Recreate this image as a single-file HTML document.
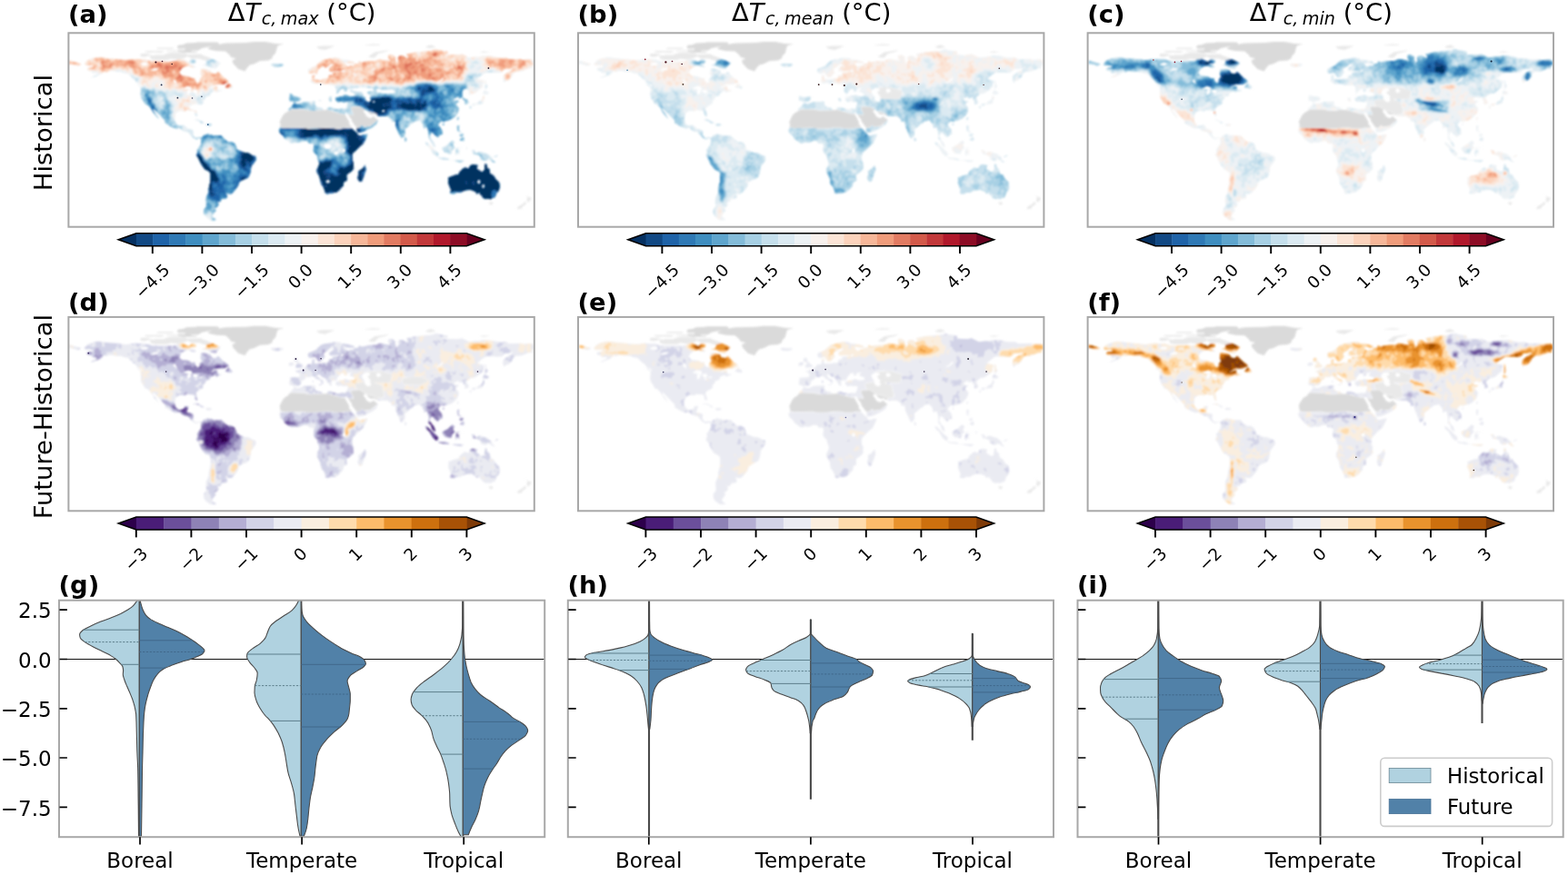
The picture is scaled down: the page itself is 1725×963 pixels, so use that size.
<!DOCTYPE html><html><head><meta charset="utf-8"><title>Figure</title><style>html,body{margin:0;padding:0;background:#fff}svg{display:block}text{font-family:'DejaVu Sans','Liberation Sans',sans-serif;fill:#000}</style></head><body>
<svg width="1725" height="963" viewBox="0 0 1725 963">
<rect width="1725" height="963" fill="#fff"/>
<defs><filter id="mb" x="-2%" y="-2%" width="104%" height="104%"><feGaussianBlur stdDeviation="0.9"/></filter><filter id="db" x="-2%" y="-2%" width="104%" height="104%"><feGaussianBlur stdDeviation="0.45"/></filter><clipPath id="mc"><rect width="512.2" height="213.2"/></clipPath></defs>
<g transform="translate(75.4 36.3)" clip-path="url(#mc)">
<g filter="url(#mb)"><g fill-rule="evenodd" transform="translate(.25 .25) scale(0.5)"><path fill="#dadada" d="M656 171l7 7l3 1l7-1l6 4l-3-5zM464 195l2 6l-1 5l2 2l7 1l39-1l11 2h22l13-2h18l8 2h16l9-2h12l-1-4l-4-3v-6l-10-17h-7l-31-9l-38 2l-15-3h-26l-14 8l-5 5zM615 179l3 6l4 4l1 5l10 14h7l5-6l4 4l15-2l16-13l-8-6v-3l-7 5l-6-1l-1-3l-2 2l-2-5l-6-8l3-4l-11-6h-18l-1 3l6 14l-1 1zM474 24l-20-1l-21-4h-26l-16 2l-44 1l-9 1l-7 2l-1-1l1-1l-4-3h-46l-1 1l-21 1l-9 4h-6l-5 2v5h16l1 1l-1 4h-16v3l11 2h29l4-1l-1-1l-12-1l-1-1l1-1h15l8-5l19-4l1 1l-8 3l5 3l14 3l21 1l9 8l3 5l9 2l1 1l-2 2l-5 1l1 7l12 13l15 5l3-6l7-8l9-2l14-7l18-1l8-4l2-6l6-6l4-15l2-2z"/><path fill="#e9e9e9" d="M924 372l3 6h4l2-3v-3zM1007 374l-4-3l-4 5l-9 5l-4 5l3 1l8-1l1-4l6-4zM1005 355l4 5v4l-2 3l4 6l8-10l-7-2zM157 49l3 3h9l8-3l2 2l1 5l4 2l8 1h24l5-1l2-2l16 2l15-3l8-4l8 5h18l10 4l16-3l-4-3l-17-6l1-1l-5-1l-28 1l-5-3h-14l-1-1h-17l-12 3l-2 2h-20l-1 1h-7l-8-4h-15zM905 42l9 1l14-2l-15-1l-8 1zM167 40v1l10 2l10-1l15 1l8-2v-1l-6-1h-35zM214 40l24 1l-1-3h-21zM705 37l-32 5l-14 10l7 2h7l8-9l16-4zM240 37h15v-3h-14zM193 34l1 1h34l3-2l-2-1h-32zM544 30l8 5l12 2l22-9h-28zM784 31l10 2l14-2l-10-5l-6 1zM686 25l-18-1l-20 3h34z"/><path fill="#edf2f5" d="M652 290l-5 8l-10 6l1 8l-2 3v6l4 6l5-1l9-25zM947 329l-7-7l-5-8l-8-5l-2-10l-5-3v-5l-3-4l-2 4v9l-4 5h-3l-11-7l3-7l-12-2l-6 4v3l-2 2h-3l-3-2l-5 1l-9 8l-1 4l-3 3h-5l-16 6l1 5l-1 7l6 15l-2 7l1 1l8 1l5-3h10l3-3l9-3h10l10 4l3 5l6-4l1 6h3l2 5l4 3l4 1l7-1l3 2l3-3l7-2l3-9l5-5l2-8zM914 333l2 5l-4 4l-3-2v-5l2-2zM901 323h3l2 2v5l-2 2h-3l-3-4zM839 279v1h6l19 4l7-4zM812 274l5 3l20 2l-1-2l-8-3l-2 1l-1-1l-5 1l-4-2zM945 269l-2-1l-8 4l1 1l5-1zM885 258l3 3l4 1l-4 2l2 2l13 3l4 6l-2 3l13 3l6-4l9 7h6l-6-4l-3-5l1-2l-3-1l-6-6l-17-5h-3l-6 4l-3-7zM867 252l-2 1l-9-1l-3 2l-2 8v5l2 4l2-8l2 1l2 4h2l-4-6l4-4h-6l-1-2l3-3zM875 250l-1 5l2 2l1-6zM784 240l3 6l6 5l8 14l7 6l4 1l1-8l-24-23zM844 236l-10 10l-12 6v3l5 8l7 1l3 2l5-1l1-6l7-7l-4-4l1-5l3-2zM871 233l-2-4h-2l-7 6l9 3zM740 228l-1 8l1 2h2l2-4zM868 221l-4 2h-4l1 4l2 1l4-2zM462 214l2 2v3l10 9v3l15 11h5l5-2l8 1l10-4h7l5 6l7-1l4 4l-2 13l2 4l7 7l1 7l3 7v6l-5 10v6l6 10l3 16l5 6l4 9v4l4 3l21-4l5-3l10-11l1-8l7-4l-1-12l11-8l5-6l-1-14l-2-3l-1-8l2-9l23-21l9-18v-3l-17 4l-4-2l-2-4l-11-9v-2h-13l-9 2h-16l-8-2l-53 2l-11-2l-39 1l-7-1l-2-2v3zM565 325l6-3l5 4l-3 4l-4 1l-4-3zM583 262l3-2h5l3 3v2l-3 3l-4 1l-4-3zM603 254l6 1v6l-2 2l-5-2zM561 247l6-4h6l5 4l1 3l-4 4l-5 2l-5-1l-4-4zM855 203l-1 3l1 9l9 3l-6-3l1-12zM827 200l-2-1l-3 2l2 2zM316 202l-6-3l-7 1l-2 3l9 1zM681 191l-17 14l-15 2l-4-4l-5 6h-6l1 9h8l25-11l8-6zM273 192l7-1l8 3l3 4h8l-15-8h-7zM857 184l-3 5l2 3l2-5zM883 160l-1 5l3 1l1-5zM555 150v-3l-7 1zM574 140l-4 3l3 6l4 2l2-3l-3-5l3-1l-2-2zM914 138l-3 1v4l-2 3l-7 4l-4 5h-9l-4 3h3l3 3l3-2l-2-1l1-1l13-1l6-2v-6l3-4zM486 134l1 2l-2 8l2 6l4-1l5 4l-3 6l-9 8v3l6-3h26l15 3l32-2h-3l-5-4l-7-1l-5-3l-2-3l1-7l-24 1l-12 5l-7-1l-3-2l2-2l9-1l4-4v-2l-5-3l-8-1l-8-6l-3-1zM911 135l2-1l8 1l4-4l-9-5l-3 1zM344 119l12 3l5-1l-2-6l-4-1l-3-4zM916 102v22h1l5-8l-3-3l-1-5l1-1zM445 69l1 2l6 3h11l9-3l-1-3l-4-1h-16zM0 60v9l6-2l15 5l7-4zM335 66l-20-9l-14 4l3 1l-2 5l-2 2l-9 2l13 1l9 5l11 1l4-6zM41 60l-6 9l5 2h13l1 1l-1 3l-9 1l-4 3l1 2l3 2l6 1l2 4h11l1 1l-3 3l-15 7l10-2l17-8l6-7l2 4l8-3l26 2l6 3l9 1l11 11l4 2l5 7l12 6v2l-2 1l-4-4l-8-2l10 6l1 23l9 15l6 2l6 6l9 15l9 10l-5-9l-8-10l1-5l26 27v6l15 9l9 3l8-1l7 6l12 3l8 10l5 4l7 2l1-3l3-1l5 3l-1 6l1 4l-10 15l2 5l-3 3v4l4 4l6 14l9 12l7 3l5 5v16l-1 1l1 1l-4 15v9l-5 10l-1 5l1 16l-6 8v8l4 7l11 8l12-1l-7-5l-2-4l9-12l-4-4l6-3l4-6l-4-5l8-1l2-6l12-2l1-5l-3-5l1-1l5 2l7-1l11-13l3-5l1-6l8-6l11-4l3-3l4-11l1-11l11-15l-1-8l-6-1l-10-6l-10-1l-14-6l-2-2v-4l-4-8l-7-4h-8l-7-5l-8-9l-1 1h-16l-5-3l-4 2l-2-4l-5 3l-5 1l-5 6l-6-2l-5 2l-3-1l-5-6l1-3l-1-8l-13-3l-1-3l-3-1l-4-4l-6 2l-7-2l-4-5l-2-9l2-11l3-3l6-3l13 1l1-3l17 2l2 2v5l2 4l4 1v-6l-2-6l-9-1l-4-2l-4-5l1-2l9-5h10l7 2l5-4l-1-4l6-7v-3l10-3v-4l3-3l9-3l2 4l6-3l6-1l3-3l-2 2l-8-1l-4-4l1-4l-7 1l-7 4l-2-1l8-6l7-3h16l10-5l-4-5l-6-3l-13-14l-6 5l-6-1l-4-2l-1-5l-14-4l-8 1l1 1l-1 10l3 6l-5 6v5l-2 3h-3l-5-5l-1-6h-7l-9-4l-12-1l-6-6l3-8l3-3l7-4l8-2l4 4l9 1l3-2l-6-4h-5l-3-2l2-2h8l4-2l-1-5l-9-1l-6 6l-14-8l-5 2h-5l-4 4l-7 1h-17l-1-1l-17 1l-1-1h-12l-11-4l-26-1l-8 2h-18l-53-6l-15 3zM284 135l-3 3l-7-1l8-3zM285 133l5-3l5 1l-1 2l-7 1zM271 125l10-1l4 5l-6 5l-6-4l1-2zM269 124l1 1l-1 5l-6 7l-2-2v-10zM250 122l12-6l7 2l3 5l-1 1h-10zM234 102l2 2l2 6l-1 3l-6-5l-2-4zM199 77l-5 5l-6 1l-9-1l1-2l6-3l5-1zM157 68l10-4l9 3l-5 4h-10zM1023 60l-6-2h-11l-8 2l-2-3l-27 1l-8-4l-13 1l-21-5h-18l-8 3l-6-1l-14 2l-16-8l-8 2l-24-1l-1-1l2-1l-1-5l-17-2l-9-3l-11 4l-35 3l-13 4h-4l-1 1l5 5l-3 3l-4-1l-5-4h-8l-4 4l1 8l-3 4l-3-1l2-2l-3-3v-8l-8-5l-6 1l-1 6l4 6l-1 1l-24-3l-6 3h-14l-14 2l-3 2h-2l-1-3h-4l-1 5h-6l-4 2l-2 3l-6-1l-1 3l-6-1l-5-7l2-1l17 2l2-1l-1-3l-13-4l-16-1l-1-1l1-1l-6-2h-10l-27 7l-12 11l-17 8l1 6l2 3h7l3-2h3l3 4l4-11l6-6l7-1l3 3l7-4l3-4h7l1 2l-10 7v5l2 2l20-1l1 1l-1 2l-15 1l1 5l-9 1v5l-2 2l-11 1l-4 3l-13-2l-3-3l2-3v-4l-6 2l1 8l-5 2l1 3l5 4l4-1l5 2l24-1l5 3l7 1l4 3l2 4l2 12l9-11h6l2 2l-2 1l2 3l6-2l-2-2l1-2l11-2l1 1l-6 5l12 7v3l-4 2h-9l-6-3h-4l-6 3h-6l-1 2l-6 1l-1 5l4 4l3 1l6-2l4 2l5-1l6 1l-3 11l-3 4l-9-1l-1 1h-10l-12-4h-5l-4 3v2l11 2l21 7l8 1l-1-2l1-1l1 1v-3l2-1l3 7l1-1l11 1l-6-16l2-2h18l11 6l1 2l24 7l3 3l1 4h21l10 7l-2 2l3 3l3-1l4 1v7l2 7l2 2l1 5l8 16l7-7l1-6l-1-7l15-13l3-1l3-4l8-1l4-2l8 10l1 7l-1 1l3 1l2-3h3l2 2v5l2 4v15l4 3l4 11l5 4h2l-3-10l-6-6l-4-8l2-7l2-3l1 2l4 1l2 4l6 4v2l6-6l5-2l-1-9l-8-10v-3l7-7l1 1l1-1l3 3l1-2l13-3l6-3l8-8l4-7l1-8l-7-9l8-6l-4-2l-5 1l-3-4l10-6l2 5l7-3l2 2v4l4 1v9l7-2l1-3l-3-6l-6-1l-4-4l-2-6l1-7l5-6h5l4 4l1 11l4-4h6l6-3l7-7l7-4v-7l3-5l-2-3l-13-3l-1-1l3-1l9-8l9-5l28 1l5-1l7-7h11l7-2l1 2l-15 9l-7 6v11l2 4l5-5h4l9-9v-4l7-6l14-1l13-6l11-1l-4-5l6-2zM688 173l2-4h4l2 2l-3 4zM668 152l2-4h2l3 3l-3 3zM677 123l8-1l2 3l24-1l7 3l1 3l-8 4h-19l-7-3l-5 1l-3-4zM621 124l9-4l24-1l1 1h10l5 2l2 3l-4 3h-6l-6 2l9 9l-2 4l3 5l-5 4l-5-1l-5-5l1-5l-4-2l1-2l-4-7l-18-2l-5-2zM825 98l-2 5l-9 6l-4 1l-3-1l7-3l9-9zM606 82l-2 3l-3 1l-4-1l7-5z"/><path fill="#f8f1ed" d="M315 251l-5-1l-6 4h-5l1 8l-1 1l-4-1v3l5 5l1 3h4l6-4l-2-3v-4l7-3l1-6zM794 248l1 6l8 1l-7-7zM232 177l-1 1l1 7l2 2l1-9zM914 138l-3 1v4l-5 5l5 3l4-7zM283 154l-4-3v-3l-3-2l-2 2l4 3l-4 2l-3-6l3-5l-4-2l1-3l-7 1l-5-6l-2 3l-3 1l1 2l4-2l2 2l-1 6l-3-3l-8 2l-4 4l-4-5l-7-2l-2 1l4 1l-1 7l4 4v5l-6 5l1 2l-1 10l2-1l2-4l4-2l1 2l-3 4l5-3l13 1l1-3l15 1l5 5l4 1l-2-6l-1 1l-7-1l-4-2l-4-5l2-3l-1-4l3-3l2 2v3l7-2l1-3l3 2zM261 152l1 4l-4 2l-1-1l2-4zM315 121l5 5v2l3-1l1 3l5-1l-1-4l1-1l-3-3l1-4h-4zM907 112l-1 1v8l-3 3h-2l-3 4l-2-2h-4l-2 3l-2-1l-2-4l3-1l1-2l-9-3l2 3l-1 5l1 8l8-1l3-3h3l7-7l6-4zM360 117l-1-2l-4-1l-3-4l-8 9l11 2zM916 103v8l3-4zM897 103l2 4l5-1l5 1l2 3l3-3l-2-3zM0 60v9l6-2l15 5l7-4zM35 68l5 3h13l1 1l-1 3l-9 1l-4 3l2 3l6 2l3-1l10 1l6 5l7-1l5-6l2 4l13-4h9l3-2l10 1l5 3l5-1l2 5h3l2 2l1-1l7 1l7 6l3-1l6 2l2 2l-3 4v5l2 2l-4 1l7 3l1 2l4-2l4 1l6 5h5l3-2l-1-6l3-5l5 4l-3 3l3 6l2-1l9 5h2v-2l4-2l4 3l-3 3l1 1l3-2l1-3h3l7 5l5-5l8 1l3 5l3-1l4 1v-3l2-1l1 4l2 1h8l2-5h7l1 1l-1 4l5 2l-1-1l1-2l-3-3l10-1l4 5l-3 2l2 4l-1 2l5-2l-3-2l6-6h5l4 3l1 3l2-4l5-2l1-2l-1-3l4-5h5l9-5h16l10-5l-4-5l-6-3l-13-14l-6 5l-6-1l-4-2l-1-5l-14-4l-8 1l1 1l-1 10l3 6l-5 6v5l-2 3h-3l-5-5l-1-6h-7l-9-4l-12-1l-6-6l3-8l3-3l7-4l8-2l4 4l9 1l-2-3l-7-3l-4-6l-8-3l-6-5l-5 2h-5l-4 4l-7 1h-17l-1-1l-17 1l-1-1h-12l-11-4l-26-1l-8 2h-18l-53-6l-15 3l-9 4zM250 122l12-6l7 2l3 5l-1 1h-10zM202 114l2 3l-3 3h-2l-1-3zM178 113l3-1l1 4l-2 1zM201 104l4 2l1 6l3 2l-2 3l-6-6l-1-5zM190 108v-2l3-3l4 2l-3 4zM234 102l2 2l2 6l-1 3l-6-5l-2-4zM199 77l-5 5l-6 1l-9-1l1-2l6-3l5-1zM157 68l10-4l9 3l-5 4h-10zM884 54l2 5l5 1l3-3h2l1-3l6 2l-1 3h3l3 3h4l2 2l-6 3l-1 2l3 2v3l6 1l-3 3h-4l-7 6l1 1l7 1l3-3l1 1l5-2l2-3l10-1l2-2l7 7h7l3 3h2l7-7h11l7-2l1 2l-2 2l-13 7l-6 5l-1 6l5 6l6-1l6-6l2-7l8-6h8l4-3l1 1l6-1l8-4h3l6-4l-2-2l6-2v-4l-4-4l1-3l-3-1h-11l-8 2l-2-3l-27 1l-8-4l-13 1l-10-3l-3 1l-8-3h-7l-2 2l-4-2h-5l-8 3l-6-1zM884 65l-2-4l-5-2l-1-8l-11-5l-8 2l-24-1l-1-1l2-1l-1-5l-3-1l-4 1l-19-5l-11 4l-35 3l-13 4h-4l-1 1l5 5l-3 3l-4-1l-5-4h-8l-4 4l1 8l-3 4l-3-1l2-2l-3-3v-8l-8-5l-6 1l-1 6l4 6l-1 1l-24-3l-6 3h-14l-14 2l-3 2h-2l-1-3h-4l-1 5h-6l-4 2l-2 3l-6-1l-1 3l-6-1l-5-7l2-1l17 2l2-1l-1-3l-6-2h-8l-2 2h-3l-5-2l-2-3h-3l-1-1l1-1l-2-1l-14-1l-27 7l-12 12h-3l-6 3l-2 5l-3-1l-2 6l2 3h7l3-2h3l3 4l4-11l6-6l7-1l3 3l7-4l3-4h7l1 2l-10 7v5l2 2l20-1l1 2l-16 2l1 5l-9 1v5l-2 2l-11 1l-4 3l-13-2l-3-3l2-3v-4l-6 2l1 8l-3 1v4h3l7 4l6-1l13 2l8-1l4 2l4-1l6 3l10-3l5 2l5-3l10 3l3-3h4l4 2h13l2 2l7-1l3-2l3 3l7-2l4 3h7l2-4h3l8 5h3l1-4l3 1l6-1l4 3l4-2h6l3 2l9-1l8 2l5-3h4l1-3h3l2 2l4-3l6 2l11-6l10 1l4-2l2 1l14-1l5 3l1-1l6 1l5-2l9-9l2 1l-2 5l-7 4l2 2h6l6-4l6 1l3 2l3-3l6 1l6-2l5 3l4-2l3 1l3-3l2-5l-1-4l4-2l2-4l6-6l-5-8v-7l2-2l1 2l3 1zM606 82l-2 3l-3 1l-4-1l7-5z"/><path fill="#fbe4d6" d="M307 267l-3-1l-3 3v3h4l2-2zM316 253l-5-3l-9 7l1 2l4-2l2 3h5l2-2zM241 143l-3 1v4l4-3zM911 139v4l4-2l-1-2zM248 145l2 7l-6 1l-2 13l9-2l1 1l-1 2l3 3l-1 2h4l1-3h6l10 2l2-1l4 4h2l-2-4l-2 1l-10-3l-4-5l1-1l-5 1l-6-3l-2 1l-2-1l2-2l-1-3l5-4h6l2 2v3l2-4l-1-8l1-4l-4-1l1 5l-2 2h-6l-3-2zM883 127l3 5l-1 1h6v-2l-3-1l-4-4zM317 120v2l3 1l2 4h5l-2-2l2-2l-1-2l1-4h-4zM359 115l-4-1l-3-4l-8 9l9 2l6-4zM194 110l-1 4l-3 1v3l6 1v-2l-3-3l3-4zM911 80h-2l-2 4h2zM610 66l9 1l6-1l1 1l2-1v-2l-11-2l-3 1l-2 3zM0 60v9l6-2l15 5l7-4zM887 53l-1 1l1 3l4 1l1-1l-1-2l2-2zM35 68l5 3h13l1 1l-1 3l-9 1l-4 3l1 1l2-1l4 4l5-2l11 2l2-2l2 2l-1 3l2 2l3-2l3 2l5-6l1 3l3 1l9-5l12-1l4-2l3 1l3-1l5 3h6l3 2v3l4-2l1-4l3-2l5 7l1 5l3 2h4l6 4h4l3 3l-1 2l2 3l-5 3l3 2l-1 5l2 1l3-2l-1-2l4-3l2 2v3l7 6h2l-2-4l-4-2l1-5l-1-4l2-1l3 3l2-4l5-2l5-5l1 1l-1 2l5-2l7 6l8 1l3 8l-2 1v4l-2 3l5 2l3-1l5 5h2l4-5l10 3l5-1l1 4l2-3l3-1l4 6l4-2h4l1-2h7l1 4l3 1l1-1l-3-3l5-2l5 1l4 5l-2 1l2 3l-1 2l3-5v-4l3-4l2 1l4-1l2 2v3l3 1l6-3l-1-4l3-1l1-3l4-4l6 2l6-3h16l10-5l-4-5l-6-3l-13-14l-6 5l-9-2l-2-6l1 2l-1 1h-6l-2-4l-14-2l1 1l-1 10l2-3l3 2l-4 3l2 4l-5 6v5l-2 3h-3l-5-5l-1-6h-7l-9-4l-12-1l-6-6l3-8l3-3l7-4l8-2l4 4l7 1l-4-4h-4l-4-7h-3l-3-3l-4-1l-3-5l1 2l-2 3l-3-2v-2l-6 1l-4 4l-7 1h-17l-1-1l-17 1l-1-1h-12l-8-3v2l-3 2l-1-5l-6 1l-19-2l-8 2h-18l-23-3l-5 1l-6-2l-19-2l-11 2l-2 2l-1 5l-5-4l-5 2zM250 122l12-6l7 2l3 5l-1 1h-10zM236 114l3-1l1 4l-1 1zM232 113l4 1l-2 5l-3-1zM234 102l2 2l2 6l-1 3l-6-5l-2-4zM168 102l4-1l1 2l-3 1zM199 77l-5 5l-6 1l-9-1l1-2l6-3l5-1zM64 68l3-1l1 4l-2 1zM157 68l3-2h3l1-2h4l8 3l-7 5l-8-1zM910 59l2-1l4 5v3l-4 2v4h3l2-2l4 2l-4 4v4l3-3h9l4-2l3 2h3l2 5l7-1l4 5l7-7h11l7-2l1 2l-2 2l-13 7l-6 5l2 3l-1 4l4 4l6-1l4-4l2-10l3-3l13-2l5-4l6 1l1-5l2 2l6-1v-3l2-2h3l1 2l2-3l5-1v-2l-6-5l1-2l-1-3h-11l-8 2l-2-3l-27 1l-8-4l-4 1l-13-1l-1 1l-2-2l-7 1l-3-3l-6 1l-5-1l-4 5zM882 65l-3-4l-3 1l-5-1v-4l3-1l-2-3l4-2l-11-5l-4 2l-27-1v2l-5 3l-1-2l2-4l4-1l-1-5l-3-1l-4 2l-5-3h-5l-9-3l-11 4l-21 2l-2 4l1 4l-1 1l-7-4l1-4h-6l-13 4h-4l-1 1l5 5l-3 3l-4-1l-5-4h-8l-4 4l1 8l-3 4l-3-1l2-2l-3-3v-8l-8-5l-6 1l-1 6l4 6l-1 1l-24-3l-6 3h-14l-14 2l-3 2h-2l-2-3h-3l-1 5h-6l-4 2l-2 3l-6-1l-1 3l-6-1l-5-7l1-1l-2 2l-2-1l-1-3l-3-3l-3 1l-1-4l-11-3l-6 3l-2-2l-5 2l-9 1l-7 3l-1 2h-2l-7 6l-1 4l-4 2l-1 5l-3-2l1-4l-4 3l1 3l-6 3l-1 4l1 2h7l3-2h3l3 4l4-11l6-6l7-1l3 3l7-4l3-4h7l1 2l-10 7v5l2 2l20-1l1 2l-16 2l1 5l-9 1v5l-2 2l-11 1l-4 3l-13-2l-3-3l2-3v-4l-6 2l1 8l-2 2l9 6l9-1l10 3l6-1l6 1l4-2l3 2l1-1l7 1l5-4l2 3l4 1l7-4l2 1l1-3l3-1l3 4h4l4 2l9 1l5-1l2 2h7l3-2h5l11 3l4-1l8-6l2 4l2-1l2 2v2l6-5l1 3h6l3 2l10-4l8 4h7l6 2l6-3l4-4l5 2l4-2l9 1l8-6l9 2l5-2l18 1l2 2l8 1l5-2l9-9l2 1l-2 5l-7 4l3 1l7-1l4-3l8 1l5-2l3 1l12-1l2 2l6-1l4-6l-4-5l4-3h4v-3l-3 2l-1-3l2-2l5-1l2-3l-4-7l1-9l3-1zM607 101l3-1l1 2l-2 2zM641 99l4-1l2 3l-3 2l-3-2zM626 89l3-2l5 6l-2 2h-3zM608 83l-3 3l-8-1l7-5zM628 80l3-1l1 2l-3 1zM672 77l1 2l-5 4l-1-1l1-3zM680 65l3 1v5l-2 2l-2-2zM841 60l4-6l5 4l-7 3z"/><path fill="#fcd3bc" d="M313 251h-2l-4 4l4 5l4-2v-5zM254 163v5l3 4v-2l3-1l-2-5zM250 154l-2 1l-3 7l3-1l-1-2l3-3zM257 148l6 3l2-1l-1-3zM327 117h-4l1 5l3-2zM359 115l-4-1l-3-4l-8 9l8 2zM163 106l1 3l2-2h5l-3-2zM636 94l-5 3l-4 7h2l4 6h8l2-2v-3l-9-2l-2-2l1-2l6 1l-3-3l1-2zM965 87l-4 4l-3 1l3 3l-1 5l2 2h5l4-3l1-8l-4-1zM0 60v9l6-2l7 3l6-1l4 2l4-3l-19-6l-2 3l-2-4zM44 59l-1 1l1 7l-5 3l1 1h13l1 3l-11 3l6 3l12 2l-2-5l4-2l1-3l-5-5l-3-1l1-2l-3-2v4l-2 1l-1-3h-2zM915 59l3 6v3l6 3l-1 4l4 1l4-2l5 2l4-1l4 5h4l4 4h2l5-5h5l1-2l2 2l10-2l1 2l-7 5l2 4l2-3l9-2v-6l-1-1l-4 1l-2-2l1-2l7-1l2 2l-1 3l3 4h3l2-2l5 1l-1-3l2-3l8-1v-5l-2-2l1-2l5 1l3 4l5-1l-1-3l-3-2l1-3l-1-1l-4 1l-1-1h-12l-1 1l-2-3l-10 2l-17-1l-8-4l-3 2l-1-1h-12l-6 2l-4-1l-4 1l-11-4l-2 4zM984 62l2-1l1 3l-2 1zM54 57l7 9h2l3-3l2 1l2 9l-5 4v2l3 1l7 7l4-5l1 3l2 1l4-1l6-6h6l1-2l-3-2l2-2h3l3 4h3l5-3l6 5h4l4-2l1 4l5-1v-2l-2-1l1-3l9 5l2 9l2 2l7 1l4 4h11l3 4h2l3-3l2 2v3l7-2l5-5h8l3 2l5-2l3 3l-3 1l-1 2l16 1l1 5l-6 2l6 6l-1 6h4v-3l2-2l4 1l-3-4l1-2l7 1l-5-7l3-2l4 2l2 7l4 3v3l-3 3l-3-2v2l3 1l4-1l3 2l3-3l3 2l10-5l7 2l3 5l-1 1l-13-1l1 1h10l1 2h2l-1-1l4-3l7 3l5-1l3-4h2l-1-3l3-3l1 5l4 4v3l2-2h3v-6l-3-4l-2 1l-4-1l-1-4l1-6l2 1v3l4 4l4-2l2-4l5 3l4-1l1 4l3 3l6-3h16l10-5l-4-5l-6-3l-13-14l-6 5l-13-4l-6 1l-5-5h-2l-1 2l3 3l1 4l-4 1v5l-5 1l-1 2l2 3l-4 2l-2 5h-3l-5-5v-4l-2-2h-6l-9-4l-12-1l-6-6l3-8l3-3l7-4l7-1l1-3l-5-1l-2-5l-15-2l-2-3l-4 4l-7 1h-17l-1-1l-17 1l-1-1h-12l-6-2l-3 5l4 2l-1 1l1 2l-4 5l-7-1l-3 4l-3-4l3-3h2h-3l-4-3l3-4l3-1l-3-5l-11-1l-2 2l-4-1l-25 1l-16-2l-6 3l-2-2h-4l-6-3l-3 2l-2-2l-11-2l-2 2l-6-1zM295 103l1-5l5 2l-2 3l-2 1zM199 77l-5 5l-6 1l-9-1l1-2l6-3l5-1zM851 48l-10-1l-1 1l1 2l-2 2l-4-1l-2 3l3 1l3-2l2 3l4-3l2-4h4zM778 42l-3 1l1 4l3-3zM876 78l-3-5l2-8l-6-4v-4l-2-3l-3 1l-1 5l-4 1l-2-2v-4l-5-1l2 4l-5 3l3 4l-1 2h-2l-4-4l-8 1l-2-5l-6-1l-2-3l-8 3l-2-2v-7l4-1l4 4l5-8h4l-1-4h-3l-3 3l-6-5l-8-1l-8 2l-2-2l1-1l-3 1l-3 4l-2-2h-7l-4 4l-2 5l-5 1l-3 3l-6 2l-2 3l-2-1v-2l2-1v-3l-3-3v-2l-2-2h-4l-14 3l-1 1l5 5l-3 3l-4-1l-5-4h-8l-4 4l1 8l-3 4l-3-1l2-2l-3-3v-8l-7-4v2l4 3l-4 1l-3-3l1-3h-5l-1 6l4 6l-1 1l-6-1l-3 2l-2-3l-5 1l-1-2h-7l1 1l-1 1l-3-1l-3 2h-14l-14 2l-3 2l-5-2l-3 4h-6l-5 6l-7-2l-1 3l-6-1l-2-3l-3 6l-4-2l2-4l-8-5l-4-6h-3l-3 5l-2-2l2-2l-2-4l-3 2l-9-2l-15 4v3l-2 2h-3l-6 4l-1 3l1 7l-3 2l1 3l-2 2l-2-2l-4 1l-4-2l-1 3l-3 1v2h7l3-2h3l3 4l4-11l6-6l7-1l3 3l7-4l3-4h7l1 2l-10 7v5l2 2l20-1l1 2l-16 2l1 5l-9 1v5l-2 2l-11 1l-4 3l-13-2l-3-3l2-3v-4l-6 2l1 9l8 6h3l3-2l4 2h4l1-4l4-4h2l3 3l-6 5l2 3l8-1l2-5l6 4h6l1-4l3 2l4-3h3l5 5l1-1l-3-2l1-4l11-7l2 1v3l5 2l-1 5l4 1l2-6l-3-2l6-6l-3-3v-3l2-2h3l5 3l2-3l3-1l5 6l2 1l3-1l2 4h3l2 2l-1 2l-5-1l-4 5l1 6l-2 3l9-4l3 3l9 1l10-5l3-4l1 4l3 1l2 3h2l3-4l5 1l3-3l2 4l-1 3l10-5h5l8 6h5l4 2l7-4l2-3l3 1l14-1l1 1l4-3l3-5l7 3l2-1l4 1l5-1l6 2l10-1l4 2l8 1l13-10l1 1l-2 5l-5 3h8l6-4l7 1v-6l3-2l2 2l-1 2l1 3l11 1l3-1l1-3l3-2l1 3l-2 3h4l1-4l-2-6l4-4l3-9l2-1l2 3zM687 92l2 3l-3 2l-1-3zM733 90l5 5l-3 1l-3-3zM614 80l5 1l3 5l-2 4v4l-4 2l-3-1l4-4l-1-7l-3-3zM597 85l7-5l5 1l2 2l-1 3h-3l-2 2l-3-3l-1 1zM675 76l1 2l-7 7l2 3l-1 2l-5 1l-2-3h-3l-2-2v-3l6-1v-3l5-4zM646 79l-1 4l-1-1l-4 1l-1-2l-3 1l-3-1l-2 2h-3l-2-2l4-4l12-2zM827 74l4 2l6-1l1 2l-5 5h-3l-4-5zM841 73l3-2l2 4l-4 1zM806 71l1 3l-2 2l-2-3zM659 70l2 2v3l-3 2l-1-5zM830 70l3-1l2 2l-4 1zM669 69l-1 4l-2 2h-3l-1-1l2-5l2-2zM639 65l2 2l-1 3l-3-1zM680 62l3 2l2 4l-1 8l-2 2l-3-2v-2h-3l-2-2v-4zM827 64l3-3l4 1l-2 4h-3zM813 52l2 2l-1 3l-3-1zM758 48l4-1l1 4l-3 2l-2-2z"/><path fill="#f7b799" d="M311 252l-2 4l2 3h2l1-7zM296 118l2 3l4 1v-3l-2-3zM358 115l-3-1l-3-4l-8 9l7 2zM315 103l-2 1v3l3-1zM300 103l-1 5l4 1l1-4l-1-2zM579 102l-2 3l6 3v-3zM545 102l1 6l6-4zM541 92l-6 3l5 2zM964 91l-2 9l7-1l1-6l-2-2zM609 88l1 5l5-3zM302 87l-1 2l2 2v7l1-8zM643 85l2 3h3l5 4h2l-5-5zM312 90v3l2 3h3l2 2v6l2 2l3-2l4 2l-1 3l-5 5l4-2h16l9-4l-2-3l-4-2l1-2l-3-2v2l-3 1l-9-5l3-6l-5-6l-6 5l-1-1zM320 99l3-3l3 2l-1 2zM980 80l-2-1l-4 4l2 1zM623 72l-4-1l-1 3h-5l-2 3l6 2l-1-2l2-2l4 1zM62 72l-4-2l-1 2h-3l-1 3l-9 1l6 1l1 2l3 1l4-2v-2zM48 67h-2l-3 4h-2h6zM841 66h-1v4l-3 2l1 2l4-4zM672 66l-5-4l-3 2l-3-2l-4 2l-1-1l-10 1l-1 5l3 12l2 2l1-1l-1-6l5-2l3-7l4 4l1-6l3-1l4 3l2 4zM0 61v8l4-2l6 2l9-2v-2l-10-2l-1 3l-2 1zM988 77l4 2l4-2l3-4l5-1l2-4l-1-4l2-2l3 1l4-1l1-2l-2 1h-7l-3-2l-5 1l-4-3l-6 2l2 6l-2 4zM918 59v2l3 2v4l4 3v2l3 3l3-3l-2-3l4-2l2 7l4-1l9 1l1 1l-1 4l4 3l3-3h5l4-4l4 3h2l2-3l4 3l-1-5l2-2l4 1l4-2l-1-2l-1 1l-4-1l3-6v-4h-13l-3-2l-6 1l-13-1l-3 11l-3-2v-2h-4l-2-5l-4 2l-3-3l-5 1l-3-2zM575 56l-5 2l-10 1l-1 1l4-1l2 4l-2 2h-5l-6 4h-3l-2 3l1 5l2 2l7-6h5l3 3l7-4l3-4l5-2l3 4l-7 5l-3 7l2 2l20-1l1 1l-1 2l-15 1l2 5l-1 1l-2-1l-7 1v5l-2 2l1 2l-2 2l1 2l-4 2l3 2l2-1l-1-2l3-3v-3l4-3l6-1l7 5v3h2l2-2l4 1v-5l3-4l2 3l4-1l-1-2l-4-1l-3-3l4-2l-2-3l-4-1l5-4l7-2l-4-2l-4 1l-2-2l2-6l-4-2l-3 1l-4-3l-5-1l-4-4v-2zM592 87l1 2l-4 6l-1-6zM580 75l1 3l-2 2l-2-3zM575 60l2 4l-4 4h-4l-1-1l2-2v-3l2-2zM57 55v3l4 3l1 3l4-5l3 1l1 9l2 2l-3 7l6 7l4-3l1 2l1-1l-1-3l2-2l3 1l9-1l1-4l5-3l6 3l7-2l3 1l3-1l2 2l-1 3l4-2h4v-3l2-1l4 4l8 4v4l4 3l-1 3l2 1l3-1l2-4l4 1l2 2l-1 2h-2l2 4l17-1l2 2h9l1-5l7 3l1-1l-1-6l3-2l2 2v4l2 1l2-4l3 3v3l3 2l1 3l7 2l3-3l5 2v2l-2 1v3l2-2l1 1l-1 9l1-4l7-7l4 2l2 6l4-2l4 1l3 3v2l-5 5l1 1l2-2h4l3 2l8-4l7 2l3 6l2-3l-1-1l3-3h2l3 3l-1 3l2-1l3 1l3-6l5-4v-3l-2-2l1-2l-4 1l-5 5l-8-13h-5l-9-4l-12-1l-6-6l3-8l3-3l7-4l7-1l-4-1l-3-3v-3l-2 4h-3l-2-2l1-3l-9-1l-2-2l-10 2h-9l-2 2l-2-2h-3l-2 4l-9-5l-4 1l-11-1l-1 5l-3 1l-3-3l1-2l-5-3l-2 5h2l3 5l-6 8l2 9l-5 1l-4-7l1-4h-2l-1 2h-3l-2-3l-7-4l1-3l-4-3l1-4l-1 1l-9-5l-13 1l-3 3l-1-3l-11-1l-3 2l-1-2l-4-1l-4 5l-7 1l-2-4l-4-2h-3l-3 3l-3-2l-1-3l-8-1l-2 3l-5-2zM230 82l5 3l-3 5l-4-4zM147 79l3-1l2 2h3l1 2l-4 3zM199 77l-5 5l-6 1l-9-1l1-2l6-3l5-1zM872 65l-3-1l-3 6h-5l-1-2l4-2l-2-4l-4 1l-3-3l-3 2l3 5l-3 7l-2-1v-4l-3-1l-2 2l2 2l-1 5l-6 1l-6 6h-4l-6-3l-1-9l3-3h2v-2l-3-1l-3 1l-3-4l1-3h-3l-1-2l-5 2l-4-3l-6-1l2-3l5 1l4-3l4 1l1-5l8-3l-3-4l-9 1l-4-2l-2 1l-5-1l-3 4h-3l-1-3h-3l-5 6h2l3 3l-1 4h-4l-1 3h-5l-4-4v2l2 1l-1 3l-4 1l-2-4l-3 1l1 4l-2 2l-4-2v-3l-2-3h-4l-2-2v-5l-3-2l-10 2l5 5l-3 3l-4-1l-5-4h-8l-4 4l1 14l-3 3l-4-4l1-5l-1-10l-4 5l-5-2l-5-5v-2l-1 6l2 4l1-2l2 1v5l-7 1l2 3l-1 2l1 5l-1 1l-6-1v-6l3-4l-9-1l-1 4l3 3l-1 6l-3 2l-2-1l-4 4l-5-1l-6 5l2 5l-3 3l-5 1l-4-3l1 3l-4 3v3l2 2l-2 4h-2l-2-4l-6 1l-1 3l3 3l1-4l6 5l6 2l4-3h6l3-2l4-6l3 6l4 3l2-3h4l3-3l-3-2l-1 3l-2 1l-3-3v-2l-6-2l-2-3l4-5h9l1-2l2 1l3 12l2 2l1-1l4 1l-1 2l-4 1l1 2h4l3-3l3 1l3-1l4 1l2 4l5 1l2-3l2 3h6l4-4l3-1l7 1l2-3l2 1l3-1l3 3l2-3l-1-3l1-8h2l2 5l6 4l2-3l-3-1l3-3l6 6l3-1l6 4l11-1l11 3l3-3l3 1l7-7l2 1l-2 5l-2 1h5l1-2h3l1-3l-5-3l1-4h2l4 5h3l1 2l1-4h-3l-2-2l2-2h4l3-2h6l2 3l4 2v5l2 2l6-6l1-4l4-3l2-9l4-2l-2-4zM731 102l2 3l-1 2l-3-2zM756 98l2-1l1 3l-2 1zM700 93l2-2l3 3l-3 2zM732 89h3l4 5v2l-5 6l-2-1v-4l-4-1v-2zM725 87l2-1l3 3v2l-2 1zM714 86h2l3 3l-1 5l-2 2h-4l-2-2l1-2h2l-1-4zM846 81l3-2l3 6l3-1l2 4l-2 2l-4-1l-1-3l-4-3zM715 79l2 2v3l-2 2l-3-2v-3zM722 78l3-2l2 4l-2 1zM817 73l2-1l3 4l-2 2l-2-1zM792 73l1-1l3 2l4-1l2 4l-2 2l-6-3zM802 71l7-2l5 5v2l-2 1l-4-2l-3 3l-3-3zM800 64l2 1l-1 4l-3-1zM714 58l2 1l-1 3l2 2l-2 3l-4-3z"/><path fill="#f09c7b" d="M311 253l-1 3l1 2h2l1-4zM357 115l-4-4h-2l-7 8l7 1zM330 104l4 8h8l8-4l-6-4h-5l-2-3h-3zM321 102v2l6-1l-2-2zM701 100l10 5l3-1v-3l-4-4l-5-1zM598 95l-3 2l-3-3l-4 3v2l5 1zM578 92h-3l-3 2l5 1zM316 93l4 2l2-1l-3-3h-2zM724 89h-1l1 6l-2 2l-4-1l-2 2l1 1l4-2l2 1v4l-5 2l3 4h3l6-9l-4 1l-2-2v-3l2-2zM583 87v4l2 2l1-6zM824 83v2l6 1v5l7-1l2-2v-3l-6 1zM157 84l3 4v2l-2 1l1 2h3l2-4h3v-2l-4-1l-2-3zM155 76l1 3l3 1v-2zM694 74l-12 9l-2 3l-3-1l1-4l-4 2l-1 2l2 3l-5 6l-2-1l-3 3l-4 1v2l9 1l-2 5l-3-1l-4 1l1 4l2-3l9 1l3-3l2-4v-7l3-4l4-1l2-3l3 1l-1 3l2-1l-1-2l7-5v-3zM869 68l-3 4l-6-1l-3-2l-2 5l-3 3l-3-3l-2 4l3-1l4 6l4-3l6 3l-1 2l-4 1v4l-3 1l2 3l-2 4l4-3l1-6l4-2l4-6l-1-4l3-1zM575 84l25-1l3-4l-2 1l-5-4l-2 2h-3l-3 4l-2-5l4-5h2l1 2h3v-3h-3l-2-3h-5v6l-2 1v4l-4 4l-4-2zM818 68l2 3h3l1-2l-5-2zM559 67l1 6h2l2 3l5-2l-3-2l-2-5zM653 64h-5l-2 2l2 8h2v-3l2-2l2 3l1-3l-2-1l1-3zM934 62h-3l-2 2l-6-1l-1 3l5 2l2-2l6-1zM176 76h2l3 4l7-3l1-2l1 2l8-1l1 1l-4 4l4 2l3-4l2 2v6l2 5l4 5l3 1l2-1l-1-1l1-2l11 4l5-1l1-2l-2-4l-3-2v-6l3-2h5l2 8l3-4l2 1l-2 3l1 2l-1 3l-5 4v4l5 3l-3 3l4-1l9 1l1 1l-1 8l4 2l7-3l6 2l1-5h2l2 4l5-2l5 3h3l4-4l-1-5l-3 4h-4l-2-2l1-3l-8 4l-3-2h-5l-3-3l2-3l6 2l1-3l4 1l1-1l-1-3l-10-4l-2 3l1 2l-1 4l-6-1l-3 4l-2-1v-2l4-3v-3l-2-2l3-2l-7-1l-6-6v-2l6-9l7-4h3l-11-4l-3 1l-1-4l-7-5l-14 2l-3 4l-5-1l-3 3l-8-4h-3l-1-2l2-1l-4 1l-7-1l2 3l-2 6l-5-2h-5l1 3l-2 2h-3zM222 88l-4 3l-2-1l4-3zM209 81l2-1l2 3l-2 1zM223 68l3-3l4 2l-2 4zM1001 59l-6 1l4 3l-2 3l-5-2l1 6l-3 2l1 3l4 1l2-4h2l5-4v-3zM801 60l3 1l3 4h3l1-2l1 1l2-2l-1-1l-3 3l-3-5zM566 59v6h1l2-3zM149 74l-5-3l2-4v-4l-7-4l-8 1l-8 4l2 3l-3 2h-3l-2-2l-3 2l5 1l5 3l4-4h3l4 5l1-1l3 3h4l1 2zM115 59h-2l-3 4l-1-1l-3 3l1 7h2l-2-4l4-6l4 2l2-1zM70 63l1 4l3 1l1 7l-1 3l-2-2l-2 1l4 4l7-5l3 1l9-1l1-3l4-3v-7l-4 4h-2l-3-8h-4l-2 2h-4l-4-2zM79 65h2l2 3l-2 3l-2-1l-1-3zM87 61l3 3v3l-5 8l-1-1l1-4l-1-7zM967 58l2 3l-2 4l4 3v2l4 1l-1-6l5-1l-2-4l1-2zM949 58v2l-2 1l-2 11l9 2l4 3v-2l3-3l-4-4l1-3l4-4l-3-2zM949 60l2 1l-1 4l-2-2zM796 51h-2l1 3l-2 2h-3l-2 2l-8-1l-1 6l3 1l4 5l1-3l-2-4l2-1l7 8l1-2l-4-6l3-3h3l2-2zM700 77l2 3l8 1l3-3h3l3 3l-1 1l1 4h2l3-3l-4-4v-2l3-3h2l5 5l3 1l-3 3v3l3-2h4l7 3l2 3l-2 2l-2-1l-2 1v5l-6 6l3 3h2l4-5l4 3l4-3l3 2l1-1l-1-7l3-3l5-2l3 2l2 5l5-5h2l5 6l5 1l2 3l4-1l4 2l5-1l9 3l2-3l6-1l2 1l5-5l2 1l-1 2l2-1l-1-9l-5-5l1-5l-4-3l-3 1l-6-1l-1 3l2 2l-3 3l6 1l7-1l1 1v3l-4 2l1 6l-3 2l-3-2l1-6l-5 6l-2-2l-5 1l-1-1l2-5l3 2l2-1v-2l-2-3h-4l-3-2l2-4l-2-2h-3l-4-5l-5 1l-3-6l-7-1l-1-4l2-2h-2l-3-4l-1 5l-6 1l-2-2v-5l-3-1l-3 3l-3-6l-8 3l1 4l-7 2l-1 2l1 3l-3 1l-1-7l4-2l3-4l-3-2h-3l-1-2h-7l-4 5l6 11l-3 2l-4 6h-2l-2-3l-5-2l-4 1l-3-4h-2v6h3l3 4l-1 1l-5-1zM787 83l4 2v2l-3 3l-3-4zM789 77l3 4l-2 2l-3-3zM771 76l3 3l-1 4l2 3l-3 3l-4-2l3-4l-1-3zM766 72l3-5l4 1l-4 5zM746 60l4 1l-2 5l-2-1l-1-3zM798 48l6 4l1-1l3 1l2-1l2-4l5-2l-11-4l-4 3h-4z"/><path fill="#e27b62" d="M356 115l-3-3h-3l-6 7l6 1zM258 114l9-2l-7-1zM348 108l-6-3l-6 4v3h6zM705 99l6 5l2-1l-1-2l-3-1l-2 1zM797 101l9 2l-2-3v-3l-4 1zM672 96l-1 2l4 3l-1 3l3-6l-2-2zM243 88v4l-6 8v2h4l3-4l2 5l-3 2l3 2l4-3v-3l3-1h-4l-2-2l4-4h-2zM798 87l-2 3l-4-1l-1 1l1 7l-2 2h3v-2l6-4l-2-4zM762 81h-2l2 4l-3 1l-2 4h2l1-2l2 1l4-1l-1-4zM597 79l-6 1v3l7-2zM695 79l-3-2l-5 5l1 1l4-1zM785 77l-3 3l-2-5l-5 3l1 8l5-1l4-5zM712 72l1 4l4 2l2-1l-1-5zM249 72l-2 2l-5 1l-1 5l2 2h2l5-6zM858 71l-3 6l2 2h4l6 3l-2-7zM761 73l-2-2l-4 5l-5-1l-1 2l8 1l4-3zM187 72l-3-1l-2 5h2zM95 69h-4v3l-2 2l3 1v-3zM781 69l-2-1l-4 1l-3 3v2l3-2h5zM238 69l-4-2l-5 6h-3l-3-2l-5 1l-3-2h-3l1 3l-4 2l7 9l-6 3l-4-6v8l2 1l2-3l3 4l2-4h3l4-4l-2-4l1-3l7 3l2-2l9-3zM1003 66l-2-1l-4 5l2-2h3zM755 65h-3l-4 3l-7-1l-3 2h-4l6 2v2l-4 2l8 8l3 6l4 2l-2 2v3l-4 2l1 4l6-3l-1-4l2-3v-4l-3-5l-3-1l-2-3l3-6l8-3zM761 63v3l5 2l3-3h3v-1l-8 1zM194 63l1 8l-4 3l1 2h2l1-3l3-1l6 6l2-4l-2-6l-6-2l-1-3zM131 63l1 3h6l2 4l1-3l3-2l-2-3l-7 1l-2-2zM75 61l-2 4l3 2l-1 6l3 3l1-3l-3-7l1-4zM728 50l-3 4l5 5l1-9zM807 42l-6 4l1 4l2 1l4-1l3-5z"/><path fill="#d35a4a" d="M350 114l-1-1l-4 5l5 1zM338 112h4l5-3l-6-2l-3 3zM244 76l-1 3l3 2l2-4zM860 73l-3 1v3l3-1zM215 73v3l3 1l1-3zM196 69l5 3v-3l-2-1zM753 66l-6 4l-5-1l-1 1l1 4l2 1l-1-3l2-2l3 2l3-3h3zM808 45l-2-1l-4 4l4 1z"/><path fill="#dbeaf2" d="M652 290l-5 8l-10 6l1 8l-2 3v6l4 6l5-1l9-25zM947 329l-7-7l-5-8l-8-5l-2-10l-5-3v-5l-3-4l-2 4v9l-4 5h-3l-11-7l3-7l-12-2l-6 4v3l-2 2h-3l-3-2l-5 1l-9 8l-1 4l-3 3h-5l-16 6l1 5l-1 7l6 15l-2 7l1 1l8 1l5-3h10l3-3l9-3h10l10 4l3 5l6-4l1 6h3l2 5l4 3l4 1l7-1l3 2l3-3l7-2l3-9l5-5l2-8zM914 333l2 5l-4 4l-3-2v-5l2-2zM901 323h3l2 2v5l-2 2h-3l-3-4zM847 281l17 3l6-4l-16-1zM812 274l5 3l20 2l-1-2l-8-3l-2 1l-1-1l-5 1l-4-2zM944 268l-9 4l1 1l5-1l3-2zM885 258l7 4l-4 2l2 2l13 3l4 6l-2 3l13 3l6-4l9 7h6l-6-4l-3-5l1-2l-3-1l-6-6l-17-5h-3l-6 4l-3-7zM799 257l2 8l3 3l3-1l2 4l3 1l1-8l-9-7l2 2l-1 1zM867 252l-13 1l-3 9v5l3-1l1-3l3 3l1-1l-2-4l4-3l-7-1l3-4zM784 240l3 6l3 2l1-5l-2-2zM844 236l-10 10l-12 6v3l5 8l7 1l3 2l5-1l1-6l7-7l-4-4l1-5l3-2zM871 233l-2-4h-2l-7 6l9 3zM740 228l-1 8l1 2h2l2-4zM868 221l-4 2h-4l1 4l2 1l4-2zM462 214l2 2v3l10 9v3l7 6l1-1l-1-2l2-1l3 4l-1 2l4 3h5l5-2l8 1l10-4h7l5 6l7-1l4 4l-2 13l2 4l7 7l1 7l3 7v6l-5 10v6l6 10l3 16l5 6l4 9v4l4 3l21-4l5-3l10-11l1-8l7-4l-1-12l11-8l5-6l-1-14l-2-3l-1-8l2-9l23-21l9-18v-3l-17 4l-4-2l-2-4l-11-9v-2h-13l-9 2h-16l-8-2l-53 2l-11-2l-39 1l-7-1l-2-2v3zM565 325l6-3l5 4l-3 4l-4 1l-4-3zM583 262l3-2h5l3 3v2l-3 3l-4 1l-4-3zM603 254l6 1v6l-2 2l-5-2zM598 254l1 4l-5 3l-1-4l3-3zM583 250l3 2v3l-4 1l-2 3l-2-3zM561 247l3-3l9-1l5 4l1 3l-4 4l-5 2l-5-1l-4-4zM586 240l3-1l9 7l-6 5l-6-4zM576 241l3-4l4 2l-3 3zM855 203l-1 3l1 9l9 3l-6-3l1-12zM827 200l-2-1l-3 2l2 2zM316 202l-6-3l-7 1l-2 3l9 1zM681 191l-17 14l-15 2l-4-4l-5 6h-6l1 9h8l25-11l8-6zM281 190v2l7 2l3 4h8l-15-8zM857 184l-3 5l2 3l2-5zM277 177l2 5l4 1l-1-5zM883 160l-1 5l3 1l1-5zM912 154h-3l-3-4h-2l-3 2l-1 4l-5-1v2l1-1h10zM555 150v-3l-7 1zM572 141l1 1l-1 4l1 3l4 2l2-3l-3-5l3-1l-2-2zM486 134l1 2l-2 8l2 6l4-1l5 4l-3 6l-9 8v3l6-3h26l15 3l32-2h-3l-5-4l-7-1l-5-3l-2-3l1-7h-7l1 2l-1 3h-2l-3-4h-12l-12 5l-7-1l-3-2l2-2l9-1l4-4v-2l-5-3l-8-1l-8-6l-3-1zM265 135l7-1l2 4l3 2v3l3-5l-6-1l6-2l-4-3l-1 1l-7-1zM311 122l1 6l-6 3l-4 5l-4-2l-1-4h-2v2l-3 1l4 3l-1 4l-2-2h-5l-3 3l-4 1l-1 4l2 4l4 2l-2 4l1 1l4-1l2 2l5-4l-1-2l1-3l-2 1l-3-2l2-4l4 3l4-4l1-4l9-2v-4l6-4l-1-3zM158 118l1 3l-1 13l2 9l8 13l6 2l6 6l9 15l9 10l-5-9l-8-10l1-5l26 27v6l15 9l9 3l8-1l7 6l12 3l8 10l5 4l7 2l1-3l3-1l5 3l-1 6l1 4l-10 15l2 5l-3 3v4l4 4l6 14l9 12l7 3l5 5v16l-1 1l1 1l-4 15v9l-5 10l-1 5l1 16l-6 8v8l2 4h3l2 2l1 4l2-4h3l2 2v7l12-1l-7-5l-2-4l9-12l-4-4l6-3l4-6l-4-5l8-1l2-6l12-2l1-5l-3-5l1-1l5 2l7-1l11-13l3-5l1-6l8-6l11-4l3-3l4-11l1-11l11-15l-1-8l-6-1l-10-6l-10-1l-14-6l-2-2v-4l-4-8l-7-4h-8l-7-5l-8-9l-1 1h-16l-5-3l-4 2l-2-4l-5 3l-5 1l-5 6l-6-2l-5 2l-3-1l-5-6l1-3l-1-8l-12-3l-1 3l-3 2l-6-5v-3l3-1l2 5l3-2v-2l-3-1l-4-4l-6 2l-7-2l-3-3l-5-12l-3-3l2-3l-2-3l3-4l-1-5l-2-2l3-3v-3l2-2l-2-3l-4-2v-2l3-3l-4 1l-7-4l-1-3l3-3l8-1l2-4l10 4l4 4l7-5l1-5l-1-2l-9-1l-3 2l-4-7l-2 1l-1 3l-3-3h-2l-2 3h-4l-4-4h-3l-3 4h-3l-3-3l-15-3l-4-4l-7 4l-10-3l-2-3h-4l-2 2zM304 400l3-1l1 3l-2 1zM308 400l2-3l2 1l-1 3zM310 244l1 4l4 1l3 3l1 4l-3 5l-5 2l3 6l-9 7h-3l-4-3v-3l-4-3l-2-5l3-3l1-7l3-3l3 3l4-1zM306 243l1 2l-3 3l-1-2zM203 155l2-4l3 2l-2 3zM206 141l1 3l-2 3l-5 2l-1-3l3-2l1-3zM224 131l2 3l-3 2l-1-3zM919 113l-3 2v6l2 2l4-6zM134 92l7 8l6 4l2 4l4-1v-4l3-4l-1-1h-8l-7-6l-2 1zM67 92l-9 1l-5 2h2l1 2zM102 84l13 1l6 3h4v-3l-1 3h-3l-4-4h-6l-2-2zM943 86h-3l-3-3l-2 3l-2-4l-5-1l-5 1l-13 9l-4-4l-6 3l-4-4l-4 2l-8-1l-6 3l-5 5l1 2l-7 12l-4-1l-3 2l-5-3l-8 2l-3-2l-4 3l-10-3l-10 5l-7-2l-4 1l-4-2h-6l-2-2l-7 1l-11-1l-13 2l-10 5l-6-2l-4 3l-3-2l-2 4l-5-1l-6 5l-3-3h-14l-1-1l-11 1l-4-3l-3 2l-5-1v2l-3 2l-10-6h-2l-3 4h-7l-2-2h-5l-6 3l-1-1l1-2l-3-1l-3 1l-2 3l22 1l7 4l-4 4h-6l-6 2l9 9l-2 4l3 5l-5 4l-5-1l-5-5l1-5l-4-2l1-2l-4-7l-18-2l-6-3l1-2l4-2l13-1l1-1l-4-4l-9 1l-7-2v3l-4 3l-4-4l-9-3l-3 3l-6-1l-8 3l3 7l1 9l9-11h6l2 2l-2 1l2 3l6-2l-2-2l1-2l11-2l1 1l-6 5l10 5l2 2v3l-4 2h-9l-6-3h-4l-6 3h-6l-1 2l-6 1l-1 5l4 4l3 1l6-2l4 2l5-1l6 1l-3 11l-3 4l-9-1l-1 1h-10l-12-4h-5l-4 3v2l11 2l21 7l8 1l-1-2l1-1l1 1v-3l2-1l3 7l1-1l11 1l-6-16l2-2h18l11 6l1 2l24 7l3 3l1 4h21l10 7l-2 2l3 3l3-1l4 1v7l2 7l2 2l1 5l8 16l7-7l1-6l-1-7l15-13l3-1l3-4l8-1l4-2l8 10l1 7l-1 1l3 1l2-3h3l2 2v5l2 4v13l4 5l3 7l3 1v5l5 2l-3-10l-6-6l-4-8l2-7l2-3l1 2l4 1l2 4l6 4v2l6-6l5-2l-1-9l-8-10v-3l7-7l1 1l1-1l3 3l1-2l13-3l6-3l8-8l4-7l1-8l-7-9l8-6l-4-2l-5 1l-3-4l10-6l2 5l7-3l2 2v4l4 1v9l7-2l1-3l-3-6l-6-1l-5-6l-1-7l2-6l4-4h5l4 5l-1-11l3-2l4 3h5l2 7l5-5l4 2l2-2l-2-7l3-3l-3 2l-5-2l-4-6l1-3h4l3-4l2 1l7-6l9-5h21l1 1zM688 173l2-4h4l2 2l-3 4zM668 152l2-4h2l3 3l-3 3zM677 123l8-1l2 3l24-1l7 3l1 3l-8 4h-19l-7-3l-5 1l-3-4zM905 71l-1 5l-2 2l-4-1l2 4l6-3l1-4zM324 70v4h3l1-3zM445 69l1 2l6 3h11l9-3l-1-3l-4-1h-16zM899 61l-5-1l-4 4l-4-2l-1 2l2 4l-3 2v3l-3 4l4 2l5-4l4-1v-2l-3-2h-3l-1-1l1-1l6-1l8 1l1-1zM265 63l3 3h8l4-2l-1-5l-9-1zM329 63l-13-6l-15 4l3 1l-3 6l1 4l5 2l2-1l5 3l3-3v-2l-3-3l2-2l3 2h4l2-3z"/><path fill="#c5dfec" d="M652 290l-5 8l-10 6l1 8l-2 3v6l4 6l5-1l9-25zM947 329l-7-7l-5-8l-8-5l-2-10l-5-3v-5l-3-4l-2 4v9l-4 5h-3l-11-7l3-7l-12-2l-6 4v3l-2 2h-3l-3-2l-5 1l-9 8l-1 4l-3 3h-5l-16 6l1 5l-1 7l6 15l-2 7l1 1l8 1l5-3h10l3-3l9-3h10l10 4l3 5l6-4l1 6h3l2 5l4 3l4 1l7-1l3 2l3-3l7-2l3-9l5-5l2-8zM914 333l2 5l-4 4l-3-2v-5l2-2zM901 323h3l2 2v5l-2 2h-3l-3-4zM851 282l13 2l6-3l-16-1zM928 277v3l5 4h6l-4-2l-4-6zM819 274l3 4l14 1v-2l-2-1l-5 1l-2-3l-1 1zM942 269l-7 3l1 1l2-2l3 1zM809 261l-2 4l5 7l1-8zM889 258l1 3l2 1l-3 1v2l14 4l4 6l-2 3l13 3l5-4v-4l3-2l-2-2l-2 1l-6-6l-5 3l-1-5h-3l2 2l-3 1l-2-4h-2l-6 4l-2-4l-1 1l-2-2l2-2zM858 252l-5 2l-2 8l5 1l1 2l1-2l-2-4l2-1l1 2l2-2h-6l-1-2zM784 240l1 2l1-1l1 1v4h2v-4zM844 236l-12 11l1 2l-2 2l-9 1v3l5 8l4-1l6 4l5-1l-7-11v-4l2-2l2 2h3l2 3l-3 1l-1 3l4 1l6-6l-4-4l1-4l-2-4l3-1l2 2zM825 251l2 2l-1 3l-3-2zM871 233l-2-4h-2l-7 6l9 3zM740 228l-1 8l1 2h2l2-4zM868 221l-4 2h-4l1 4l2 1l4-2zM273 224l-1 5l2 2l9 3l1-3l3-1l5 3l-1 6l1 4l-10 15l2 5l-3 3v4l4 4l6 14l9 12l7 3l5 5v16l-1 1l1 1l-4 15v9l-5 10l-1 5l1 16l-6 8v8l2 3h3l6-3l1-3h2l3 3l-1 6l1 8l-1 1h8l3-2l-7-4l-2-4l9-12l-4-4l6-3l4-6l-4-5l8-1l2-6l12-2l1-5l-3-5l1-1l5 2l7-1l11-13l3-5l1-6l8-6l11-4l3-3l4-11l1-11l11-15l-1-8l-6-1l-10-6l-10-1l-14-6l-2-2v-4l-4-8l-7-4h-8l-7-5l-8-9l-1 1h-16l-5-3l-4 2l-2-4l-5 3l-5 1l-5 6l-6-2l-5 2l-3-1zM332 268l2-2l3 3l13 1l1 2l-10 4l-2-3l-6 1zM352 252l1-1l4 2l2 4l-5 1l-2-2zM314 240l3 3l-4 3v2l3 1l4 4l-1 6l-5 5l2 5l-4 4h-3l-4 4h-3l-4-3l-1-4l-3-2l-3-7l3-3l1-6l3-5l5-3l2-4l3 3zM462 214l2 2v3l10 9v3l5 4l1-3l4-1l5 5l1-2l2 1l-3 5h-3l3 2l3-2l15 1l10-4h7l5 6l7-1l4 4l-2 13l2 4l7 7l1 7l3 7v6l-5 10v6l6 10l3 16l5 6l4 9v4l4 3l21-4l5-3l10-11l1-8l7-4l-1-12l11-8l5-6l-1-14l-2-3l-1-8l2-9l23-21l9-18v-3l-17 4l-4-2l-2-4l-11-9v-2h-13l-9 2h-16l-8-2l-53 2l-11-2l-39 1l-7-1l-2-2v3zM565 325l6-3l5 4l-3 4l-4 1l-4-3zM557 273l2-3l3 1l-2 3zM555 245l2-1l2 4l-1 1zM561 245l3-3l7 1l1-4l2-2l2 1l3-3l5 1l1 2l3-1l1-4h3l2 7l7 7l-6 4h6l2 3h5l1 7l-4 2l-3-2v-3l1 4l-1 1h-8v2l-3 3l-4 1l-4-3v-4l8-3l1-3l-1-3l-3 1l-1 4h-4v2l-4 2l-3-3v-4l4-4l-1-3h-1l1 2l-4 4l-5 2l-5-1l-4-4zM855 203l-1 3l1 9l9 3l-6-3l1-12zM827 200l-2-1l-3 2l2 2zM315 201l-3-2l-9 1v3l7 1l4-1zM288 193l3 5h5v-2zM681 191l-17 14l-15 2l-4-4l-5 6h-6l1 9h8l25-11l8-6zM857 184l-3 5l2 3l2-5zM882 161v4l3 1l1-3zM574 140l1 2l-2 7l4 2l2-3l-3-5l3-1l-2-2zM293 141l-4-1l-4 3l-2-1l-1 4l3 1l2-4zM486 134l1 2l-2 8l2 6l4-1l5 4l-3 6l-9 8v3l6-3h26l15 3l32-2h-3l-4-3l-2 3l-8-2l-1-5l-4-4l1-7h-6l2 1v2l-4 5l-6-7h-10l-12 5l-7-1l-3-2l2-2l9-1l4-4v-2l-5-3l-8-1l-8-6l-3-1zM232 131l6 6h6l1 1l-1 3h2l3-4l-3-3h-4l-3 2l-3-5zM158 119l1 2l-1 13l2 9l8 13l6 2l6 6l12 19l7 6l-14-19l1-5l26 27v6l15 9l9 3l8-1l4 3l2-2v-6l-3-1l-4 1l-4-2l-12-17l-1-6l3-4v-4l-3-4l4-5l-5-8v-3l-8-6v-4l-3-3l2-6l-15-6l-1 1l-3-1l-1 4l-3 1l-5-10h-3l-2 3h-6l-3-2h-4l-3-4l-4 2zM196 138l12 3v4l-6 6l5-2l3 4v3l-5 2l-1 2l2 3l-1 3l-7-5l1-7l-2-3l-2 1l1 2l-1 2l-3-1v-5l5-4l-4-2zM151 99h-3l-2 3l2 5l3-2l1-3zM909 92l-4-3l-4 3h-3l-2-3h-7l-6 3l-4-1l-4 4v3l-3 3v7l-2 2l-10 1l-15-2l-6 2l-3-2h-7l-8 4l-3-1l-4 1l-9-3h-5l-3-2h-19l-13 2l-8 5l-8-1l-2 2l-3-1l-2 3l-5-1l-7 6h-2l-3-4l-7 1l-11-2l-4 3l-5-4h-2l-1 2l-5-2l-3 4h-2l-9-6l-5 4h-7l-2-2h-4l-3 3h10l7 4l-2 4h-8l-6 2l9 9l-2 4l3 5l-5 4l-5-1l-5-5l1-5l-4-2l1-2l-5-6l1-1l-18-2l-6-3l1-2l4-2l10-1l-1-4l-6 4l-8-2l-3 3h-5l-3-4l-6-3l-6 4h-4l1 2l-3 4l-2-1v-5l-4 1l5 5l-2 4l1 6l9-11h6l2 2l-2 1l2 3l6-2l-2-2l1-2l11-2l1 1l-6 5l10 5l2 2v3l-4 2h-9l-6-3h-4l-6 3h-6l-1 2l-6 1l-1 5l4 4l3 1l4-2l6 2l10-1l1 2l-3 8l1 3l-4 3l-9-1l-1 1h-10l-1-1l-3 1l-8-4h-5l-4 3v2l11 2l21 7l8 1l-1-2l1-1l1 1v-3l2-1l3 7l1-1l11 1l-2-4l-1 1l-2-1l1-6l-2-6l2-2h18l11 6l1 2l24 7l3 3l1 4h21l10 7l-1 1l2 1l-2 1l2 2l3-1l4 1v7l2 7l2 2l1 5l8 16l7-7l1-6l-1-7l12-10l-1-2l2-2l1 1l4-1l3-4l8-1l4-2l8 10l1 7l-1 1l3 1l2-3h3l2 2v5l2 4v12l7 11l2-1v-2l-3-3l-4-8l4-10l1 2l4 1l2 4l6 4v2l6-6l5-2l-1-9l-8-10v-3l7-7l1 1l1-1l3 3l1-2l10-2l9-4l10-11l3-7v-5l-7-9l8-6l-4-2l-5 1l-3-4l10-6l2 5l7-3l2 2v4l4 1v9l7-2l1-3l-3-6l-6-1l-5-6l-1-4l1-7l5-6h5l2 2l-1-3l1-7l-2-4l3-3l7 1v8l7-1l2 3h6l-7-8l-4 3h-2l-1-3l2-3l3 1l2-1l-3-5v-4l2-2l4 1l2-4l5 2l2-3l2 1zM745 189l3-1l2 2l-3 2zM775 178l4 3l1 6l-2 1l1 3l-3 3l-3-2l1-5l-3-2l3-2l-1-3zM688 173l2-4h4l2 2l-3 4zM668 152l2-4h2l3 3l-3 3zM677 123l8-1l2 3h3l1-1h16l4-2l4 4l3 1l1 3l-8 4h-19l-7-3l-5 1l-3-4zM933 86l-4-4l-3 3l-1-1l-3 1v1zM445 69v1h5l1 1l-1 2l2 1h11l9-3l-1-3l-4-1l-10 1l-6-1zM890 65v1l7-1l2 2l1-1l-4-3zM267 61l3 5h6l4-2v-2l-1 1l-1-1l1-3l-9-1zM326 62l-11-5l-12 3l-1 1l2 2l-2 3l4 6h6l1-1l-2-4l1-2l4-2l4 4l3-4z"/><path fill="#a7d0e4" d="M652 290l-5 8l-10 6l1 8l-2 3v6l4 6l5-1l9-25zM947 329l-7-7l-5-8l-8-5l-2-10l-5-3v-5l-3-4l-2 4v9l-4 5h-3l-11-7l3-7l-12-2l-6 4v3l-2 2h-3l-3-2l-5 1l-9 8l-1 4l-3 3h-5l-16 6l1 5l-1 7l6 15l-2 7l1 1l8 1l5-3h10l3-3l9-3h10l10 4l3 5l6-4l1 6h3l2 5l4 3l4 1l7-1l3 2l3-3l7-2l3-9l5-5l2-8zM914 333l2 5l-4 4l-3-2v-5l2-2zM901 323h3l2 2v5l-2 2h-3l-3-4zM851 282l10 2l7-2h-10l-1-1zM930 281l3 3h6l-6-4zM811 264l-1 2l3 5v-7zM891 264v2l2 1h5l5 2l8 11l7 1l-3-2v-3l-2-1l-5-9h-3l-3-2l-6 1l-1-2v2l-2 1zM836 257h-3l-2 3l-4-2l-1 2l1 1l4-1l3 2l2-1zM854 253l-2 5l1 3l2-2zM842 238l-5 5l4 6l6 2l1-1l-2-2v-4l-5-3l2-2zM871 235l-2-1l1-2l-1-3h-2l-7 6l5 2h4zM740 228l-1 8l1 2h2l2-4zM868 221l-4 2h-4l1 4l2 1l4-2zM307 221l-5 3l-5 1l-5 6l-6-2l-4 2l-2-1l-2 1l3 3h2l2-4l7 3l-1 6l1 4l-10 15l2 5l-3 3v4l4 4l6 14l9 12l7 3l5 5v16l-1 1l1 1l-4 15v9l-5 10l-1 5l1 16l-6 8v8l1 2l7-2l2-4l3-1l5 4l1 3l-1 13h6l3-2l-7-4l-2-4l9-12l-4-4l6-3l4-6l-4-5l8-1l2-6l12-2l1-5l-3-5l1-1l5 2l7-1l11-13l3-5l1-6l8-6l11-4l3-3l4-11l1-11l10-13l1-4l-1-6l-6-1l-10-6l-10-1l-14-6l-2-2v-4l-4-8l-7-4h-8l-7-5l-8-9l-1 1h-16l-5-3l-4 2zM327 294l3 4l-1 2l-4-4zM354 269l5-1l1 5l-2 1l-4-3zM324 269l2-5l2-2l4 2l-1-1l1-3l2-1l5 6v2l4-4l5 5h2l3 3v2l-5 1l-3 3h-8l-5-2l-2-3h-3zM352 246l8 5l2 7l3 2l-2 2l-3-1l-2 4l-5-2l2-4h-3l-2-3l-2 2l-3-2l1-3l4 1v-6zM315 236l3 2l-1 1l2 4v7l4 2l3 4v5l-3 3l-4-2l-2 1v3l5 4l-2 4l-4-1l-7 1l-4 4h-4l-10-14l-1-3l3-5l-4-2l2-2l3 1l2-3v-4l4-4h2v-2l3-3l4 4l4-5zM318 237l3-2l4 4l4-1l2 4l1-1l2 1l2 5l-2 1l-3-4h-5l-2-3zM462 214l2 2v3l10 9v3l3 2l4-3l8 1l6 4l-2 3h2v-2l4-2l2 4l-1 2l7 1l5-4l4 1l8-1l5 6l7-1l4 4l-2 13l2 4l7 7l1 7l3 7v6l-5 10v6l6 10l3 16l5 6l4 9v4l4 3l21-4l5-3l10-11l1-8l7-4l-1-12l11-8l5-6l-1-14l-2-3l-1-8l2-9l23-21l9-18v-3l-17 4l-4-2l-2-4l-11-9v-2h-13l-9 2h-16l-8-2l-53 2l-11-2l-39 1l-7-1l-2-2v3zM565 325l6-3l5 4l-3 4l-4 1l-4-3zM563 263l3 4l-3 6l-5 3h-5l-1-3l5-4l4-1v-4zM553 244l2-2l6 1l2-2h4l5-5h4l2-3l4 1l3-3l8 1l3 3l1 7l7 6v6l5 1v6l-6 4l-8-1l-4 4l-4 1l-6-6h-4l-5-8l-2 1l-5-1l-4-5v3l-2 1l-6-8zM855 203l-1 3l1 9l9 3l-6-3l1-12zM306 203l4 1l3-3l-6-1zM827 200l-2-1l-3 2l2 2zM290 194l-1 1l3 3l1-3zM681 191l-17 14l-15 2l-4-4l-5 6h-6l1 9h8l25-11l8-6zM857 184l-3 5l2 3l2-5zM620 169l-3-2h-4l-3 2l-1 4l-2 1l-3-1l-2 3l-2-1v-2l2-1v-5l-2-1l-14 2l-5-1l2 3l-3 1l8 1l2 2l2-4l3-2l2 3l-4 2v2l15 3l-1-2l1-1l1 1l1-4l2 1v3h1l3-5l3 2zM572 163l1 4l-3 2l8 1l-2-2l2-4zM577 140h-2l1 1l-2 6l1 4l4-3l-3-4l1-2h2zM486 134l1 2l-2 8l2 6l4-1l5 4l-3 6l-9 8v3l6-3h22l1-1l10 1l3-4l4 3l-2 3l3 1h14l1-1h-3l-2-2l2-7l-3-4h-3l-1 5l-3-1l-7-7l1-2h-9l-12 5l-9-2l-1-1l2-2l9-1l4-4v-2l-5-3l-8-1l-8-6l-3-1zM666 128l-10 2l5 4l3-2zM160 122l-1 1l1 6l-2 3l1 6l2-2l3 1l-1 4l-4-1l1 3l9 14l5 1l6 6l12 19l7 6l-14-19l1-5l26 27v5l15 10l9 3h4l1-4l3-1l1 5l2 1l2-2l-1-4l-3 1l-1-2l-7-1l-2-2l-5 3l-3-2l1-2h2l2-3h3l-1-2l-5 1l-5-4l2-8l-3-2v-2l5-5v-2l-4-5l2-11l-10-12v-3l-3-4l1-5h-3l-1-2l-7-3l-5 1l-2 3l3 4l2-3l6 2l-1 2h-3v1h4l3 3l-2 7l2 1l2 4v3l-5 5l2 4l-2 2l-5-1l-3 5l-2-4l2-3l-2-2h-3l-4-9l-5-3l2-3l-1-4l7-2l1-7l-4-3l-1-5l-2-2l-3 3l-3-2l-3 1l-4-3h-5l-3-4l-4 4zM162 134l1-3l3 2l-2 2zM686 122l1 2h14l-3-3l1-2l-1-1l-2 4l-5-4l-2 4zM657 120l10 1l-6-3zM677 117l-5 2l-1 4l3 4l2-5h5zM614 123l-5-5l-1 1h-3l-2-2l-3 1l-4 4l-2 5l-4 2v5l9-11h7l4 4l-1 1h2l1-2l-1-2zM879 151l-3-6h-5l-4-4l-2-6l2-9l4-4l6 1l-1-1l1-6l-3-3v-3h-3l-2 2l-35-2l-8 1l-5 3h-7l-8-3h-6l-3-2l-9-1l-19 2l-12 6l-7-1l-10 5l-3-1l-2 3h3l1 4l-2 2l-4-3l-4 2l-1 8l-2 2l-2-2l2-5l-3-3l2-2l2 1l-2-5l-4 2l-1 3l-2 1l1 3l2 1l-2 3l-4-1l-23 1l-7-3h-3l-5 3l-1-1l1-3l-4-1l-1 2l3 4l-1 1h-4l-3 2l-5-1l3 2l-2 4l3 5l-5 4l-5-1l-5-5l1-5h-2l-2-2l1-1l-2 1l-2-4l-4 2l-4-4v-2h-2l1 3l-2 2l-4-1v2l-4 2h-9l-6-3h-4l-6 3h-6l-1 2l-6 1l-1 4l4 5l3 1l6-2l4 2l10-1l1 1l-1 2l9-1l2 3l-2 2l-1-1l-2 1l1 1l-1 3l-3 1l-3-2l4 4h2l2-4h18l11 6l1 2l24 7l3 3l1 4h21l1 1l2-1l3 5l4 1l3 3v3l1-1l4 1v7l2 7l11 22l4-2l3-4l1-6l-1-7l11-9l-4-2l8-7h2l2 3l2-3l9-2v-1h-3l-1-2l5-1l-1-3l1-3l-2-3l-3 2l-3-1v-3l2-2h4l4 2l5-1l7 5v2l-2 1l1 4l-3 2v3l-4 3l3 3l1 7l3 4l2-3h3l2 2v5l2 4v11l4 2l-2-5l4-9l1 2l4 1l2 4l6 4v2l6-6l5-2l-1-9l-8-10v-3l7-7l1 1l1-1l3 3l1-2l10-2l9-4l8-8l4-7l1-8l-7-9l8-6l-4-2l-5 1l-3-4l10-6l2 5l6-3l3 2v4l4 1v9l4-1v-3zM736 199l1 2l-3 2l1 2l-1 4l-2 1l-1-6zM737 185l2-2l4 4h6l2 2v3l-2 2l-5-3l-6 2zM853 176l-1 2l-3 1l-4-2l6-3zM688 173l2-4h4l2 2l-3 4zM668 152l2-4h2l3 3l-3 3zM752 136l-2 2l-3-2h-3l-2 3h-2l-4-3h-3l-2-4l4-3l4 5l3-3v-3l2-2h3l2 2l-1 3zM890 91l-5 3l-5-2l-2 5l5 4l-2 2l-1-1l-3 1l6 3l1-4l3-1l3 3l-1-4zM472 70l-1-2l-3 1l-4-1l-4 3l-3-1l-5 4l2-2l4 2l4-1l1 1l7-2zM275 58l-2 1l-2 4l1 3l6-1zM323 60l-7-3l-6 2l1 2l-2 2h-4l-1 2l4 1l7-4l4 1z"/><path fill="#84bcd9" d="M316 412h5l3-2l-6-4zM652 290l-5 8l-10 6l1 8l-2 3v6l4 6l5-1l9-25zM947 329l-7-7l-5-8l-8-5l-2-10l-5-3v-5l-3-4l-2 4v9l-4 5h-3l-11-7l3-7l-12-2l-6 4v3l-2 2h-3l-3-2l-5 1l-9 8l-1 4l-3 3h-5l-16 6l1 5l-1 7l6 15l-2 7l1 1l8 1l5-3h10l3-3l9-3h10l10 4l3 5l6-4l1 6h3l2 5l4 3l4 1l7-1l3 2l3-3l7-2l3-9l5-5l2-8zM914 333l2 5l-4 4l-3-2v-5l2-2zM901 323h3l2 2v5l-2 2h-3l-3-4zM931 282l2 2h6l-3-2zM851 282l10 2l5-1zM908 267l-4 1l1 4l3-1l1-2zM348 249h-6l-2 2l-2-1l-5 1l-3 5h4l3 3v3h2l3-4l-2-3l8-4zM844 244l-3 1l1 3l3-1zM323 244l-2 5l4-1l2 2l-1 3l2 1v-4zM869 229h-2l-7 6l6 2v-3l3-3zM740 228l-1 7l1 3h2l1-5zM868 223l-1-1l-7 1v2l3 3l4-2zM308 221l-11 4l-5 6l-7-2l7 4l-1 6l1 4l-5 9l2-1l1-4l1 3l2 1v-3l3-6l4-4l5-2l2-4l1 5l4-3l5 1l4-2l5 3h3l2-3h2l5 13l3-2l5 1l4-2l11 6l5 5l-1 4l2 2v5l-2 2v3l-5 5l-6-2l-2 2h-3l-3 4h-9l-7-5h-4l-2-2l-2 5h-5l-2-2h-6l-2 3l-6 1l-12-17l-1-3l2-2l-5-1l-3 2l2 5l-3 3v4l4 4l6 14l9 12l7 3l5 5v16l-1 1l1 1l-4 15v9l-5 10l-1 5l1 16l-6 8l1 9l3-4l3 2l1-3l4-3l5 3l2 3l5-2l3-4l-4-4l6-3l4-6l-4-5l8-1l2-6l12-2l1-5l-3-5l1-1l5 2l7-1l11-13l3-5l1-6l8-6l11-4l3-3l4-11l1-11l11-15l-1-8l-6-1l-10-6l-10-1l-14-6l-2-2v-4l-4-8l-7-4h-8l-7-5l-8-9l-1 1h-16l-5-3l-4 2zM317 377l3 2l-1 3l1 6l-4 3l-2-3l3-4v-3l-2-2zM343 295l3-1l4 3l-4 2l-3-2zM362 294l4-3l4 3l1 3l-3 1l-1-3zM324 294l4-3l2 2v3h2l6-4l2 4l-5 1l-1 5h-7l-2-2zM348 286l1 1l-1 5l-3 2l-1-4zM462 214l2 2v3l10 9l1 4l6-3l11 1l13 4l2 4l6-3h3l2 2h6l5 6l6-1l-2-2l1-3l4 1l4-5l4 1l-2 3l2 7l-6 1l-3-2l3 3l-2 13l2 4l7 7l1 7l3 7v6l-5 10v6l6 10l3 16l5 6l4 9v4l4 3l21-4l5-3l10-11l1-8l7-4l-1-12l11-8l5-6l-1-14l-2-3l-1-8l2-9l23-21l9-18v-3l-17 4l-4-2l-2-4l-11-9v-2h-13l-9 2h-16l-8-2l-53 2l-11-2l-39 1l-7-1l-2-2v3zM565 325l6-3l5 4l-3 4l-4 1l-4-3zM609 277l2 2l-1 4l-4-3zM601 235l-3 5l1 1l3-1l2 2l-1 2l5 3l-3 7l4 1v6l-4 2v4l2 1l-2 4l-4-6l-5 1l-3 6l-4-4h-3l-4-3h-4l-2-2l-2 1l-5-1l-1-3l3-4l-4-2v3l-2 3l1 5l6 4l2-1l2 4l-3 1l-2-2l-3 1l-3-1l-6 5l-4 1l-4-1l-1-2l1-3l5-5h3v-2l-3-1l-3-5l1-2l3-1v-3l-6-9l1-2l4-2l4 1l1-1l-2-2l2-2l2 3h3l6-5l2 1l2-3h5l3-2l12 1zM857 203l-2 10l1 2l8 3l-6-3l1-12zM740 200l-1 5l5 3l2-1l-2-2v-3zM827 200l-2-1l-3 2l2 2zM224 195l1 3l-5 5l7 4l2-1l1 2l5 1l1-3l-1-3l-5 3h-2l-3-3l1-6zM748 195l-4-1l-4 3l7 1zM680 193l-18 14l-5-1l-4 2l-4-1l-4-4l-5 6h-6l1 9h8l28-13l-1-2l2-2l2 1l2-1zM857 184l-3 5l2 3l2-5zM586 169l3 1l4-3h3h-7zM536 167v3h7l-5-4zM486 134l1 2l-2 8l1 5l6 1l1-2l3 5l-3 6l-9 8v3l5-2l-1-3l1-2l4 4h11l4-2l8 1l7-3l-2-2l7-3l-8-4h-4l-4 3l-3-2l-4 1l-9-3l2-2l6-1l2-2l1-5h3l-3-1l-1 2l-2-3l-7-2l-2 2l-4-5l1-1l-5-2zM664 128l-7 3l3 2zM160 124l-1 1l1 2h2l1 2l2-1l2 2l-1 10l2 4l-4 2v3l6 5l2 4h2l6 6l9 15l5 3l1 4h2l-12-16l1-5l13 14l2-2l2 1v5l9 9v4l8 4l1-2l-2-4l3-1l1-2l-1-4l2-1l-3-5l5-5v-2l-3-1v-4l-3-4l4-4v-4l-4-2l-2-6l-3-3l-3 4l1 8l-3 3v5l-3 3l-4-1l-3 7l-3 1l-1-9l-4-3l-1-6l-7-8l1-6l-2-4l3-1v-2l3-3l-1-7l-1-1l-3 2l-7-1l-3-3l-6 1l-2-3v3l-3 3zM168 150l2-1l1 3l-2 1zM178 134l3-1l3 3v3l-2 1l-5-4zM876 117l-4-6l-2 2h-5l-2 2l-6-2h-8l-5-2l-18 1l-5 4l-2-1l-3 2l-4-3l-6-2h-6l-3-2l-19-1l-13 3l-7 5l-7-1l-10 5l1 4l3-2h3l4 3l-1 4l3 4v3l-3 2l-6-1l-5 2l-3-2l-6-1l-1-2l-3 4l-5 1l-12-6h-5l-3 2l-2-2l-17-1l-6 5l-5-1l-5 2l-4-1l2 1l-2 4l3 5l-5 4l-5-1l-5-5l1-5l-3-1l-1 1l-4-4l-4 1l-2-2h-3l-9 3h-9l-6-3h-4l-6 3h-6l-1 2l-6 1l-1 5l4 4l3 1l4-2l6 2l21-1l3 7l8 3h4l17 10l19 5l3 3l1 4h21l2-2l2 1l2-1l2 2l-1 2l3 3l5-1l2 1l-3 3v3l4 1v7l2 7l2 2l6 16l1-1l2 3l1-1l3 1l3-4l-4 1l-1-3l3-2l2 1l1-3l-1-5l1-3l-4 2l-4-1l-2-2l-2-9l1-5l6-6l1-7l3-2l6 5l4-4l5 10l5 3l3-1l-1-4l2-1v-2l4-2l-6-4l1-6l4-2l4 2l8-1l4 4l4-1l2 2v4l-4 3v4l-3 2v6l1 3l3 2l-1 4h4l2 2l3 18l2 2l-1-3l4-9l1 2l4 1l2 4l6 4v2l6-6l5-2l-1-9l-8-10v-3l7-7l1 1l1-1l3 3l1-2l13-3l5-4h2l7-7l-6 1l-3-2v-3l5-3l-1-5l3-3l2 2l-1 4l2 3l2 1l1-2l-1-3l2-2v-3l-7-9l8-6l-4-2l-5 1l1 1l-4 2l-2-4l1-3l11-6l2 5l7-3l2 2v4l4 1v9v-2l3-3l2-6l-6-1l-4-4l-2-9l2-6l4-4h4zM756 190l2-3l2 1l-2 3zM711 181l5-1l1 3l-4 3l-2-2zM747 176l6-1l1 2l-6 1zM711 174l2 2l-1 4l-4 2l-1-7zM688 173l2-4h4l2 2l-3 4zM668 152l2-4h2l3 3l-3 3zM762 131l3 3l-6 7l-3-1l1-7zM825 130l4-2l2 3l-4 2zM881 96l3 3l4-2v-2zM463 71l3 2l4-1l-2-2z"/><path fill="#5fa5cd" d="M321 388l-2 4l3 1l2-3zM309 372h-3l-2 3h-2l1 6l-5 8l5-2l4 2h4l4-5v-3zM652 290l-5 8l-10 6l1 8l-2 3v6l4 6l5-1l9-25zM947 329l-7-7l-5-8l-8-5l-2-10l-5-3v-5l-3-4l-2 4v9l-4 5h-3l-11-7l3-7l-12-2l-6 4v3l-2 2h-3l-3-2l-5 1l-9 8l-1 4l-3 3h-5l-16 6l1 5l-1 7l6 15l-2 7l1 1l8 1l5-3h10l3-3l9-3h10l10 4l3 5l6-4l1 6h3l2 5l4 3l4 1l7-1l3 2l3-3l7-2l3-9l5-5l2-8zM914 333l2 5l-4 4l-3-2v-5l2-2zM901 323h3l2 2v5l-2 2h-3l-3-4zM358 239l-3 3v2h2l3 4l3-1l3 1v3l2 2l-1 5l3 7l-4 3v3l-6 5h-3l-2-2l-3 3h-3l3 3v2l-3 2l1 2l4 2l-1 2l-3-1l-1 4h4l1 3l-5 4h-5l-3-2l-4 1l-2 5h-8l-3-3l-1-4l-2-1l-5 2l-3-7l1-1l10 1l5-1l3 4l6-8l5 1l1-1l-3-1l-1-2l6-3l-11 1l-4-5h-2l-1 2l3 2l-3 3l1 3l-1 1h-5l-2-4h-3l-2 2v3l-2 1l-2-4l-4-3l8-3l-2-2l-4-1l-5 6l-5-2l-8-14l-3-2l-4-6l-3 1l2 4l-3 3v4l4 4l6 14l9 12l7 3l5 5v16l-1 1l1 1l-4 15v9l-5 10l-1 12v-3l2-2l7 1l4 4h4l1 1l-1 2l3-1l1 5l-2 3v3l5-2l4-6l-4-5l1-1h7l2-6l12-2l1-5l-3-5l1-1l5 2l7-1l11-13l3-5l1-6l8-6l11-4l3-3l4-11l1-11l11-15l-1-8l-6-1l-10-6l-10-1l-14-6l-2-2v-4l-4-8zM361 286l6 3l5 6v5l-6 6l-2-1l-4 1l-5-3l1-5l6 3l-3-6v-2l4-2l-3-3zM329 285l2-4l4 2l-2 3zM864 231l-4 4l5 2zM288 230l5 4l-2 5l1 2l-1 4l5-5l1-3l10-8l2 2h4l3 2l6-4l2 1l2-1l3 3l2-1l4 2l5-1l2 4l-1 1l-4-1l1 7l3-3l4 3l3-2l4 1v-3h-2l-7-5l-8-9l-1 1h-16l-5-3l-4 2l-3-3l-9 3l-5 6zM462 214l2 2v3l10 9v3h3l3-3l7-1l2 2h11l5 4l12 1l7 3v-3l3-2l1 7l3 2v2l2-1l-2-5l5-4l9-1l6 8l10-5l4 3l9-8l4 1l6-2l5 1l7-1l9 6l-1 3l1 5l4 2v4l-2 3v2l2 1v6l-3 2v2l3 1l4 4l-1 2h-3l-2 3h-2l-4-5l-3-1l-2 1l-2 4l-11-4l-5 3l-2 3h-3l-2-2h-5l-7 5l-6 1l-4-4l1-5l-2-5l2-5l-3-2l1-2l3-1l-1-1l1-9l-3 1l-6-1l-3 2l-1 11l2 4l8 8v6l3 7v6l-5 10v6l6 10l3 16l5 6l4 9v4l4 3l21-4l5-3l10-11l1-8l7-4l-1-12l11-8l5-6l-1-14l-2-3l-1-8l2-9l23-21l9-19l-5-1l-12 3l-4-2l-2-4l-11-9v-2h-13l-9 2h-16l-8-2l-53 2l-11-2l-39 1l-9-2zM565 325l6-3l5 4l-3 4l-4 1l-4-3zM604 283l3 3l-1 3l-4-3zM591 278l2-2l2 1l-1 3zM609 275l4 3l-1 7l-2 2l-5-6v-2zM612 272l2-1l2 3l-2 1zM668 207l-2-1l-1 2l-7 1l4 1zM859 203l-2 3v8l5 4h2l-6-3zM656 211l-6-3l-4 1l-2-2l1-3l2 1l-2-2l-5 6h-6v6l1 3h8l13-5zM826 199l-4 1l1 3l3-2zM216 157l-1 1l1 4l-4 5h5l2 2l-2 4v4l-1 1l-2-2v-4l-6-2v2l-4 4l1 4l8-1l2 2l-5 5h5l1 1l-1 2l5 1l1-5l-2-4l2-3v-10l-2-2v-3l3-5zM502 142l-1 4l2 2l1-3zM486 135l4 6l-1 2h-2l2 3l-2 4l3-1l2-3l5 2l-1 5l-6 9l6 5h6l5-3l7 1l5-2l-5-4l1-1h9l-6-2l-3 2h-5l-2-2l-5 1l-7-4l4-4h-2l-1-4l-6-5l-2-4zM172 125l2 5l-4 1l-3 4v4l3 4v4l3 3l-1 4l2 4l6 6l7 12l4 2l-6-8v-4l1-1l9 9v-4l-5-8v-4l-6-5l-1-3l1-5l-9-8l4-8h-2l-3-4zM874 116l-2-1l-2 3l-4-4l-3 5h-5l1 3l3 2l-6 2l-3-3l-2 3l-1-3l3-3v-3l-5 1l-2-5h-18l-4 4l6 4l-2 2h-3l-3 3l-4-1l-3 4l-2-2v-3l2-2v-3l-2-3l-9-4l-3 1l-4-2h-7l-3-2l-3 2l-6-1l-13 3l-8 6l-5-2l-3 3h-5l1 2l5-2l2 1l2 5l-1 4l1-4l2-2h3l2 3l-3 3l3-1l7 5l1 4l-8 4h-4l-2-3l-13 2l-5-2l-18 2l-5-2l-1-2l-6-1l-6 1l-3-3h-4l-2 3l-6 1l-5-1l-3 2l-7-1l-6 2l-2 3l3 5l-5 4l-5-1l-5-5l1-5l-4 1l-4-3h-5l-3-2l-10 2h-9l-4-2l-3 1l-3-2l-4 4l-8-1l-1 2l-6 1l-1 5l4 4l3 1l4-2l6 2l12-2h10l2 6l9 5h5l10 7h4l4 4l16 4l3 3l1 4h20l1-2l5-2v-4l2-2h4l3 3v2l3-2l1 1l-1 7l1 6l-2 1l-1 3l3 1l1 11l7 17h4l2-4h6v-3l-2-2l-3 1l-5-4l-2-16l4-4v-5l4-2v-3l2-2l5 1l2-2l-2-4l1-1l11 1l2 2v2l-3 2l1 2l-1 6l4-2l-1-5l4-1v-5l2-2l11 1l3-2l1 1l4-1l3 2h3l2 2l2 10l-2 2l-4-1v4l-3 2v4l5 5v5l3 2l2 13l3 3l3-8l1 2l4 1l2 4l6 4v2l4-4l1-3l2 1l4-2l-1-9l-8-10v-3l7-7l1 1l1-1l3 3l1-2l15-4l3-5l-4-4v-4l3-1l-1-2l4-4v-2l-4 2l-1 6l-4 1l-2-4l2-5l-4-3v-2l4-2l1 3h2l4-3l3 2l1 3l2-2l-2-2l1-4l-5-4v-3l-3 1l-1 4l-5-1l-4 2l-1-2l2-3l-2-2v-3l2-2h4l2 2l-2 3h2l4-5h2v-1l-3 1l-3-3l7-5l2 2v4h4l6-4l2 2v3l7-3l2 2v4h3v-2l-6-5l1-1l-1-7l2-6l4-4h3zM804 196l3-2l2 3l-3 2zM796 185l4 3l2 4l-4 2l-1-3v3l-4 2l-2-4l2-5zM810 185l2-1l6 5v2l-8 1l-1-1zM734 172l-4 5h-11l-1-1l4-5l5 1l5-2zM688 173l2-4h4l2 2l-3 4zM812 168l3-1l1 2l-2 2zM792 163l3 1v5l-2 2l-2-1zM668 152l2-4h2l3 3l-3 3zM849 128l3-3l5 5l-4 2l-3-1zM831 124l1 8l-2 5l-2 1l-5-9z"/><path fill="#3f8ec0" d="M305 383l-1 2l4 2l-1-3zM308 379l1 3h5l-2-4zM307 373l-2 4h-3l1 2l4-2l1-3zM652 290l-5 8l-10 6l1 8l-2 3v6l4 6l5-1l9-25zM947 329l-7-7l-5-8l-8-5l-2-10l-5-3v-5l-3-4l-2 4v9l-4 5h-3l-11-7l3-7l-12-2l-6 4v3l-2 2h-3l-3-2l-5 1l-9 8l-1 4l-3 3h-5l-16 6l1 5l-1 7l6 15l-2 7l1 1l9-3l14 1l3-3l5-2l14-1l10 4l3 5l6-4l1 6h3l2 5l4 3l4 1l7-1l3 2l3-3l7-2l3-9l5-5l2-8zM914 333l2 5l-4 4l-3-2v-5l2-2zM901 323h3l2 2v5l-2 2h-3l-3-4zM598 271l-1 3l5 3l1-1l-1-3zM411 271l-6-1l-10-6l-10-1l-16-8l-1 3l4 8l-4 2l-1 5l-3 3l-9 1l-2 3l5 1l-1 3l1 2l4-4l-1-2l1-3l3 4l-1 5l7 2v4l3 8l-5 4l-3 6l-5-1v5l-2 1l-4-4l1-5l-4-6l-2 4l-4-3l-2 4l-3-5l-3 2l1 3l-2 2h-2l-1 2l-2-1l-4 1l-5-8l-8-2l-2-2l-2-5v-6l-5-1l-8-6l-2-6l-4-4l-1-3l-7-7l-1 1l1 3l-3 3v4l4 4l6 14l9 12l7 3l5 5v16l-1 1l1 1l-4 15v9l-5 12h2l2 4h3l5 4l6-1l5 6v4l-3 3v2l3-1l4-6l-4-5l1-1h7l1-5l3-3l5 1l5-1l1-5l-3-5l1-1l4 1v-3l2-1l2 5l4-1l11-13l3-5l1-6l8-6l11-4l3-3l4-11l1-11l11-15zM362 335l-3 4h-3l-3 3l-4-5l1-1l4 1l3-4zM356 324l2-1l2 3l-3 2zM351 314l2 2l7 2l-5 3v3l-2 2l-5-4l1-6zM348 309l2-1l5 4l-4 2l-3-3zM539 248v3l2-1l3 4l-2 2v4l-2 3h2l1 3l3 1l1-4l-3-2l-1-5l1-1l4 1l2-6l-1-2l-7 1zM360 240l2 2l-2 3l1 1l5-1zM344 234v5l3 1l2-2zM292 231l8 2l7-6l8 4h3l3-4l2 1l4-1l2 3l4 1l5-1l2 1l-5-6l-1 1h-14l-2 2l-1-2l-5-1l-1 3l-4-4l-11 2zM817 221l1 2l4-1v-2zM463 215l1 4l10 9v3l5-4h5l1-1l-3-2l2-5l6-3l2 2l2-1l3 1l-3 3l2 6l4 1l5 4l17 2l3-3l16 1l3-2l6 5l8 1l5-2l2-3l6 1l3-3l22-1l11 7l-1 7l4 2l-1 17l-2 3h2l6 5l3 5v2l-3 2l-2 8l-6 6h-2l-5-5v-6l-2 1v3l-2 1l-7-7l1-4h-3l-2-3l-1 3h-5l-3 3l-2-1l-2 1l-3-3l-4 1l-5 4l-8 1l-3-3l2 6v6l-5 10v6l6 10l3 16l5 6l4 9v4l4 3l21-4l5-3l10-11l1-8l7-4l-1-12l11-8l5-6l-1-14l-2-3l-1-8l2-9l23-21l8-15l-1 1l-3-3v-3l-11 3l-5-2l-2-4l-11-9v-2h-13l-9 2h-16l-8-2h-18l-13 2h-22l-11-2h-20l-1 1l-25-1l-2 1zM565 325l6-3l5 4l-3 4l-4 1l-4-3zM582 291l4-1l1 3l-3 1zM480 216l2 3l-1 4l-2 1l-2-2v-3zM634 209l1 9h8l11-4l-1-3l-8-1l-3-3l-2 2zM789 200l-1 7l2 2v4l2 1v2l3 1l1 2l2-2l1 2l4 1l2 4l3 1l4 4l1-3l-2-3l3-3l-1-7l6-3l-4-5l-2 4h-3l-1-1l2-4l-1-1l-5 4l-3-4l1-5l-1-3l-8 2l-2 4zM788 191l-1 3l3 2v-5zM836 185l2 4l4-2v-2zM722 178l-1 2l1 1l2-1l2 3l-6 2l2 3l-4 4l2 14l5 11l3-5l-2-17l3-4v-5l-3-3l2-3zM722 187l2-1l3 2l-4 1zM491 161l5 4l4-2h14l-6-6l-3 2l-8-4l-3 1zM170 133l-2 5l5 3l-2 5l2 2l2 9l4 2v4l8 13l3 1l-5-7l1-5l8 8v-3l-5-8l1-2l-7-6l-1-9l-5-5h-3l-1-1l1-4zM827 116l4 4l5 2l-2 7l2 9h3l3-5l5-2l2 4l3-2l2 2l-2 4l4-2l4 2l2 3l4-6l-1-1l1-4l-2-1l3-3l-2-3l4-3l3 1v-3l-9 1l-1 1l2 3l-4 3l-1 4l-3 2h-4l-5-3l2-3l-2-7h-2l-3-3l-2 1l-3-4h-7zM859 136l2-1l2 3l-3 1zM835 192l-2-3l-3 2l-2-3l9-9l-2-2l-2 1l-3-3l1-4l-3 1l-4-8l8-1l4-5h-7l-1-1l2-4l-1-2l-5 4l-4-2l4-3l2-7l6-1l2 1l-1-6l-1-1l-2 3h-3l-7-11h-2l-2 4l-2 1l-3-3l2-9l-6-7h-7l-3-2h-7l-3-2l-3 2l-5-1l-2 2l-5-1l-7 2l-3 6h-5l-3 3h6l2 4l8 6l1 7l-6 1l-2 2h-6l-3-3l-12 2l-5-2l-7 2l-4-2l-3 2h-5l-3-2l-18-4l-3 2l-7 1l-6-1l-3 2h-11l-4 3l3 5l-5 4l-5-1l-5-5l1-5l-3 3l-5-4l-3 1l-3-2h-15l-2 2h-3l-2-2l-4 1l-5-1l-3 2l-7-1l-1 2l-5-1l-3 1v4l3 4l3-1l3 2l4-1l1-2l4 2l20-1l4 7l4 1l3 3h5l5 2l5 5l2-1l7 6l15 4l3 3l1 4h18l6-4v-4l6-4l3 1l7-1l2-2l4 2l4-2l4 1l2 2l-2 5l5-1l-3-3l2-2l14 2l5-1l16 1l7-2l9 1l-1-2l1-7l5-3l4 4v3l6 1v3l-2 3l3 6l-3 2l-3-4h-6l-1 1l1 5l8 1l2 3l5-1l-3-3l7-6l6-3l3 3v3l-5 1v4l4 2v5l1 1l1-1l3 3l1-2zM822 182l4-2l3 5l-4 2l-3-3zM688 173l2-4h4l2 2l-3 4zM816 165l1 5l-8 5l-1-4l2-3zM668 152l2-4h2l3 3l-3 3zM795 135l4 4v6l-3 3l-3-1v-4l-2-2z"/><path fill="#2f79b5" d="M364 347l-8 3v3l1 1zM652 290l-5 8l-10 6l1 8l-2 3v6l4 6l5-1l9-25zM947 329l-7-7l-5-8l-8-5l-2-10l-5-3v-5l-3-4l-2 4v9l-4 5h-3l-11-7l3-7l-12-2l-6 4v3l-2 2h-3l-3-2l-5 1l-9 8l-1 4l-3 3h-5l-16 6l1 5l-1 7l6 15l-1 4l1 3l6-2l16 1l3-3l5-2l14-1l10 4l3 5l6-4l1 6h3l2 5l4 3l4 1l7-1l3 2l3-3l7-2l3-9l5-5l2-8zM932 356l2-1l2 4l-2 1zM914 333l2 5l-4 4l-3-2v-5l2-2zM901 323h3l2 2v5l-2 2h-3l-3-4zM284 261l-1 4l-2 1v4l4 4l6 14l9 12l7 3l5 5v16l-1 1l1 1l-4 15v9l-2 4v4l3 2l1 5h2l4 4l5-2l5 5l8-1l-3-3l3-4v-4l2-2h3l2 3l6 1l1-6l-3-3v-5l2-2h4l-5-5l-4-1l-1-5l2-2l3 3v2l1-5l3-2l2 3h2v-4h-2l-3-4v-2l-3-3l1-5l-2 1l-4-7l-7 1l4 5l-1 2l2 2l-1 5l-3 1l-2-7l-4-5l2-4h-4l-4-8l-8-2l-3-3l-2-9l-4-1l-8-6l-4-10zM411 271l-6-1l-10-6l-10-1l-8-4l-3 1l-1 7l-3 2l1 5l-4 2l2 4l-3 3v2h4l2 2v4l4 9l-5 5h2l3 4l-4 6l-2-1l-1-4l-3 2h-3v4l3 3v3l-3 2l-3-3l2 5l-3 4l1 2h4l2 3l-5 5l-5 2l1 1l10 1l6-9l1-6l3-3l16-7l3-3l4-11l1-11l11-15zM369 316l2 2l-1 3l-3-1zM383 305l3-1l4 4l-4 2l-3-3zM378 302l3-1l3 3l-4 1zM299 228l2 2l3-1v-2zM336 226l-1-1l-6 1v2l6 1zM464 216v3l10 9v2l2-2l-1-1l1-3l-1-8l2-2l12 1l6-3l4 5l-2 6l3 1l1 4l8 4l11 1l6-3l14 1l3-4l4 4h3l4 4l6-1l3-4l7 1l6-4h12l1 1l7-1l12 6l-1 7l5 4l-3 18l9 8l1 6l-3 3l-2 8l-6 6h-3l-3-2l-2 1l-15-15l-4-1l-4 3l-2-1l-4 1l-3-3l-5 4l-10 2l-4-3l2 5v6l-5 10v6l6 10l3 16l5 6l4 9v4l4 3l21-4l5-3l10-11l1-8l7-4l-1-12l11-8l5-6l-1-14l-2-3l-1-8l2-9l23-21l6-11l-4-4v-4l-9 2l-5-2l-2-4l-11-9v-2l-8 1l-5-1l-9 2h-16l-8-2h-18l-13 2h-22l-11-2h-20l-1 1l-23-1zM565 325l6-3l5 4l-3 4l-4 1l-4-3zM579 295l7 6l1 5l-1 2l-8-4l-1-7zM580 291l2-2h5l2 2v4l-3 2l-4-2zM471 215l2-2l2 3l-3 1zM790 211l4 4h2l1 3l1-1l1 2l4 1l2 4l5 3v-4l-4-4l2-1v-3l4-5h-6l-7-2l-2 2l-5-1zM634 209l1 9h8l10-4l-1-2h-3l-3 2l-5-6zM795 199v3l4 1v-3zM725 190l-5 2l-1 10l4 11l1-4l2-1l-1-13l2-4zM822 174l-1 1l1 3l3 1l1-2zM504 160l-6-4l-5 2l-1 3l3 2l8-1zM594 144v3l2 2h3v-5zM175 141l-2 5l1 4l3 3l-1 3h4l2 2l-1 6l5 10l3 1l-4-5v-4l1-1l7 7v-2l-5-7v-4l-6-3l-1-10l-3-2l-1-3zM820 130l-3 3l1 2l3-2zM847 122h-3l-4 4l-3-1v2l3-1l3 3h2zM831 115l1 4h5l-2-3zM826 161l-2-3l-3 2l-2-2l1-2l-2-4l4-2l2-7l-6-2l-9-11v-3l2-2l-2-6l-3 2l-6-6l-11-3l-8 1l-2 2l-11-1l-4 3l1 4l-4 1l1 3l3 1l1 3l4-1l2 4v9l-2 2l-13 1l-4-3l-3 1l-3-1l-5 2l-8-1l-3 2l-3-3h-2l-9 4l-1-3l-6-1l-5-3l-18 2l-6-1l-4 2l-13 1l-1 1l3 5l-5 4l-5-1l-5-5v-2l-2 1l-5-4l-4 1l-3-2h-10l-5 4l-8 1l-1-1l-3 2l-2-4l-5 1l1 3h3l3 3l14-2l3 1l2 5l2 2h3l3 4h6l5 2l4 4h3l7 7l14 4l6 7l16-1l2-3l3-1v-3l4-4l12-1l2-2l3 1l8-1l4 2l16 2l3-1l18 1l7-2l6 1l2-4v-4l6-6l8 9l4 2l-2 6l3 3l-1-6l3-4l7-4l8 7l1-2l-3-3zM688 173l2-4h4l2 2l-3 4zM668 152l2-4h2l3 3l-3 3zM818 143l2 2l-2 4l-4-1l-1-2zM806 139l-1 3l-4-1l-1 1l1 2l-5 5h-3l-1 3l-3-1l1-3l-1-4l-6 1l-2-3l5-5h5l3-3h6l3 4z"/><path fill="#1f63a8" d="M941 353l-4 2l1 4zM361 329l6 1l1-2l-4-1zM340 312l-1 3l3 5v-7zM391 311l-10 1l-2-3l-2 1v3l-4 3l2 3v3l-5 5l1 8l-6 3l1 4l7-7l1-6l3-3l18-9l-3-2zM652 291l-5 7l-10 6l1 8l-2 3v6l4 6l5-1l5-13l-1-5l5-7zM947 329l-7-7l-5-8l-8-5l-2-10l-5-3v-5l-3-4l-2 4v9l-4 5h-3l-11-7l3-7l-12-2l-6 4v3l-2 2h-3l-3-2l-5 1l-9 8l-1 4l-3 3h-5l-16 6l1 5l-1 7l6 15l-1 6l8-2l16 1l4-3l7-2h10l10 4l3 5l6-4l1 6h3l2 5l4 3l4 1l7-1l3 2l3-3l5-1l-5-4v-3l4-1l-2-3v-3l4-2l5 5l4-4l2-8zM914 333l2 5l-4 4l-3-2v-5l2-2zM901 323h3l2 2v5l-2 2h-3l-3-4zM285 264l-4 3v3l4 4l6 14l9 12l7 3l5 5v16l-1 1l1 1l-4 15l1 17l3 5l4-2l1 5l4-1l2 2h3l3 3l4-9l-3-7l8-4l3 3l-1 3l3-3v-6l-3-4l1-6l-2-4l5-1v-7h-4l-3 7h-2l-3-3l1-4l-1-5l-4-5v-3l-5-6v-2l-2-2l-6-1l-4-4v-2l-4-4l-1-3l-9-7l-3-9zM324 350l4-1l2 5l-3 1l-3-3zM328 347l2-2l2 1l-1 3h-2zM335 345l2-3l2 1l-2 3zM325 340l3-1l2 4l-4 2zM317 339v-4l3-3l7 1v2l-6 5zM377 259l-1 1l2 2l-2 3l1 5l-2 2l-1-1l-2 1l4 5v5l-3 1l2 13l4 3l3-1l1 3l7 5l2-1l3 3v3l2 1l2-3l1-7l-3 1l-4-8l2-1l4 2l2 3l1-7l9-11l-1-1l1-9l-6-1l-10-6l-10-1zM475 212h4l3 2l4-2l1-2h-9zM800 209l-4 4l5 4l2-4h4v-1zM634 209l1 9h8l9-3v-1h-3l-5 3l-1-6l-2-2zM501 212v2l4 2v3l-3 3l-2-2l-1 1l3 1v5h4l1 3l2 1l10 1l4-2h11l7-4h3l12 8l6-6l8 1l5-3l8-1l7 2l6-1l13 5v6l4 7l-1 3l1 7l-3 3l1 5l9 9v4l-2 4l1 4l-3 2v3l-9 6l-4-1l-4 1l-4-4l-4 6l1 3l-1 1l-2-1l-2 4l4 5l-2 4h-2l-5-5h-5l-2-2l1-8l2-2l4-13l2-1l-2-3l-5 2l-1-1l-2 1l-8-1l-6 4l-10-1l1 8l-5 10v6l6 10l2 10l2 3l-1 3l5 6l5 14l3 1l1-1h12l8-2l5-3l10-11l1-8l7-4l-1-12l11-8l5-6l-1-14l-2-3l-1-12l2-5l14-14l7-5l5-7l2-5l-5-5v-4l-7 2l-5-2l-2-4l-11-9v-2h-3l-3 2l-15-1l-7 2l-22-3h-14l-13 2h-22l-14-2l-3 3l-3-1zM565 325l6-3l5 4l-3 4l-4 1l-4-3zM471 209l-5 6l-1 5l4 4h2l3 4l-1-7l-5-4v-2l5-4zM725 191l-4 2v6l-2 1v2l6 2v-2l-3-5l4-5zM184 160l-2 4l2 2l1 5l2 2l-2-3l1-5l6 6l-6-8v-3zM177 146l-2 3l5 4v-5zM793 153l4 3v2l3 2l3 5l6 1l6-4l6 2l3-4l-4 1l-2-2l-2-8l-6-5v-2l4-2l-2-3h-2l-2 3l1 2l-6 5l-4-2zM808 151l6-1l1 3l-2 2h-4zM803 136l4-1l3 2l1-2l-1-2l-3-1zM807 125l-5-7l-7-4l-9-1l-3 1l-2 4l-4-2l-1 1l-7-1l-3 8l7 4v7l2 4l-4 5l-3 1l-2-1l-3 2l-6-1l-5-3l-1 1l-4-1l-5 3l-4-1l-11 3l-2-2l2-3l-13 6l-2-2v-3l-7-4l-7 1l-6-1l-6 2l-21 2l-1 2l2 3l-5 4l-5-1l-11-8h-9l-2-2h-5l1 1l-1 5l1 6h8l2 2l-2 1l1 2l3-1l-1-2l3-2l2 2l-2 3l1 1h4l4 5h2l8 7h3l10 5l4 5l3 2h3l3-2h7l3-3h2l3-9h14l2-2l3 1l9-1l5 2l15 2l3-1l18 1l7-2l5 1l2-3v-5l4-3v-3l-3-2l-1-3l1-5l-5 2l-4-1v-7l3-3l7-2l2-4l2 2l2-1l2 1l4-2l2 1l4-4zM688 173l2-4h4l2 2l-3 4zM719 155l1 6l-2 2l-4-3l3-1zM668 152l2-4h2l3 3l-3 3z"/><path fill="#124984" d="M330 329l-2 8l2-1l2-4zM393 318l-3-3h-5l-6 3l-4-2l3 5l-1 5zM651 292l-4 6l-9 6v8l-2 3v6l4 6l4-1l5-10v-4l-5-5l5-1l2-2l1-3zM947 329l-7-7l-5-8l-8-5l-2-10l-5-3v-5l-3-4l-2 4v9l-4 5h-3l-11-7l3-7l-12-2l-6 4v3l-2 2h-3l-3-2l-5 1l-9 8l-1 4l-3 3h-5l-16 6l1 5l-1 7l6 15l-1 5h5l4-2l16 1l10-4h10l10 4l3 5l6-4l1 6h3l2 5l4 3l4 1l7-1l3 2l5-4l-3-3v-8l2-4l3-2h3l5 4l3-2l2-8zM914 333l2 5l-4 4l-3-2v-5l2-2zM901 323h3l2 2v5l-2 2h-3l-3-4zM285 266l-3 2v3l3 3l8 17l7 9l7 3l5 5v16l-1 1l1 1l-3 10l-1 10l2 2v6l2 6h4l8-6l-6-2l-3-3l1-2l3 1l1-3h-2l-3-4l1-7l-1-6l4-2l3 4h4l5-5v-4l-4-5l-5-11l-3-3l-5-1l-4-6l-4-2l-1-4l-9-8l-2-8l-7-7zM381 261l-3 4l1 13l-4 11l5 2l-1 6l4-1l2 2v3l5-1l5 3l-3-5h-3l-2-2l2-4h3v-4l-2-3l3-2l1 4l4 4v3l3 1l2-5l-4-4l10-8v-3l-2-4l-12-7l-10-1zM466 218v3l2 2l2-1v-2zM634 209l1 9h6l2-5l-1-2l-3 2l-1-1l1-3zM511 210l-5 7l1 5l-3 1v2l2-1l2 1l1 5h13l9-2l3 1l4-2l2-3l7 1l8 6l9-7l6 3l6-2l24-1l3 3l5-1l2 2l4 15l-1 6l2 2v4l-3 2v3l4 6l6 5l-2 3l2 4l-1 10l-13 7l-12-1l-3 7l-3 2l3 8l-4 3l-4-1l-4-4l-8-1l-2-3l-3 1l-4-3l4-2l2-3h5l4-9l-1-2l1-5l-4-2l-3 2l-5-1l-5 1l-2 2l-4-1l-5 1v6l-5 11l1 7l5 8l2 9l3 4l-1 4l4 5l4 9v4l5 1l6-1l2-2l3 2h6l5-2l13-13l1-8l7-4l-1-12l11-8l5-6l-1-14l-2-3l-1-12l2-5l23-21l-1-5l4-2v-4l-1-1l-4 1l-2-2l2-5l-6 1l-4-2l-2-4l-11-9v-2l-6 3l-10-2l-10 2l-2 2l-6-3l-7-1l-4 1l-8-2l-1 1l-10-1l-10 2h-25l-1-1l-10 1zM565 325l6-3l5 4l-3 4l-4 1l-4-3zM810 157v2l4-1l2 1l-1-3zM808 147l-6 7v3l3-1v-3zM717 148l3 5l3-2l3 2l-4 2l-1 10l2 2l3-3l2 2h5l10 3l12 1l10-2l6 3l5-3l2 1l11-11l-3-2v-8l-4 1l-2 5l-3 1l-3-1l2-10l-3 2l-2-1l-6 1l-2 3l1 4l-2 2l-5-1l-2-4l-6-6l-3 1l1 4l3 3l-3 3l-3-1l-1-4l-6 2l-3-4l-3 1l-7-2l-4 2zM729 150l3 2l-2 2l1 1l-1 2l-2-1l-1-4zM639 144l-1 1l1 6l7 1l1-1l-1-4l-3-3zM633 142l-2 5l1 4l3 1l1-1zM713 165l-3-4l1-4l-3-4l1-3l4 1l-2-7l-7-4l-6 1l-8-1l-6 3l-7-1l-13 3l2 3l-5 4l-5-1l-3-3l-2 5l-3 2v2h2l8 9l3 1l1 2h6l1 3l3 1l2 3h2l7 6l4-2h6l3-3h5l-1-7l4-3l4-1l3 1zM688 173l2-4h4l2 2l-3 4zM661 154l-2 2l-4-1l4-3zM668 152l2-4h2l3 3l-3 3zM774 119h-5l-1 5l3 1l4-4zM806 126l-5-7l-8-4l-3 4l-4 2l-8 1v4l-3 2l2 3l-2 4l2 4l3-3h4l-2-3l2-3l11 1l4-2h5zM783 124l3-3l3 2l-2 3zM789 115l-3-1l-2 1v2z"/><path fill="#053061" d="M311 350v3l4 1l1-1l-2-3zM388 317l-7 1l-1 3l2 2l4-1l-1-3zM650 295l-10 7v4l-2 2l-1 15l6 4v-3l3-2l-4-8l1-8l2-2l5-1l1-4zM948 335l-2-8l-6-5l-7-10l-6-3l-2-10l-5-3v-5l-3-4l-2 4v9l-4 5h-3l-11-7l3-7l-12-2l-6 4v3l-2 2h-3l-3-2l-5 1l-9 8l-1 4l-3 3h-5l-16 6l1 5l-1 7l6 15l-1 4h5l5-2l2 1l14-1l1 1l8-3h10l10 4l3 5l6-4l1 6h3l4 7l6 2l7-1l3 2l3-3l-2-4v-9l2-4l7-2l6 5l3-5zM914 333l2 5l-4 4l-3-2v-5l2-2zM890 325l2 1v3l2 2l-2 3h-2l-3-4zM873 325l3 1v3l2 2l-2 2l-2-1l-2-4zM901 323h3l2 2v5l-2 2h-3l-3-4zM624 280l-1 8l-8 4l-4 4h-3l-2 4l-3-1v-3h-5l-6 8l1 2l6 3l-2 3h-2l-2 3h-10l-8-6v2l2 1l-1 6l-3 2h-6l-2-4l4-2v-3l-7 1l-3-6l4-6h4l2-4l6-1l-1-3l3-2l-1-4l2-3l-1-1l-14 1l-5 4l-4-2l-3 1l1 1l1-1l1 2l-3 1l-2 4l-1 10l3 2v2l-3 1l4 3l-1 4l2 7l7 7l-1 5l1 2h3l1-2l5 2l-1 3l-4-1l-4 2l4 7v3l5 1l9-5l2 3l9 1l8-6l-1-2l2-2l1 1l5-5l1-8l7-4l-1-12l11-8l4-5l1-5l-1-10zM577 323l3-1l2 2l-4 1zM565 325l6-3l5 4l-3 4l-4 1l-4-3zM285 267l-2 5l7 13l4 3l1 6l5 6l7 3l5 5v16l-1 1l1 1l-3 10v9l1 1l4-1l1-3l-2-13l5-5l4 3h3l4-4l-1-4l-4-6v-4l-4-5l-3-2h-3l-4-4v-2l-5-3v-3l-11-10l-1-3l1-2zM383 262l1 6l-1 1l-3-1l1 3l-1 3l3 5l-4 2v3l2 2v5l3 4h2v-2l5-3l-4-7l2-2l2 1l3-2l5 4l7-7v-3l-5-7l-6-3zM387 278l5-1l1 2l-5 1zM638 209h-4l1 9l2-3l-1-4zM510 213l3 3l-2 5l1 1l4-3l2 1l-3 5l-5 1v3h3l2-3l3 2l9 1l3-2l3 1l4-2l3-4l5 2l2-1l4 2l1 3l4 1l8-7l3 3h13l8-2l7 1l4-2l9 2l6 6l-2 4l4 7l-1 6h3l2 2l-1 2h-3v5l-2 3l3 6h3l3 4v3l-2 3l3 2l-1-8l2-3l-1-2l5-3l10-11l7-5v-4l-2-4l6-4l-2-1l-4 2l-2 3h-2l-3-6l3-3v-2l-4-2l-2-4l-11-10l-5 3l-6-1l-1 4l-3-2l1-1l-1-2l-10 2l-3 3h-2l-3-4l-5 1l-3-2l-5 1l-5-2l-6 1l-4-2l-12 3l-5-1l-9 1l-17-2l-3 3l-2-1zM637 226l1 3l-3 2l-2-2zM608 221l2-1l6 5l-1 1l-4-2l-2 1zM605 217l2-1l2 3l-2 1zM786 151l-3-1v4l-2 3l-2-1l-4 1l-3-3v-2l-4 1l-2-2l1 7l-3 2l-2 4l-2-1l2-5l-3-2l-4 1l-3-3l-5 2h-6l-3-3h-2l-6 6l-3-2h-3v1l7 3l1 4l11 1l1 2h11l1 1l11-2l3 3h2l5-6h3l6-4l-1-3zM775 158l2 3l-3 3l-2-3zM710 145l-8-4l-4 1l-9-1l-5 3l-7-1l-12 3l1 2l-5 4l1 7l-1 1l-4-1l1 1l-1 3l6 4l6-1l2 5l7 7l4-3l1 4l3-2l5 2l4-4l3-1v-4l3-3l8-4l-2-3l-7 1l-2-7l4-2l2 5h3l-2-6l5-4zM688 173l2-4h4l2 2l-3 4zM693 154l3 1v6l-2 2l-4-4v-2zM668 152l2-4h2l3 3l-3 3zM773 120h-3l-1 3l1 1l2-1zM804 125l-4-5l-6-3l-2 3l2 4l-9 4h4l2-2l3 2h4l1-2h2l2 2z"/></g></g><g filter="url(#db)"><circle cx="96.0" cy="32.1" r="1.0" fill="#2b1020"/><circle cx="103.1" cy="31.2" r="0.8" fill="#3a1525"/><circle cx="113.8" cy="34.2" r="0.8" fill="#3a1525"/><circle cx="120.0" cy="71.4" r="0.9" fill="#1d2a45"/><circle cx="136.1" cy="71.7" r="0.8" fill="#33405a"/><circle cx="146.5" cy="69.9" r="0.8" fill="#33405a"/><circle cx="102.2" cy="57.1" r="0.9" fill="#1d2a45"/><circle cx="277.4" cy="56.8" r="0.8" fill="#1d2a45"/><circle cx="153.4" cy="100.8" r="0.9" fill="#1f4f80"/><circle cx="462.0" cy="38.7" r="0.9" fill="#3a2a3a"/></g>
</g>
<rect x="75.4" y="36.3" width="512.4" height="213.4" fill="none" stroke="#a8a8a8" stroke-width="2"/>
<g><path d="M150.4 256.7L130.3 263.7L150.4 270.7Z" fill="#053061"/><path d="M512.8 256.7L532.9 263.7L512.8 270.7Z" fill="#67001f"/><rect x="149.9" y="256.7" width="18.6" height="14" fill="#124984"/><rect x="168.1" y="256.7" width="18.6" height="14" fill="#1f63a8"/><rect x="186.2" y="256.7" width="18.6" height="14" fill="#2f79b5"/><rect x="204.4" y="256.7" width="18.6" height="14" fill="#3f8ec0"/><rect x="222.6" y="256.7" width="18.6" height="14" fill="#5fa5cd"/><rect x="240.8" y="256.7" width="18.6" height="14" fill="#84bcd9"/><rect x="258.9" y="256.7" width="18.6" height="14" fill="#a7d0e4"/><rect x="277.1" y="256.7" width="18.6" height="14" fill="#c5dfec"/><rect x="295.3" y="256.7" width="18.6" height="14" fill="#dbeaf2"/><rect x="313.4" y="256.7" width="18.6" height="14" fill="#edf2f5"/><rect x="331.6" y="256.7" width="18.6" height="14" fill="#f8f1ed"/><rect x="349.8" y="256.7" width="18.6" height="14" fill="#fbe4d6"/><rect x="367.9" y="256.7" width="18.6" height="14" fill="#fcd3bc"/><rect x="386.1" y="256.7" width="18.6" height="14" fill="#f7b799"/><rect x="404.3" y="256.7" width="18.6" height="14" fill="#f09c7b"/><rect x="422.4" y="256.7" width="18.6" height="14" fill="#e27b62"/><rect x="440.6" y="256.7" width="18.6" height="14" fill="#d35a4a"/><rect x="458.8" y="256.7" width="18.6" height="14" fill="#c2383a"/><rect x="477" y="256.7" width="18.6" height="14" fill="#b1182b"/><rect x="495.1" y="256.7" width="18.6" height="14" fill="#8d0c25"/><path d="M149.9 256.7L513.3 256.7L532.9 263.7L513.3 270.7L149.9 270.7L130.3 263.7Z" fill="none" stroke="#000" stroke-width="1.6" stroke-linejoin="miter"/><path d="M167.8 270.7v8.4" stroke="#000" stroke-width="1.9"/><path d="M222.4 270.7v8.4" stroke="#000" stroke-width="1.9"/><path d="M277 270.7v8.4" stroke="#000" stroke-width="1.9"/><path d="M331.6 270.7v8.4" stroke="#000" stroke-width="1.9"/><path d="M386.2 270.7v8.4" stroke="#000" stroke-width="1.9"/><path d="M440.8 270.7v8.4" stroke="#000" stroke-width="1.9"/><path d="M495.4 270.7v8.4" stroke="#000" stroke-width="1.9"/></g>
<g font-size="18.4px" text-anchor="middle"><text transform="translate(167.4 309.5) rotate(-45)" y="6.5">−4.5</text><text transform="translate(222 309.5) rotate(-45)" y="6.5">−3.0</text><text transform="translate(276.6 309.5) rotate(-45)" y="6.5">−1.5</text><text transform="translate(330.4 304) rotate(-45)" y="6.5">0.0</text><text transform="translate(385 304) rotate(-45)" y="6.5">1.5</text><text transform="translate(439.6 304) rotate(-45)" y="6.5">3.0</text><text transform="translate(494.2 304) rotate(-45)" y="6.5">4.5</text></g>
<g transform="translate(636 36.3)" clip-path="url(#mc)">
<g filter="url(#mb)"><g fill-rule="evenodd" transform="translate(.25 .25) scale(0.5)"><path fill="#dadada" d="M655 170l8 8l3 1l7-1l3 3l4 1l-3-5l-16-4zM464 196l2 5l-1 5l3 2l7 1l39-1l11 2h22l12-2h18l9 2h16l9-2h11l-1-4l-4-3v-6l-9-17h-7l-31-9l-38 2l-15-3h-27l-14 8l-5 5zM615 179l3 6l4 4l1 5l10 14h8l5-6l4 4l15-2l15-12v-2l-8-5v-3l-7 5l-6-1l-1-3l-2 2l-2-5l-6-8l4-4l-11-6h-18l-1 3l6 14l-1 1zM474 24l-20-1l-21-4h-26l-16 2l-44 1l-9 1l-7 2l-1-1l1-1l-4-3h-46l-1 1l-21 1l-9 4h-6l-5 2v5h16l1 1l-1 4h-16v3l11 2h29l4-1l-1-1l-12-1l-1-1l1-1h15l8-5l19-4l1 1l-8 3l5 3l14 3l21 1l9 8l3 5l9 2l1 1l-2 2l-5 1l1 7l12 13l15 5l3-6l7-8l9-2l14-7l18-1l8-4l2-6l6-6l4-15l2-2z"/><path fill="#e9e9e9" d="M924 372l3 6h4l2-3v-3zM1007 374l-4-3l-4 5l-9 5l-4 5l3 1l8-1l1-4l6-4zM1005 355l4 5v4l-2 3l4 6l8-10l-7-2zM653 122l5-1l5 2v4l-6 3l4 4l1 3l3 2l-1 3l3 3h39l3-4l3-10v-3l-2-2l-24-7h-14zM677 124l2-2h5l3 4v3l-7 3l-3-4zM157 49l3 3h9l8-3l2 2l1 5l4 2l8 1h24l5-1l2-2l16 2l15-3l8-4l8 5h18l10 4l16-3l-4-3l-17-6l1-1l-5-1l-28 1l-5-3h-14l-1-1h-17l-12 3l-2 2h-20l-1 1h-7l-8-4h-15zM905 42l9 1l14-2l-15-1l-8 1zM167 40v1l10 2l10-1l15 1l8-2v-1l-6-1h-35zM214 40l24 1l-1-3h-21zM705 37l-32 5l-14 10l7 2h7l8-9l16-4zM240 37h15v-3h-14zM193 34l1 1h34l3-2l-2-1h-32zM544 30l8 5l12 2l22-9h-28zM784 31l10 2l14-2l-10-5l-6 1zM686 25l-18-1l-20 3h34z"/><path fill="#edf2f5" d="M652 291l-7 8l-8 5l1 8l-2 3v6l4 6l5-1l2-4l3-12l4-9zM947 329l-11-12l-2-5l-4-1l-3-3l-2-9l-5-3v-5l-3-4l-2 4v9l-4 5h-3l-11-7l3-8l-4 1l-4-2h-4l-6 4v3l-2 2h-3l-3-2l-5 1l-9 8l-3 7l-9 1l-13 5l1 5l-1 7l6 14l-1 6l1 4h8l4-3h10l3-3l5-2l14-1l10 4l3 5l6-4l1 6h3l2 5l4 3l7 1l3-2l4 3l3-3l7-2l3-9l4-4l3-8zM839 279v1h6l19 4l7-4zM812 274l5 3l19 3l1-1l-1-2l-8-3l-2 1l-1-1l-5 1l-4-2zM945 269l-2-1l-8 4l1 1l5-1zM885 258l3 3l4 1l-4 2l2 2l7 1l7 3l3 5l-2 3h3l5 3l1-1l4 1l4-4h2l9 7h6l-6-4l-3-5l1-2l-3-1l-6-6l-16-5h-4l-6 4l-3-7zM866 252l-1 1l-9-1l-3 2l-2 7l1 9h2l1-6l4 4h2l-4-6l4-4l-8-1l4-4h9zM784 240l3 6l6 5l8 14l7 6h4l1-7l-24-23zM850 240l-6-4l-10 10l-11 5l-1 4l3 6l4 3l11 2l5-10l5-4l-4-4l1-5zM871 233l-2-4h-2l-7 6l9 2zM739 229v8l3 1l2-4zM869 221l-9 2v3l4 2l5-4l-1-2zM462 214l3 6l9 8v3l15 11h5l5-2l8 1l10-4h7l5 6l7-1l4 4l-2 13l2 4l7 7v4l4 10v6l-5 10v6l6 10l3 11v5l5 6l4 9v5l4 2l6-2l12-1l6-3l11-11l2-9l7-4l-1-12l11-8l5-6l-1-14l-2-2l-1-9l2-9l23-21l9-18v-3l-17 4l-4-2l-2-4l-11-11h-12l-9 2h-16l-9-2l-52 2l-11-2l-39 1l-7-1l-3-2v3zM603 254l6 1v6l-2 2l-5-2zM855 203l-1 3l1 9l8 4l1-1l-6-3l1-12zM301 203l9 1l6-2l-3-2h-10zM827 200l-2-1l-3 2l2 2zM681 191l-10 10l-6 4l-15 2l-4-4l-5 6h-7l-1 4l2 5h8l7-2l18-9l8-6zM275 192l5-1l8 3l3 4h8l-15-8h-7zM858 185h-2l-2 4l2 3zM883 160l-1 5l3 1l1-5zM563 168h-3l-5-4l-9-2l-5-5l1-6l-7-1l-1 1h-16l-12 5l-11-2l-2 5l-9 8v3l6-3h27l15 3h14zM571 144l4 7l4-2l-3-6zM914 138l-3 1l-2 7l-7 4l-4 5h-9l-4 3h3l3 3l3-2l-2-1l1-1l13-1l6-2v-6l3-4zM485 144l1 5h5l6 3l3-2l1 1l6-1l5-5l-1-1l1-4l-17 1l-5-1l-3-3zM911 135l2-1l7 1l4-2l1-2l-9-5l-3 1zM344 119l12 3l5-1l-1-4l-6-3l-2-4zM916 102v22h1l5-8l-3-3l-1-5l1-1zM444 69l3 3l5 2h11l9-3l-1-3l-4-1h-18zM0 60v9l6-2l3 2l12 3l7-4zM335 66l-20-9l-12 3l-1 1l2 1v2l-3 4l-10 3l13 1l9 5l11 1l4-6zM41 60l-7 9l4 2h15l1 1l-1 3l-9 1l-4 3l1 2l3 2l6 1l2 4h10l1 1l-1 2l-16 8l7-1l15-6l5-3l6-7l2 4l8-3h7l7 2l1-1l1 1h10l6 3l9 1l11 11l4 2l5 7l6 3l-1 1l-7-1l10 6l1 4l-1 12l2 9l3 3l5 10l6 2l7 7l7 13l10 11l-7-12l-6-7l1-5l26 27v6l18 10l6 2l8-1l7 6l12 3l7 9l6 5l7 2l1-3l3-1l5 3v10l-10 14l2 6l-3 3v4l4 4l6 14l9 12l7 3l5 5v19l-4 14v10l-5 9l-2 12l2 9l-6 8v8l4 7l11 8l13-1l-6-4l-4-5l9-12l-4-4l4-2l6-7l-4-5l8-1l2-6l12-2l1-5l-3-5l1-1l5 2l4-1l1 1l11-11l5-8l1-6l3-3l9-5l7-2l3-3l3-8l2-14l11-15l-1-8l-5-1l-11-6l-10-1l-14-6l-2-2v-4l-5-9l-6-3h-8l-9-7l-6-7l-1 1h-16l-5-3l-4 2l-2-4l-5 3l-5 1l-5 6l-6-2l-6 2l-7-7l1-8l-2-2l-7-3h-5l-1-4l-3-1l-4-4l-10 2l-6-5l-3-10l2-12l9-6l13 1l1-3l17 2l2 2v5l2 4l4 1v-6l-3-7v-4l2-3l14-9l-1-4l6-7v-3l3-2l7-1l-1-1l1-3l5-4l7-2l2 4l6-3l6-1l3-3l-2 2l-8-1l-4-4l2-4h-6l-7 4l-3-1l14-8h16l10-5l-3-4l-7-4l-13-14l-6 5l-7-1l-3-2l-1-5l-14-4l-8 1l1 1l-1 10l3 6l-5 6v5l-2 3h-3l-5-5l-1-6h-7l-8-4l-13-1l-6-6l3-8l3-3l7-4l8-2l4 4l9 1l3-2l-8-5l-6-1l11-2l3-3l-1-3l-4-2h-5l-6 6l-13-7l-11 1l-4 4l-29 1l-1-1h-25l-11-4l-27-1l-7 2h-18l-53-6l-15 3zM284 135l-3 3l-6-1l7-3zM284 134l1-2l5-2l5 1l-1 2h-6l-2 2zM271 125l10-1l4 5l-6 5l-6-4l1-2zM269 124l1 1l-1 5l-6 7l-2-2v-10zM250 122l12-6l8 2l2 5l-1 1h-10zM155 113l2-1l4 2l1 3l-2 1zM234 102l2 2l2 6l-1 3l-6-5l-2-4zM199 77l-4 4l-8 2l-8-1l8-5l8-1zM157 68l10-4l9 3l-5 4h-10zM1023 59l-6-1l-20 1l-1-2l-28 1l-3-3l-4-1h-17l-17-4h-19l-4 2l-23 2l-16-8l-14 3l-20-2l-1-1l1-1h3l-1-5l-18-2l-8-3l-11 4l-35 3l-17 4l-1 1l5 5l-3 3l-4-1l-5-4h-8l-4 4l2 6l-2 4l-4 3l-3-1l4-3l-3-3v-8l-6-4l-8 1l-1 5l4 6l-1 1l-22-4l-10 4l-1-1l-1 1h-10l-14 2l-3 2h-2l-1-3h-4l-1 5h-6l-4 2l-2 3l-6-1l-1 3l-6-1l-5-7l1-1l20 1v-2l-14-5l-15-1l-1-1l1-1l-2-1l-15-1l-27 7l-12 11l-16 7l-1 6l4 4h6l3-2h3l7 10l7-1l8-10l-3-4l1-4l10-6l3-4h7l1 2l-10 7v5l2 2l20-1l2 2l-1 1l-15 1l-1 1l1 4l-9 1v5l-4 3l-5-1l-8 2h-13l-3-3l2-3v-4l-6 2l1 8l-3 2l5 7l10-2l6 3l8-2h6l4 2l7-1l4 1l2 2v14l5 5v3l-4 3l5-1l-1-4l9-11h6l2 2l-2 1l2 3l6-2l-2-2l1-2l5-2h5l1 1l-5 4v2l12 6v3l-4 2h-9l-6-3h-4l-3 2h-7l-3 1l-1 2l-6 1l1 1l-1 4l4 4l3 1l5-2l5 2l5-1l6 1l-3 11l-3 4l-9-1l-1 1h-10l-12-4h-5l-3 2l-1 3l11 2l22 7h6l4-4l3 6l1-1l12 1l-6-16l2-2h18l11 6l1 2l3 1l-1 1l2-1l20 6l4 5l-1 2h21l10 7l-2 2l3 3l4-1l3 1l1 12l3 4l2 7l7 14l7-7l1-7l-1-6l6-4l9-9l4-1l2-4l8-1l4-2l7 8l3 11l3-3l5 1v6l2 4v15l4 3l4 11l5 4h2l-3-10l-6-6l-4-8l2-7l2-3l1 2l4 1l2 4l6 4v2l6-6l5-2l-1-9l-7-8l-1-5l7-7h2l3 3l1-2l10-2l9-4l9-10l3-5l1-8l-7-9l8-6l-9-1l-4-4l1-2h4l6-4l2 5l7-3l2 2v4l4 1l-1 4l1 5l7-2l1-3l-5-10l10-9h6l5-2l15-12v-7l3-5l-1-2l-9-2l-6-3l7-4l6-6l8-4l28 1l5-1l7-7h11l7-2l1 2l-2 2l-10 5l-10 8v11l2 4l5-5h4l9-9v-4l7-6l14-1l13-6l11-1l-4-5l6-1zM645 127l2-3l7-4l32-2l24 7l3 3v3l-3 10l-4 5h-39l-4-3l3 5l-5 4l-5-1l-5-5l1-5l-6-8zM825 98l-2 5l-9 6l-4 1l-2-1l6-3l9-9zM606 82l-2 3l-3 1l-4-1l7-5z"/><path fill="#f8f1ed" d="M308 381l-2 7l-2 2l3 4l-2 3l2 4l-2 6l4 3l2-1l3 1l-1-5l5-8l-3-8l1-4l-3-3zM320 270l-2 3v3l5 2l4 4h2l3-5l-8 2l-2-3l1-3zM320 263h-2l-3 3l1 3l5-3zM897 264l1 4l6 2l2 4h2l-1-6l4-2l-1-4l-8-1zM344 261l-2 2v3h2l1-2zM358 259l-1 2l2 4l3 1l1-1zM885 258l3 3l3-1l1 1l-3 3h6l-2-6zM861 258h-4l-2 4l2 3h1l-1-4zM844 240l-4 1l4 3l-2 2l-5-3l-3 3l-5 2l-5 5l-1 4l4 6l2 1l-3-7l3-6l3 2l1 3l3-1l3 2l2-1l4 1l1-2l-3-1v-3l4-1l-1-2l1-3l-3-2zM832 253l3-1l2 2l-2 2zM271 152l2 3l6 3l1-3l-3-3l-3-1zM911 139v3l3 3l1-4zM240 140l1 5l-2 2l1 6l-3 3l-2 7l1 1l5-1l1-5l5 1l1 3h2l5 5l-2 1v2l4 2l1-3h3v-4l2-3l-2-4l3-1l1-2l-3-4l-4 1l-4-5h-2l-1-4l-4-4zM268 138l-1 1l1 6l4 3l2-2v-4l-4 1l-2-2l1-1zM635 121l-1 6l4 1l3 4l3 1l1-5l-4-6zM318 124h5l3 3l6 1l5-1l3-3l-2 2l-8-1l-4-4l2-4l-8 1l-1 1l1 2zM352 110l-8 9l2 1l-1-1l2-2l4 1l3-4zM824 103l-9 5l5 1zM962 104h5v-1l-3-2zM352 107l-4-5l-11-5l-6 5l1 5l-2 2l-2-4l-3 3h-3l1 3l-4 3l-3-5h-5l-2-2l-1 2l5 5l-1 3h2l-1-2l1-1l3 3l9-5h12l-2-3l1-1h3l2 4zM159 97l-2 1l-2 4l1 2h3l1-5zM541 92l-6 2l1 8l-3 2l3 4l8-2l2-4l2 1l2-1h-8l-3-3l2-3zM292 84l-2 4l1 3l2-1zM974 82l-5 3l4 2l2-3zM8 62v2l1-1l3 1l-1 3l1 2l4-4l2 1l2 4h4l4-2zM1010 58v3l8 1l3 3v4l2 1v-11zM991 58l5 3l3 4l2-1v-3l-4-2l-1-2zM36 66v4l2 1h15l1 1l-1 3l-9 1l1 2l4-2h5v-7l7-6l4 6l-2 5l-4 3l-1 6h4l3-4l3 2h5l2 3l4-2l2 3l4-1l1-4l11 1l3-2h3l2 3l4-1l3 3l6-1l3-2l1 1l-1 2h5l2 3l10-3l6 1l2 7l4 3h2l2-4l5-4l2 2l-1 4l3 5h2l2-3l4 3l-5 5h-3v1l4-1l3 3l6 2l2 4l4-2h4l2 3l5 3l-3 6v3l2 2l5-1l-1-3l2-3l6-3h5l1-4l2 1l-1 4l2 2l3-3l6 1l3-3l3 2l1 3l2-2l-1-2l2-1l1 7l7 3l3-5l-2-6l5-5l8-4l4 2l-3 3l9-1l4 1l-1 4l-3 1v2h3l3-2l3 5l5-2l1 2l-4 4h6l2 2l-1-7l5-5l1 1l-1 9h2l2-3l4 5l8-1v-3l-3 3h-2l-4-5l2-5h3l4 5l-3-12l-5 1l-1-3l-3-1l-3 2l-1 3h-4l-5-5l-1-6h-4l1 2l-3 1l-2-2l1-1l-3-2v2l-4 3l2 6l-1 1l-4-3l-2-6h-3l-2-2l2-4h-6l-6-6l3-8l3-3l8-4h-4l-8-3l-3-4l1-5l-3-2l-4 3l-6 1l-3-1l-7 3l-4-2l-15-1l3 4l-2 2h-3l-2-2l1-4h-16l2 2l-3 3l5 5l-7 3l-3 5l-3-2l-1-3l4-2l1-5l-4 1l-1 2h-11l-4-3l10-4l3 1v-3l-1-1l-5 1l-3-4l-12-1l2 1l-2 5l-5 1l-3-2l-4 1l-2-2l-2 2l-2-4l-4 1l-22-3l-16 1l-9-2l-14 1l-2-2l-3 1l-7-1l-13 5l3 2l-3 4l-2-1zM177 106l3-2l3 1l1 2l-5 2zM234 102l2 2l2 6l-1 3l-6-5l-2-4zM175 84l-4 4l-5-2l1-2l5-2zM199 77l-4 4l-8 2l-8-1l8-5l8-1zM42 68l1-2h3l-2-2l1-3l6 1l2 2l-8 7zM54 62l1-2l4 1l-2 2zM967 59l-6-5h-7l-3 4h-4l-2-2l-13-3l2 4l-2 2l-5-1l-3 3l-1-1l1-4l-3 4l-3-4l-9-1l-3-4l-7 1l1 3l-3 2l-3-2l-6-1v3l3 3l-7 2l-6 5v2l3 3l-3 2l-5-8l-2-7l4-3l2 1l6-3l-18-8l-16 3l2 2l-1 3l-5 4l-3-1l-3 6l-2 1l-1-1l1-6l-4-2l2-2l3 2l1-1l-3-4l1-3l-7-1l4-1l-1-5l-5-1l-2 3h-3l2 4l-4 4l-7-2l-3-3l1-4h-3l-6 3l-3-3l-4 2l-2-4h-7l-31 4l-6 2l-1 2l-5-1l-1 1l5 5l-3 3l-6-1l-3-4l-9 1l-3 3l2 6l-2 4l-4 3l-3-1l4-3l-3-3v-8l-6-4l-8 1l-1 5l4 6l-4 1l1 2l-1 2l-3-1l1-4l-17-3l-10 4l-1-1l-1 1h-10l-14 2l-3 2h-2l-1-3h-4l-1 5h-6l-4 2l-2 3l-5-1l-2 3l-6-1l-5-7l1-1l20 1v-2l-7-3l-6 1l-3-3l-6 2l-3-2h-4l-1-2l-4 2h-3l-1-2l-4 1l-3-1l-10 11l-11-2v2l-3 3l2 4l-2 1l-3 7h-4l-2 2l1 2l-1 2l-2 1l-3-2l-1 1l-2-2l1-2l-1-3l-5 2l1 2l-2 3l3-2h3l7 10l7-1l8-10l-3-4l1-4l10-6l3-4h7l1 2l-6 4l-2 4l-2-1v5l2 2l20-1l2 2l-6 2h-10l-1 1l1 4l-9 1v5l-4 3l-3-1l-9 1l2 2l3-2l2 2l-2 4l3 2l4-1l4 4h5l2-3h4l1-5l4 3l1 3h2l4-5l3 2h6l1 3l3 1l5 6l6 2l-1-5l2-2l3 1v3h3l5-7l3 1l5-2l4-4h2l4 6l4-1l3-7l-2-3v-4l4-3l1-3l4 3v3l-5 5l4-4l7-1l1 5l5 3l-2 7l9-7l-7-4l-2-3l7-1l6 4l2 3l4-1l4 7h2l3 4h5l3-2l2 4l6-1l5 3l3-3l5-1l5-3h4l3 3l9-2l6-4h3l-3-1l-2-3l2-2h5v-2h-3l-3-2l2-5l3-2l5 3v2l-3 2l3 2l1 5l4 4v2l-3 2l2 6l3 1l7-7h2l1-4l3-2l5 4l5 1l3-4h4l2-2h2l2 3h3l11-10l2 1l-1 1l1 2l1-5l-3-3l-4 4l-1-1l1-4l5-1l1-3l-2-2l-6-1l8-4v-4l2-3l2 1l1 7l-2 2l1 3l7-3l3-6h3l2 3v3l-5 4h-4l-2 2l2 10l-3 4l7 8l2-1l-2-8l4-3l5 1l7 7l6 2l2-1l3-6l-1-3l2-2v-5l8-6h3l4-6l7 2l1-6l13 1l1-2l6 5h4v-4l5-2l4-6h5l3 3l-1 3h3l2 2h3l3-5l5-1l6 8v3l5-1l6-6l-5-4l2-2v-4l3-3h4zM797 102l4-1l2 3l-3 1zM761 84l2-3l3 1l-1 3zM720 82l2-1l2 3l-3 1zM714 81l1-1l4 3l-4 1zM606 82l-2 3l-3 1l-4-1l7-5zM786 74l2 2l-1 3l-3-1zM845 74l1-1l3 1l1 3l-2 1zM886 72l3 2l-2 4l-2-2zM736 72l2-1l4 5h2l4-4l3-1l4 3v3l4 6l-4 1l-3-2l-1 5l-3 3l-1 4l-3 1l-2-2v-8l2-1v-2l-4 1l-3-3l-2-5zM836 68l2-2l5 5l-4 2zM684 63l4 4v4l-7 3l-1-2l2-3v-4zM707 66v-3l2-2h4l2 2l-4 1l-3 3zM913 60l2 3l-3 3l-2 5l-3 2l-2-2l1-7l2-3zM691 60l5 4l-1 7l1 1l3-2l3 3l-3 10l-4 4h-4l-4-3l5-4l-5-5l6-7l-3-4zM888 65l1-2l4-1l2-3l7 5l-1 1l-3-1l-6 3zM816 60l3-1l2 3l-3 1zM905 58l3-1l1 2l-3 1zM871 53l2 3l-4 2l-1-2zM709 54l4-1l2 3l-4 2zM853 52h3l2 2v3l2 3l-2 2l-6-3zM758 53l12-1l5 4h3l1 5l7 5l1 3l-2 3l-4 2l2 4l-3 4l-3 2h-3l-2-2l-3 1l-4-4l-3 2l-2-2v-4l-4-2v-3l-3-3l1-1l-1-5l3-3zM731 53l2-1l7 6l-3 1l-5-2zM859 53l2-2h3l2 4l-6 1zM831 47l2 2v5l-4 5l5 4l-8 4l-3-5v-7l4-7z"/><path fill="#fbe4d6" d="M310 387l1 2l-2 5l1 2l2-2h3l-1-4zM252 159l3 3l3-2l-1-2zM324 117l3 3l-5 1l5 4h6h-3l-4-4l2-4zM613 111l-1 2l4 2v-2zM719 105l-2 1l-2-1l-2 2v3l1 1zM276 105l-2 6l-3 2l5-1zM344 104l2 3v3l5-2l-1-3zM202 103l-3 4l-6 1l3 5l3-1l2 2l-1 3l6-2v-4l2-2l-2-2l-3 3l-1-3l2-1zM725 102l-4 5l2 2l6-2l-2-1v-3zM785 102l-3-1l-7 5h-2l1 1l-1 5l6-2zM606 102l-2-2l-3 5zM239 99l-4 3l2 5l5-5zM536 97v2l5 4l1-1l-3-4zM222 96l-2 4l2 2l4-1l1-3zM695 91h-3l-2 3v2l3 2v-4zM838 91l1 8l3-3h7l1 2l3-1l-4-3l1-1l-1-1h-5l-2-2zM697 91l5 5l-2 5l5-1l1 4h3l2-3l3 1v-3l-6 1l-3-6l-4 1l-2-5zM237 91l1 5l3-4l2 2l3-1l2 1l-2 3l1 2h2l2-3l-7-7h-2l-2 3zM709 87l2 3l-1 5l2-1l1-3l8 4v-6l-3 1l-6-1zM781 86h-2l-1 6h-6l-2-3l-2 1v4l2 2l3-1l2 2v4h1l-1-3l2-2l7-1l-2-4l1-3zM724 88l2 8l4-1l1 1v4l-2 3l1 2l2-1l3 2l4-2l2 3h5l2-9l-4-1l-4-4l-1-8l-4-3l-3 3l-2 5l-4-3zM684 82l-1 3l3 6l1-2zM701 81l2 3l-1 2l1 4l2-2v-6zM147 79l-1 1l3 3l-1 7l3 3l2-4v-3l-2-2l3-3l-3-2zM134 84l5-3l-2-2h-3zM831 74v4h2l1-4zM223 72l-2 7l5 3h4l5 5v-3l4-9h-5l1 4l-2 1l-2-2l1-2l-1-2l-3 1l-3-3zM189 72l-1 3l3 1l1-4zM170 73l-3-1l-3 2l1 3l5-1zM170 90v2l5 4l-2 5l1 5l3-4l5-1l-1-4l-5-4l5-5l5 5l-2 2l1 4h2l2 3h3l1-1l-1-3l5-4l3 4h3l2-2l2 2v4l3 5l3-3h2l1 2l-3 3h-2v2l4 1l-1 3h4l1-2h2l1-4h2l4 4l3-1l-2-5l-11 1l-4-7v-2l3-3l1-5l4-1l4 1v-3l-2-3l-12-8l-3 1l-1-2l-1 3l-6-1l-1-1l2-2v-3l-3-2l-2 1l1 3l-2 2l3 1l-4 4l-1 3l-1-2h-5l1 3l-2 2l-6 1l-4-3l-4 5zM240 69v2l3 2v4l2 4l4-4l6-3h-3zM227 65l-7 1l-1 6zM673 64l-3 1l-2-1l-1 2l2 3l-2 1l-3-2l-3 6l-3-4l-3 1l1 6l-4 4l-4-1l-3 1l4 3l-2 4l2 1l4-2l10-1l4 6l1-1l6 1l-1-3l-9-5l3-5l3 1l-3-3l1-7l1-1l2 2l-1 1l1 3l5-5l-4-1zM843 62l2 3l3-1l-1-2zM656 62l1 3l5 2v-2l-3-3zM869 61l-4 2h-4l-2 2v3l2 3l-2 4l-4 3l-9 2v2l3 2l3-2l3 1l-2 4v6l4 4l1 4l6-5l1-6l6-2l2-2l-1-2l4-3v-2h-6l-1-7l-5-3v-3l2-2l2 1l2-1zM239 61l-4 2l1 4l2-1zM154 61l-2 2l3 3l-3 6l-6-3l1-3l-2 1l1 7l3-1l6 1l2-3v-7zM730 59h-2l-5 6l3 1l-3 4l1 3l-1 4l2 3l5-4v-4l-3-3l1-2l5-1l7 4l2-1v-2l-10-3l-3-3zM681 62l-1-3l-5 1l4 3zM563 100l9 9l2-1l2-4l5 1l2-3h4l4 4l7-9l5 1l6-1l1-2l-1-4l3-2l3 3v3l-5 5l2 2l5-4l1 1l-1 8l2 2l7 1l2-4l4 1l1-1l-1-1l-2 1l-4-1l2-4l6 1l1 2l5-3l6 1l1-4l-3-2l1-8l-4-7l2-7l3 2l3-2l-3-5l1-3l4-1l1-2l-9 2l-3-3h-2l-1 5h-6l-3 2l2 2l4-2l2 3l-3 2h-5l-2-3l-3 1l-1 4l-4 1l-1 4l1 2l-2 1l-3-2l-1-7l2-1l-4-3l-3-5l1-1l3 1l1-3l-1-2l-5 3l1 5l-1 2l-2-2l-9 2l-1-2l4-3v-2l-10-5h-4l-2 6l-4 3h4l1 2h2l1 6l-3 2l-2-5l-4 1l1 4l3 2l1 4l13-1l2 2l-11 3l-4-1l-1 8l-6 2l-3-3v4l-4 3zM630 92l1 4l-3 2l-2-2zM623 88l2 2l-2 2l1 3l-2 1l-1-6zM635 80l6 7l-1 4l-4-2v-4l-2-3zM603 79l3 3l-1 3l2 2l-1 4l-3 3l-4-1l5-5l-1-2h-5l-2-3l1-2zM600 77l1-3l3 2l-2 2zM140 66l-11 2l-1-1l1-5h-3l-3-3l-5 1l-7 5l4 4h4l4-3l2 1v2l-6 4l-1 4h-2l-1-4l-3-1l2 3l-1 5h4l2-2l6-1v-4l2-2l2 3l4 1l-2-3l4-3l5-1zM108 68l-6-1l-3-3l1-2h4l-2-3l-5 1l-2 2l-3-2h-3l-2 5l-3 2l-6-4l1 2l-6 6v4l-1 1l-5-1v2l4 3l10 2l4-5l7 1l3-6l3 1v4h2l3-4l4 1zM962 59l-3-3l-1 4l-4 4l-6-1l-2-3h-4l-2-2h-3l-4 4h-5l-3 3h-3l-4-3l-2 10l1 1l2-1v-4l2-2h7l4-3l1 1l4-1l3 6l2 1l4-1l6 5l6 1l-2-3l2-4v-5zM749 51l-3 3l2 3l-4 4l2 4l-1 1l1 4h2v-3l-2-3l2-2l4 1l-1-4l3-3l-3-1zM756 46h-3l-1 2l1 3l4-2zM763 43l-4 5l1 1l5-3l3 3l5 1l3-1l4 6l5 3l4-4l2 2v3l5 2l-2 4l1 1l-4 5l-2-1l-1-5l-1 1l1 4l3 3l3-1l3 2v3l-1 1l-5-1v2l-3 3h-3l-1 2l13 9l-2 5l4-2l2 3h5l6 7l1-1l-1-6l-5-1l-2-2l1-4l-4-3l1-3l7 1l7-6h2l1-7l3 1l2-2l-1-5l-3 4h-4l-1-1l4-4l-3-2l-4 1l-3-4l1-3l8-3l2-3l-1-1l-5 1l-4-2l-8 1l-1-5l-6-1l-4-5h-7l-2 2l-3-2h-8l-2 3l-2-2zM809 77l1-3l4 2l-2 2z"/><path fill="#fcd3bc" d="M575 100l-4 2v3l4-3zM740 95l-4-2l-2 3v3l5-2zM584 90l1 7l5 2l-1-6zM206 82l1 2l4 1l1-1l-2-3zM620 80l1 3h4l-1-4zM862 78l1 2l-1 6l5 1l-1-6zM640 72l-3 2l-1 2l1 2l3-1zM96 66l-6-3l-9 11h-2l-2-3l-2 2l5 3l10-1l2-3v-4l1-1l2 2zM801 62l-3 8l4-1zM808 55h-2l1 5l3-3zM789 44l-1 5l11 6l1-1l-1-4l-7-6zM777 44l3 2l1 7l4 2l-1-6l-4-3v-2z"/><path fill="#dbeaf2" d="M319 385v5l2 4l3-4l-4-3l1-2l-1 1zM306 379h-3v2l-6 8v8l5 8l-1-16zM652 291l-7 8l-8 5l1 8l-2 3v6l4 6l5-1l2-4l3-12l4-9zM947 329l-11-12l-2-5l-4-1l-3-3l-2-9l-5-3v-5l-3-4l-2 4l1 7l-5 7h-3l-11-7l3-8l-4 1l-4-2h-4l-6 4v3l-2 2h-3l-3-2l-5 1l-9 8l-3 7l-9 1l-13 5l1 5l-1 7l6 14l-1 6l1 4h8l4-3h10l3-3l5-2l14-1l10 4l3 5l6-4l1 6h3l2 5l4 3l7 1l3-2l4 3l3-3l7-2l3-9l4-4l3-8zM858 328l1 3l-3 2l-1-3zM864 327l3-2l2 4l-3 1zM930 281l3 3h6l-5-3zM851 282h5l5 2l5-1l-5 1l-4-3zM832 276l1 3l3 1l1-1l-1-2zM910 278l3 3l1-1l4 1l2-2h-3l-1-4h-3zM929 272h-2l-2 6l3 2l-1-1l1-2l4 1l-3-3zM945 269l-2-1l-8 4l1 1l5-1zM784 240l3 6l5-1l-3-4zM869 229h-2l-7 6l6 2l5-2zM739 229v8l3 1l2-4zM792 229v4l6 3l-3-8zM869 221l-9 2v3l4 2l5-4l-1-2zM462 214l3 6l9 8v3l15 11h5l5-2l8 1l10-4h7l5 6l7-1l4 4l-2 12l2 5l7 7v4l4 10v6l-5 10v6l6 10l3 11v5l5 6l4 9v5l4 2l6-2l12-1l6-3l11-11l2-9l7-4l-1-12l11-8l5-6l-1-14l-2-2l-1-9l2-9l23-21l9-18v-3l-17 4l-4-2l-2-4l-11-11h-12l-9 2h-16l-9-2l-52 2l-11-2l-39 1l-7-1l-3-2v3zM603 303l4-1l3 3l-4 2zM581 263l8 2v2l-3 3l-4-3l1 2l-2 3l6 2l-3 4h-3l-3-3l-1-9zM582 259l2-2h5l4 3l-3 2zM608 254l1 7l-2 2l6 3l-3 10l-7-1v-4l2-2l-7 6l-6-1l-4 1l-2-2l2-3l5 1l1-6l5 2l1-3l3-2l-1-7zM583 248l1 2l-2 4l-2 1l-1-3zM598 245l2 1v4l2 3l-2 2l-5-1l1-1l-1-4zM593 229l5 6l4 1l1 3l-8 7l-1 4l-3 2h-3l-1-1l1-4l-3-2l6-3l-2-5l3-3l-1-3zM855 203l-1 3l1 9l8 4l1-1l-6-3l1-8l-2-2l2-2zM301 203l9 1l6-2l-3-2h-10zM827 200l-2-1l-3 2l2 2zM681 191l-13 13l-12 3h-6l-4-4l-5 6h-7l-1 4l2 5h8l7-2l18-9l1-3h3l4-3zM277 190v1l11 3l3 4h8l-15-8zM858 185h-2l-2 4l2 3zM274 163l-1 5l1 3l3 2v5l3 5h3v-6l-3-8l-2-1v-4zM883 160l-1 5l3 1l1-5zM885 158h2l2-3l1 1l-1 3l2 2l1-1l-1-1l4-3l-6-1zM563 168h-3l-5-4l-6 1l-2-3l-5-3l-1-2l1-6l-7-1l-1 1h-16l-12 5l-11-2l-2 5l-9 8v3l6-3h27l17 3l1-2l3 2zM536 164l3-2l2 3l-3 1zM599 145l-11 3l6 4l2-1l-1-2zM571 144l4 7l4-2l-3-6zM485 144l1 5h5l6 3l3-2l1 1l6-1l5-5l-1-1l1-4l-17 1l-5-1l-3-3zM275 132l2 4l4-1l-1-2l-1 1zM320 127l-3 2h-5l-3-4h-2v5l-2 2l-3-2l-12-3l-4 4l8-1l1 2l-7 1l-4 2l-2 3l2 1l2-2l2 1l1 5l2 2h3l-2-4l2-2l-1-3l3-5l3 4l2-3l3 1v2l-3 1v2l2 1l8-2l-1-1l1-3zM245 125v6l1 1l3-1l2 2l1 7h2l3-4l5 2l3-1l1-2l-3 2l-2-2l-1-3l1-4l-4 4l-1-5l-3 2l-2-1l1-3l-1-1zM361 120l-3-1l-2 3h3zM675 114l-3 1l-1 4l5-1zM706 117l-1-1l-5 1l-6-6l-4 3l-3-2l-4 5l-2-1l-1 2h6l16 5v-3l3-1zM660 114l-3-3l-11 1l-4 2v3l4 8l8-5h7zM584 113l1 1v14l5 6l9-11h6l2 2l-1 1l1 3l6-2l-2-3l5-2v-1h-4l-4-6h-6l-1-5h-6l-2 3l-4 1zM659 105l-1 2l10 10l1-6l-5-1zM554 103l-1 2l3 5l-1 1l-6-1l6 2l3-1v-2zM152 100l-1 4l-3 3l8 5l-1 1l-7-1l9 5l1 3h3l2 2v7l-2 1l-2-2l1 2l-2 3l2 10l3 3l6 11l2-2l3 1l-1 2l8 7l7 13l10 11l-7-12l-6-7l1-5l26 27v6l24 12h4v-2l4-2l2 2v3l5 4l7 2l1-2h4l1 2l-2 1l12 13l9 3l1-3l3-1l5 3v10l-10 14l2 6l-3 3v4l4 4l6 14l9 12l7 3l5 5v19l-4 14v10l-5 9l-2 12l1 5l5-3l2 2l5-2l3 2l-1 4l1 1l6-1l1 1l-1 3l4-3l-3-6l5-5l-1-5l4-4h4l2-4l6-4l2 2l-5 6l-1 4l8-2l1-3l-3-7l1-1l5 2l4-1l1 1l11-11l5-8l-6-8l1-3l5-1l3 4l10-6l7-2l3-3l3-8l2-14l11-15l-1-8l-5-1l-11-6l-10-1l-11-5l-3 2l-4-1l2 7l-6 5l-3 14l-2 1l-2-5l-4 1l-3-3l-2-5l1-3l-4-2l-3 4l-3-1l-2-3l1-5l-4-2v8l3 1l2 3l-2 2v3l-4 4v5l-2 2h-3l-2 4l-2-3l3-6l-3-1l-3-4h-3l-7-6v-8l-4-3v-3h-2l-2-3l5-4l-1-2l1-4l2-2h3l1 5l4 3l3-3l5-1l3 2l2 5l8 2l2 2l8-4l2 2v4l-3 3l3 2v-5l5-3v-3l-5-3l1-3h-3l-1 4l-5-1l-3-2v-2l-3-3l2-3l-6 1l-4-4l2-2l4 1l1-1l-1-4l4-2l6 3l2 5l3-1l7 7l3-2l4 6l-3 1l-5-2v2l6 3h3l-1-3l4-2l-2-6l-7-4h-8l-12-10l-1 1l-2-2l1-2l-1-1l-1 1h-16l-5-3l-4 2l-1-4l-11 4l-5 6l-6-2l-6 2l-7-7l1-8l-2-2h-3l-4-3h-3l-3 3l-3-3v-2l-4-3l-1-2l1-2l-6 2l-5-1l-2 1l-2-3l-4-2l2-4l-2-3l2-15l-5-3v-3l3-5l-5-1v-4l1-1l3 1l2-5l3-3l-2-3l1-6l-1-2h-3l-2 4l-5-7l1-4l3 1l5-1l4 2l1-4l-2-1l-1-5l-5-1l-2-2l-8 1l-3-5v4l-4 2l-3-4l-3 1l-2-3h-2l-2 2l2 4l-1 3l-9 1l-6-1l-3-6l3-6l-3 3l-4 1l1 3l-2 2l-5-3l1-3l-1-1h-3l-2 2l-4-1l3-9l-2 4l-5 1l-2 2l-5-5l2-1l5 2l2-3l-3-3l-8-2l-2-3zM303 370l4-1l3 3l-1 1l-3-2l-2 1zM340 343l6-2l6 1l2 2v7l-3 2l-6-8zM351 333l2-2l2 3l-3 1zM344 329l2 1v3l2 2l-2 3l-4-3v-4zM336 323l2-2l3 1l-1 3zM328 324l2-3l3 1l-3 3zM363 318l3-1l1 2l-3 1zM351 317l3 4l-5 4l-1-6zM356 317l4-1l3 2v2l-2 2h-4zM370 315l4 4l-1 3h-2l-3-4zM339 307l3-1l1 2l-3 1zM333 293l4 4v4l-3 3l-4-2v-3zM313 291l3-1l6 4l-1 4l3-1l3 2v2l-2 2l-7-1l-2-2v-3zM348 287l4-2h4l5 5l-7 1l-5-2zM339 284l3 3l-5 5l-1-6zM308 280l1-1l6 4l-3 2h-3zM131 90l13 12l3-1l-4-4v-2l-7-3l-1-4zM324 89l3 1l4-1l3 2l-5-6zM71 85l-10 1v2l2 1l-2 2l1 1l-1 3l8-4l-1-3zM47 80v3l3 1l3 4l-2-3v-4zM949 86l-6-1l-3-3v-2l-2 2l-2-1l-5 1l-2-3h-4l-2 5l-4 2l-7-2l-3 1l-3-3l-6 1l-4-2l-7 5h-4l-4 4l-7 1l1 5l-4 7l4 5l1 4l-5 4l-6-4h-10l-3-4h-2l-6 3l-1 2l5 5l-3 1l-5-4h-4l-3-6l-3-1l-2-3l-1 1l2 3l-1 3l-21-1l-6-2l-1 1l2 2l-2 3l-5 1l-3-4l-7 6l-1 4l-2-3l-4-1l-5 4h-7l-2-2l1-5l-6-6l-2 1l-1 3l-5-1l-5 3l-5 1l-4-3l-5 5l-4-3l-2 5l-11-3l-3 3v7l1 3l2-1l3 5l-3 5h-2l-2-4l-1 6l-4 5h-39l-4-3l3 5l-5 4l-5-1l-5-5l1-4l-1-3l-4 3v3l-2 1l-5-3l-1-4l-8-2l-1-5l-3-1l-1 1l4 2v3l-4 2h-9l-6-3l-2 3l-2-2l-7 1l-1 4l3-2l4 1l-2 3l1 4l-1 4l5-1l6 1l-3 11l-3 4l-9-1l-1 1l5 4l-1 2l-7 1l-1-2l-4-1l-3-5h-4l-7-3l-3 3l-2-3l-2 1l-2 4l11 2l22 7h6l4-4l3 6l1-1l12 1l-6-16l2-2h18l11 6l1 2l3 1l-1 1l2-1l20 6l4 5l-1 2h21l10 7l-2 2l3 3l4-1l3 1l1 12l3 4l2 7l7 14l7-7l1-7l-1-6l6-4l9-9l4-1l2-4l8-1l4-2l7 8l3 11l3-3l5 1l2 15l3 2l3-8l1 2l4 1l2 4l6 4v2l6-6l5-2l-1-9l-7-8l-1-5l7-7h2l3 3l1-2l10-2l9-4l6-6l6-9l1-8l-7-9l8-6l-9-1l-4-5l5-1l6-4l2 5l7-3l2 2v4l4 1l-1 4l1 5l5-1l1-6l-3-8l8-7l-2-4l1-10l8-4l1 7l7-1l3 4l4-4l1-6l2-1l2 2l-2 3l3-4v-5l3-5l-1-2l-12-3l-3-2l3-1l10-9l8-4h20l1 1zM814 173l3-1l1 2l-3 1zM803 158l1-1l3 1l1 3l-3 1zM827 153l1 1l-4 4l-3-2zM835 153l4-2l3 6l4 4l-1 1l-9-6zM804 150l1 3l-7 5l-1-1l1-3l4-4zM814 145l3 2l3 8v4l-4 6l-4-2l1-3l-2-3v-2l3-3l-1-1l-2 3l-3-2l1-4zM841 133l2-1l3 3l-4 1zM732 132l5-3l2 2h4l1 1l-1 5l-7 1zM757 125l2-3l2 2l-1 2zM780 121l2 1l1 5l-1 3l-4-1l2-3l-2-3zM827 119h2l2 3l3-1l3 6l3 2l-2 15l4 1l-5 4l-3-1l-3 1l-2-2l-9-2l2-3l4-2l1-2l-2-3l5-5l3-1l-2-3h-3l-2-2zM740 118l5 3l1 8l-2 2l-2-3l1-3l-5-4zM874 100l8-1l1 3l-3 2h-4zM290 79l6 5l1 7l-9 11l1 1l5-1l4 4l5 1l2-1l1-3l4 2l4-1l4 2l6-6l3-1l1-4l-3 1l-3-4v-3l-4 2l-3-3l1 2l-5 5l-2-2v-2l4-4l-1-5l-14-4zM310 84l-1 2h-4l-2 3l-5-2l2-2h3l2-3zM444 69l3 3l5 2h5l-1-1l2-2l3 3l11-3l-1-3l-4-1h-18zM1014 78l-4-1v-5l-4-1l-2-6l-5 6l-4-4h-3l-3 2l-3-3h-4l-1 3l-2-2l1-2l-1-5l3-2h-10l-1 5l4 3l-1 4l4 3v2l-3 3l2-1l1 1l-1 4l2 4l-9 7l-4-1l1-3l-1-3l-10 8v10l2 1l-1 3l1 1l2-2l-3-3l4-3l1-2l-1-3l5-4l1 4l4 4l5-5v-4l7-6l8-1l-3-2v-4l7-7l3 2l1 4l5 4l6-3zM983 80l2-1l2 3l-2 1zM983 72l2 3l-4 6l-2-6zM567 58h-4l-8 3l-12 11l-16 7l-1 6l1 1l6-7l4 1l2-2l5 1l3-3h3l3-6l5-2l3-9l3 3zM280 62l-2-3l-8-1l-6 6l-9-5h-6l-4 7l2 2h3l3 3l4 1l8-1l5 2l8-1l-6-3l-6-1l11-2zM335 66l-20-9l-12 3l-1 1l2 1v2l-3 4l-10 3l13 1l9 5l11 1l4-6zM759 57l2 5l4 4l6 1l-4 6v3l1 1l2-1l5 3l3-7l5-4l-3-3l-5 1l-2-2l2-3l-3-5zM580 55l-5 1v3h2zM909 50l1 1l8-1l2 2l3-2l3 2l3-1z"/><path fill="#c5dfec" d="M301 383l-4 6v8l3 5l-2-4l2-3l-1-8zM357 337v3l3 4l-3 6l3 1l4-4l-2-7l3-2zM332 329l-1 6l3 1l2-3zM355 329l6-4l4 1v-2l-2 1l-7-1zM352 292l-6 3l-2 4l-3-3l-2 7h4l3-3l4 1v-4l1-1l2 1zM652 291l-7 8l-8 5l1 8l-2 3v6l4 6l5-1l2-4l3-12l4-9zM835 318l1 5l-1 7l6 14l-1 9l1-1l2 2l5-1l1 1l4-3h10l3-3l5-2l14-1l10 4l3 5l6-4l1 6h1l1-6l4 6l3-1l2 1l-3 4h-3l2 3l6 2h3l3-2l4 3l3-3l7-2l3-9l4-4l3-8l-2-13l-6-5l-6-10l-4-1l-3-3l-1-6l-4 3h-5l-3 3l-2-3h-4l-11-7l3-8l-1 1l-7-2l-7 1l-3 3v3l-2 2l-9-2l-11 9l-3 7l-9 1zM918 357l2-1l4 4l-5 1zM892 334l2 1v6l4 2l-2 2l-6-1l-2-2v-3zM867 314l3 2l-6 4l4 1l3 7l-4 4l-5-1l1 6l-2 2h-4l-5-3v-5l-5-1l-1-3l2-2h5l8-9zM889 312l5 3l1 6l-3 3l1 5l-1 1l-3-2l-3 4h-2l-2-4l-3-2l-1-4l2-1l3 2l1-1l-1-4l3-3v-2zM879 313l3-4h2l3 3l-4 2zM876 305l1 2l-3 4h-3l-2-2l2-3zM917 287l-2 7l4 2l-1 4l2 1l4-3l-4-2v-5zM319 282l-2 4l4 2v3l2-4zM624 278l-2 3l-1-2h-2l-2 4l3 4v3l-2 2l-5-4l-1-2l1-5l-3-3l-4 1l-17-1l-2 3l2 2l-1 5l3 3l-4 4l-5-6v-4l2-3l-3-2h-4l-5 5l-2-2v-8h-7l-9 7v2l2 1l5-2l10 5l-1 5l-4 1l-1 2l-4-2l-2 9l-6-5v-4l-3-3l-4 9v6l8 16l1 10l5 6l4 9l1 6l4 1l5-2l12-1l11-7l6-7l2-9l7-4l-1-12l11-8l5-6l-1-14l-2-2zM597 300l6-2l5 3l6-1l1 3l-2 1l1 2l-3 3l-3-1l-3 2l-4-7zM614 297l2-2l3 2l-2 2zM622 289l2 1l-1 4l-2-2zM607 287l3-2l2 3l-3 1zM564 278l3-1l1 3l-2 1zM567 267l-4 4l1 1l3-1zM556 261l-5 1l-5 5l5 19l1-3l-2-3l2-2v-5l5-4l2-6zM373 261l-2 2l-1 5l-6 7v6l-2 3l1 6l-6 6l-5 10l1 5l3-2l3 5l18-2l3 6l4-2l2 2l-2 3l1 1l8-3l3-3l3-8l2-14l2-3l-3-3l4-1l1 2l7-10l-2 1l-3-1v-5l-2-3l3-1l2 3l1-2l-10-3l-6-4l-10-1l-3-2h-3l-3 3l-2-2l1-1zM379 314l2-1l2 3l-2 1zM360 309l4-1l1 4l-3 1zM391 282l2-1l3 5l-3 1l-2-2zM591 255l4 4v4h3l4-3v-3h-2l-3 3l-2-3zM289 248l-2 5l4 3l-6 2l-3-1l2 4v5l-3 4l4 4l6 14l9 12l7 3l5 5v19l-4 14v10l-2 4l3 3l1 3l-1 6l4 6l6 1l2-6l6-8l1-4l-1-6l3-1l3 2l1-4l-2-2l-4 3l-5-6l2-8l-1-6l2-3v-5l2-2l8 1v-2l-9-5v-7l-8-1l-5-4l-1-4l-4-5l2-3l3-1l-4 2l-8-6v-4l-3-2v-3l-4-4l2-4l5 3l-1 4l4-2l-6-12v2l-6 7h-3l-2-2v-2l3-2l1-7zM739 231v6l5-2l-3-4zM264 220l12 12l7 2l2-4l7 3l-1 12l2 3l3-2v-2l-3-2l2-2h4l1-2l8 1l1 5l4-1v-3l3-3h2l2 4l5-1l2-2v-6l4-3l-3-3h-9v2l-3 3v3l-4 2l-3-4l1-7l-2-2h-3l-3 5l-8 1l-2 2l-7-2l-4 4l-8-9l1-8h-3l-1 2zM250 208h-2l-1 2l2 3l3-2zM462 214l3 6l9 8v3l15 11h4l6-3l8 2l10-4h11l1-3h6l3 4h6l2 4l-4 3l4 1v6l-2 3h-3l-2-3l4 11l2-1l6-9h3l2 2l-1 3l7-3l4-5l2 2l-1 5l5 4l1 5h2l-1-3l2-2l2 1l1-3l-4-1l-6-8l-4-1l-1-3l1-1l4 2l2-1l2 2v3l4-4h3v-3l-5 2l-3-4l2-4l4 3l2-1l-4-8l1-5h3l2 2l-1 3l2-3h2l3 4v-2l5-6l4 3l2 5h2l4 4l1 3l-1 4l3 2v3l3 4l-2 3v5l5 1l2 5l3-1l5 2l1-4l25-24l-2-1l-1-9l4-4v-2l-10 2l-5-2l-2-4l-11-11h-12l-9 2l-21-1l-1 2h-2l-1-3h-17l-1 4l-3-3h-2l-3 4l-3-2l-4 1l-2-2h-17l-11-2l-39 1l-7-1l-3-2v3zM598 229l2-1l1 3l-2 1zM467 219l2-2h3l2 3l-4 2zM567 219l2-3l3 1l-1 3zM574 219l2-4l3 2l-3 3zM502 212l2 2v4l-3 2v3l-2 2l-5-2l-1-3l3-2v-2l3-3zM661 209l-3-3l-8 1l-4-4l-5 6h-7l-1 4l2 5h8l2-1l-1-2l3-4l5-1l2 2l-1-1l1-1l5 1zM305 204l6-1l1-3h-8zM827 200l-2-1l-3 2l2 2zM681 191l-8 8l2 3zM281 190l2 3l5 1l3 4h8l-15-8zM858 185h-2l-2 4l2 3zM276 169l1 9l3 5h3l-4-2l2-4v-5h-2zM556 165l-5 3l4 1l2-1zM576 167v2l4 2l6-2v-3l-6-2l1 1zM522 153l-4-2l-12 5l-8-2l-5 4l-1 4h3l2 2v3h13l-1-2l1-1l4 2l6-1l2-2v-5l-2-2zM503 159l1-3l3 2l-2 2zM573 144l2 3l2-1l-1-3zM510 141l-1-1h-4l-1 2l-2-1l-3 3v4l-2 3l10-1l3-3zM762 129l10 1l1-2l-5-1l-3-3v3zM167 124l-1 4l4 1l3 6l-5 5l-3-2l-5 5l3 4v-2l10-7l2 2l-8 7l-1 2l1 5l6-1l2 2l1 5l5 5l7 13l10 11l-7-12l-6-7l1-5l26 27v6l16 9l3-1l4 1l-4-3l1-9l-2-2l1-1l3 1l-1-1l1-6l-4-3l-4 2l-2-1l2-2v-3l-2-2l1-13l-2 1l-7-2v-2l4-3l5 2l1-1l-4-5l2-2l4 1l-1-6l-5-1v-4l-2-3l1-5l-1-4l-13-4v2l6 8l-1 2l-2-2l-1 1l5 1l1 4l-3 2l-1 4l-13 1l-7-5l4-3l2-10h-2v2l-3 2l-9-4l-1-2l-5 2l-3-1l-4-6zM192 156l2-2l2 1l6-1l2 3l-5 6zM187 154l3 2l1 4l-1 2l-2-1l-2-4zM204 156l3-4l4 1l-4 4zM217 145l1 5l-5 1l-1-2zM588 120l1 3l-4 2v3l5 4l3-2v-3l-3 3l-3-1l3-7v-3zM758 116l-3 6l4-4zM693 115l-2 2l4 4v-3zM857 169l-3-4l2-2l-5-7l3-3l-2-1l-1-3l-6-3l-1 2l2 4l-2 2l9 5l1 2l-1 4l-4-1l-3 3l-4-4l-1 5l-4 1l-1-7l-3-1l-3 2l-8-1l-4 8l3 3l3-1l1 2l-6 3l1 5l-3 5l-4-4l-4-1l-3 1l-3-3l-4 3l-1 3l-2-1v-2l3-3l-2-14l4-3l-5-4v-4l3-5l4-3l-2-2l4-3l3 1l6-2l5 1l-1-4l1-3h-2l-2-3l3-4l3-1v-2l3-3v-3l4-3v-2l-4 1l-5-1l-3 5h-5l6 4l-1 4l-6-2l-6 1l-5-2l3-5l3 3h2l4-8l-5-2l-2 2l1 2l-6 5l-7-1l1 3h3l3 2l-1 2l-4 2l1 8h4l2 2l-2 3h-3l-3-3l-5-2l-9 3l-5-7l-7 6l-2-2l1-2l-1-1l-4 2l-3-2v-3l-4-3h-3l-4 9l-5 3h-6l-4-4l-7-2l-1-2l-3 6h-3l-4 3l-4-2l-1 4l-3 3h-39l-3-2l2 4l-5 4l-6-1l-2 3h-4l-2-4h-2l-10-11l-8-1l-4 3l-6-2l3 4l-1 3h-3l-5-3l-1 1l1 7l4 1l-3 9v3l3 3l-3 3v6l2 3l1-1l12 1l-2-5l-5-5l2-3l-1-3l1-5l2-2v-7l3-2l3 3v6l3 2l-1 2l10 2l2-1l3 2l4-2l1 3l-3 2h4l1 1l-1 2l3 1l-1 1l2-1l20 6l4 5l-1 2h21l10 7l-2 2l3 3l6-1l2 13l3 4l2 7l7 14l3-3l-3-2v-4l3-1l1 5h2l2-12l-1-1l-1 3l-4-2l-1-8l-2-3l6-3l8 7l9-9l4-1l2-4l8-1l4-2l8 10l1-2l3 1v3l-2 2l-2-1l3 4l6-1l1 7l4-2l1 4l9-1l1 1l-1 3l5 1l2 2v3l3 2l3-3l-2-5l4-1v-4l2-1l-7-8l-1-5l7-7h2l3 3l1-2l10-2l6-4h3l9-10l3-5zM808 208l1-1l4 2l2-2l2 5l-5 2zM798 199l4 1l3 3l1 4l-4 5l-3-1v-3l2-2h-3l-2-2v-3zM743 199l3-1l1 2l-2 2zM731 198l2-2l3 1l-2 3zM749 181h2l5 6l-4 8l-2-1l-5 1l-1-3l3-4l-2-1v-3zM700 162l2-2h7l2 4l-4 2zM680 154l3 2l3 6v3l-2 2l-6-6v-5zM642 154l2 2l-1 4l-3-2zM619 154l3 4l-5 7l-4-4l1-3l4 1zM847 113l3 6l-3 4l1 3l-3 4l4 3l2 7l3 1l3-2l2 5l9-4l5 8v-3l3-4l-1-2l6-3l-2-4l-6 3l-4-2l2-5l6-1v-2l-2-1l1-2l-1-5l-4 1l-2 3l-1-4l-6-4l-2 4h-3l-2-3l-4 1l-1-4zM870 135l2 2l-2 3l-1-1zM861 131l3-1l4 4l-1 1l-5-1zM864 117l2 2v3l-2 4l-3 1l-1-1l1-6zM976 92h-2l-5 4l3 3l4-4zM292 99v1l3-1l7 6v-3l4-4l2 1l1 3l5-1l4 3l3-4l-1-5l-5-2l-3 6l-4-3l-2-5l-1 1l-5-1l-1 5l-2 2zM916 87h-4l-2 2h-3l-2-3l-5 1l-1 2l4 4v2l-2 2l-2-1l-3 1l1 3l-1 3h-2l-5-4l4-3l-8-5l-5 1v5h3l3 3v3l-2 1l1 10h2l3-4l5 1v-2h-4l-3-2v-2l3-2l6 1l2 4l2-1l4 1l2-4l-9-4l3-1zM294 78l6 4l3-2h4zM532 77l-5 2l-1 4zM1001 75l3 4l3-1v-3l-4 2zM449 71h4l2-2h6l2 5l6-2l-1-2l3-2l-21-1zM557 61h-2l-8 7l1 2l-3 1l-1 2l6-2l2-3l4-2zM280 62l-2-3l-8-1l-6 6l-7-4h-4l-4 3v2l4 5l17 2l6-1l-10-3l11-2zM335 66l-20-9l-12 3l-1 1l2 1v2l-3 4l-4 1l-1 3l1-1l7 1l9 5l11 1l4-6z"/><path fill="#a7d0e4" d="M872 330v3l-2 2h-4l2 3v3l1 1l2-1l4 4h3l5-11l-3-2l-6 1zM876 314h-3l-1 3l2 1zM389 310l-1 3l3 3h5l-2-2v-3zM902 307l-1 7h4l1 1l-1 5l3-2l2 4l-5 3l-5-1l-4 2v3l5 2l3 4l-3 10l6 1l-2-8l7-7l1 1l-1 4l2 2l7-1l6 3l-1 6l-3 3l1 3l-4 1l3 3l6-2l2 2l-1 4l1-4l3-2l2 2l-2 6h3l4-8v-5l3-5l-5-6l2-2l3 2l2-1l-1-3l2-4l-1-3l-6-5l-6-10l-4-1l-3-3v-2h-2l-6 6l-5-1l1 3l-1 3l-5-3l-1 1l-2-1v-3l5-3l-1-2zM932 343l5 2v5l-4 4l-4-2v-6zM936 329l1-3l3 1l-2 3zM914 323l3-1l2 3l-3 1zM865 301l-5 4l-3 7l-9 1l-13 6l1 4l-1 7l3 5l1 6l2-3h3l1-1l-1-2l4-3h-4l-1-4l4-5h2l1-7l9-5l4 2l2-1l-1-7l2-1zM843 318l-2 3l-4-1l4-3zM548 303l-1 5l5 8l3 11v5l5 6l4 9l1 6l16-1l8-3l-1-7l1-1l6 1l1-2l3 1l-1-3l2-2l3 1l-3-6l4-4l1 1l7-4v-2l-6 4l-3-1l-7 1l-3-3l2-4l3-1l10 1l3-1v-2l-5-3h-3l-1 3l-4-6h-2l-3 4h-5l-1-3l2-3h6l2-2l1 2h2v-2l-8-4h-6l-5 6l-1-5l3-2v-2l-6 3l-3-2l-2 2l3 2v2l-8 9l-2-2l2-2l-1-2l2-4v-6h-5l-2 4l4 3l-1 8l-3-1v-3l-4-7l-5-2zM564 334l2-2l4 2l-2 3zM583 321l2 3l-3 3v6l-6 6l-1-3l2-2v-4l3-3l1-5zM562 317l5 4l2 4l2-1l3 2l-3 5l-4 1l-2-2v-4l-5-4v-3zM578 308l1 10l-1 6l-2 1l-3-3l1-4l-1-5zM882 296l-6 4v3h4l-1-4l3-1zM654 297l-5-2l-1 3l4 5l-1 2h-3l-3-3l1-4l-3 2l-1 4h2l2 4l-5 2l-1 2l2 3l-1 5l3-3l5-1l1-5h-4l-1-2l6-1v-3l3-4zM549 295l-2 2l-1 3l1 1l3-2zM606 292l-1 4l1 2h3l2-3l-3-3zM393 292l4 4l-1 3l3 1l1-1l-1-4l2-3l-3 2zM900 291l-4 1l1 2l-4 7l1 4l-2 2h-4l1 3h3l4-4h2l-1-9zM578 287h-3l-2 2l4 3l-1 2h-2l1 3l2-1v-3l2-2zM374 282l-7 7l3 3v2l-3 2l-3-3l-2 3l6 9l2 1l1-1l3 5v-3l3-1l1 2h3l3 5l1-3l-4-4l-3-1l4-3h3l1 4l2 1l1-1l-1-3l2-2l3 2l1-4l-5-4l1-3l-2-2l-4 1l-2-2l6-6l-10 2l-2-3zM373 288l2-2l5 1l-3 4zM286 267l-3 2v3l8 16l9 12l7 3l5 5v19l-4 14v12l3 7v7l2 4l5 1l7-14v-9l-3-5v-15l2-10l2-2l-1-4l1-3l-1-3l-7-2l-5-4l-7-13l-6-5l-6-12l-5-1zM556 264l-6 3v3h3zM365 276l3 6l4-1l1-3l3-2h2l1 3h3l4-3l-3-2v-2l-4 1l-3-2l3-3l8-1l3 1l4 4v2l-4 1v2l4-2l3 1l2 3l4-2v-2l-5 2l-1-8l-7-2l-2-3h-3l-3-3l-2 4l-5 2v2l-4 4l-1 6l-2-1l-1-3zM472 226l2 2v3l10 8l-2-2l2-6l8 4l6-1l-3-2l1-3l-1-4l-1 3l-3-3h-4l-1 5l-4-4h-2l-1 5l-2 2l-3-3l2-7zM273 219l-4 4l3 2l-1 3l6 4l1-2l-5-6l1-4zM482 218l-2 4l2 2h3v-6zM597 221l-7-4v-4l-5-1l-1 3l-9 8l-7 1l4-1l2 2l9 1l1-2l6 1l3-4h2l2 3zM479 213l8 1l6-4h-14zM634 209l-1 4l2 5h8v-7l-3-2zM613 209l-3 6h-2l-1 2l-5-2l-2 2v3l5 2l3-2l4 8l-1 2l-1-1l-6 1l1 2l3 1v8l6 6v5l-4 7l5-2l5 4h4l8-4l10-9l3-5v-3l-2-3l1-9l-8-4l-2-4l-11-11zM500 230l3 6l6-2l2 2l-2 4l7-3l2-3l2 1l5-1l6-7h4l4-2l3 3v2l4 3l-1 3l3 5l1-1l3 1v4l-4 2l-1 2l7 1l3 2l-1-2l1-4l-5-8l2-3l5 4l4-5l2 1l-1 2l1 2l10-3v-3l-4-2l-3-4l-5-2l-3 1l-3-1v-2l4-2v-3l5-2v-2l-2-1l-3 1l1 1l-1 3l-6-1l1 5l-2 4l4 2l2 3l-2 2l-3-2l-7 2l-1-1l1-5l-2-4l-3-1l-3-5l-18-1l-1-3l5-1l-2-2l-12-1l-1 2h-2l-3-2l1 10l-3 4l3 1l2 5l-2 2l-4-6zM517 219l1-1l3 1l1 3l-3 2zM473 209h-5l-2 4l1 1l2-3h3zM789 186l-2 2l-1 12h4l4 4l-2 3h1l1-7l-2-2l5-4l1-4zM855 169l-7-1l-5 4l-6 1l-7-7l-2 10l-5 2l-3 9l-2 2h-2l-3-4l-4 1v4l4-1l2 1l-2 4l-5 2l-2 3l4 2v4h1v-7l2-4l3 2l4-3h2l2 3l2-2h3v-4l5-1l2-2v-3l4-6l4 2l4-1l1 5l6-8l-1 1l-2-1l-2 2l-4-2l8-4zM204 164v2l12 3l-2 3v5l-3 1v3l-3 5l4 6v6h6l2 5l8 3l-3-3v-2l4-3v-2l-4-5l6-4l-1-1l-6 1l-5-5l-1-3l2-4l4-3l-2-3l-3 2l-4-4l-5 1l-3-4zM633 152l3 4h3l-1-4l-1 1l-2-2zM675 146l-9-1l-1 1l1 2l-2 2l3 3l-2 2l-7-2l2 5l-5 4l3 3l-1 3l1 3h3v-4l3-2l4 2l5-4v-3l3-1l-1-7l-3-3zM635 142v4l3 3l1-2l-2-4zM629 142l1 5h3l-1-4zM176 142l-1 3l-3 1l-3 5l2-2l4 1l2 9l14 23l8 7l-14-19v-4l1-1l12 12l-1-1l1-3l5 1l1-2l-6-1l-1 2h-2l-11-16l1-4l-6-4l-1-6zM793 142l-6-2l-10 2l-2-3l-9 2l-4-3l-4 3h-3l-6-3l2 3l-1 1l-2-1l-3 1l-8-1l-1 1l-4-2l-1 2l-8-2l-13 3v4l-1 1l-5-1l-1 5l2 4l3-1l5 6l-1 6l4 4v3l-2 2l-3-1l-2 2l-3-2l-1-8l-3-2l-4 1l1 3l-2 2l-5 1l-2-2l3-15l-8-3l4-5l3 3l1-3l-16-1v5l6 1l3 3v3l4 2l1 2l-3 1v2l-5 4l-5-4l-2 2l1 5l-3 3l6 4l1 2l-1 2h2l1-2l5 2h7l-3-6l2-2l6 1l3 6l4 1v4l4 3l-1 3l2 2l4-1l3 1v5l3 2l-2 5l3 4l7 18l1-3l-2-6l1-1l5 1v-1l-5-3v-7l-2-2l1-9l-2-2l1-3l-1-4l7-5h2l5 6l1-13l2-2h12l1-1l4 4l2-1l2 1l-2 8l-3-2l-1-3h-3l-1 2l4 4l-3 3l1 3l-1 1l2 4l2-4l8-1l1-4l1 3l2-1l7 8l3-3l-1-7l10-8l2-5l3-2l-1-5l1-8l-2-2l2-7v-6zM767 177l2-1l3 3v2l-3 1l-2-2zM712 176l5 2l2 3l-4 8l-5-4l2-3l-2-4zM700 173l2-2l2 3l-3 1zM175 133l8 8l3-1l-1-4l-3 2l-4-5zM212 131l2 3h4l-5-4zM812 128l-7 1l-3 7l6 3l-1-4zM851 124l1 6l5 4l-1-7l-2-3zM280 62l-5-2l-5 1l-2-1l-4 4l-5-3h-5l-3 2v2l5 5l13 1l5-1l-7-1l-1-1l1-1l10-1zM302 61l2 1v2l-5 5l6 4l3-1l7 1l5 4h5l3-5l7-6l-19-9z"/><path fill="#84bcd9" d="M592 327l-1 5l2 4l3-4zM591 317l-4 5l2 1l2-2zM932 311h-8l-6 6l1 4l4-2l1 1l3-1l2 2l-2 3l2 5l-5 5l3 2l3-3l3 1l2-1v-2l-4-3v-2l2-2l6-1v-2l-4-4l1-1l-2-4zM923 313l3-1l1 3l-2 1zM548 305v4l6 13l1 10l5 6l4 9v5l22-1l1-4l-4-5l-8-2l-9 1l-4-5l1-9l-4-4l-2-18l-1-1zM381 292l-3 1l-6-1v3l-4 3l1 4l3-2l4 2v-2l-2-1v-3l5-1zM286 270l-1 5l6 13l9 12l7 3l5 5v19l-3 9l-1 14l5 12l-1 4l4 5l7-12l1-9l-4-7v-10l2-5v-9l2-3v-7l-13-7v-4l-5-5l-1-4l-6-5l-3-8l-5-5zM522 225l-5 2h-5v1l2-1l3 3h3zM619 209v2l-4 3l3 1l2 3l-2 2l-6 1l3 7l-5 12l3 1l4 4l-1 4l2 3l9 2l3-3l6-1l6-7l-1-8l1-1l-2-3l-1-6l-3-1l-2-4l-11-11zM725 202l-4 6l8 19l-3-7l2-5zM822 189l-3 3v2l3-1l2 2l2-3zM779 185h-2l-3 3v2zM217 181l-4 2v7l2-2l-1-2l3-3zM727 178l-2 1l-1 3l-2-1l-2 5l1 10h2l1-14l3-2zM832 175l-5 7l-2-2l-1 1l5 6l4-1l3-5l-4-4zM680 170l1 2l-1 8l5-1v-2l4-3l-3-4zM184 168l-1 2l3 5l6 6l1-1zM181 158l-1 1l1 4l5 1l-1-3zM668 157l-1 3l2 2l2-2zM793 144l-6-3h-5l-6 4h-3l-3-2l-5 1l-3-3l-8 4l-8-1v2l-3 2l-1-4l-3-1l-2 4l-2-2l-2 3h-2l-3 3l-1-3l3-3l-2-2h-3l-1 5l-3-1l-1-4l-7 1l-1 8l7 8l-1 2h-3l-1 3l5 4l1 2l-1 3l2-3l6 3h5l1 2l-2 2l2 2l8-4l2-3l4 1l1-1h12l10 2l3 3h4l3-3l6-2l6 1l3-2l-3-3l2-7l-3-4l1-4l-2-3l3-4zM278 63l-11-2l-3 3l-3-2l-8 1v4l4 2l12 1l3-1h-5l-1-1l1-1l10-1zM302 69l4 2l1-1l7 1l6 3h7l8-8l-20-9l-7 2l-4 3z"/><path fill="#5fa5cd" d="M562 343l3 8l8-1l3-4h2l2 4l4-1v-3l-3-3l-6-1zM557 323l-3 3l1 6l4 5l1-11zM314 306l-2 5v16l-3 9l2 3l-2 10l5 11l-1 5l3 2l2-5l3-2l1-5l-1-9l-4-5l-1-5l5-8v-5l-2-2l2-2v-5l2-3l-6-5zM554 305l-4 2l3 9l2 1l1-1l-1-3l1-7zM287 271l-1 4l2 4l3 2l-1 2l1 5l11 13l6 3l1-6l-4-3l-1-5l-7-5l-2-9l-3-3zM626 213l-2 4l-3 2l1 3l-1 5l-4 3l-4 8l4-2l7 4l3-2l3 2l-3 4l-8 1l1 3l2-2l2 1l-1 3l4-1l-1-3l3-3l3-1l5 1l-2-2v-5l4-3l-3-3l1-6l-3-2l-1-3l-3 3l-1-5l-3-1l1-2zM626 225l1-3l3 1l-2 3zM717 150l-1 2l3 3v2l3 1l3-4v-3zM791 144l-3-2h-7l-4 6l-6-2l-6 1l-2-2h-4l-17 6h-5l-3 4v3l-4 2l-2 4l-5 4l6 3l8-2l8 3l13-1l11 3h6l7-2l3-3h2l1-5l3-2l-3-12l3-3zM270 67v-4l-2-1l-4 2l-3-1l-6 2l8 4h5l-2-1zM303 65l2 3h5l12 5h5l6-5v-3l-12-6l-12 1l-3 4z"/><path fill="#3f8ec0" d="M311 344l-1 4l3 3v3l3 1l3-3v-6l-3-3zM314 314h-2v13l-2 7l2 1l2-1l3-10l-1-4l2-3zM316 307l-1 4h4zM287 272v3l3 3l4 1v-2l-4-4zM634 223l-3 2l-3 6l6-3l1-2zM787 157l-4-6l-11-1l-2-2l-6 1l-4-2l-3 3l-5-1l-3 2h-5l-8 6v2l-6 7l17 5l1-1l1 1l11-1l4 2l15-1l7-6zM780 144v2l3 2h5l2-2l-2-3l-3-1zM331 66v-2l-8-4l-6 2l-6-1l-2 1l-1 3l4 2l1-4l2-1l2 2l-1 4l7 4l6-3z"/><path fill="#2f79b5" d="M786 159l-3-3v-2l-5-2h-7l-2-2l-4 1l-5-2l-4 3l-6 1l-5-1l-9 9l-2 4l6 3l10 2l5-1l22 1l8-7zM783 144l2 1v2h3v-3l-2-1zM321 62l1 2l-1 5h3l5-3v-2l-4-3z"/><path fill="#1f63a8" d="M740 160l6 8h4l3-2l2 1l4-1l7 3l6-3h4l5-3l-2-7l-7-3v3l-3 5l-1-1l1-6l-7-3l-10 3l-2 2l-5-2l-1 3z"/><path fill="#124984" d="M767 166l-1-4l1-6l-1-1l-4 2l-6-1l-1 2l-6 1l2 5l9-1l5 4z"/></g></g><g filter="url(#db)"><circle cx="73.8" cy="29.1" r="0.8" fill="#8a1020"/><circle cx="96.4" cy="32.1" r="1.1" fill="#3b0510"/><circle cx="103.5" cy="31.2" r="0.8" fill="#5a1020"/><circle cx="114.2" cy="34.2" r="0.8" fill="#2b0510"/><circle cx="115.4" cy="56.5" r="0.9" fill="#3a2a20"/><circle cx="54.1" cy="41.0" r="0.8" fill="#3a7aa5"/><circle cx="264.7" cy="56.8" r="0.9" fill="#2a1010"/><circle cx="279.5" cy="56.8" r="0.9" fill="#2a1010"/><circle cx="292.9" cy="57.7" r="1.0" fill="#2a1010"/><circle cx="306.3" cy="56.2" r="1.0" fill="#2a1010"/><circle cx="374.7" cy="56.2" r="0.7" fill="#5a3030"/><circle cx="446.1" cy="57.1" r="0.7" fill="#5a3030"/><circle cx="463.3" cy="39.0" r="0.8" fill="#3a2020"/></g>
</g>
<rect x="636" y="36.3" width="512.4" height="213.4" fill="none" stroke="#a8a8a8" stroke-width="2"/>
<g><path d="M711 256.7L690.9 263.7L711 270.7Z" fill="#053061"/><path d="M1073.4 256.7L1093.5 263.7L1073.4 270.7Z" fill="#67001f"/><rect x="710.5" y="256.7" width="18.6" height="14" fill="#124984"/><rect x="728.7" y="256.7" width="18.6" height="14" fill="#1f63a8"/><rect x="746.8" y="256.7" width="18.6" height="14" fill="#2f79b5"/><rect x="765" y="256.7" width="18.6" height="14" fill="#3f8ec0"/><rect x="783.2" y="256.7" width="18.6" height="14" fill="#5fa5cd"/><rect x="801.4" y="256.7" width="18.6" height="14" fill="#84bcd9"/><rect x="819.5" y="256.7" width="18.6" height="14" fill="#a7d0e4"/><rect x="837.7" y="256.7" width="18.6" height="14" fill="#c5dfec"/><rect x="855.9" y="256.7" width="18.6" height="14" fill="#dbeaf2"/><rect x="874" y="256.7" width="18.6" height="14" fill="#edf2f5"/><rect x="892.2" y="256.7" width="18.6" height="14" fill="#f8f1ed"/><rect x="910.4" y="256.7" width="18.6" height="14" fill="#fbe4d6"/><rect x="928.5" y="256.7" width="18.6" height="14" fill="#fcd3bc"/><rect x="946.7" y="256.7" width="18.6" height="14" fill="#f7b799"/><rect x="964.9" y="256.7" width="18.6" height="14" fill="#f09c7b"/><rect x="983.1" y="256.7" width="18.6" height="14" fill="#e27b62"/><rect x="1001.2" y="256.7" width="18.6" height="14" fill="#d35a4a"/><rect x="1019.4" y="256.7" width="18.6" height="14" fill="#c2383a"/><rect x="1037.6" y="256.7" width="18.6" height="14" fill="#b1182b"/><rect x="1055.7" y="256.7" width="18.6" height="14" fill="#8d0c25"/><path d="M710.5 256.7L1073.9 256.7L1093.5 263.7L1073.9 270.7L710.5 270.7L690.9 263.7Z" fill="none" stroke="#000" stroke-width="1.6" stroke-linejoin="miter"/><path d="M728.4 270.7v8.4" stroke="#000" stroke-width="1.9"/><path d="M783 270.7v8.4" stroke="#000" stroke-width="1.9"/><path d="M837.6 270.7v8.4" stroke="#000" stroke-width="1.9"/><path d="M892.2 270.7v8.4" stroke="#000" stroke-width="1.9"/><path d="M946.8 270.7v8.4" stroke="#000" stroke-width="1.9"/><path d="M1001.4 270.7v8.4" stroke="#000" stroke-width="1.9"/><path d="M1056 270.7v8.4" stroke="#000" stroke-width="1.9"/></g>
<g font-size="18.4px" text-anchor="middle"><text transform="translate(728 309.5) rotate(-45)" y="6.5">−4.5</text><text transform="translate(782.6 309.5) rotate(-45)" y="6.5">−3.0</text><text transform="translate(837.2 309.5) rotate(-45)" y="6.5">−1.5</text><text transform="translate(891 304) rotate(-45)" y="6.5">0.0</text><text transform="translate(945.6 304) rotate(-45)" y="6.5">1.5</text><text transform="translate(1000.2 304) rotate(-45)" y="6.5">3.0</text><text transform="translate(1054.8 304) rotate(-45)" y="6.5">4.5</text></g>
<g transform="translate(1196.6 36.3)" clip-path="url(#mc)">
<g filter="url(#mb)"><g fill-rule="evenodd" transform="translate(.25 .25) scale(0.5)"><path fill="#dadada" d="M656 171l5 6l5 2l7-1l5 4l-3-5zM464 195l2 6l-1 5l2 2l7 1l39-1l11 2h22l12-2h18l9 2h16l9-2h12l-1-4l-4-3v-6l-10-17h-7l-32-9l-1 1l-1-1h-12l-9 2h-14l-15-3h-27l-12 7l-6 6zM615 179l3 6l4 4l1 5l10 14h7l5-6l4 4l14-2l17-13l-8-6v-3l-7 5l-6-1l-1-3l-2 2l-2-5l-6-8l3-4l-11-6h-18l-1 3l6 14l-1 1zM474 24l-20-1l-21-4h-26l-16 2l-44 1l-9 1l-7 2l-1-1l1-1l-4-3h-46l-1 1l-21 1l-9 4h-6l-5 2v5h16l1 1l-1 4h-16v3l11 2h29l4-1l-1-1l-12-1l-1-1l1-1h15l8-5l19-4l1 1l-8 3l5 3l14 3l21 1l9 8l3 5l9 2l1 1l-2 2l-5 1l1 7l12 13l15 5l3-6l7-8l9-2l14-7l18-1l8-4l2-6l6-6l4-15l2-2z"/><path fill="#e9e9e9" d="M924 372l3 6h4l2-3v-3zM1007 374l-4-3l-4 5l-9 5l-4 5l3 1l8-1l1-4l6-4zM1005 355l4 5v4l-2 3l4 6l8-10l-7-2zM653 121l-1 1l6-1l5 2v4l-7 3l9 9l-1 6l2 3l-5 4l-5-1l-5-5v-2l-20 4l-1 3l4 10h6l11 6l4 4l1-1l17 5l5 5l14-3l1-6l-5-19l-16-6l1-1h32l3-4l3-13l-2-2l-24-7zM677 124l2-2h5l3 4v3l-7 3l-3-4zM157 49l3 3h9l8-3l2 2l1 5l4 2l8 1h24l5-1l2-2l16 2l15-3l8-4l8 5h18l10 4l16-3l-4-3l-17-6l1-1l-5-1l-28 1l-5-3h-14l-1-1h-17l-12 3l-2 2h-20l-1 1h-7l-8-4h-15zM905 42l9 1l14-2l-15-1l-8 1zM167 40v1l10 2l10-1l15 1l8-2v-1l-6-1h-35zM214 40l24 1l-1-3h-21zM705 37l-32 5l-14 10l7 2h7l8-9l16-4zM240 37h15v-3h-14zM193 34l1 1h34l3-2l-2-1h-32zM544 30l8 5l12 2l22-9h-28zM784 31l10 2l14-2l-10-5l-6 1zM686 25l-18-1l-20 3h34z"/><path fill="#edf2f5" d="M652 290l-7 9l-8 5l1 8l-2 3v6l4 6l5-1l9-25zM946 327l-8-7l-4-8l-4-1l-3-3l-2-10l-5-2v-5l-3-4l-2 4v9l-4 5h-3l-11-7l3-8l-1 1l-11-2l-6 4v3l-2 2h-3l-3-2l-5 1l-9 8l-1 4l-3 3l-12 2l-9 4l1 5l-1 7l6 15l-2 7l1 1l9 1l4-3h10l2-3l6-2l14-1l8 3l5 6l6-4l1 6h3l4 7l6 2l7-1l3 2l3-3l7-2l1-5l6-8l3-9zM839 279v1h6l19 4l7-4zM812 275l24 5l1-1l-1-2l-8-3l-8 1l-6-2zM945 269l-2-1l-8 4l1 1l5-1zM885 258l3 3l4 1l-4 2l2 2l7 1l7 3l3 5l-2 3l2-1l4 3h8l5-3l9 7h6l-6-4l-3-5l1-2l-3-1l-6-6l-17-5h-3l-6 4l-3-7zM867 252l-2 1l-10-1l-2 2l-2 8l1 8h2l1-7l2 1l2 4h2l-4-6l4-4h-6l-1-2l3-3zM784 240l3 6l6 5l8 14l6 5l5 1l1-7l-24-23zM850 240l-6-4l-10 10l-12 6v3l4 7l3 2l11 2l2-2v-4l2-3l6-5l-4-4zM871 233l-2-4h-2l-7 6l9 3zM739 229v7l1 2h2l2-4zM869 221l-9 2l1 4l3 1l5-4l-1-2zM463 213l2 7l9 8v3l15 11h5l5-2l8 1l10-4h7l5 6l7-1l4 4l-2 13l2 4l7 7v4l4 10v6l-5 10v6l6 10l3 16l5 6l4 9v5l4 2l21-4l5-3l10-11l1-8l7-4l-1-12l11-8l5-6l-1-14l-2-2l-1-9l1-7l15-16l9-7l9-18v-2h-5l-12 3l-4-2l-2-4l-11-9v-2h-13l-9 2h-16l-9-2l-52 2l-11-2l-39 1l-7-1l-2-2v3zM603 254l6 1v6l-2 2l-5-2zM855 203l-1 3l1 9l8 4l1-1l-6-3l1-12zM301 203l10 1l5-2l-3-2h-10zM827 200l-2-1l-3 2l2 2zM276 191h4l8 3l3 4h7l-12-7l-5-1zM681 191l-2-2l2 2l-18 14l-14 2l-4-4l-5 6h-6l-1 4l2 5h7l8-2l18-9l8-6zM858 185h-2l-2 5l2 2zM883 160l-1 5l3 1l1-5zM573 142l-2 2l3 6l3 1l2-3l-3-5l2-1zM914 138l-3 1v3l-3 5l-6 3l-4 5h-9l-4 3h3l3 3l3-2l-2-1l1-1l13-1l6-2v-6l3-4zM486 134l1 2l-2 8l2 6l4-1l5 4l-3 6l-9 8v2l5-2h27l15 3l32-2l-8-4l-11-3l-3-4l1-7l-24 1l-12 5l-7-1l-3-2l4-3l8-1l4-4l-2-2l1-1l-6-3l-6 1l-4-2h-5zM911 135l2-1l8 1l4-4l-9-5l-3 1zM344 119l11 3l6-1l-2-6l-4-1l-3-4zM916 102v22l4-3l2-5l-3-3l-1-5l1-1zM444 69l3 3l5 2h11l9-3l-1-3l-4-1h-18zM0 60v9l6-2l15 5l7-4zM334 66l-19-9l-12 3l-1 1l2 1v2l-4 5l-9 2l13 1l9 5l11 1zM41 60l-7 9l4 2h15l1 3l-10 2l-4 4l4 3l6 1l2 4h10l1 1l-1 2l-15 8l15-4l8-4l9-9l2 4l8-3h7l7 2l1-1l1 1h10l7 3l8 1l11 11l4 2l5 7l12 6v2l-2 1l-4-4l-8-2l10 6l1 23l9 15l6 2l7 7l7 13l10 11l-5-9l-8-10l1-5l27 28l-1 4l2 2l16 9l6 2l8-1l7 6l12 3l7 9l6 5l7 2l1-3l3-1l5 3l-1 4l1 6l-10 14l2 6l-3 3v4l4 4l6 14l9 12l7 3l5 5v16l-1 1l1 1l-4 16v8l-5 10l-1 5l1 16l-6 8v8l4 7l12 8l12-1l-6-4l-4-5l9-12l-4-4l6-3l4-6l-4-5l8-1l2-6l11-1l2-4l-3-7l1-1l5 2l7-1l11-13l3-5l1-6l8-6l11-4l3-3l4-12l1-10l11-15l-1-8l-5-1l-11-6l-10-1l-14-6l-2-2v-4l-4-8l-7-4h-8l-9-7l-6-7l-1 1h-16l-4-2l-5 1l-2-4l-5 3l-5 1l-5 6l-6-2l-5 2l-3-1l-5-6l1-7l-2-2h-2l-5-4h-5l-1-5l-5-5l-4 2l-8 1l-6-5l-3-7l2-15l8-6l14 1l1-3l17 2l2 2l1 7l2 3h3v-6l-3-7v-4l2-3l11-6l3-3l-1-4l6-7v-3l10-3v-4l7-5l5-1l2 4l6-3l6-1l3-3l-2 2l-8-1l-4-4l2-4h-6l-7 4l-3-1l14-8h16l10-5l-4-5l-6-3l-13-14l-6 5l-6-1l-4-2l-1-5l-9-3h-13l2 4l-2 6l3 7l-5 6v5l-2 3h-3l-5-5l-1-6h-7l-8-4l-14-1l-5-6v-2l6-9l7-4l8-2l4 4l8 1l4-2l-8-5l-3 1l-3-2l2-2l5 1l7-3l-1-5l-9-1l-6 6l-14-8l-5 2h-5l-4 4l-51 1l-15-5l-27-1l-17 3l-9-2l-20-2l-1 1l-31-4l-15 3zM284 135l-3 3l-7-1l7-3zM295 131l-1 2h-6l-2 2l-3-1l7-4zM271 125l10-1l4 5l-6 5l-6-4v-3zM269 124l1 3l-2 6l-5 4l-2-2v-10zM250 122l12-6l7 2l3 5l-1 1h-10zM234 102l2 2l2 5l-1 4l-7-6l-1-3zM199 77l-4 4l-7 2l-9-1l8-5l9-1zM157 68l10-4l6 1l3 2l-8 5l-7-1zM1023 60l-6-2h-10l-9 2l-2-3l-28 1l-3-3h-17l-22-5h-17l-4 2h-12l-12 2l-16-8l-9 2l-23-1l-1-1l2-1l-1-5l-17-2l-6-3h-3l-13 4l-33 3l-17 4l-1 1l5 5l-3 3l-4-1l-5-4h-8l-4 4l2 7l-6 6l-3-1l4-3l-3-3v-8l-8-5l-6 1l-1 6l4 6l-1 1l-15-3h-9l-7 3h-13l-14 2l-3 2l-6-3l-2 5h-6l-4 2l-2 3l-6-1l-1 3l-6-1l-5-7l1-1l11 2l9-1l-1-3l-14-4l-14-1l-1-1l1-1l-2-1l-15-1l-27 7l-12 11l-16 7l-1 6l3 4h7l6-2l7 10l7-1l8-10l-3-4l1-4l10-6l3-4l8 1l-2 3l-8 5v5l2 2l20-1l1 1l-1 2l-14 1l-1 1l1 4l-8 1l-1 5l-4 3l-5-1l-8 2h-13l-3-3l2-3v-4l-6 2l1 8l-4 2l5 5l6 3l15-1l5 3l7 1l10-1l6 2l2 2l2 16l-1 4h2l-1-4l9-11h6l2 2l-2 1l2 3l6-2l-2-2l1-2l6-2l5 1l-5 4v2l10 4l2 2l-1 4l-12 1l-6-3h-4l-3 2l-9 1l-1 2l-7 1l1 6l4 3l7-1l5 2l5-1l6 1l-3 11l-3 4l-15 1l-10-2l-7-3h-5l-3 2l-2 4l1-1l10 2l22 7l8 1l-1-2l1-1l1 1v-2l2-1l3 6l1-1l11 1l-6-16l2-2h11l-4-10l2-4l17-3l4-2l-6-9l-1-5l8-8l32-2l24 7l3 3v3l-3 10l-4 5h-32l12 3l4 3l5 19v5l-2 2l-13 3v2h22l10 7l-2 2l3 3l6-1l2 12l12 26l7-7v-13l15-13l4-1l2-4l8-1l4-2l8 10l1 7l-1 1l3 1l2-3h3l2 2v5l2 4v15l4 3l4 11l5 4h2l-3-10l-6-6l-4-8l2-8l2-2l5 3l7 7l1 3l6-6l5-2l-1-9l-8-10v-3l7-7l1 1l1-1l3 3l1-2l10-2l7-3l11-11l4-8v-5l-7-9l8-6l-4-2l-5 1l-3-4l2-2l8-4l2 5l6-3l3 2v4l4 1l-1 4l1 5l5-1l3-3l-6-11l11-9h6l5-2l11-10l4-2v-7l3-5l-1-2l-9-2l-6-3l7-4l6-6l8-4h21l1 1l12-1l6-7h10l9-2l1 1l-4 4l-9 4l-10 8l-1 9l3 7l5-6h4l9-9v-4l7-6h10l18-7l10-1l-4-5l6-1zM825 98l-2 5l-9 6l-4 1l-2-1l6-3l9-9zM606 83l-5 3l-4-1l7-5z"/><path fill="#f8f1ed" d="M300 391l-3 6l4 7l12 8h5l-2-5l1-2l-2-3l5-7v-3l-4 1l-2-4h-3l-2 2l-4-2l-2 2zM328 380l-6 1l-1 3l1 1l4-2zM302 365v8h1l1-7zM324 367l3-1l3 4l-1 1h5l2-6l11-1l1-2l-3-1l-3 3l-7-4v-3l-2-1l-1 3l-2 2l-2-1l-3 4h-2zM327 335l-1 6l4 3l1-3l-2-3l1-1l-1-2zM374 330l-4 3v4l-2 2l-6-1l1 3l-1 1l-6-2l-4-6l-2 6l1 5l5 1l3-1l4 3l7-8l3-5zM575 329l-3-1l-4 2l-1 2h7zM922 306l-3-3l-4 1l-3 4l1 5l-2 1l-8-7l-9-3l-2-2v-5l-3-1l-8 1l-8 6l-4 1l-5-2l-4 3l-1 4l-3 3l-12 2l-6 3l-1 3l-2 1l1 2l-1 6l3 9l3 3l3-1v-2l4-3v-3l3-2h3l6 3l2 4h2l1-2l2 1l4-2l5 3l3-2l3 1l5-1l2 3h4l3-4l6 2l6-5l2 3h6l-1-7l3-2l4 4l2-3l-4-2l1-2l-1-2l-6-1l-1-2l9-6l1-2zM403 290l-4 2l2 4l-3 4l2 3l-2 2l1 1l2-12zM307 290l-3 6l-4 3l14 9l-2 7l-1 10l1 1l-5 25l3-1l7 9l2-18l4-5v-9l4-2l-4-9l7-8h3v-2l-5-2l-2 4l-3-2v-3l-4-5l2-3v-3l-2 2h-4l-3 2v3l4 3l-2 2l-5-2l-2-2l2-5v-5zM390 287l-1 3l5 2v-3zM619 306l-2-2l-5 2l-4-8l-4 1l-2-2l-1-7l-2-2l5-3v-5l-4 4l-7-1l2 4l-3 3h-4l-3-2v-6h-2v2l-8 6l-8-4l-3 1l-4-3h-3l-1 4l2 2v3l-4 1l-3 4h-4l-1 8l3 3l6 3l-1 1l1 5l5-1l3 3l2-1l3 3l4-4h3l5 6l2 1l5-1l6 3l3 4l3-1l4 3l-1-2l4-4l6-3l-1-11l-4-2l5-1l3-3zM593 304l2-3l2 1l-2 3zM945 269l-2-1l-8 4l1 1l5-1zM392 268l-1-1l-5 1v1l5 1zM336 267l3 7l3-3l2 1l2-1l-6-4zM885 258l3 3l4 1l-4 2l2 2l11 3l2-3l3 3l-1 3l2 4l-2 2l2-1l4 3h4v-2l-3-2v-3l-3-3l5-5l-1-2l-6-1l1 1l-3 2l-2-2l1-2h-2l-6 4l-3-7zM620 255l-2 1l1 4l-2 1v3l2-1zM844 251l1 3l4-1v-1zM563 251l-3 1l2 3l2-2zM557 250l-4 3l-1-1l-2 5v3l2 2l-1 2l-4-2l-3 1l-4-1l5 6l3 1l-1 5l2 2l2-1l-1-2l2-8l3-2l4-6l-2-2zM591 249l-2 2v3l3 3l5 2l1-3l-4-1l-2-2l1-3zM620 248l-6 1l-4 3v5l5-3l2-3h4zM840 247l-1-2l-3-1l-12 7l2-1l8 1zM575 242l-4 3l3 3zM739 229v7l1 2h2l1-4l-1-3zM294 229l-2 2h-4l3 1l4 5v3l-4 4l3 3l-6 2l-1 2l1 4l-3 2v3l-4 6v3l4 5l4 9h4l2 3v-2l4-4l2 1l-2 11l9-7l2 1l2-2l-3-6l1-6l-1-3l5-2v-2l-5-5l-5 2l-7-4l1-2h3l2 2l4-2l-1-7l-6-7l1-2l-3-3l2-7l-4 1zM313 233l2 4l2-1l5 4l-2 2l2 2l3-1l5 8h3l3-3h3l3 3l3-2l2 1l3-2v-3l8-6h-8l-9-7l-6-7l-1 1l-18-1l3 3v2zM657 223l-7 1l2 5l-2 2l-4-6l-6 1l-3-2l-1 8l-4 5v3l4 2l6 6l8-8l6-12zM636 234l4-1l1 3l-3 1zM736 222h-4l-2 7l2 3l6-5zM253 214l1 2l7 1l3-3l1 4l2 1l6-1v-2l-5-3l-3 2l-2-3h-2l-4 3l-2-4zM463 213l2 3h4l2 2l-3 3l10 10l-1 3l3 1l2-5l3 3l7-2l4-4h5l8 4l5-2l5 3l-6 3l2 3l9-1l5 6l7-1l4 4v3l3 5l3-1l1-4l-3-3l-4-1l-2-5l-4 1l-5-6l-3-1l-2-5l6-2l5 2l1 2l-3 1l-1 2l4 2l2-1l-1-3l3-3l2 4l3-2l5 2l2-2l16-1l2 2l3-1l7 4l3-3l5-2l5 3l2 4l-1 2l-3 1l-5-4l-3 4l-2-2l-4 3l1 2h3l3-3l3 2l6-1l5 2l3 5l4-3l4 4v-4l2-2l4 1l6-4l-2-2h-5l-4 3l-2-1l-2 1l-4-4l2-2v-7l-2 1l-2-2l1-4l-1-3l3-2l3 6l1-1l-1-3l3-2l6-1l3 3h7l4-4l-6-5v-2h-7l-6 4l-2 3l-3 1l-2-2v-3l-2-1h-16l-9-2l-52 2l-11-2l-39 1l-7-1l-2-2v3zM634 209h4l2 2v3h2l5-5l2 1v2l3-3h3l2 3l1-5l3 2h3l5-3h-3l-2-2l-9 3h-6l-4-4l-5 6zM226 203l1 3l4 2l-1-5zM305 204h6l3-1l1-2l-6-1zM801 199l-1-1l-4 3l5 1zM858 185h-2l-2 5l2 2zM681 183h9v-2l-8-1zM798 180l-1-1l-6 1l-5-1l-2 1v6l-2 2l-5-5l-5 2v2l4 3l2 6l7-1l-1-3l2-2h3l4 4h2l-1-7l3-1zM276 172l1 6h4l1-4l-2-2zM585 170v2h4l1 2l12 3v-2l-4 1l-5-3l-2-3l-1 1zM570 166l-1 3h3l1-3zM224 168l1 4l6-1v-4l-5-1zM517 164l1 2l-1 2l8 1l-3-5zM858 165l-2 4l-3-2v-4l-5 3l-7 1l-1 2l-8-1l-1 4l-4-2l-10-1l-1 2l-4 2l6 9l4 3l-1 5l3 2l1 4l1-2l10-2l10-5l-1-6l4-2l2 3l6-9zM823 176l4-2l7 7l-4 1l-2-3l-3 2zM534 164l2 3l4 2l6-1l-1-4l-1 1l-3-2zM694 172v4l-2 4l3 3h6l6 5l1-2h2l2 3h2l-1-3l1-2l7 2v-2l7-6h3l1 3l3 2l1 5l-3 1v4l-2 2l-4-4l-3 6l2-1l1 4h10l3 3h5l2 3l2-2l-3-3l1-3l-3-1v-3l2-2l5 2l2-2l-1-2l1-3l6 3v-2l-9-7l-5-6l-8-2l-3 1l-4-2l-5 1l-3-3l2-4h-3l-1-2h-2v3l-2 2h-4l-2-2l1-3l-3-2l-3 7l-2 1l-5-1zM619 166l-4-2v-3h-3l-3 6h-9v3l1 1l3-1l2 2l6-9l2 1l-1 1l1 4zM883 160l-1 1l2 2l-1 3h2l1-5zM885 158h3l3 3l3-2l-2-1l5-1v-2h-8zM621 155l-1 3l3 3h2zM501 155v2l3 1l-2 4l2 3l-1 2h10l2-11l-5 3l-2-2l1-2l-3 1zM629 154l2 3l-2 4h4l-2-6zM691 149l2 3v2l-3 3l2 7l8-1v-7l-7-7zM573 147l1 3l5-1l-1-2l-3-1zM871 143l-3 4l4 1l-1 4l1 5l7-2l1-2l-2-5l-5-5zM837 139v4l-4 3l1 3l5-2l1 1l-2 2l1 4l2 1l7-1l3 2v-3l3-2l-4-2l-3-4l5-3l-1-1l-10 1l-2-3zM786 138v3l4-1l-1-2zM922 130l-3-2l-1 4l-3 3h3zM780 127l-2 5l3 5l1-1l-2-5l2-3zM159 127l-1 5l1 9l9 15l6 2l3 3h4l3-4l2 2l-2 3l-1 8l3 5h2l3 3l1 5l6 6l-5-9l-8-10l1-5l27 28l-1 3h2l4-4l11 4l6 8l2 1l4-1l-6-7l-2-5l1-5l-3-3l1-3l-4-2l-3-4h-4l-5-6h-14l-3-2v-3h-6l-2-5l-5-4l-1-4l-3-2l1-4l-9-2l1-4l-3-3l2-3l-7-1v3l-3 1zM623 121l-3 8l9 1l1-8zM659 118l-3-2h-3l-3 3l-3-1l-2 4l-5-3l-5 3l1 1l-1 6l4 4l4 1l3-2l-1-2l1-4l5-3l2-3h4zM603 118l3 2h3l1-4l-3-1zM600 115l-4 1l-1 3l3 1l3-3zM729 120l-1 4l2 2v4l-2 2v3l4 3l1 3l4 4l10 3h15l13-3l-1-2l1-4h-4l-2 4h-6l-2-3v-3l-4 3h-3l-2-2l1-2l-3-6l4-3l-1-2h-3l-1 5h-3l-5 3v2h2l1 3l-2 3l-2-1l-1-3l-4-4v-3l2-2v-5l3-3l6 1l4-2l1-2h-3l-3 2l-5-5l-5 8l-3-1v-3zM776 116l-1 4l4 5l2-2l10 2l5 2l1 4l7 3l-1 3l-5 1l2 4l-3 3l4 9l-4 3l1 2l-1 3l2 3v3h2v-2l3-2l3 3l-2 3l4 2l-1-6l2-1l-1-1l-2 1l-2-3l4-1l3-3l6 2l1-5l10-6l1-2l-2-2l1-7l6-1v-4l3-3l-1-1l-10 1v3l-3 3l-4-2l-3 1l1 3l-2 2l-2-1l1 4l-2 3l2 2h4l2-2l2 3l-2 2l-3-1l-7 8l-1-1l1-7l-3-3l1-8l-4-3l3-1l4 2l1-4l7-2l-2-3l3-4v-7h-2v4l-2 1l-2 6h-3l-2 3l-3-1l-2 1l-1-1l1-5l4-2l4-5l-4-4l-5-2h-6l-4 2l-6-1l-4 2zM578 108l-1 1l2 5l3 1v-5zM959 104l-3 1l2 5l3-4zM877 103l-4 2l-2 9l-4-2l2 3l4 1l1-3l8-3l-5-5zM66 92l-3-1l-4 3l-2-1l-3 2l-1 3l9-3zM886 89l-2-2l-8 1l-1 2l1 2l5 1l1-2h3zM444 69l5 4l2-2l2 3h8l3-2v-5h-15z"/><path fill="#fbe4d6" d="M299 397v3l5 5h2v-2l4-2l2 2l-4 5l3 2h4l-4-2l4-8l-2-9l-5 2l-2-1zM910 320l-2 7l5 4l-2-2v-3l3-3l-1-2zM593 324l1 2l7 3v-4l6-3l2-4l-2-1l-5 4l-4-5l-4-1l-1 2l3 2v2zM600 308l3 6l1-5zM921 305l-5-1l-2 2l-1 3l2 4l5-1l2-2zM321 303l-3 1l1 2l-3 2l-1 5l-3 4l-1 8l2 4l-4 14l1 5l5 2l1 5l2-14l4-9l-1-7l4-2l-3-4zM908 317l-1-4l-6-6l-11-3l-2-2l2-2l-3 1l-3-3h-3l-7 7h-3l-3 3l-5-2l-7 6l-12 2l-6 3l4 2l-2 5l2 5l-5 3l8 1l-1-3l4-2l13 3l3-4l1 4l9 1l2 3l4-3l3 2l4-2l4 2l4-1l4-5l5 1l2-4l-3-3l3-1zM561 288l-1 6l-2 3l4 4l-5 5l-4-1l-1-3h-3v2h3l1 4l4 1l3 4h4l2 2l10 1l3 5h3l2-2l-1-4l3-5v-3l3-2l-1-4l1-1l3 2l2-2v-2l3-3l-1-4l-9 2l-5-3h-5l-2 2l-3-2l-4 1l-2-3l-2 1zM310 283l-4-2l-4 4h3l2-2l3 1zM308 264l-5 2l-3-1l-4 5l2-1l2 1l-4 5v6l3-5h7l-4-8l2-2h7zM885 258l3 3l4 1l-4 2l2 2l5-1l-2-6zM297 260h-2l-3-3l-4 1l-2 5l-2 1l2 6l3 1l4-6l5-2zM289 250l1 3l4-2zM639 239l2 6l2 1l5-4l-3-3l-3-1zM337 227l-1 4l7 2l4 8l-1 2h-2v4h4l4-8l-5-2zM321 229l3 2l-1 3l-3-1l1 4l4 1l2 3l8-1l-7-14h-3l-1 2zM642 225l-1 1l1 3l-3 1l2 2l4-2v-3zM734 223l-2 2l1 5l3-1v-4zM618 216l1 3l4-2zM465 210v3l8 5l1 7l2 3l14 2l3-4h3l3-2l-3-2l1-2l5 1l1 2l-2 2l7 3l3-4l3-1l3 3v2l5 4l1-1l-1-3l2-2h3l2-3l5 4l10 1l4 3l2-2l11 1l3-2l19 3l2-3h6l5 4v8l3 1l2 3l3-1l-1-3l-4-1v-4l2-2l-2-2l-2-13l-2-2l2-5h-12l-12-2l-2 2l-2-2h-11l-12 2h-22l-11-2h-20l-1 1l-26-1zM749 183h-5v4l-3 1l-4 4l-2 5l2-3l4 2l5-10zM843 181l-2 3h-3l-1 3h-3l-2 2v4l6-2l5-5zM740 176l2 3l4-1l-2-2zM277 172v5l3 1l1-5zM854 171l-2 4l1 3l3-3zM698 173l2 6l3-1l3 4l4-3l4 3l2-1l1 1l8-3l2-3l5-1l-4-1l-3 3l-2-5l-2-1h-7l-4 3l-2-2h-3l-2 3h-2l-2-3zM195 172l3 3v3l9 9l5 3l13 2l3-2l2 2l-3 2l7 3l1 3l4 2l-4-5l-2-8l-3-3l-3 1l-2-2v-6l-3-3h-3l-4-5l-12 1l-2-2h-4zM844 169l-2 4l4 1l1-4zM227 166l-3 3l1 2l3 1l3-2v-2zM189 160l-3 2l1 4l3-3zM694 157l-1 2l4 2l1-1l-1-3zM808 150l-2-1l-2 1l-1 6l-4 2l1 4l4-3h4l-1-2l2-4zM801 140l3 2h3l-1-3zM739 143v2l15 3l15-3v-1l-6 1l-3-4l-6 1l-8-3l-4 4zM159 139l1 4l9 14l1-1l5 3h5l4-4v-2l-5-4v-3h-5l-2-2l1-3l-1-2h-7l-2-2zM827 136l-3 3l-4-2v3l3-1l3 3zM647 124l-3 1v4l-4 1v2l5-2zM624 123l-1 4l5 1l1-3zM809 117l-3-3l-8-1l-4 2l-6-1l-11 5l2 3h7l11 3l4 6v-4l-2-3l1-1l4 1l5-4zM455 67l1 1l-1 6l7-3v-2l-4 1l-2-2l1-1z"/><path fill="#fcd3bc" d="M305 396l-3 3l-1-1l3 5l2-3zM320 313h-3l-2 3v3l-3 3l2 4v4l2 2l-4 7l-1 4l1 4l5-1l1-5l-1-7l3-2v-10l1-1zM920 305l-5 1l-1 3l1 3h3l3-2zM902 313l-4-6l-4-2h-7l-5-5l-4 4v2l-6 5l3 1l1 3l-2 2l-1-1l-6 1l-3 5l-2-7l8-4l-1-1l-1 1l-6-1l-4 6l-3-4l-11 2l-2 2l2 2l3-4h2l2 2l-1 1h3l2 5l3 2l-1 1l-5-1l2 4l2-1l3 1l6-5l5 7h5l2-3l7 5l5-2l1-4h2l2 3l-1-2l2-2h4v-2h-4l-1-2l1-1l4 1l2-2zM585 293h-4l-4 5l-4-5l2 3l-3 3v2l-5 1l-5 8l9 4h5l2-3h5l3-6l-1-6l2-2zM467 214l6 1l9 4l-4 7l11 3l3-5l-3-3l1-2l2 1l8-1l8 3h3l2-2h9l2 2l7-1l5 1l4 4l5 1l2-1l5 1l4-3l2 5l6-3l2 1l4-4l7-1l2 2l-3 2l3 3l2-4l4 2h9l2-2v-6l-3-4l1-3l-3-1l-2 3l-11-1l-2-2l-7 3l-8-4l-2 1l-8-1l-5 2l-5-1l-2 1l-26-3h-20l-1 1l-24-1zM209 181l-2-1l-4 3l5 1zM221 178l-1 8l2 1l1-8zM712 175l1 4l2 1l4-1l3-3v-3h-8zM278 172l-1 5h3l1-3zM225 168l1 3h3l2-2l-1-2zM743 145l5 1l2-2l1 3h5l4-4l-1-1l-2 1l-12-1zM159 141l9 14l3-1l5 5l4-1l3-3l-7-8h-3l-2-2l-1-5l-3 1l-1 3l-3-4zM807 118l-2-3l-7-1l-4 2h-6l-1 4l3 2l7 1l2-2l4 1z"/><path fill="#f7b799" d="M872 319l-2 5l1 1l5-1l6 2v-2h-3l-4-5zM858 317l-1 4h4v-3zM319 316h-1l-1 5l-3 2h3l2-2zM920 306h-3l-2 4l1 1l4-1zM878 309l2 3l-2 3l1 3l6 1l2-2l6 2l2-3l3 3l2-1v-6l-4-5l-11-1l-2 2zM568 303l-3 4v3l7 3l4-2l-1-5l-2-2zM584 297l-7 4l4 2l1 4l3-3l-3-4zM485 221l-3 2v2l2 1l2-2zM469 212l10 5l4-1l8 2h9l5 2l15-2l5 3l6-2l3 2h4l4 3l7-4l12 4l19-3l5 5h8l2-2v-6l-3-3l-6-1l-9 1l-2-2l-20 1l-1-3l-5 2h-11l-5-2l-20-2l-41 1zM277 173v4h3l1-2l-1-2zM226 167l-1 3l4 1l1-3zM174 152l-1 3l2 3h4l3-4l-4-3zM799 115l-1 1l2 4h3z"/><path fill="#f09c7b" d="M881 310l2 4l2-1l6 3l-3-3v-2l3-2l2 3v3l2-1l4 2v-3l-3-5l-5 1l-4-2zM574 307l-3-1l-4 3l2 2h4zM553 219l5 3l16-1l6-2l5 6l6 1l3-2v-6l-2-2l-5-1l-8 2l-4-2l-4 1l-5-2h-8zM477 210l1 5h12l2 2h9l6 2l15-1l3 2l5-3l4 3l6 1l9-2l-2-4l-4-1l-4 1l-3-2l-11-1l-3-2l-10-1zM278 173l-1 3l2 1l1-3zM176 152l-2 2l1 2l4 1l1-4z"/><path fill="#e27b62" d="M582 218l1 4l4 3h4l2-2l-1-6l-7-1zM556 217l1 3l5 2l9-3l-4-4h-9zM478 210l5 3l2-1l-1-2zM488 211v2l6 3l6-1l4 3l1-1l21 1l1-2l-1-3l-7-3l-26-1z"/><path fill="#d35a4a" d="M586 217l-1 5l2 2h3l3-4l-2-2zM558 216v3l2 1h5l3-2l-1-2zM504 210l1 3l-2 3l22 1v-3l-4-3l-10-1l-6 1zM495 210l1 4h2l1-2z"/><path fill="#c2383a" d="M508 213l2 3h10l1-1l2 1l1-1l-5-4h-9z"/><path fill="#b1182b" d="M510 213l3 3l8-2l-7-2z"/><path fill="#dbeaf2" d="M939 358l-11 3l-1 4l1 1l3-3l6-1zM311 353h-2l-5 5v3l3 1v6l4 3v3l-2 1l-2-2l-4 8l-5 6h4l2-3l4 3l4-1l1-2l4 1l2-9l2-1l2 3l1-4h-2l-4-4l-1-3l1-3l-6-6zM841 348l-2 4l4 2l1-3zM340 359l2 1l3-4l4 3l-3-6l2-1l6 2l1-3l-2-2l-5 2l-3-3h-2l1 5zM570 349l2 3h6v-3l-4-4zM321 342l-2 15l2 4h3l6-9l-3-7zM912 337l3 6v4l2 2l4-6l-3-2l2-4zM924 333l3 3l4-1l-2-3zM848 347l2-2l4 1l3-3h3l1 2l-3 2v2l2 2h3l3-3l-2-3l2-2h2l2 3h3l3-4l3 3l3-1l7 2l8 6v-2l7-5l2 2l-1 9h2l-1-2l5-6v-7l-4-4l-4 6h-2l-2-4l-12 3l-2-2l-4 1l-1-2l-11-1l-4 3l-9-5l-3-4l-2 2v6l3 3l-2 2l-2-2zM588 328l-6 5l-1 4l4 3l-3 4l8 4v-4l2-2l6 1l3-5l-1-1l-5 1l-3-3l1-4zM358 324h-2l-4 5l1 2l6-2zM554 326l1 6l5 6l1 4l3-2l3 2l6-3l-4-4l-5 3l-6-5l1-1l5 1l1-3l4-3v-2l-6-2l-1 1h3l1 3l-6 4l-4-3v-2zM377 317l-1 3l-5-1l-1 3l2 2v3h2l3-3l-1-3l2-3zM640 315l-1 1l6 5l1 3l2-7zM398 309l-5-1l-2-3l-3 5v5l-1 1l-2-3l-4 2v6l2 2l3-1l5-5l2 2l3-3zM898 296l-4 3l1 3h3l-1-2zM874 296h-3l-5 4l6 1l2-2zM652 290l-3 4l1 6l-1 1l-4-2l-2 1l2 7l6 1l3-7zM889 289l-4 1l-3 4h5zM291 288l4 6l3-5zM917 287l-2 4l-1 11l-3 3h-3l-6-3l5 6h3l5-6h5l4 4v6l-5 4l2-1l3 1l6 8v3l3 2v6l3-1l2 1l-8 7l-1 7l1 2h3l2-3h2l3-3h4l1 3l1-2l-2-1l3-2l1-4l-2-12l-2-2l-1 5l-2 2l-1-1l2-7l-4-4l-4-8l-4-1l-3-3l-2-10l-5-2v-5zM930 322l6-1l3 4l-4 2zM839 279v1l8-1l4 3l13 2l7-4l-11-1l-3 2l-5-2zM817 274l3 3l12 2l1-2l-1-2l-4-1l-2 1zM915 274l3 3l3-1l5 2l6 5l-2-6l-5-4l-4 1l-4-2zM616 269l3 3l-5 4l1 3l-2 2h-3l-1-2l-2 1l1 6l-2 2v4l5 1l2-2l4 4h3l4 5l1-3h-2l-4-6l5-1l1-3h-4l-2-5l1-4l2-2l2 1l-1-6zM600 259l-1 2l2 2l-1 4l7 7l3-2l-1-5l4-5l-1-2h-2l-3 3h-2l-3-2v-2zM861 258h-5l-4 2l-1 2l1 8h2v-2l-3-2l4-3l3 1l-1-3zM542 256l-1 2l4 2l1-1l-1-2zM844 257l-4-4l-3 2h-4l-5 8l12 3l-1-1l1-3l2-1zM794 253l6 10l7-3l-2-3l-9-2zM633 251v3l-5 2l-1 2l1 3l7-7zM599 271l-5-6l-1-4l-3 3l-7-1l-1-3l3-3l-9-2l-1-1l1-3l-4 3l-2-1l-5 2l-1 3l2 2l-2 3h-2l-1-3l-3 2l1 8l-6 2l3 3l-1 3l-2 2l-4-1l2 5v5l4-8h6l5 2l4-3l1 1l4-1l3 4l2-1l-1-4l-3 1l-3-6h-3l-6-3v-2l5-5l6 5v2l10-1l1 4h2l1-3l3 6l-1 3l3-2v-3l4-2zM561 273l2 1l1 3l-1 4l-3-1zM576 263l4-2l3 3l-5 2zM407 273l-6-2l-1 2h-2l-3-2l-2 3l-11-3l-2-2l1-6l-2-1l-3 3h-3l-1-3l2-3l-5-1l-2-7h-4l-1 4l2 2l5 1l1 5l-2 2l-6-3l-4 2l1 1l-2 6l2 1l1 6l-2 2h-3l-4-6l-11 3l-3-1l-2-3v4l-5 3v13l-5 1l-2 3l9 6l7 2l-1 4l-3 2l1 3l-1 2h-2l-1-4h-2l-2 4l-2 1l3 5h2l1 2h3l2 3l3 1l-2 3l-1 8l6 1l3-4l-2-3l1-4l7-4l-2-7l2-3l4 3v-5l2-2l4 2l2-1l1 3l-3 4l4 2l2-5l-1-3l3-4l4 5l5-5l-2-5l2-2l6 1l4-4l1-3l3 3l1-2l-8-6l1-1l-1-6l4-4v-3l4-3l2 4l6 6l2-1l2-3l-1-4zM334 322l2-4l4 2l-2 3zM357 304l3-1l2 2l-3 2zM339 293l4 2l-3 5l-3-3zM365 243l-6-2l-1 3l-5 1v5l-3 3h-2v3l-2 2h-3l-5-6l-4 5l2 4l-4 4l-5-4l-3 2l-2-1l-5 3l-4 8v2l3 2l-2 2l2 4l-3 7l3 1l2-1l-3-2v-2l3-2l4 2l-1-7l1-3l-3-2l2-2l5 2l4-4l4 1l-2-5l3-2l10 2l3 2l4-4h2l-2-10l4-2l2-4l2 1l2-3l6 3zM346 262l2-2l2 3l-3 1zM307 243l-1 2l5 5l1-1l3 1l-1 4h3l1-9l-2-4l-2-1l-3 5zM800 239l-1 4l8 8l-2-7zM544 235v4l2 1l1-5zM576 236l-2-1l-2 3h-4l-3-6l-10 1l-4 3l1 2h5l2 3l-1 1l-8-1l-2 5l4 1l3-3h3l5-10l3 1l-2 10l5-2zM865 230l-4 5l7 3l-2-2l1-6zM502 230l-6 1v2l3 3v3v-2l4-3zM303 223l-2 1l2 4v5l-2 3l7 4l3-2l-1-6l-1 1l-4-1l2-8zM606 237l3 1l2-2l1-9l3 2l2 6h2v-2l4-4h2l1 2l-3 2v2l3 1l1-3l5-1v-3l3-3v-2l-5-1l-5 2l-4-3l-1 1l1 3l-3 3l-1-6l-2-1l-5 3zM802 219l6 6v-5zM248 203l-3 1l-2 3h-2v2h4l3-3zM252 202l-2 1l1 4l2-2zM780 198v2l8 4l1 4l7-3l-4-5l-4 1l-6-4zM291 197v1h7l-4-3zM221 196l-3-1l-5 3l3 1zM681 192l-6 4l2 3zM718 191l-1 3l2 1l1 11l3 7l4 3l-1 3l1 3l2 1l2-4h7l1 2v-4h-5l-3-6l-3-2l2-5l-6-2l-2 3l-2-2v-7l2-3zM811 189v5l2 2l-3 2l-2-3h-3v2l4 4l-2 6l5 3l-2 3l-4 2l5 1l3 7h5l-3-6l4-3v-3l-7-8v-3l5-6v-2l-4 4l-1-4l2-3l-2 1zM772 191l-4-2l-4 4h4zM802 181l-2 3v4h2l3-3zM729 180l-2 3l3 1l2 3v-3zM621 169l2 2l-2 2h-3l-2 2v3l10 1zM575 170l7 2l3-5l3 1l5-1l-12-2l-3 3h-3zM822 163l1 4h4v-2zM497 158l-1 3l3 2l1-3zM822 158l1 2h7l2 3l3-2h4l3 3l4-4h4l-1-2h-2l-1 2l-3-2h-3l-3 3l-3-3v-5l-3-2l-3 3h-3zM518 151l1 4l-2 3l1 2l10 3l9-3l-2-3l-4 2l-4-3h-5l-1-1l5-4zM678 146l1 2l8 2l2 3l-1-6l2-1zM697 147v3l6 4l4 5l5-1l2 3l5-1l-1-2l-4-1l3-5l6 2l5 7l-2 4l2 4l3 2l13 1l2 2l4-1l6 3h4l2-2l3 2l5-1l1 2l6-1l2 2l1-2h10l1 1l5-2l-1-2l1-25l-2-2h-10l-4-2l-2 3l-3 1l-30 1l-8-2l-6-5l-7 1l-7-1l1 5l-3 3h-2l-4 5h-3l-4-3v-2l4-2l-1-2zM496 142v2l2-1l5 2v-3zM912 138l-4 8l2 1l-1 3l-5-1l-5 5v3l5-1l3-4h4l3-7l-2-2l1-2zM616 140l-4-1l-2-3h-3l-3 2l-9 1l-8 7l5 5l7-1l9 2l4-5h3l-2-4zM593 148l1-3l4 2l-2 3zM604 140l2 2l-5 4l-1-2zM649 138l-8-1l-6-3l-4 4l-13 3v6l5 1v-3l3-1l2 2l-2 3l4 3l-1-3l2-2l17-3zM304 135v4l7-2h-2l-2-3zM791 132l-2 3l6 4l-1-4zM612 126l-4-2l-3 3l2 2l4-1zM344 119l11 3l6-1l-2-6l-4-1l-3-4zM918 104l-1 1l1 11l4 1l-3-4zM894 91l-6 1l-4 10l4 1l7-3l1-6zM974 82l-15 9l-3 3l-1 8l2 1l2-1l3 3l5-1l9-9l1-9zM621 62l-1 5l8-1l-1-3zM0 60v9l6-2l15 5l7-4zM302 61l2 1v2l-4 5h-2l1 2l19 7h6l3-5l7-6l-3-3l-15-7zM34 69l4 2h15l1 1l-1 3l-9 1l-4 3l2 3l8 2l2 4h6l3-3l6 2l3-3l3 3h2l4-5l2 4l8-3l27 3l2-3l3 3l8-1l6 6l3 6l7 5l5 7l12 6v2l-2 1l-4-4l-3-1l5 4l1 2l-1 2l8-1l5 4v3l-2 2l1 1l5-1l2 2l1 11l2 1l2-1v-3l-3-6l1-3l2-1l2 2l-1 4l1 4l2 1v9l2 1v3l4-1l2-4h3l2-2l2-7l2 1l-1 5l2-1l1-3l5-1l3 2l4-1l1 1l-1 5l-2 2h-5l1 6l1 1l2-1l2 2v3l-4 3l-2-4h-5l-3-3l1-1l-1-6l-2 3l-6 3l-1 2l1 3l4 2l3-1l3 5l9 1l4-2l5 8l1-6l2-2h5l3 3v2l-5 5l5 3l1 5l1-6l2-2l-1-2l1-1l4 1l3-2l-3-4l2-4l2-1l9 1l1-4h3l3-4l5-3l4 1l1 3l-1 3l-4 3l-1 4l-3-2h-3l-3 5l-5-2l-1 1l4 4h3l1-3h7l5-5l4 7l5-1l3-7l11-6l3-3l-1-2l1-4l5-6l-1-1l-2 2l-3-3l1-3l-1-5l-7 1l-2 2l-3-1l2-2l5-2h5l3-3l1 1l3-1l4 2l3-1l8 1l6-2l1 4l4-3l9-1l3-3l-2 2l-8-1l-4-4l2-4h-6l-7 4l-3-1l14-8h16l10-5l-4-5l-6-3l-13-14l-6 5l-6-1l-4-2l-1-5l-9-3h-13l2 4l-2 6l3 7l-5 6v5l-2 3h-3l-5-5l-1-6h-7l-8-4l-14-1l-5-6v-2l6-9l7-4l8-2l4 4l8 1l4-2l-8-5l-3 1l-3-2l2-2l5 1l7-3l-1-5l-9-1l-6 6l-14-8l-5 2h-5l-4 4l-51 1l-15-5l-27-1l-17 3l-9-2l-20-2l-1 1l-31-4l-15 3l-9 4zM217 154l3-2l3 4l-4 2zM190 142l2 2l-1 4l-4-2zM290 140l3-1l2 3l-4 2zM236 139l1-3l4 1l-2 3zM284 135l-3 3l-7-1l7-3zM186 138l2-4l6 1v2l-5 3zM240 130l3 2l-1 4l-2-1l-1-3zM221 131l2-1l1 3l-2 1zM271 125l10-1l4 5l-6 5l-6-4v-3zM269 124l1 3l-2 6l-5 4l-2-2v-10zM177 124l3-4l3 2l-2 3zM250 122l12-6l7 2l3 5l-1 1h-10zM183 117l4-1l2 3h2l3 3l4-1l2 2l-2 3v5l-2 1l-2-2v-3l-6-3l-3 3l-3-6zM234 102l2 2l2 5l-1 4l-7-6l-1-3zM199 77l-4 4l-7 2l-9-1l8-5l9-1zM157 68l10-4l6 1l3 2l-8 5l-7-1zM1023 60l-6-2h-10l-9 2l-3-3l-7 3l-3-1l-3 3l-5-2l-3 3l-1-1l1-4h-6l-3-3l-3 3l-5-3h-11l-1 1l-3-3l-16-3h-17l-4 2h-12l-12 2l-16-8l-9 2l-23-1l-1-1l2-1l-1-5l-17-2l-6-3l-10 2l-1 3l-1-2l-37 4l-17 4l-1 1l5 5l-3 3l-4-1l-5-4h-8l-4 4l2 7l-6 6l-3-1l4-3l-3-3v-8l-8-5l-6 1l-1 6l4 6l-1 1l-15-3h-9l-7 3h-13l-14 2l-3 2l-6-3l-2 5h-6l-4 2l-2 3l-6-1l-1 3l-6-1l-5-7l1-1l7 1l-1-6h-6l-4-2l2 5l-3 1l-1-4h-3l-2-2v-3l-1 2h-2l-4-3h-8l-27 7l-12 11l-16 7v7l2 3h7l6-2l7 10l7-1l4-4v-4l4-2l-3-4l1-4l10-6l3-4h7l1 2l-10 7v4h5l3-2l1 5l13-1l1 2l-15 2l-1 6l-5-1l1 3l-4 1l5 4l-2 4l-4-3v-2l-3 3l-3-2l-10 2h-13l-3-3l2-3v-4l-6 2l1 9l4-1l2 2l-1 6l5 2l12-1l5 3h5l11-14l5 2l3-4h4l2 2v5l-4 4h-2l-2-4v7l4 4l-1 4l2-11l13 5l7-1l3 3l1 5h3l-1-3l2-2l3 3h6l4-8h3l3 3l1-4h5l2 4h12l13 2l3-2h4l2 2l13-1l6 4l2 4l9 2l3 3l1 7l-3 2l3 1l4-2l5 3h2l2-11l-1-7h-2l-1-2l2-2l4 1l3-4h4l2-4l9 2l5 3l9 1l3-1l2 3l-1 1l-8-1l-4 3l5 6l-3 3v2l5-1l5 6l4-2l3 2l2-1v-3l4-5l-4-6l1-8l10-1l3-2l7 1l10-4l3 1l9 8l4-3h6l6 3l6-2l3-6l2 2l4-3l7 3v4l2 4l-6 4l-3-5h-8l-2 7l3 3v6l1 1l3-1l2 2l-1 3l6-1l3 3l5-4l4 3l7 1l2-2l3 1l4-6l4 1l2-2h6l5-2l11-10l4-2v-2l-2 2l-3-1l5-5v-2l-4-1l-3-3l1-4l-2-1l-2 1l-1-2l-1 4l4 5l3 1l-1 3l-3-2v4l2 2l-4 2l-2-2v-6h-2l-2 3l-1 9l-2 1l-5-5v-3l4-2l4-5l-7-3v6l-5 1l1 4l-2 3l1 2l-1 1l-6-2l-2-3h-5l-4-8l6-4l-1-6l1-1l1 1l5-1l5 1l-4-3v-3l-4-4v-3l3-3l10-1l7 3l9-2l2 2l6-1l3 1l1 2l5-3l24 1l3-3h3l6-4l14-1l6-2h3l3 5l10 1l2 2l18-7l10-1l-4-5l6-1zM766 125l2-1l4 4l-4 2l-2-2zM868 125v-3l2-2l4 1l-4 5zM839 121l4-1l1 2l-2 2zM718 118l2 2v3l-3 3l1 1l3-2l1 1v4l-2 4l-4-4l-3-1v-2l2-1l1-6zM702 117l4-2l1 4l4 4l-2 1l-4-2l-3-3zM546 109l2-1l2 3l-3 1zM598 107l2-1l2 4l-2 1zM825 98l-2 5l-9 6l-4 1l-2-1l6-3l9-9zM539 94l1 3l-3 2l-1-1zM606 83l-5 3l-4-1l7-5zM580 75l3-1l1 2l-3 1z"/><path fill="#c5dfec" d="M315 373l-2 1l-2 5l-3-1l-1-2l-1 5l3 4l3-3l4-1zM310 355l-3 3l3 3l-1 6l5 2l2-6l-5-3zM321 344l-1 12l2 3h2l2-2l1-9l-3-4zM907 342v3l2 1l1-3zM941 338l-5 1l-4 5l-1 4l4-2l-2-3l7-3zM587 331l-3 5l8 4l-2-4v-4zM373 307l-1 2l2 3l3-4zM919 290v2l-4 5l-1 5l3-2l3 1l5 6l1-1l1 1l-2-9l-5-2zM615 281l-3 3l2 2v3l2 1l-1-5l2-3zM379 264l-3 3h-6l-4 6l-3-3l3 3v6l-11 4l-1 5l1 5h4l2 2l-2 3l-6 2l-4-5v-3l3-4l-2-2l-5 6l-5-3h-3l-3-3l-3 1l1 5l2 1l7-2l7 4l-1 2l-3 1l1 7l-6 6l1 2l9-2l4-4v-3l8-3l3-5l2 1v5l-2 5h5l1-6l4 3v-4l2-2l2 1l5-1l2-4l-1-4l2-2l-1-6l3-3l-2-3l-5 1l-2-2l3-2l-4-3zM380 291l3 3l-2 4l-4-4zM359 286l2-2l5 3l-2 3l1-1l3 1l4-3l5 5l-1 3l-4-1l-3 3l-1-1l1-4l-5 1l-5-4zM371 271l3-1l5 5l-3 3h-3zM841 256l-6 1v4l3 2v-3l4-3zM680 148l6 2l1-4h-5zM719 146v4l8 6l2 4l-1 6l4 4l3 1l9-1l2 2l6 1l5-1l2 2l5-1l7 2h18l1 1l3-1l-1-6l2-7l-4-3l4-4l1-5l-2-2h-14l-1 1l-8-1l-7 2h-9l-17-2l-7-5l-10 1zM644 140v4h3v-4zM595 139l-1 3l3 1l1-2zM635 137l-5 4v2l3 2l4-3zM190 128l-1 2l4 2l-1-4zM877 130l1 1l4-3l3 3v-2h-2l-3-3zM906 122l-6 1l-4-2l-1 1l2 4l-2 4h-3l-2-2l-1 1l3 3l4-1l4-4l1-3l2 1zM756 121l3 7l3-6zM847 132l1 2l9-1l2 2l4-1l2 2l-1 2l1 1l5-1l-1-5h-2l-3-3v-3l2-2l-1-5l-5-1l-2 3l1 4l4 1l-1 7l-12-3zM344 119l11 3l5-1h-2l-4-4v-4l-2-3zM541 101l4 6h4l3 4l7 1l7-4l2-3l4 1v-2l-5 1l-2-2l-6-1h-17zM893 94l-3 2l1 3l3-3zM973 83l-7 3l-6 5l-2 4v5l4 4h5l9-9v-7zM622 63l1 3h5l-1-3l-4-1zM0 60v9l6-2l15 5l7-4zM955 57h-3l-1 2h-2l-1 3l1 3l4 1l2-4zM302 61l2 1v2l-5 5l14 8l11 1l1-1l-3-3l5-1l7-6l-3-3l-15-7zM34 69l4 2h15l1 1l-1 3l-9 1l-4 3l1 2l4-1l6 1l1 6l5-1v-2l3-2l4 3h3l3-3l3 1l6-1l2 4l8-3l22 2l6-4l13 2l11 17l4 2l5 7l11 5l1 4l5-2l6 8l1-1l-1-5l4-4l4 3l2-3h7l5 5h3l8 7l-6 3v4l-2 3h3l3 2h4l5-3l1-8l2 2l-1 2l1 5l-3 3l2 1l9-16l5 1l-1 5l5 4l3-1l-1-2l2-2l8-4l3 1l8-1l3 3v3l-1 1l-2-1l1 7l-2 2l-6 1l-3-3h-2l-3 4h-2l-1 4h-2l-5 4l-5-1l2-2l-2-4l1-1l4 2l1-6l-1-1l-5 1l-2-2h-3l3 6l-1 10l3 4l-2 7l7 2l2 2l1 5l1-1v-4l-2-1l1-11l3-1l3 3l-3 4l4 2l1-1l-1-9l3-4l2 1l2-1l-1-4l2-2l3 2l-1 1l1 2l1-3h3l4 8l6-3h3l3 4h3l1 5l-4 3l2 2l7 1l2-2v-5l2-2h9l2-2l-4-1l-1-4l-7-8l1-3l-1-2l-3 2l-7-1l3-2h3l1-3l-2 2l-4-2l-4-7l1-1h9l2 3l8-4l2 3h23l3 2l4-1l1 2l4-3l9 1l3-3l-2 2l-8-1l-4-4l2-4h-6l-7 4l-3-1l14-8h16l10-5l-4-5l-6-3l-13-14l-6 5l-6-1l-4-2l-1-5l-9-3h-7l-3 2l-2-1l1 4l-2 5l3 7l-5 6v5l-2 3h-3l-5-5l-1-6h-7l-8-4l-14-1l-5-6v-2l6-9l7-4l8-2l4 4l4 1l6-1l-2-4l-4-2l-3 1l-3-2l2-2l5 1l7-3l-1-5l-9-1l-6 6l-14-8l-5 2h-5l-4 4l-51 1l-15-5l-27-1l-17 3l-9-2l-20-2l-1 1l-28-4l-3 3l-10-1l-14 5zM272 149l2-4l3 1l-2 4zM283 142l2 3l-2 2l1 3l-2 1l-3-4zM269 124l1 3l-2 6l-5 4l-2-2v-10zM250 122l12-6l7 2l3 5l-1 1h-10zM234 102l2 2l2 5l-1 4l-7-6l-1-3zM197 91l1 1l-1 3l-3 1l-1-1l1-2zM194 85l1 1l-4 3l-1-1zM199 77l-4 4l-7 2l-9-1l8-5l9-1zM169 77l2-2l5 1l-5 2zM184 67l2-2l3 1l-3 3zM157 68l10-4l6 1l3 2l-8 5l-7-1zM1023 60l-6-2h-10l-9 2l-3-2l-6 3h-4l-2 2l-5-1l-5 6h-2l-3 3l-2-4l2-2l3 1v-3l-1-1l-3 1l-2-4l-6 1l5 4l-2 3l-2-1l-2 3l-6-1l-2 4l-4 2l-2-2l-1-5l1-6l-2-6l-10-1l-7-4h-16l-4 2h-12l-12 2l-16-8l-9 2l-23-1l-1-1l2-1v-2l-2-1l-4 2l-1-1l1-4l-12-1l-8-3l-5 1v4l-5 4l-2-1l1-2l-2-3l-34 4l-17 4l-1 1l5 5l-3 3l-4-1l-5-4h-8l-4 4l2 7l-6 6l-3-1l4-3l-3-3v-8l-8-5l-6 1l-1 6l4 6l-1 1l-15-3h-9l-7 3h-13l-14 2l-3 2l-6-3l-2 5h-6l-4 2l-2 3l-6-1l-1 3l-6-1l-5-7l1-1l4 1l-2-2l-5 2l-5-2l-7 3l-3-3l4-4l-1-1l-2 1l-1 4l-2-2l1-6l-26 2l-8 3l-12 11l-12 5l3 3l-5 3v3l3 3h4l1-3l2 2l3-1l7 10h4v-2l-3-3l4-5h2l1-4l3-2l2-4l10-5l3-4l9-1l1 1l-4 4l-6 3l-2 4l4-1l3-6l5-1l2 2v3l-3 4v3h11l1 2l-12 2v2l-4 4h4l3 3l6 1l5-2l5 1l2 2l-1 6l4 3l-1 4h3l4 3h7l3 4h1v-6l3-3l3 1l9-3l3 2h3l3 3l9-1l5 2h7l-1-2l3-1l3 2l4-1l2 3h12l1 1l3-1l2 2l4-2l11-1l1 3l5 1l5-4l9-1l4-5l13 7h9l8-5l7 3h8l4-3l3 1l9-1l1-4l4-2l3 1l2 3h3l11-10l2 1l-2 5l-9 6h-3v2l3 3h4l3-2l13 2l3-3l-5 2l-2-2l2-4l6 1l3-4l6 3h4l1-1l-2-5l1-2h3l6 4h3l1 1l-1 2l-7 1v1l4-1l2 2l5-4l-2-4l1-4l6-1l1 3h2l-1-3l-6-4l-2-4l1-2h6l3-2l7-1l12 2l4-3h4l3 4l4-1l6 3l3-2h17l1-1l5 1l3-3l8-4l20-1l-4-3v-2l3-1l5 3l-2-3l2-2l6 1l3 5l4-2l4 4l1 5l2 1l14-6l9-1v-2l-3-3l6-1zM823 104l2 3l-5 2l-2-2zM594 87l3-1l1 2l-3 1zM622 84l3 6v5l-2 1l-1-3l-3-2l-2 4l-5 1l3 5l-2 2h-3l-3-3l1-13l3-3h2l2 3l4-4zM606 83l-5 3l-4-1l7-5zM808 62l3 1l3 3v2l-2 2h-4l-2-2zM929 58h2l2 3l-2 3l-3-3z"/><path fill="#a7d0e4" d="M322 346l-1 9l3 2l-2-6l3-4zM385 279l-8 1l-3 6l2 2h3l-1-3l3-3h2zM230 152l-3 4l1 8h3l1-3zM237 150v2l3 3l-1-3l1-3zM720 146l1 4l7 5l3 6l4-2h3l3 2l-7 5v3l10-1l3 1l1 2h9l3 2l18 2l1-1l10 1l3-1l-2-5l2-3v-3l-5-2l-1 1l-2-3l4-1l1-4l4-4l-3 1l-8-2l-2 1l-10-1l-1 1h-22l-14-3l-5-4zM781 166l2-2l3 1l-1 3zM269 131l-5 6l-4-2v5l5 5l-2 3l-3-1l-1 1l1 2h4l5-3l-4-5v-2l5-3zM209 126l-1 5l1 2h2v-5zM352 110l-8 9l1 1l5-1l1 2h3l-2-3l1-5zM548 105l6 4l3-3l-1-2zM624 98h-4l2 4l-1 3h-2l-3 3l-6-1v2l5 3h3l3-4l1 1l5-1v-4zM605 86h-3l-2 3l2 2l4-3zM972 84l-6 2l-5 5l-2 7l4 6h4l9-9l-1-7zM602 75v2l7-1l-2-3h-3zM965 69h-4l-3 2l-4-1l2 3v3l1 1l6-1zM591 69v4l-4 6l1 4h6l5-4l-1-2l-4-1v-3zM1 60l1 3l-2 2v3l4-1l6 2l5-1l2 3l3 1l8-4zM1023 71v-10l-8-3l-17 2l-3-1l-4 1l-8 6l-3-1l6 6v2h4l4 2l1-1l5 8l9-3l1-3h3l3 2l1-1l-2-2l4-1l-2-2zM583 58l-3 2l-10-1l5 5l-2 3l-7-4l1-3l-4 1l-3-2l-6 3l-11 10l-9 4l4 5l-7 4l2 1l3-2h3l4 4l3-3l-1-2l1-1l8 1l6-9l2 1l6-1l4-2l2-4l5-3l1-3l5 1zM300 69l10 5l17-2l7-6l-19-9l-12 3l-1 1l2 1v2zM34 69l4 2h15l1 1l-1 3l-11 2l1 2l9 1l3 2l5-1l8 1l9-2l3 2v3l3 1l6-3l18 2l3-3l5-2h7l5 2l3-1l6 8l5 10l6 5l2 4l12 6l1 2l1-1l7 1l4-3l6 1l1-4l5 2l5-2l7 6h3l3 5l6-1l1 1l-1 3l4-2l4 2l-2-2l1-3l4 3l3-3l1 1l3-1l3 3l2-1l2 4l4 1l3-3l7 1l6-1l6 5l1-4h7l1 2l3 1l-1 1l1 2v-3l-2-2l1-1h8l8-4l6 1l4 4l14-1l8 1l4 2l2-2h7h-3l-4-4l2-4h-6l-7 4l-3-1l14-8h16l10-5l-4-5l-6-3l-13-14l-6 5l-6-1l-4-2l-1-5l-9-3l-12 3l1 2l-2 5l3 7l-5 6v5l-2 3h-3l-5-5l-1-6h-7l-8-4l-14-1l-5-6v-2l6-9l7-4l8-2l4 4l8 1v-1l-2 1l-2-1l4-4l-4-2l-3 1l-3-2l2-2l5 1l7-3l-1-5l-9-1l-6 6l-14-8l-5 2h-5l-4 4h-21l-14 2l-5-2l-4 1l1 2l4-1l3 3l-1 2l2 2l2-1l2 1l-2 3l-1-1l-3 3l-2-1l-3-7v3l-2 2l-3-3l-2 2l4 2l-1 3l6-1l3 1l-3 3l2 7l5-4l4 3l-1 3l2-1l7 1l6 6l1-1l3 1l-5 5v2h3l2 2l-1 3l-3 2l-8-4l-3-3l-2-5l-5-1l-3 4l-3-1l-2 4l-5-1l-2 2l-2-2v-3l-5-4h-2l-7-7l-1-4l5-1l3 6l6 5l6-12l-6 1l1 4l-5 1l-4-4l-1-5h-3l-2 2l-4-1v-4l6-4l1 1l6-1l2 2l-2 5h4l-1-5l2-2l-3-6l4-3l-16-5l-23-1l1 1l-3 1l-2-2l-17 3l-19-3l-3 3l-3-3l-4-1l-1 1l-1-1l-12 1l-2-2l-11-1l-6 4l-3-1l-4 1l-2-2h-4l-3 3l-2-1l-5 2zM250 122l12-6l7 2l3 5l-1 1h-10zM234 102l2 2l2 5l-1 4l-7-6l-1-3zM249 96l-2 2l-5 1l-2-2l6-3zM157 68l10-4l6 1l3 2l-8 5l-7-1zM147 65l3-1l2 4l-2 1zM616 76l1 2h4l1 3l2-1l3 1v4l-2 2l2 2l-1 2l5 9l4-1l1-8l-5-3l6-3l3 4l-2 4l3 3l1 4l3 1l4 4l-1 3l4 2l4-2l4 3h6l5-5l3-1l1 5l5-1l2 2l3-1l2 2h4l2-2l6 1l1-4l4 5l22-1l2-4l4 4l1-5l2-2h6l2 4l8 5h9l7-7l5 3l5-2l6-6h4l4 5l3-5l6 1l5-3h5l1 1l-1 6l2 1l5-5l-1-2l1-1l3 1l3-3h4l3 4v-3l6-5l3 7l-1 2h7l1-4h3l3-2l5 2l7-4v-4l-3-1l-3 2l-2-1l-4 1l-1-1l2-3l-1-3l-6-2l5-2l9-1l3-6l4 3v3l-2 2h-6l-2 3l1 2l3-3l13 1l1-2l-7-5l2-2l6 1l1 5l3 2l4-2l6 2l6-4h3l5 2l2 3l11 3l17-1l3-2h6l4-3l-1-3l-2 1l-2-2v-4l-5 1l-2-2v-3l3-2l4 2l-2-9l1-3l-3 2h-3l1 7l-3 4h-4l-3 2l-3-2l1-4l3-1v-2l-6-2l1-3l-1-8h-12l-4 2h-12l-12 2l-14-7l-3 2h-6l-3 2h-5l-4-3l-9 1v4l5-2l1 5l-6 6v4l-3 4l-3-4l-3 1l-5-2l-3 3h-4l-4 4l-10-1l-1-5l2-7l2-2l6 1l1 3l4 2l1-2l-4-3v-3l6-3l2 3l-2 4l6 2l3-4l4-2v-2h-3l-2-2l7-7l-8 5l-5-2l-1 2l-7 3l-2-2v-3l4-4l-2 1l-11-1l-7 5l-4-5l1-1l-1-2h-3l-3 2l-7-2l-7 2l-1-1l-9 1l-17 4l-1 1l5 5l-3 3l-4-1l-5-4h-8l-4 4l2 7l-6 6l-3-1l4-3l-3-3v-8l-8-5l-6 1l-1 6l4 6l-1 1l-15-3h-9l-7 3h-13l-14 2l-3 2l-6-3l-2 5h-6l-4 6h-7zM695 103l4 3l-3 4l-4-2zM791 92l1-3l3 2l-2 2z"/><path fill="#84bcd9" d="M721 147l1 3l5 3l4 5l3-2l7 2l4 3l1 2l-3 4h3l4 3h6l3 2l14 2h17v-2l-3-3h-6l-3-3l5-5l-9-9l-10-2l-27-1l-6-2l-3-3l-5 1zM768 164l3-2h5l2 3l-7 1zM351 111l-7 8l6-4zM245 90l-2-1l-2 1l-1 3l3 1zM970 84l-7 4l-3 10l4 6h3l8-9l-1-6zM646 82l-4 3l3 2l2-3zM3 64l1 1l4-3l-5-1zM568 67l-7 1l-2-2l2-5l-3-1l2 2l-2 3l-6-1l-9 8l-6 3l3 4l11 2l3-3h-4l-2-2l4-4l6 2l2-4h3zM986 66l3 6l13 3l1 1l-2 2l1 2l5-1l2-4l9-2l-1-1l1-1h3l2-2v-6l-8-4l-21 1l-3 1zM301 69l9 4l17-2l7-5l-19-9l-12 3l-1 1l2 1v2zM197 111l11 7l2-4l6 4l4-3l10-2l2 2l-1 4h4l3 3l5-3l3 3l16 2l-12-2l12-6l7 2l3 4l-1 2h-5l6-1l5 1l5-5l14 1l5 4l3-3l3 2l3-1l10 1l3 2l6-1l-3-3l2-4h-6l-7 4l-3-1l7-5l7-3h16l10-5l-4-5l-6-3l-13-14l-6 5l-6-1l-4-2l-1-5l-6-2l-14 3l-2 6l3 7l-5 6v5l-2 3h-3l-5-5l-1-6h-7l-8-4h-6l-7 5h-8l-5-5l2-2v-4l2-3l5-3l-4-4l4-6l3 2v3l8-5l8-2l5 4l5-5l-2-1l-3 1l-3-2l2-2l5 1l7-3v-3l-5-3h-5l-6 6l-14-8l-5 2h-5l-4 4h-13l-4 6l-7-4l-1 1l-4-1v8l-2 5l-3 1v2l6-1l2 2h4l1 3l-5 1v1l6 1l4 5l7 1l2 2l-2 4l4 2l-6 6l-2 4l-7 1l-3-4l-8-5l1-1v-4h-1l-1 4l-6 4zM234 102l2 2l2 5l-1 4l-7-6l-1-3zM232 99l3-1l2 4l-2 1zM34 69l4 2h15l1 1l-1 3l-9 1v1h3l8 4l6-1l6 1l3-2h8l5 4l2-1l7 1l8-3l5 3l3-5l22 2l4 2v3l4 8l5 6v2l10 9l7 3l9 1l3-1l4-4l1 1l4-2l5 1l-2-2v-4l-1 1l-2-1v-2l2-1l-1-1l-4 2l-2-2l1-2l-1-3l-13-9l-1-3l-4-3l2-3h2l2 4l2-9h-5l-4-3l10-4l7 2l3-2l3 1v-2l-4-1l-3-3h-2l1 1l-1 2l-5-1l-3 2l-4-2l-1 3l-2 1l-3-3l-1-5l-6 6l4-1l3 3l-1 6l2 3l-3 1l-4-6h-5l-3-2l4-4l-2-2v-3l-13 2l-12-2l-1 4l-3 2l-3-4l-3 2l-6-1l-3-3l-5-2l-2 1l-2 4l-5-3l-9-2l-4 2h-4l-2 2l-4-1l-2 3h-2l-1 4l-5-2l-6-5l-6 4l-2 3l1 2zM630 85h2l2-3h6l5-6l4 2l4-2l2 2l-3 4v4l2 4l-7 1l1 1l-1 5l3 3l2 8l4-2l5 4l6-2v-2l-5-1l5-10l10 8l1 4l2 1l7-1l3 3l1-7l-2-3l3-1l5 1l2 4l4 2v3l3 2l5-1l-1-3l-4-2l2-5l4 2l-1 3l5 2l4-1l1 3l2 1l3-5l4-1l-5-3l2-4l-1-4l4-1l2 2v5l2 2l3-2l4 2l4-1l1 1l-2 4l1 3l6 4l7 1l5-4l2-4l-1-3l2-2l6 6l5-1l3-7h5l5-3l-1-6l2-2l8 4l1 4l-2 2l-3-1l1 3l8-2l5 1l11-1l5-2l4 1l7-5l6-1l6 5l1-3l-1-5l-2 2l-4-2l2-3l-1-4l2-2l8 1l3-6l7-3l2-6l4 1l-2 3l1 1l3-2l2 1l-1 6h4l4 7l7-3l4 3l5-4l-1-6l-3-3l2-3l4 2l1 6l3 5l5 5l5 2l19 1l6-3h5l1-3l-3-5h-3l-7-4l-3 2l-4-1l-9 1l-7 3h-4l-2-2l4-4l12-2l2-4l-1-2l1-5l-3-3l-1-4h-3l-3 4h-2l-1-3l-1 1h-10l-3 4l-6-3l-5 1l-11-6l1 1l-1 2l-10-1l-4 2h-9l-5 10l2 2h4l4-2l6 7l-2 2l-5-1l3 3l-2 2l-9-1l-2-2l-5 1l-5-2l-3-3h-4l-2 2l-5-1l-4 4l-8-1l-3 1l-6-4l3-2l2-7l-4-4v-4l1-1l3 2l9 1l-1-7l-3 3l-2-4l-6 1v3l-3 2l-4-5l-1 1l-2-1l1-5l-3 3l-1-1l-4 1l-4-3l-4 2h-3l-2-2h-7l-13 4h-4l-1 1l5 5l-3 3l-6-3l-3 1l-1 3l-3 2l-6-6l-2 2l2 7l-6 6l-3-1l4-3l-3-3v-8l-6-1l-2-3h-6l-1 6l4 6l-1 1l-15-3h-9l-7 3l-20 1l-4 4l-3-2l-5 1l-2-3h-2l-2 5h-5l-1 6h2l2 4l-2 4l-3 2zM721 93l2 2v4l-3 4h-2l-1-3l2-1v-4zM636 75l3 3l-2 3l-2-3zM634 74l2-4l3 2l-3 3zM645 66l3 2v2l-4 3l-1-5zM876 59l1 2l-3 3l-1-3zM887 60l3-2l2 4l-3 1z"/><path fill="#5fa5cd" d="M723 147l1 4l12 5h4l5 4l6 1l1 2l-4 3l4 3l22 4l13-1l-2-2l-4 1l-5-4l-9-1l-2-2l8-4h3l3 3h2v-3l-13-8l-36-3l-5-4zM316 120l6 3l2-1l4 1l-2-2l2-4h-6zM662 97l-2 1l-1 4l4-1zM969 85l-5 3l-3 9l4 7h2l6-6l1-3l-1-6zM350 105l-2-3l-6-3l-13-14l-6 5l-6-1l-4-2l-1-5l-4-1l-6 3l-6-1l-5 2l-1 4l3 7l-5 6v5l-2 3h-3l-5-5l-1-6h-7l-6-3l-4 3l-3-1l-9 4l-5-1l-4 4h-3l2 4l-1 4l-6-5l-1 2l9 9l5-1l3 3h5l10-5l7 2l3 4l4 1l5-6l2 1l6-1l12 3l3-1l3 2h7l-2-1l9-6l5-2h16l5-2l3-3zM223 77v2l-3 3h-2l1 2l-1 2l3 2l1 3h9l1 1l-1 4h2l3-4v-3l3-3l-2-3v-5l-5-1l-2-2l-4 3zM906 79l2 3l6 3l2-1l1 1h15l3-3l7-1l-4-5l-6-3l-6 1l-4-1l-11 2zM540 73l2 5h4l-4-6zM878 65l-1 1l1 4l-3 1l-1 2h5l1 4l3 1l5-10l-3-1l-3 4l-3-1l2-3zM988 67l2 4l10 1l7 3l3-2h5l5-2l3-3v-4l-8-4l-14-1l-11 4zM39 65l3 6h11l1 1l-1 3l-7 1l7 2l2 2l14-1l6-2l7 4l5-1l8 1l4-2h6l3-4h4l2 2l2-1l11 4l7-1l2 2v4l3 8l14 16l5 2l13 1l2-8l4 3l4-1l-6-5l-2 1l-1 3l-3-2v-6l-3-8l-13-10l-6-6l-1-3h-5l-4-5l3-3l-1-3h-10l-1 1l-4-1l1 4l-2 2l-6-2l-4 2l-3-2l-4 1l-9-1l-1-2l-4 2h-5l-5-4l-7-1l1 2l-5 8l-2-1l1-4l-1-3l-3 1v4l-2 2l-5-1l-5 2l-10-7zM879 57v3l4 2l1-3zM301 68l5 3l9 1l8-1l10-5l-18-9l-12 3l-1 1l2 1v2zM224 71l2-1l4 1l2-2l5-1l5 4h5l3 3l14-4l4 2l5-3l-1-1l-3 1l-3-2l2-2l5 1l4-1l2-4l-6-4h-3l-6 6l-14-8l-5 2h-5l-8 8h-4zM914 53h-2l-4 4l-13-3l1 3l-2 1l1 4l5 2l1 7l3-2h5l4-3l-1-3l5-4zM875 54l-8-3l-17 2l-3 2l-2 7h2l1-3h4l7 4l1 5l3-6l10-3l2-2zM843 83l-2-4l-14-8l-4 1l-7-1l-3 4l-12-1l-2 3h-4l-3-5l2-10l-4-2l1-4l-3-2l1-4l-3-3l-3 3l-7 2l-1-1l2-3l-1-1h-5l-2-2h-5l-4-2l-6 1l-7 4l-3-1l4 5l-3 3l-3-1l-5 1l-2 5l-6 1l-5-7l2 7l-6 6l-3-1l3-2h-5l-2-2l2-3l-1-4l4-2l-4 1l-3-2h-4l-4 2l4 6l-1 1l-15-3h-9l-7 3l-16 1l-4 4l2 3v3l2 1l-1 7l-4 2l3 2l-1 7h6l3-2l3 3l5 1l2 5l4 4l1 4l2-2l4 1l1-5l4-3l1-6h3l2 2l-1 1l1 4l12-2l5 5l1-6l-4-3l2-2l5 2l2-2l5 1v-2l3-1l5 3l2 7l8-4l5 1l2 3l-2 1l-2 4v4l1 2l9 3l4-1l2-3v-5l-8-4l-2-2l2-2l8-1l4 3h3l3 4l13-7h3l-1-5l4-4l4-1l2 4h2l3 3v5l2-1l7 1l2-2l3 2h3l2-2l11-1l2-3l4-1l-1-6l2-2l3 3zM703 79h3l8 6l-2 5l-7 4l-4-1l-1-7l3-2l-1-2zM695 82l2-3l3 2l-2 2zM708 79l3-2l4 1l-2 2zM724 75l1 5l2 1l1 3l-8 4l-1-3l3-1v-3l-3-3zM717 68l1-1l5 1l2 3l-4 2z"/><path fill="#3f8ec0" d="M735 151l2 4h3l5 4l9 2l2 2l-4 3l3 2l9 3l11-2l-3-2l-11-1l-2-2l1-2h6l5-3h3v-2l-6-4l-8-2h-14l-1-1zM321 119l6 1l1-3h-6zM751 100l-4 4v3l2 2l9 2l3-6l-3-3zM968 86l-3 1v3l-3 6v3l4 5l6-5l-1-2l2-3l-1-5zM349 104l-1-2l-6-3l-13-14l-6 5l-9-2l-2-6h-3l-5 3l-8-1l-5 3l-1 2l3 7l-5 6v5l-2 3h-3l-5-5l-1-5l-3 3l-3-4h-3l-1 1h-11l-8 4l-3-1l-6 4l-1 4l2 2v4h5l2 3h7l8-4l7 2l2 3l2-1l1 1l6-5l8-1l7 3l18 1l13-7h16l4-2v-4l1-1l1 1zM909 79l5 5h17l1-1l-1-3l2-2l6 3l-3-4h-3l-2-3l-14 1zM804 84l1 8l4 2l3-2h3l3 3l3-3l11-1l4-4v-4l2-4l-5-2l-3-3l-4-1l-5 1l-4-2l-3 5l-6-1l-1 3l2 3l-2 2zM169 108l-2-5v-7l-3-7l-3-1l-5-6l-4-2l-7-7v-2h-4l-8-8l-1 1l-5-1l-3 3l-8-1l1 1l-1 3l-7-4l-2 1l-4-1l-2 2l-2-1l-5 1l-2-2h-4l1 3l-2 2l-5-6l2 3l-2 4l-4 1l-4-2l-4 3l-2-1l-1-3l-9-1l-2 2l-2-1l-3 1l-2-3h-3l1 4l7 1l-1 3h-4l7 4l5-1v-2l5-4l2 1v4l9-2l1 2l5 2l9-1l5 1l6-2l5-6h4l4 2l2 3l6 1l3 2l8-1l3 4l1 9l8 11l3 1l7 7h8zM990 65l1 5l10 2h15l4-4l3-1l-1-3l-7-3h-11l-1-1l-6 1zM709 60l-2 1l-1 4l-10-6l-5-1h-9l-7 3h-12l2 3v6l-4 4l-1 5l4-1l5 4h6l3 3l1 8l-2 3l1 3h2l3 3l5-5l-2-4l3-4v-6l3-1l1-5l6-1l2 2h3l4-7l2 3l6-1l-2-7zM681 92l5 4l-2 4h-2l-3-4zM681 66l1 3l-4 2l-1-3zM302 61l2 1l-2 5l7 4l15-1l8-4l-1-2l-15-7zM900 56l-1 3l3 4v3l2 2h4l3-5l1-4l-1-2l-3 2zM238 67l5 4h3l6 3l12-3l2 1l6-3l-1 1l-5-2l2-2l5 1l4-1l1-2l-2-3l-6-3l-6 6l-14-8l-11 4zM849 55v2l9 4l7-1l8-4l-2-3l-4-1h-8zM727 69l1 3l5 1l-1 2l-3-1l-1 1l1 2l-1 2l1 2l4 2l-2 4l5 4l1 3l14-2l5 1l1-3l3-1l4 2l1 3l3 2l4-1l6 1l4-4h2l5-7l4-2v-6l-3-6l1-5l-3-2v-3l-3-3l1-7l-3 2l-2-1l-3 2h-3l-3-4l-3-1l-3 1l-4-1l-2-3h-5l-2 2l-6 1l-1 1l2 2l-3 3v2l-4 3h-3l-3 6h-3l-2 3z"/><path fill="#2f79b5" d="M737 152v2h3l6 4h3l6 3h8l6-3l-3-5l-24-3h-3zM243 107l1 8l4 4l4-1l2 2l7-4l10 3l8-4l-5-10l-3-3h-13l-3 4l-6-1zM748 105l1 2l7 3l3-2v-3l-5-4zM967 87l-4 9v3l3 4h2l3-3l-3-3l4-5zM285 114h5l6 3l8-1l5 2l6-1l11-5h15l3-2v-5l2-4l-4-2l-13-14l-6 5l-6-1l-4-2l-1-5l-7 4h-9l-5 3l2 7l-5 6v5zM139 79l2 13l6 8l10 9l8-1l2-2l-2-3v-8l-2-4l-8-8l-6-3l-1-3l-4 5l-2-1v-2zM914 81l4 2l7-1l2 1v-3l3-2v-3l-13 1zM836 80l-3-1l-4-4l-5-1l-3 2l-3-3l-1 4l-3 3l-4 1v2l3 3l-3 2l-3-3l-1 3l3 4l7-2h9l2-3h4v-3l4-2zM824 84v2l-5 3l-4-2l1-3l5-1zM103 75v-2l-5-5l-5 3h-7l-2 2h-4l1 3l7 1l3-3l4 2zM118 72l2 4l4-1l4 3l8-1l2-8l-5-4h-5l-3 2h-4zM992 68h4l2 2l18 1l3-6h-2l-3-3h-15l-3 1zM703 65l-10-1l-3-4l-3-1l-3 1l2 4l-1 5l-8 4l-2-3l-3 2l-2-1l1-4l3-2l-1-3l-7-1v2l3 2l-1 5l2 3v3l5 2l4 4l2-2h9l2-4l6-2l-1-2l1-2l5-3zM303 61l1 1l-1 4l4 4l4 1l11-1l9-5l-15-8zM240 62l3 8l8 2l3-1l9 1l5-2l-2-2l2-2l5 1l3-1v-3l-6-4l-6 5l-13-7l-4 2h-4zM870 55l-6-3h-3l-10 4l5 3l6-1l1 1l5-4zM747 51l1 1l-2 7l-6 3l1 6l-5 5v4l-3 1l5 4l-4 3h3l2 5l9 2l2-2l-1-1l1-2l1 1l9-1l6 1l9 5l8-2l4-6l4-3l-1-1l1-6l-2-3v-4l-3-2v-3l-7-8l-6 2l-3-4h-2l-3 5h-4l-1-2l3-5h-3l-4-3z"/><path fill="#1f63a8" d="M739 152l8 5h3l9 4l7-3v-3l-4-2l-1 1l-6-2l-5 1zM248 114l4 2l2 3l2-1l-4-4l-3-1zM273 106l-2-2l-5 3l-5-2l-2 1v2l3 1v3l-5 1v1l6 1l6 3l4-5l-1-3zM264 108l2-1l2 4l-2 1zM288 107l2 6l4-1l6 3l7-2l2 3h6l11-4h11l5-4l2-8l-14-14h-3l-4 4l-9-2l-1-4h-2l-4 3h-7l-6 2l-3 3l2 4l-3 4v4zM144 84l-2 3l2 6l3-2l2 1l-3 4l3 4l3 1l5 7l5-1l1-4l-2 1l-2-5l4-2v-3l-4-4h-3l-1-4l-4 2l-1-6zM824 78l2 7h4l-1-4l-3-3zM924 77l-1-1l-4 1l-2 4l5 1l2-2zM688 74l-2-2l-4 1v5h4zM694 66l-5 2l4 6l3-5v-2zM129 66l-2 9l7 1l1-1l-1-3l2-3l-4-3zM999 64v5h3l-1-5zM790 75l-2-5l-5-3l1-4l-4-3l-3 2l-2-4l-9 1l-4 4l-4-1l-4 1l-1 2l-9-2v2l2-1l2 3l-4 4l-1 4h-4l1 2l-1 4l4 3l-4 4l6 1l1-3l3-2l5 2l4-1l4 2h5l11 4l5-1l5-8zM757 71l2-2l3 3l-3 2zM756 66l2-2l3 1l-3 3zM305 63l1 5l5 2l11-1l8-4l-12-7l-10 1zM242 62l1 6l3 2l17 1l5-2l-2-1l2-2l6-1v-2l-4-3h-2l-4 4l-11-6l-9 2z"/><path fill="#124984" d="M764 155l-4 2h-4l-1 2l5 1l4-3zM150 96l6 6l-1 1l1 3h2l1-2l-2-5l-4-3zM293 93l-2 12l6 5v2l3-1l7 1l3 3l8-2l5 1l3-2h8l2-4l4-3l-1-4l1-4l-9-10h-5l-3 3l-9-2l-2-3l-3 4l-8-1l-2 3l-3-1zM752 82l1 2h3l-1-3zM753 69l-5 1l-1 2l1 1l-1 3l3 2l6-2l-2-2zM766 61l-3 6v3l2 1l-3 7l1 7l5 2h5l3 2h6l4-6l2-10l-7-4l-3-4l-2 2h-3l-5-4v-2zM244 64l2 5l6-1l6 2l7-1l3-3l4-1l-3-4h-2l-3 3l-6-3v2l-3 1l-2-5l-7 2zM307 67l4 2h7l11-5l-7-4l-10-2l-4 3z"/><path fill="#053061" d="M293 102v3l8 4l2-1l2 3h3l3 2l1-1h10l2-2l9 1l1-6l3-1v-8l-4-2v-4l-2-2l-3 3l-3-3l-2 2l-11-2l1 3l-1 1h-6l-4-2l-2 3l-5 3v2l1-1l2 3zM782 72l-4-1l-3 3l-9 1l-2 3l1 6l3 2l5-2l4 4l5-1l2-2l1-5l-1-2l-1 1l-3-1l3-3zM257 67l2 2l6-1l4-3v-2l-3-1l-2 2l-3-2zM249 62l-3 2l1 4l3-2zM310 60v2l6 1l-1 3l-2-1l-2 1l1 2l9-1l4-3l-2-3z"/></g></g><g filter="url(#db)"><circle cx="72.3" cy="29.7" r="0.7" fill="#a01525"/><circle cx="95.8" cy="32.1" r="0.8" fill="#8a1020"/><circle cx="102.9" cy="31.2" r="0.7" fill="#8a1020"/><circle cx="444.0" cy="31.2" r="1.0" fill="#101a30"/><circle cx="103.5" cy="72.9" r="0.8" fill="#33405a"/></g>
</g>
<rect x="1196.6" y="36.3" width="512.4" height="213.4" fill="none" stroke="#a8a8a8" stroke-width="2"/>
<g><path d="M1271.6 256.7L1251.5 263.7L1271.6 270.7Z" fill="#053061"/><path d="M1634 256.7L1654.1 263.7L1634 270.7Z" fill="#67001f"/><rect x="1271.1" y="256.7" width="18.6" height="14" fill="#124984"/><rect x="1289.3" y="256.7" width="18.6" height="14" fill="#1f63a8"/><rect x="1307.4" y="256.7" width="18.6" height="14" fill="#2f79b5"/><rect x="1325.6" y="256.7" width="18.6" height="14" fill="#3f8ec0"/><rect x="1343.8" y="256.7" width="18.6" height="14" fill="#5fa5cd"/><rect x="1361.9" y="256.7" width="18.6" height="14" fill="#84bcd9"/><rect x="1380.1" y="256.7" width="18.6" height="14" fill="#a7d0e4"/><rect x="1398.3" y="256.7" width="18.6" height="14" fill="#c5dfec"/><rect x="1416.5" y="256.7" width="18.6" height="14" fill="#dbeaf2"/><rect x="1434.6" y="256.7" width="18.6" height="14" fill="#edf2f5"/><rect x="1452.8" y="256.7" width="18.6" height="14" fill="#f8f1ed"/><rect x="1471" y="256.7" width="18.6" height="14" fill="#fbe4d6"/><rect x="1489.1" y="256.7" width="18.6" height="14" fill="#fcd3bc"/><rect x="1507.3" y="256.7" width="18.6" height="14" fill="#f7b799"/><rect x="1525.5" y="256.7" width="18.6" height="14" fill="#f09c7b"/><rect x="1543.7" y="256.7" width="18.6" height="14" fill="#e27b62"/><rect x="1561.8" y="256.7" width="18.6" height="14" fill="#d35a4a"/><rect x="1580" y="256.7" width="18.6" height="14" fill="#c2383a"/><rect x="1598.2" y="256.7" width="18.6" height="14" fill="#b1182b"/><rect x="1616.3" y="256.7" width="18.6" height="14" fill="#8d0c25"/><path d="M1271.1 256.7L1634.5 256.7L1654.1 263.7L1634.5 270.7L1271.1 270.7L1251.5 263.7Z" fill="none" stroke="#000" stroke-width="1.6" stroke-linejoin="miter"/><path d="M1289 270.7v8.4" stroke="#000" stroke-width="1.9"/><path d="M1343.6 270.7v8.4" stroke="#000" stroke-width="1.9"/><path d="M1398.2 270.7v8.4" stroke="#000" stroke-width="1.9"/><path d="M1452.8 270.7v8.4" stroke="#000" stroke-width="1.9"/><path d="M1507.4 270.7v8.4" stroke="#000" stroke-width="1.9"/><path d="M1562 270.7v8.4" stroke="#000" stroke-width="1.9"/><path d="M1616.6 270.7v8.4" stroke="#000" stroke-width="1.9"/></g>
<g font-size="18.4px" text-anchor="middle"><text transform="translate(1288.6 309.5) rotate(-45)" y="6.5">−4.5</text><text transform="translate(1343.2 309.5) rotate(-45)" y="6.5">−3.0</text><text transform="translate(1397.8 309.5) rotate(-45)" y="6.5">−1.5</text><text transform="translate(1451.6 304) rotate(-45)" y="6.5">0.0</text><text transform="translate(1506.2 304) rotate(-45)" y="6.5">1.5</text><text transform="translate(1560.8 304) rotate(-45)" y="6.5">3.0</text><text transform="translate(1615.4 304) rotate(-45)" y="6.5">4.5</text></g>
<g transform="translate(75.4 348.9)" clip-path="url(#mc)">
<g filter="url(#mb)"><g fill-rule="evenodd" transform="translate(.25 .25) scale(0.5)"><path fill="#dadada" d="M464 195l2 11l8 2l39-1l11 2h22l13-2h18l8 2h16l9-2h12l-1-3l-4-3v-6l-10-18h-7l-31-9l-38 2l-15-3l-26-1l-6 3l-2 4l-5 2l-6 6zM614 178l8 11l1 5l10 13h7l5-6l4 4l15-2l15-12l-2-3l-5-3v-3l-7 5l-6-1l-1-3l-2 2l-2-5l-6-8l2-3h4l7 8l5 2l7-1l5 4h2l-4-6l-19-5l-17-11l-18 1l-1 3l6 14l-1 1zM474 24l-20-1l-21-4h-26l-16 2l-44 1l-9 1l-7 2l-1-1l1-1l-4-3h-46l-1 1l-21 1l-9 4h-6l-5 2v5h16l1 1l-1 4h-16v3l11 2h29l4-1l-1-1l-12-1l-1-1l1-1h15l8-5l19-4l1 1l-8 3l5 3l14 3l21 1l9 8l3 5l9 2l1 1l-2 2l-5 1l1 7l12 13l15 5l3-6l7-8l9-2l14-7l18-1l8-4l2-6l6-6l4-15l2-2z"/><path fill="#e9e9e9" d="M924 372l3 6h4l2-3v-3zM1007 374l-4-3l-4 5l-9 5l-4 5l3 1l8-1l1-4l6-4zM1005 355l4 5v4l-2 3l4 6l8-10l-7-2zM734 134l1 11l2 3l37 1l16-8l-1-3l-15-7h-15zM653 120l-1 2l6-1l5 2v4l-6 3l4 4l1 3l3 2l-2 4l3 5l-5 4l-5-1l-5-5v-4l-20 4l-1 3l4 10h6l17 11l19 5l3 4l14-3l1-6l-5-20l-17-6l1-1l32 1l3-4l3-13l-2-2l-23-7zM677 124l2-2l4 1l1-1l3 4v3l-7 3l-3-4zM157 49l3 3h9l8-3l2 2l1 5l4 2l8 1h24l5-1l2-2l16 2l15-3l8-4l8 5h18l10 4l16-3l-4-3l-17-6l1-1l-5-1l-28 1l-5-3h-14l-1-1h-17l-12 3l-2 2h-20l-1 1h-7l-8-4h-15zM905 42l9 1l14-2l-15-1l-8 1zM167 40v1l10 2l10-1l15 1l8-2v-1l-6-1h-35zM214 40l24 1l-1-3h-21zM705 37l-32 5l-14 10l7 2h7l8-9l16-4zM240 37h15v-3h-14zM193 34l1 1h34l3-2l-2-1h-32zM544 30l8 5l12 2l22-9h-28zM784 31l10 2l14-2l-10-5l-6 1zM686 25l-18-1l-20 3h34z"/><path fill="#eaebf2" d="M652 290l-7 9l-8 5l1 8l-2 3v6l4 6l5-1l9-25zM948 335l-2-8l-6-5l-6-10l-4-1l-3-3l-2-10h-2l-3-3v-4l-3-4l-2 4v9l-1 3l-3 2h-3l-11-7l3-8l-4 1l-4-2h-4l-6 4v3l-2 2h-3l-3-2l-5 1l-9 8l-1 4l-3 3h-5l-16 6l1 5l-1 7l6 14v4l-2 4l2 2h8l4-3h10l3-3l9-3h10l8 3l5 6l6-4l1 6h3l1 3l6 5l4 1l6-1l3 2l3-3l7-2l3-9l5-5zM839 279v1h6l19 4l7-4zM812 275l10 3l14 2l1-1l-1-2l-8-3l-8 1l-6-2zM945 269l-2-1l-8 4h6zM885 258l3 3l4 1l-4 2l2 2l7 1l7 3l3 5l-2 3h3l5 3l1-1l4 1l4-4h2l9 7h6l-6-4l-3-5l1-2l-3-1l-6-6l-16-5h-4l-6 4l-3-7zM866 252l-1 1l-9-1l-3 2l-2 7v7l2 3l2-7l4 4h2l-4-6l4-4l-2 1l-4-1l-1-2l3-3h9zM784 240l3 6l6 5l9 15l6 5h4l1-7l-24-23zM850 240l-6-4l-10 10l-12 6v3l3 6l4 3h5l3 2l5-1v-4l2-4l6-5l-4-4l1-5zM871 233l-2-4h-2l-7 6l9 3zM739 229v8l3 1l2-4zM869 221l-9 2v3l4 2l5-4l-1-2zM463 213l2 7l9 8v3l15 11l10-2l8 1l10-4h7l7 6l5-1l4 4l-2 13l2 4l7 7v4l4 10v6l-5 10v6l8 15l1 11l5 6l4 9v5l4 2l5-2l14-1l4-2l12-12l2-9l7-4l-1-12l11-8l5-6l-1-6l1-6l-3-5l-1-8l2-9l23-21l9-18v-3l-17 4l-4-2l-2-4l-12-12h-12l-9 2h-16l-8-2l-53 2l-11-2l-39 1l-7-1l-2-2v4zM603 254l6 1v6l-3 3l-4-3zM855 203l-1 3l1 9l8 4l1-1l-6-3l1-12zM827 200l-2-1l-3 2l2 2zM301 203l7 2l8-3l-3-2l-9-1zM681 191l-1-1l-5 6l-11 8l-15 2l-4-4l-5 6h-7l1 1l-1 4l3 6l14-3l18-9l8-6zM271 193l9-2l8 3l3 4h8l-15-8h-7zM857 184l-3 5l2 3l2-5zM882 161v4l3 1l1-5zM539 139h-3v5l3-1zM914 138l-3 1v4l-5 6l-4 1l-4 5h-9l-4 3h3l3 3l3-2l-2-1l6-2l1 1l12-3l1-6l3-4zM911 135l2-1l8 1l4-4l-9-5l-3 1zM344 119l11 3l6-1l-1-4l-6-3l-2-4zM916 102v22l4-3l2-5l-3-3l-1-5l1-1zM495 100l-6-1l-5 2v6l10-1zM498 89l-3 3l1 5l8 3l-1 1l1 1l-4 2v3l-2 1l4 1l-4 3l16-2l2-4l-3-1l-10-10l2-3h-2l-1-3zM444 69l5 4l4 1h9l10-3l-1-3l-7-1h-15zM0 60v9l6-2l3 2l12 3l7-4zM335 66l-20-9l-14 4l3 1l-2 5l-11 4l13 1l9 5l10 2l5-7zM41 60l-7 9l4 2h15l1 1l-1 3l-9 1l-4 3l1 2l3 2l6 1l3 4l10 1l-6 5l-11 5l7-1l17-7l9-9l2 4l8-3h6l8 2l1-1l1 1h10l7 3l8 1l11 11l4 2l6 8l11 5v2l-2 1l-4-4l-8-2l10 5l1 24l9 15l6 2l7 7l8 14l10 11l-8-13l-6-7l1-5l26 27v6l17 10l7 2l8-1l7 6l12 3l7 9l6 5l7 2l1-3l3-1l5 3l-1 9l1 1l-10 14l2 6l-3 3v4l4 4l6 14l9 12l7 3l5 5l1 4l-1 14l-4 16v8l-5 10l-1 5l1 16l-6 8v8l4 7l11 8l13-1l-8-5l-2-4l9-12l-4-4l6-3l4-6l-4-5l8-1l2-6l11-1l2-4l-3-7l1-1l5 2l7-1l9-10l5-8l1-7l7-5l7-2l7-4l4-8l2-15l11-15l-1-8l-5-1l-11-6l-11-1l-13-6l-2-2v-4l-5-9l-6-3l-10-1l-13-13l-1 1h-16l-5-3l-4 2l-2-4l-5 3l-5 1l-5 6l-6-2l-5 2l-3-1l-5-6l1-11l-15-4l5-14l-9 1v3l-3 3l-9 2l-7-5l-3-7v-6l2-9l3-3l6-3l13 1l1-3l17 2l2 2v4l3 6h3l-3-17l2-3l11-6l3-3l-1-4l6-7v-3l10-3v-4l5-4l7-2l2 4l6-3l6-1l3-3l-2 2l-8-1l-4-4l2-4h-6l-7 4l-3-1l14-8h16l10-5l-3-4l-7-4l-13-14l-6 5l-6-1l-4-2l-1-5l-14-4l-8 1l1 1l-1 10l3 6l-5 6v5l-2 3h-3l-5-5l-1-6h-7l-8-4l-13-1l-6-6l3-8l3-3l7-4l8-2l4 4l9 1l3-2l-6-4h-5l-3-2l2-2l5 1l7-3v-3l-5-3h-5l-6 6l-14-7l-10 1l-2 3l-8 2h-35l-1-1l-9 1l-15-5l-27-1l-17 3l-61-7l-15 3zM284 135l-3 3l-6-1l7-3zM285 133l5-3l5 1l-1 2l-7 1zM271 125l10-1l4 5l-6 5l-6-4l1-2zM269 124l1 1l-1 5l-6 7l-2-2v-10zM250 122l13-6l7 2l2 5l-1 1h-10zM234 102l2 2l2 6l-1 3l-6-5l-2-4zM198 77l-3 4l-7 2l-9-1l8-5l10-1zM157 68l10-4l9 3l-5 4h-10zM1023 59l-6-1l-20 1l-1-1l1-1l-29 1l-3-3l-4-1l-15 1l-4-2l-21-3h-13l-4 2h-11l-12 2l-16-8l-9 2l-34-1l-1-1l1-1h12l-1-5l-17-2l-6-3l-14 4l-35 3l-17 4l-1 1l5 5l-3 3l-4-1l-5-4h-8l-4 4l2 6l-2 4l-4 3l-3-1l4-3l-3-3v-8l-6-4l-8 1l-1 5l4 6l-1 1l-22-4l-8 4h-13l-18 4l-6-3l-2 5h-6l-4 2l-2 3l-6-1l-1 3l-6-1l-5-7l2-1l17 2l2-1l-1-3l-13-4l-15-1l-1-1l1-1l-2-1l-15-1l-27 7l-12 11l-16 7l-1 5l3 5h7l6-2l7 10l7-1l8-10l-4-4l1-3l6-5l5-2l3-4h7l1 2l-10 7v5l2 2l20-1l1 2l-16 2l1 5l-9 1v5l-4 3l-5-1l-8 2h-13l-3-3l2-3v-4l-5 1l-1 10l-9 1l-4 5l-7 5l-8 1l1 1l-2 2l-2-1l-5 1v1l5 1l5 6l-1 4l-5 3l-6-1l-11 1l1 3l-2 8l2 6l4-1l5 4l-3 6l-9 9l6-3l26 1l15 3h14l14-2l-4-3l-7-1l-5-3l-2-3l1-7l-24 1l-12 5l-9-2l-1-1l2-2l9-1l5-5l-1-3l4-4l4-1l3-6l8 1l5-3h3l6 6l10 5l3 3l-1 4l-8 1l7 2v-2l4-2l1-2l-2-2l2-2l4 1l-13-7l-5-7l5-2l8 7l6 2l2 2l1 5l5 6v2l4 2l2-2l-2-6l3-1l-2-2l13-2l-1-4l9-11l2-1l5 1l1 2l-2 2l5 1l3-1l-2-2l1-2l10-2l1 1l-5 4v2l10 4l2 2l-1 4l-12 1l-6-3h-4l-5 3h-8l1 1l-1 1l-7 1l1 1l-1 4l4 4l9-1l4 2l4-1l7 1l-3 11l-3 4l-9-1l-6 2l-10-2l-7-3h-5l-4 4l11 2l21 7l8-1l1 1v-2l2-1l2 4l13 1l-6-16l2-2l11-1l-4-10l2-4l18-4l3 1l-6-9l-1-3l1-4l5-3l2-4l33-2l23 7l3 3v3l-3 10l-4 5l-32-1l15 4l3 4l3 13l1 10l-4 3l-11 2l1 3h20l10 7l-2 2l3 3l6-1l2 13l3 4l1 5l8 16l7-7l1-6l-1-7l6-4l9-9l3-1l3-4l8-1l4-2l8 10l1 7l-1 1l3 1l2-3h3l2 2v5l2 4v15l4 3l4 11l5 4h2l-3-10l-6-6l-4-8l2-7l2-3l1 2l4 1l2 4l5 3l1 3l6-6l5-2l-1-9l-8-10v-3l7-7l1 1l1-1l3 3l1-2l13-3l6-3l8-8l4-7l1-8l-7-9l8-6l-4-2l-5 1l-3-4l10-6l2 5l7-3l2 2v4l4 1l-1 4l1 5l7-2l1-2l-1-4l-5-7l11-9h6l6-3l14-11v-7l3-5l-1-2l-9-2l-6-3l3-1l9-8l9-5h20l1 1l13-1l6-7h11l7-2l1 2l-2 2l-10 5l-10 8l-1 8l3 7l5-5h4l9-9v-4l7-6l14-1l14-6l11-1l-5-5l6-1zM733 134l2-2l39-2l15 7l2 4l-17 9l-37-1l-3-4zM825 98l-4 7l-7 4l-4 1l-2-1l6-3l9-9zM606 83l-5 3l-4-1l7-5z"/><path fill="#faeedf" d="M908 350l1 3l3 1l1 3h2l-2-4zM931 328l-1 2l3 2l1-3zM638 324l2 3l5-1l-1-2zM319 321l-4 1v7l-3 8l-1 12l2 3l-1 5l2 6l4 3h3l2-21l-2-3l1-5l-2-4l1-3zM372 322l-8-2l-10 9l-1 7l6 8l8-2l-1-4l7-7zM928 314v2h4l1-3zM859 309l2 4h3l1-2l6 3l-2 3l1 2l2 1l3-1v-2l-3-3l1-2l-1-5l-5 1l-2 3zM289 273l-1 2l4 2l1-3zM391 270l-1 3l3 4l-3 5h-2l-2-3l2 3v3l-2 3l3 2l2 6l-1 6l10 1l1-9l3-6l-1-2l2-2l-3-7l4-2l-3-4zM657 223l-17 3l-4-2l-3-5l-3 3l-1 5l-5-2l-2 3h-4l-5 5h-2l-4 6l1 6l-2 4l1 5l2 1v7l1 1l4-1l4-7l-1-6l13-9l3-6v-3l2-2l4 1l2 4l7-2zM715 183l-2 1v3l-4 2l2 1l-1 1l3 1l4-5zM854 170h-6l-1 4l4 3zM166 142l-4 2l2 4l2-3zM580 134l-1 4l5 1l-2-4zM880 133l-3 4v3l5-4zM193 131l1 4l-3 3l-5 1v3l2 2h3l3 3l1 3l-2 3l-3 1l-3-3h-3l-2 4l-7-1l4 1v8l4 6l1-1l-1-2l1-3l11 1l2 2v3l-4 2l4 5l6-1l9 4l7-1l2 4h5l1-3l-3-4l4-3l2-7l-2-1l-4 1l-1-2l2-2l5 1l2-4l6-1l-5-7l-4-2l1-3l-8-8h-2v2l3 2l-1 2l-7-2l-4 2l-1-3h-2l-3 3h-3l-1-8l-3-1l-2-4zM219 169l2-3l3 1l-2 3zM192 155l2-2l3 2l-2 2zM195 150l3-1l2 4l-2 2zM519 127l1 2l4 2l-2-5zM803 118l-1 4l3-1l2 2l-1 5h2l-1-6l2-3l-3 1zM648 118l-1-1l-1 4h-3l-2-2l-2 4h-4l-3 3l-4-3l-2 2l1 5l-2 1l5 3v3l-4 2l-10-1l3 5l-1 2l-6-2l-1 2l-3 1l-2-2v-3l2-1l-1-4l-5 3h-8l1 1l-1 1l6 3l4 5l4-2l3 2l2-1l2 4l-1 2h3l3 2l2-4h3l3 5h2l1-4l-2-6l2-2l17-3l-10-10l2-8l7-1zM735 117l-3 1l-3-3l-9 9l-2-1v-3h-3l-4 5l1 5l-4 12l-3 3l-32-1l15 4l3 4l2 12l4-4l2 2l2 8l2 2h3l1 1l-1 3h2l4-5l1-5l-1-5l-2-2l2-6l-1-11l4-3l1 2h2l1-3h4l1 1l-1 5l3 1l4-4v-3l1-1l2 1v-4l2-2l5-1v-4l-4-1l2-5l-2-1zM701 158l3-2l2 4l-3 1zM727 130l6 4l-3 1l-2 4h-4l-1-2zM613 127l-2-2l2-2l-3-3l-2-5h-3l-7 6h-4l-5-4l-1 1l3 6l4 3l6-5l6 2l-2 2l1 2zM763 113l1 10l-3 2l-2 4l1 1h13l3-2l3 2v-3l3-1l1 4l-3 3l9 4l2 4l-16 8l-2 3h-3l-3 5l-4-1l-3 4l-4-3l1-2h4l-3-3v-2h-2l-1 4h-4l-4-4l4-1l-10 1v3l-3 2v2l5 2l11-1l4 4h4l4 3h4l7 3h3l-1-7l3-3l4-1l2 2l-2 4l2 4l-1-5l3-4l-2-7l5-4l-1-10l-5-1l-1-2l-4-2l4-4l-4-5l3-3v-2h-3l-3 3l-7 3l-5-8zM863 112v7l5-1l-3-2l1-3zM153 107l1 4l8 4l-1 3l-4-3l-3 1l4 1l2 11l5 2l-2 4l-3 2l-1 5l1-3l3 1l3-2l1-6l5 2l8-4l-1-1h-5l-2 2l-2-1v-2l3-3l4-1l1-6l-4 1l-1-1l1-3l-6 6l-4-8l-2-1l-1-4h-3l-2 4zM160 121l4-1l3 4l-3 2zM862 104h-2l1 3l-3 2l1 3l2-1l-1-3l1-1h4zM780 106v2l6 3l2 4h6l1-5l-3-3l-3 2l-4-6zM904 103l-3-1l-3 6h3v-2zM766 99l2 3l8-1l-3-2l1-4l-4-1l-1 3zM99 78l-1 3l1 1h4l3 3h3l-4-2v-4l-4-2zM767 69l-3 5v3l7 8l-1 5l4 1l3-3l-1-3l1-6l4-1l4 2l2-2l-4-2v-4l-2-2l-6 1l-2-2l-2 1zM775 71l2 3l-4 5h-2l-2-3l4-5zM819 65l1 3l-3 5l2 5l-3 10l4 8l-3 3l3 1l4-3l1 1l-5 9l-2 1l-2-1l-2 2l-5 1l-1-1l2-2l4-1l-3-2v-5l-2 2l-2-1l-1 3l-4 3l-2 4v3l2 2l1-5l2-2l3 5l3 2v3l4 6l2 1l6-1l8-7l1-4l-3 1l-5-5l-1-6l2-2l1 2h3l1-3l2-1l5 5l5 1l1 7l4 1l1-1l-4-2l3-3l-2-7l5-7l7 4h5l1 3h4l13 10l1 2l-2 3l3-2h4l1 1l-6 5l-4-3h-2v2l5 5l-1 4l7 6h2l3-3l1-6l-3-3l1-1l-1-10l-4-4l2-3l6-1l2 2l-2-4l3-2l-4-3l1-5l-6-7v-3l-6 1l-2-3l-9 2l-5-3v-5l-4-3l-5 1l-1 4l-6 5l-7-1l-4-3l-4 2l-3-4l-6 2l-2-2l-2-8zM887 126l2 3l-1 3l-3-2zM871 94l3-1l1 2l-3 1zM833 96l4-3l4 5l-2 2h-3zM837 88l4-1l3 3l-6 1zM790 67h3l3 3l3-1l-1-3l-5-3zM0 60v3l3-1l4 6h3l-1-6l-4 1l-1-2zM991 58l1 7l-3 3l1 9l2-1l4 1l-2 4l4-4h4v-4l2-3l-1-2l3-3l2 2l-2 6l5 5l4-2l3-3l-1-1l3-1l-4-2l2-10l-2-1h-9l2 4l-2 2l-5-5h-5l-1-1l1-1zM333 65l-18-8l-14 4l3 1l-2 5l-8 3l8 1l3-1l9 1l3-2l7 1zM240 61l6 5v2l10 2h10l2-1l-2-1l2-2l5 1l7-3v-3l-5-3h-5l-6 6l-14-7h-4zM937 52l-24-2l2 2l-1 3l-3-2h-6l-2 2h-14l-3-2l-5 1l-4 3h-4l-4 4l3 3l1 5l2 2v-2l2-1l1 2h3l11 6l12-1l3 3v2l-3 3h-2l3 3l4 1l5-6v-2l-2-1l2-3l7-3h6l6-5l-1-5l4-5h-2l-2-4zM783 41h-6l-6 3v3l4 2l-5 2l1 2l5 1l3-3v-5z"/><path fill="#fedbac" d="M316 332l-3 7l1 4l-1 6l2 3l-1 4l1 5l3 2l1-4l-1-8l4-5l-2-3l1-5zM367 322h-3l-6 5l2 5l-4 1v3l6 5l7-7l2-4v-6zM631 230l-3-1l-10 1l-6 6l-5 13l1 2l-1 3l2 1l1 6l2 1l4-6l-1-9l2-2l6-1l6-5zM648 225l-3 3v2l3-1l1-2zM210 174v2l4 2l4-2l-1-4l-2 1l-2-1zM777 151l-3 3v2l4 2l2-4zM214 148h-2l1 4l-4 7l1 1l2-3l5-2l-4-3zM202 148l-1 2l2 3l-1 3l1 1l1-3zM224 147l-3 2l-1 6l2 3l6 1l1-8l-2-4zM696 145l-1 5l4 3l1-4l-2-2l3-2zM620 139l3 1l3 4l4 2l4-2l-7-2l1-2l2 1l2-1l1-3l-1-2h-2l-1 3zM733 123l-3 1v4l2 2zM814 116l3 3l3-1l3-3l-1-3l-3 3l-2-4h-2zM875 84l-1 4l1 1l4-1l1 1l-1 4l3 1l1-4l-4-3l-1-3zM848 85l-1 3h3l3 4l2 1l6-1l3 3l1-1l-2-4l8-3l-1-3l-5-3h-2l2 3l-4 3l-7-8zM331 64l-16-7l-14 4h2l1 2l-4 6l23-1zM244 62l5 5l9 2l8-1l5-3l6 1l3-2v-3l-5-3h-5l-6 6l-14-7h-2zM930 61l-10-6l-6 3l-4-2l-5 1l-5-1l-9 1l-1-1l-8 2l-4 8l6 5h4l3 2l16-1l3 2l2-2h6l3-2h4l5-4l-1-1z"/><path fill="#fdbc6b" d="M629 232l-2-1l-8 1v2l-5 5l1 2l-5 3l-1 14l2 2l4-5v-3l-3-4l1-3l3-3l1 1l6-1l5-4zM883 65l1 3l6 3h4l2-2l3 3l7-3l12 1l5-2l-2-9l-4 1l-15-2l-13 1v2zM902 64l2 2l-1 3l-4-2zM249 59v5l3 3l16-2l6-3l-3-4l-7 6l-11-6zM328 63l-12-6l-15 4l3 1l-2 5l1-1l6 2l6-2h8z"/><path fill="#e9932d" d="M252 62l-1 2l3 2l1-3zM905 62l2 3l4 2l8-1l-5-5zM320 59l-5-2l-3 2l-1 3l-2-3l-8 2h3l4 5h2l2-5l3 2l4-1z"/><path fill="#d2d3e7" d="M314 404l3 3v5l8-1zM301 384l-4 6l4-1zM839 352l2 2h8l4-3h4l-3-3h-3l-7-4l-1-2l-2 2v4zM937 335l-1 3l2 3h2l-1-5zM906 327v12l2 2l1-4l-2-2v-3l4-2v-2zM851 326l-4 2l-1 2l1 6l-3 2l2 4l9-1l5-5l-4-4v4l-2 2l-4 1l-3-1l5-6l-3-3zM863 326l1 10l-1 1l6 1l4 5l-6 3l-1 2l13-4h5l3-2l3 5l3 1l5 6l5-4v-1l-6 1l-4-3l1-8l-3-1v-3l3-2l1 1l2-1l-2-7l-4-1l-11 3l2 2l2-1l3 3l-3 2h-5l-1-3l-2-1l-7 4l-3-8l2-5zM946 327l-4-1l-3-6l-3 4l4 5l-1 3l9 3l-1 2l-4 1l1 5l-3 2l-2 4l-9-1l-1-2v-4l2-2l-1-4l-3 5l-2-1v2l3 1l-3 4l-2-3l-1 3l-2 1l-2-2l1-2l-2-1l-2 3v3h3l5 3l-1-2l2-2l4 4v2h5l3-2l1 3h3l-1-4l8-7l1-9zM863 317h-3l-6 3l3 5l4-1v-4zM905 313v4l3 1l1-2zM380 311h-2l-4 6l2 9l3-1l2-4l-2-4l6-1zM394 309l-2 4l4 2l1-3zM880 320l5 2h5l6-3l4-5l-3-3l-3 1l1 5l-3 1l-2-2l1-4l-5-5l-6 8zM652 290l-2 3v3l-5 3l2 4l-3 3l1 1l-1 2l-3 2l1 3l5-3l2-3h2l2-4l1-7zM885 290l-3 3v2l5 1l13 13l1-4l3-2l-1-2l-6-3l1-3l-1-1l3-4l-1 1l-7-2zM917 288l-1 1l1 4l-2 2l-1 7l1-1l2 1v3l-2 1l-3-2l-3 2v3h3l6 3l5 4l1 3l1-2l-1-3l2-4l2-1l-3-11h-2l-3-3v-4zM846 279v2l15 3l4-1v-3l-4-1zM812 275l10 3l14 2l1-1l-1-2l-8-3l-8 1l-6-2zM945 269l-1-1l-3 1l-1 3zM886 258l2 3l4 1l-4 2l2 2l7 1l7 3l1 2l2-2l2 5l3-1l3 2l13-1v-3l-2-2h-4l-6-6h-6l-4 4h-2l-1-3l4-3l-1-1h-4l-6 4l-3-6zM864 253l-8-1l-3 2l-2 7v7l2 3l-1-2l3-5l5 4l-3-7l4-3l-2 1l-4-1l-1-2l3-3zM784 240l3 6l6 5l9 15l6 5h4l1-7l-24-23zM850 240l-6-4l-10 10l-12 6v3l3 6l4 3h5l3 2l5-1v-4l2-4l6-5l-4-4l1-5zM871 233l-2-4h-2l-7 6l9 3zM869 221l-9 2v3l4 2l5-4l-1-2zM307 221l-5 3l-5 1l-5 6l-3-1l-1 1l4 2l-1 9l1 1l-10 14l2 6l-3 3v4l4 4l6 14l6 9l7 5l3-2l4 3l1 8l2 2l-2 7l3-3l-1-4l2-3l7 6l2 6l-2 4l1 4l-1 2l1 8l-1 1l3 6l-2 3v3l5 5h3l2-2l2 1v3l-2 2l1 2l-2 3h-3l-2 2l-10 1l-8-4l-2-3l-2 3l3 3v3l-1 1l-3-2l-3 2l1 7l2-1l4 2l-2 6l4 2l3 11l2 1l1-3l7-8l-4-4l6-3l4-6l-4-5l8-1l2-6l12-2l1-5l-2-4l-3-2l4-5l2 2l-2 3l7 2l4-1l6-7l-4 2l-9-1l-3-3l1-3l-1-8l4-8l5-3l3-5l3-2l4 1l5-4l-3-6l3-3h3l-2-5l4-4l2-5v-6l2-3l-1-12l3-2l1-3l-14-6l-2-2v-4l-5-9l-6-3l-10-1l-13-13l-1 1h-16l-5-3l-4 2zM331 346h2l2 3v3l-2 2l-3-5zM346 321l3-1l2 3l-2 1zM353 315l2-1l1 3l-2 1zM347 314l2-1l3 5l-3 1l-2-2zM343 312l1 5l-2 2l-4-2zM334 306l2 3l-2 2l-5 1l1 8l-2 1l-2-2l-2-8l3-4zM340 304l3 2l-2 4l-3-2zM286 273l3-2h3l3 3v2l-2 2h-5l-2-2zM736 220h-2l-5 7l3 5l1-8zM467 210l-1 2l1 7l-2 1l9 8l1 4l9 7l8 3l7-2l8 1l12-6l2 2l6-3l3 1l3-5l4 4l5-2l3 8l-3 2v3l-3 3v13l8 9v4l4 10v6l-4 7v3l2 1v2l-3 3l8 15v5l4 5l-2 2l7 7l3 8l-2 4l5 2l4-2l14-1l1-1l-4-1l-1-2l2-4l3 2l-1-1l2-2l2 1l-1 2l2 2l2-3l-1-4l5-3l-2-2l-4 1l-2-2l4-1v-3l-15-2l-1-1l1-4l-2-2l-5 4l1 2l4 2l-1 1l-8-2v-4l-2-4l6-6l-2-7l3-1l3 1l1 2l2-1l5 1l2 2l-2 2l-1 5h2l1-3l3 1l6-5h5l2 2l5-1l1 1l-1 7l1 3l3 2l1-1l-1-12l11-8l5-6l-1-6l1-6l-3-5l-1-8l2-9l6-5l-1-4l5-6l5 1l8-7l1-4l-4-1l-1 4h-3l-2 3h-2l-1-6l-2-1l-3 5l2 5l-2 2l-3-2v-3l-8 5v8l-7 8h-3l-3-3l-1 1l-4-3v-6l3-1l-1-5l2-5l-5-5l-6 1l-2-4l-4-3l4-3h3l2 2l5-1l2 3h2l4-4l3-1l5-6l7-5h3l1-2l-8-8h-12l-6 2l-2-1l-1 1h-16l-1-1l-2 1l-5-2h-18l-13 2h-22l-2-1l-2 3l-3-3h-3l-6 8l-4-3h-3l-6-6zM560 316l1-3l3 1l-2 3zM589 291l2-2l3 1l-1 2zM559 284l2 2l-1 3l-3-3zM584 231l2-3l3 1l-2 3zM856 203l-2 3l1 9l8 4l1-1l-6-3l1-12zM654 208l-5-2l-4-4l-5 6h-7l1 1l-1 4l2 1l3-3l2 3l7-3l2 4l5-1l-1-2zM827 200l-2-1l-3 2l2 2zM272 192l8-1l8 3l3 4h8l-15-8h-7zM680 180l1 3h3l-1-3zM204 180l-1 3l13 14h4l3 2l3 5l-2 1l-4-2l12 6l4 1l8-1l7 6l12 3l7 9l4-2l-1-1l1-11l-15-4l5-14l-9 1v3l-3 3l-9 2l-7-5l-3-7v-5l-4-2l-5 1l-9-5zM838 177v2l3 1l6-1l-1-2l-3 1zM188 174v3l2 3l1-3zM743 174l3 3l3-1l-4-3zM624 176l-2-7l-5-5l-3 1l-2-3l-3 5l-9-1l-6 2l-10-2l-7-3h-5l-4 3l2 2l9 1l21 7l1-1l8 1l1-3l2 1l1 3l10 1zM773 169l-13-5h-4l-2-2h-9l-11-3h-7l-2-2h-6l-3 6l1 1l5-4l2 2l1 5l-2 7l2 1l3-2l2 2l-5 7l-2-3l-2 1l-1 8l1 2l4 2v2l-3 3v6l-2 4l3 3l1 5l4 1l2-3l1 4l3-1l2-4v-4l-4-3l1-2l-1-1l5-5l4-2l2 2l-2 4l3 1l2 3l3-3l8-4l3-4l4-1l-5-4l-4-1l3-6l-3-2l-1-3l-3 3l3 6l-1 8l-3 1l-4-8l-5-4v-3l-5-3l4-6l5-2l11 1l5 3l1 4l2-1l1-3l2 1l1 5l3 2l1-4l-3-3l2-2h3zM729 184l4 1l1 3l-2 4h-2l-3-4zM515 152l2 2l3-1l3 4l-3 3l3 3l4-1l1 5l3 2l2-3l2 1l-1 2h3l1-6h3l3 6l4-4l3 3l8-1l-4-3l-9-2l-4-3l-1-4l-3 1l-4 7l-4-1l-1-3l6-3v-2l-3-3zM558 139l-5 1l4 3v3l-7 2l5 2v-2l4-2l1-2l-2-2l1-1zM914 138l-3 1v4l-5 6l3 2l3-1l3-6zM875 134l-5 4h-4v2l-4 3l4-2l2 2v4l4 1v-3l-2-3l4-3zM486 133h2l3 3l-3 2v2l6 1l-2 4l10 4l-1 2l6-1l4-4l-7-14l-1 1l-6-1zM817 131h-4l-3 3h-3l-3-2l1 3l-8 8l1 3h2l2 3l-9 6v4l-2 2v2l3 3l1 5l-2 2l-8 1v3l2 1v5l-6 7l-4 2h-4l1 2l8 1l-2 4l-2-1l2 4l3 1l-1 7l3-3h3l2 2v5l2 4v15l4 3l4 11l5 4h2l-1-6l-2-4l-6-6l-4-8l2-7l2-3l1 2l4 1l2 4l5 3l1 3l6-6l5-2l-1-9l-8-10v-3l7-7l1 1l1-1l3 3l1-2l8-2l-5-5h-4l-7-5l2-3l9 4l-2-2v-4l-6-1l-4-5l-4-1l-1-5l4-1l2-5l7-1l1 1l-2 3l1 2l5-5l5 1l-1-2l5-3l-1-4l2-2l6 6l-5 6h-2v3l1 1l2-5h2l3 3l4-2l-1-2l1-8l-3-1l-4-4l-7-1l-4-3h-3l-2 2l-3-2l-3 3l-2-2v-5l3-2h-2l-2-4zM797 154l2 4l-3 3l-2-4zM806 138l2 2v3l-6 2l-1-3zM796 128l1 3l5-2v-2zM911 135l2-1l8 1l4-4l-9-5l-3 1zM869 123l-4 2l-5-1v2l3 1l3 4l2-2zM834 119l-3 2l2 4l-1 1l-4-1l2 9l4 4h4l4 2l1-2l-3-4l4-3v-2h-2l-3-3v-4l-2-3zM852 119l-1-1l-5 5l-3-4l-1 2l4 5h3l2-2zM893 115l2 4v4l2-4l-2-4zM510 115h-3l1 1l-2 2l-2-1l-5 1v1l6 2l4-3zM921 115l-3-1l-2 1v9l4-3l2-4zM513 115l1 5l4 4l1-6l-3-4zM911 110l-2 1v3l2 1l-1 3l-4-2l-3 1l1 6l-4 4l11-8l1-8zM344 119l11 3l5-1l-2-3l1-2l-5-2l-2-4zM498 112l16-2l2-4v2l-3 2l-2-2l3-3l-2-2h-2l-2 3l-1-3l-3-1l-4 2v3l-2 1l4 1zM140 99l4 3l2-1l-2-4zM134 92l2 2h3l2-3zM782 86l3 3v3l-3 3l-2-3l1 10l5-6h6l4 3l1 3l2-1l-1-3l1-3l-3-2l-1 1l-4-1l4-4l-1-2l-8 1zM978 79l-3 2l-1 4l-3-1l-3 1l4 3l-3 4l-4-5l-9 7l3-3l4 4l4-2l1 4l4 2l4-4v-4l5-4l-4-3zM128 80l5 3l2-1l-3-3zM266 73l6 3h5l3-2v-1l-4 1zM934 73l-2-1l-4 6l-1-2l-6 1l-3 10l3-3l7 1l2-5l3 2v-3l-2-3zM868 72l2 3h3l-2-4zM331 69l-6 3h-9l-6 3l3 2l10 2zM464 70l-2-3h-2l-2 2h-4l-1 4l9 1l2-1zM23 66l-3 3v3l4-2zM852 62l1 4l5-2l-1-2l-3-1zM137 68l4 6l-3 3l3 6l3-3l-3-4l4-3l6 4l3-3l3 2l-2 3h-2v3l1-1l2 1l1 3l-5 3l-1 6l1 4l9-1l2 2v4l5 3v3l2 2h3l3-4l3-1l6 6l6-3l7 12h3l4-3l3 4h3l5 10l11 2l1 4l7 5v4l3 5l2-3h2l5 5l1 3l-1 1l-3-1v3l5 5l-4 3h-5l-3-3l-2 2l2 2l-1 7l8-5l13 1l1-3l15 1l5 2l-1 5l3 6h3l-3-17l6-6l-1-5l1-1l5 4l5-4l-3-5l1-1l2 1l5-6l1-4l8-2l1-4l5-4l7-2l2 4l5-2l3-4h-3l-4-4l2-4h-6l-7 4l-3-1l14-8h16l10-5l-4-5l-6-3l-13-14l-6 5l-6-1l-4-2v-4l-3-2l-12-3l-6 1l-1-1l-1 1l1 1l-1 10l3 6l-5 6l-1 7l-4 1l-5-5l-1-6h-7l-8-4l-13-1l-6-6l3-8l3-3l11-5l-15-1l-5-4l-4-5l1-1l-7 2h-35l-1-1l-9 1l-11-4l-3 1l-4-2l2 1l-1 3l-4 1l-3 3l6-2l9 3l-5 4h-10l-4-3l1-1h-2l-5 5l-2-1l-8 1l-2-4zM258 146l2-2l3 3l-3 1zM290 141l2 4l-1 4l-3 1l-3 4h-6l-1-4l7-3l2-4zM245 139l3 2l-2 4l-4-2v-2zM284 135l-3 3l-6-1l7-3zM253 138l3-4h2l5 5l4-1l2 2l-6 4l-2-3zM285 133l5-3l5 1l-1 2l-7 1zM243 135l3-5h4l3 2l-1 5l-5 3zM271 125l10-1l4 5l-6 5l-6-4l1-2zM269 124l1 1l-1 5l-6 7l-2-2v-10zM229 120l2 2v3l-6 7l-2-3l-1-7l2-2zM250 122l13-6l7 2l2 5l-1 1h-10zM234 102l2 2l2 6l-1 3l-6-5l-2-4zM198 77l-3 4l-7 2l-9-1l8-5l10-1zM193 72l2-2h4l3 2v2l-3 3l-2-2h-3zM209 63l2 2v6l3 1l-2 2h-2l-3-5zM137 58l5 4l2-2l-1-2zM146 57v2l6 7l7-7l2 1v-2zM961 54h-5l-1 3l-3-2h-6l-1 4l-6 3l4 2l7 7l-1 2l-4-2l3 4h6l3 3l-3 4h2l3-3h9l4-4l-1-3l-9-7h-2l-3 3l-3-2l-4 3l-2-2v-3l5-1l3-6zM34 69l7 1l4-2l3 3l6 1l-2 4l-1-1l-7 1l-4 3l2 3l8 2l3 4l10 1l-6 5l-6 2l-2 2h4l17-7l9-9l2 3v-2l3-3l-2-3l1-2l5 3l2-4l5 4l1-6l7-1l1-5l2-2l2 1l1 3l2-1l3 3l2-2v-9l-9-2h-11l-1-1l-1 1l-14-2l-2 3l2 6l-6 2l-2-12l-7-1l-10 2l5 3l-1 4l-3 3l-5 1l-2-4l3-3l-3-1l-1 1l1 3l-2 2l-3-3h-2l-3 3h-2zM106 63l2-4l3 1l-2 3l-2 1zM801 52v3l4 1l1 4l4 3l2-8l5 1l2-1l-2-4h-3l-2-2l-2 1l2 2l-1 2l-5-3zM828 47l-8 3l6 2v3l-4 2l1 2h2l3-4l4-2v-2zM763 42l-7 1v2l4 3v5l-3 3l-3-1l1-4l-1-4h-3l-1-2l-7 2l5 5l-3 3l-4-1l-5-4h-8l-1 1l3 4l-1 4l-3 3l-1-1l-1 3l-4 3l-3-1l4-3l-3-3v-7l-6-5l-8 1l-1 5h1l1-5l7 3l-2 3l-5 3l2 2l-1 1l-22-4l-8 4h-13l-18 4l-6-3l-2 5l-8 1l-4 4l-6-1l-1 3l-7-2l-2 1l-5-3l-2-7l4-1l4 4l9 1l3-1l4 1l2-1v-2l-7-3l-2 2l-1-3l-16-2l-1 5l-3 3l2 3l-4 3l1 4l-2 2l-4-1l1-3l-1-4l2-1l-1-1l-3 1l-2-4l-4-2l2-6l4 1l-2-2l-5-2l-2 4l-2-1l-15 1l-8 3l-8 7l-1 3l-19 8l-1 5l3 5h7l6-2l7 10l7-1l8-10l-4-4l1-3l9-6l-1-2l3-3l2 1l4-7h3l2 2l1 8l-4 1l-4 5l-3-1l2 7l20-1l1 2l-16 2l1 5l-9 1v5l-4 3l-5-1l-8 2h-13l-3-3l2-3v-4l-6 3l1 2l-1 6l-9 1l-6 7l4-1l3 6h4l6 7v3l-1 1l-1-1l-1 2l7 3l3 4l11 1h-2l-2-3l-1 1l-2-2l-4 1l-2-2l2-3l7-3l8 7l6 2l5 9l6-2l-1-3h-3l-3 3l-1-1l1-4l6-1v-1h-4l-1-2l7-5h8v-8l-2-3l7-4h2l3 3v-2l5-5l3 1l3-1l2 3l8 4l3-3h2l4 3l2-2l2 3l4-2l3 2h3l4-7l6-2v-3l2-1l2 2l-2 4l1 2l7-2l5 5l1 3h3l1-4l-3-4l10-9l6 2l3-4l5 1l2 3l3-1l2 1l-1 4l-5 4l-1 3l-3 1l6 4l7-4l3 1l4-2l2 4l-3 3h2l1-2l4-2l3 1l1-5l5 1l1-9l7-5l5 5l-1 5l-4 2l4 2l5-4l3 9l4 1l3-3l3 2v-2l4-2l8-9v-2l-3-2l1-7l-2-3v-4l-4-4v-11l1-1l-1-3l2-2l4 2l-2-6l4-5l-2-2l1-5l-2-2l2-2zM577 125l1-3l3 2l-2 2zM545 116l1 6l-3 4l-2-6zM745 93l4-2l2 3l-4 2zM606 83l-5 3l-4-1l7-5zM737 78l3 1l3 6l3 1l-2 5l-4-1l-4-4zM729 81v-3l2-2l5 1l-5 5zM694 76l2 2l-1 3l-2-2zM632 77l2-2l4 1l-2 4h-2zM664 73l3 1l-1 6l-4-2zM669 72l2-1l3 5l-3 1l-2-2zM694 69l1 4l-4 1l-2-2zM662 69l2 3l-2 2h-2l-1-2l1 5l-2 2h-3l-1-1l1-7l2-2l2 1zM695 68l2-3l2 1l-2 3zM814 37l3 5l4 2l3-2l-1-3z"/><path fill="#b4aed3" d="M328 378l-6 5h-2v3l6-3zM338 359v2l6-1l-4-2zM841 346l-2 6l9 1l1-4zM580 338l-4 1l-3 6v3l-4 2l1 2h4l-1-2l1-2l6-1l-1-5l3-2zM338 338h-5l-5 3l-3-1v2l4 2zM337 320l-8 3l-1 3l3 1zM575 300l-2-1l-4 3l4 1zM559 297l-1 11l3 2l1-1v-3l-2-2l1-5zM882 293l12 3l2-5l-4-2h-4zM812 275l10 3l14 1v-2l-9-3l-1 1l-1-1l-1 1l-5-1zM620 270h-3v2l-3 3v5l-2 2l-3-2l-1-4h-5l-3-3l-2 1v4l-3 2l3 2l-2 6l1 1l5-1l3 3v2l-5 5v3l4 3h4l1 3h3l2 3l6-5v-3l-3-1l1-2l6 3l3-4l-1-9l-5-9l-3 1l-2-2v-5l4-2zM888 261l4 1l-4 2l2 2l4 1l3-3l-1 1l-2-3zM856 252l-3 2l-2 10l2 1l3-1l2 3h2l-3-6l4-3l-2 1l-4-1l-1-2l3-3h4zM784 240l3 6l6 5l9 15l6 5h4l1-7l-24-23zM844 236l-10 10l-12 6l1 4l8 8h3l3 2l5-1v-4l2-4l6-5l-4-4l1-5l2-1zM868 229l-8 6l6 2v-4zM536 226l1 4l2 1l1-5zM290 232l2 1l-1 9l1 1l-8 11l-1 4l1 5l-3 6l3 4l6-3l5 2l1 3l-3 4l-4 1l-2-1l4 9l4 5h4l3 3h5l2 3l4-4h3l4 4l-1 1l5 4h6l2-2l7-1l10 6l5-5v-2l5-6l4 1l3 3l4-6l5 1l3-5l-1-5l2-3l1-10l-1-4l3-4l-13-7v-4l-5-9l-6-3l-10-1l-13-13l-1 1h-16l-5-3l-4 2l-1-2l-7 6l-3-2l-5 5zM869 221l-9 2v3l4 2l4-3zM592 225l14-3l-4-4v-2l2-2h6l3 2l-1-3l-10-1l-2-2h-7v2h2l3 4l-6 7zM471 225l3 3v3l10 8l20 2l1-4l4-4l3-1l3 1l4-3l4 2l6-2l-1-6l-3-6l5-1l5-3l1-3l-2-1l-4 4h-3l-2 3l-10 4l-3 4l1 2l-3 3l-7-1l-3-3l-5-1l1-7l-4-4l-1-5l-5 1l-7 7l-2-1zM522 221l2 4l-3 2l-2-2zM617 209l3 8l5-4l3 2l-3-3h-3l-2-4zM548 210v4l-2 2l4 4l-1 5l-2 2l-2-1l-1 1l3 3l2 5l4 3v2l-10 13l-2 11l6 6l1 7l5-1l3 4h3l2-2l4 3l3-1l1 2l-3 1l-1 2l2 1v3l3 3l5-3v-2l-5-5l3-1l3-4l6 1l3-5l6-3l7 1l7-5v-3l-3-2v-6l2-1l-1-4l1-3l-3-5l-10 1l-2-3l-4-1l-2-4l-5-1l-2-4h-3v3l4 2l-4 4h-2l-5-4v-2l6-8l-1-1l1-3l1 2h3l6-3v-2l-5-3v-4l-2-1l-5 1l-5-3v4l-4 4l-5-2l-2 3l-1-4l3-2v-2zM858 203l-1 2l1 5l-2 5l7 4l1-1l-6-3l1-5l-1-1l1-6zM827 200l-2-1l-3 2l2 2zM727 198h-1l-2 9l4-4zM279 191l4 2l5-1l-4-2zM805 182v3l-4 3l-4-2h-9l-1 1l1 7l-3 3v2l3 2l-2 3v3l4 2v4l4 3l-1 5l2 4l-3 1v7l4 3l4 11l5 4h2l-3-10l-6-6l-4-8l2-7l2-3l1 2l4 1l2 4l5 3l1 3l6-6l5-2l-1-9l-8-10v-3l7-7l1 1l1-1l2 3l1-2h3l1-2l-1-1l-10 1l-5-5l-5 3l-2-2v-6zM205 182v3l5 5l11 5l8 8l1 4l2-2h4l4 4h4l7 6l12 3l6 7l5-3v-6l-2-4l-13-3l4-12l-8-1v3l-3 3l-9 2l-7-5l-3-10l-1 1l-8-1l-9-6h-4l-3-2zM277 177l2 4l4 2v-5zM760 166l3 4l3-1zM582 165l-2 5l5 1v-3l2-2zM259 164l-2-1l-1 3l-3 2v4l1-1l3 1l1-3h3zM805 162l-1 1l1 2l-5 3l5 2l2 4l1-8l-1-3zM730 161l1 2h3l2 2l2-1l7 4h8l1-3l-4-2l-8-1l-6 1l-2-2zM235 129l-5 4v2l2-1l4 4l1-2zM356 114h-2l-2-4l-8 9l9 2l-1-2zM719 106l-5-1l-4 4l4 1zM532 103l-6 1l-1 2l4 3zM750 101l-2 1l-2 10l2 1l6-3l-3-4l1-3zM733 95l-1 2l6 2v-2zM674 95l1 2h5v-2l-2-1zM663 86h-3l-4 6h-3l3 8l3 2h2l1-5l2-2l-5-3l4-3l1-2zM706 86l-7-3h-5l-4 2l4 6l-1 5l1 1l2-2l-2-4l3-3l4 1l-2 5h3l4-5zM681 83l-3 4l7 3l1-5l-2-2zM40 79l2 3h7l3-2l-2-4h-6zM651 97l-2-3h-2v5l-1 1l-2-1l-2-3l1-2l-2-2v-4l-4-1l-3-4l-3-1l-2-6l-7 3l1 2l4-2l5 7l-4 4l-6-1l-4-3v-3l-4-3l4-4h-7l-3 5l-3-2l-2-4l-1 2l4 6l-2 2l-3 1l-1-1l1 1l-2 4l2-2h3l1 2l-6 6l-6-2v-4l5-6l-4-1l2 2l-4 1l-2 9l-2 2h-6l-2-2l2-3l-1-1l-1 2l-5-1l1 4l-7 4l1 4l-2 3h-2l-5-6l-14 1l4 3v2l-4 2v3l3-3l2 2l-1 1l1 2l3-6l3 6l-2 2v3h3l2-3l2 2l-1 5l2 3l2-4v-3l-3-1l1-1l6-1l1 4l8-3l-1-4l2-2v-4l-2-1v-2l5-4l3 3l-1 3h3l3-2l3 5v-3l7-4l9 2l1-3l-4-3l9-5l5 8l-4 3h-3l-1 2l2 4l6-2v-3l4-1l-1-4l3-1l6 6l-1 7l4-2h4l2-4h4v-4l2-2h3zM560 112l2-1l2 3l-3 1zM557 101l3 1l-2 4l-3-2zM573 102l2-4l3 1l-2 4zM590 103l3-6l5 2l-7 5zM159 82l1 2h3l5 5l1 3l4-1l13 9h4l5 8v4h6l-1-2l6-4l9 1l-1-3l2-2l2 1l7-1l2 2l7-2l6 12l-1 2l1 1l2-1l3 6l9 2l-2 2l-5 1l1 1h4l4-2l3 1l3-3h7l1 1l-1 4l5-1l-3-3l1-1h9l2 2l1-2l3-1l2 3l-3 2v3h3l2-2h4l3-2l6 9l3-1l1-5l5 1l8-4h2l2 4l2-1l2-6l-3-3l2-4h-6l-7 4l-3-1l7-5l7-3h16l10-5l-4-5l-8-5l-1 5l-16-2l-2 3h-2l-2-3l6-3l-3-2h-2l-2 4l-8 5l-1-2l6-6l-5-4v-2l3-2l2 3h2v-3l-2-2h-4l-3-2l-2-3l1-1l-2-1l-3 1l-3-2l-4 2l6 7v2l4-1l1 3l-5 1l-3 3l2 2l-1 2h-5l-4 3v5l-2 3h-3l-5-5l-1-6h-2v3l-2 1l-1-2h-3l-2-4l-5-2l-13-1l-6-6l3-7l-2 1h-4l-1-2l-5 1l-1 2l-11 4l-8-5l-2 1l-1-5h-4l-3 6l-3 2h-4l-4-5l-5 2h-8l-4-8l-3 4l-4-3h-6zM250 122l13-6l7 2l2 5l-1 1h-10zM253 100l3-1l2 3l-3 2zM199 91l3-1l5 3l-3 3h-2zM185 92l2-2l3 1l-2 3zM173 88l3-1l1 3l-2 1zM326 76l-3-3l-6 1l-4 3l5 1l1-2l4 3zM242 75h5l3 2l5-4l-8-1zM563 70l-6 1l1 3l-1 9l-10-4l-3 4l-4-3l-5 2l3 6l4-1l7 8l-1 1l1 1h4l1-6l-2-4l3-4l5 2l1-6l4-3l-2-2l1-2zM747 69l1 5l-4 6l3 1l3-2h4v-4l-5-1zM68 67l-10 1v3l-2 3l1 6l-3 7l9 2l-3 3l1 3l9-4l-1-1l5-3l1-5h-2l-4-4l4-4h-3l-4-3zM721 66l-3 1l1 5l-3 2l3 3l-1 4l3 4l-3 3l-9 2l3 4v3l7 1v-2l-3-2l2-5l4 3v4l3 2l1-4l-3-2v-2l4-2l4 2l1-4l-4-3l-5-1l1-4l-3-5v-3l2-2zM218 63l1 7l6 7l1-5l-3-2v-3l4-4zM703 70l6-3h5v-1l-2-1l-2 2l-3-5h-2v4zM231 62l-1 7l4-2l3 4l3-1l-6-5v-3zM744 59l2 4h3l-3-4zM692 61l-2-3l-6-1l-8 4h-7l-1 5l4-2l3 2v4h3l2-2l4 2l2-2l6-1l-1-3zM688 59l3 1l-2 4l-2-2zM735 53l2 5l1-4z"/><path fill="#8e82b6" d="M893 290l-5-1l-5 3l9 1zM600 283v2l5-1v-2zM814 276l8 2h7v-1h-3l-1-2zM853 254l-1 7l7 4l-2-4l4-3l-2 1l-4-1l-1-2l2-2zM786 241l1 5l6 5l9 15l6 5h3l2-2v-5l-24-23zM841 239l-7 7l-8 4l-2 4l4 2l2 4l4 3l8 1l2-7l6-5l-4-4l1-4zM545 256l2 3l7 1l-1 2l-7 2v2l2 3l4-1l1 5l4 4l3-3l6 1l2 3h3l12-6l-1-3l2-2l15-1l1-3l-3-2v-3l4-1l2-3l-4-2l2-5l-5 1l-2-2h-4l-3-3v-2l-4 1l-3-2l-5 2l-7-2l-3-3h-3l-3 2l-2 4l-3 1l-7 7zM565 263l4 2l-3 7l-3-1zM792 228v5l4 3l4 11l5 4h2l-3-10l-6-6l-2-5zM292 236l-1 6l1 1l-5 8l-3 15l2 4h8l2 2v5l-5 4l6 5v2l4 4l15 1l8 8h6l3-2l2 1l3-4l2 3h2l4-6h5l2-3h3l2-3h2l3 6l2 1l4-6h5v-1l-3 1l-2-2l-4 2l-3-4l1-2l3-1l-2-5l4-3l2 1v2h2l-1-5l2-2h3l1-2l-1-6l-3-4l-4-2v-4l-5-9l-6-3h-8l-11-9v3l-2 1l-2-2l1-1l-1-2l-2-1l-3 1l-2-2h-3l-3 2h-4l-2-2l-3 3l-4-1l-6 2h-6zM867 222l-7 1l1 3l3 2zM566 223l-3-1l-4 6l-2-1l-1-3h-2l-2 4v4l6 1l6-1l1-1l-1-4zM474 229v2l9 7l19-1l-1-5h-2l-2-3l-10-1l-2-4l3-2l-3-2l-2 1l-2 5zM813 198l-10 6l-2 3l-2-1l-8 1v3l4 2l1 10l2-5l1 2l4 1l2 4l3 1l3 4l3-3l-1-9l2-1l2 3l5-1l-2-7l-7-8l1-4zM225 195v2l6 6l6 1l4 3h4l4 5l6 4l6 1l4 3l1-3l5 1l1-1l-3-6l-10-2l4-10l-8-3v3l-3 3l-9 2l-7-5l-3-7h-4l-1 2zM813 190l-2 1l-1 4l4-2zM805 191l-1-1l-2 2l-3-1l-2 3l-4 2l-3-1l-2 3l4 5l7-1l3-3l4-1zM353 111l-1-1l-7 8h4zM252 110l2 2l-1 3h2l2 3l4-2l9 2l3 5l11-2l6 1l6-1l1 3l6-1l2 4l4-2l6 1l1 3l4-1l-2-3l2-2h4l-1-4l2-2h3h-6l-2 1l-1 3l-3-1l-3 1l-1-1l6-4l-1-3l2-2l2 4l5-3h16l10-5l-2-2l-3 1l-3-2l-9 1l-2-2h-6l-10 4l-12 1l-2-2h-5l-2-4l-3-1l-7 9h-3l-5-5l-5 5h-2l-2-4l-4-1l-2 1l-5-1l-2 2h-3zM630 94l2 2v5l5 1l2 2l2-1v-4l-3-3h-2l-1 4zM210 92v3l6 3l-1-7zM614 85h-3l-2 2l1 1l-1 3l5-1zM243 88l-4-1l-2-3l-2 3l-6-1l-4 3v4l-4 2v4l5-1l5 2l5-4l-2-4l2-1l3 5l1-6zM71 83h-2l-3 5l-3-3l-4-1l-1 1l3 3h2l1 3l3-4l4-2zM40 79l1 2l8-1v-2l-3-2z"/><path fill="#6b4f9b" d="M368 261l2 4h4l-2-4l-2-1zM853 256l-1 1l5 4l1-2zM846 251l-4 2v2l-3 2l6-1zM787 241l1 5l5 5l9 15l6 5h2l3-4v-3l-24-23zM548 255l1 2l4-1l6 4l4-3l3 3h5l3-2l5 5l4-1l1 2h3l2-2h5l1-8l-10-9l-5-2l-7 1l-10-3l-5 6l-5 2zM300 233l-7 9l2 7l-2 3h-3l-3 9l9 1v2l-3 1l-2 4h3l2 2l1 5l-3 5h4l4 4v4l14 2l7 4l6-1l5 1l4-2l5-6h2l3 3l-1-7l2-2l6 1l3-3h2l-6-6l3-6l4-2l2-3v-13l1-3l2-1l-2-3l-4-1l-2 2h-5l-2-4l-6-4l-5 2l-3 5h-4l-4-4l-4-1l-3-3v-2h-3l-6 7l-2-2l3-3l-4-2h-3l-3 2zM360 245l1 3l-4 2l-1-2zM343 236l2 1l-1 4l-3-1zM792 229v4l4 3l4 11l5 4h2l-3-10l-6-6l-2-5zM475 232l7 5l2-1l1-3l2 1l-1 2l6-1l6 1l-4-4l-5 1l-2-3l-5-2zM801 210l-2 2v3l6 2l2-2l-3-1zM244 204l7 7l7 2l8-2l-7-2l3-9l-7-3v2l-3 3zM228 196l3 4l6 2l-1-2l-3-1v-2zM304 113l-1 1l4 3l1-3zM291 107l-4 2l1 4h3l1-2zM338 107l3 2l1 3l4-2l-1-3l-2-1zM321 108l3 5l12-2v-3l-5-2h-5l-2 2z"/><path fill="#4a1d78" d="M807 260l-1 1l1 3l-2 4l3 3l1-3l4-3zM554 254l2 2h5l2-2h4l3 2l4-2l3 3l5-2l5 5l3-3l-1-5l-3-4l-7-3l-6 2l-7-3l-4 2l-1 4h-4zM788 241l1 6l3 3l5-1zM316 240l-3 2l-1 3l-5 2h-6l-3 10l3 2v2l-2 2l-1 14l3 1v4l2 2h6l3 3h6l2 3l5 2l2-3l3 1l3-9l1 1h3l3-2l5 1v-3l7-5l3-5l-2-5l3-6l-7-7l-7 2l-2-2l5-4l2 1l-5-3l-5 3l-2 3l-3-5l-3-1l-3 1l-6-5zM309 279l2-1l2 3l-2 1zM321 252l2 2l-3 5l-2-4zM792 231v2l4 3l4 11l6 4v-3l-4-9l-6-8zM254 200l-4 5l1 2l2-1l2-4z"/><path fill="#2d004b" d="M305 269l-2 1l1 3l3-2zM348 253l-5 3h-6l-6-3l-2 6l1 4l-2 2l-8 1l-1-3l-3-2l-1 4h3l2 2l-1 7l-3 5l8 7h4l-3-7l6-6l4 2l14-2v-6l-5-6l2-2l1 1l4-1zM335 267l1 3l-3 3h-2l-3-3l2-2zM325 267l3 3l-5 4l-2-3zM316 251h-3v3l-4 1l2 5l2-4h3l1-2zM579 251v2l3-1l3 2l-1-3l-2-1z"/></g></g><g filter="url(#db)"><circle cx="250.0" cy="46.1" r="0.9" fill="#2a2040"/><circle cx="258.3" cy="58.6" r="0.9" fill="#2a2040"/><circle cx="271.7" cy="58.6" r="0.8" fill="#3a3050"/><circle cx="107.3" cy="60.1" r="0.8" fill="#2a2040"/><circle cx="21.9" cy="39.8" r="0.9" fill="#3a2a60"/><circle cx="450.1" cy="60.1" r="0.8" fill="#2a2040"/><circle cx="277.7" cy="45.8" r="0.8" fill="#3a3050"/></g>
</g>
<rect x="75.4" y="348.9" width="512.4" height="213.4" fill="none" stroke="#a8a8a8" stroke-width="2"/>
<g><path d="M150.4 569L130.3 576L150.4 583Z" fill="#2d004b"/><path d="M512.8 569L532.9 576L512.8 583Z" fill="#7f3b08"/><rect x="149.9" y="569" width="30.7" height="14" fill="#4a1d78"/><rect x="180.2" y="569" width="30.7" height="14" fill="#6b4f9b"/><rect x="210.5" y="569" width="30.7" height="14" fill="#8e82b6"/><rect x="240.8" y="569" width="30.7" height="14" fill="#b4aed3"/><rect x="271" y="569" width="30.7" height="14" fill="#d2d3e7"/><rect x="301.3" y="569" width="30.7" height="14" fill="#eaebf2"/><rect x="331.6" y="569" width="30.7" height="14" fill="#faeedf"/><rect x="361.9" y="569" width="30.7" height="14" fill="#fedbac"/><rect x="392.2" y="569" width="30.7" height="14" fill="#fdbc6b"/><rect x="422.4" y="569" width="30.7" height="14" fill="#e9932d"/><rect x="452.7" y="569" width="30.7" height="14" fill="#cd700e"/><rect x="483" y="569" width="30.7" height="14" fill="#a85206"/><path d="M149.9 569L513.3 569L532.9 576L513.3 583L149.9 583L130.3 576Z" fill="none" stroke="#000" stroke-width="1.6" stroke-linejoin="miter"/><path d="M149.8 583v8.4" stroke="#000" stroke-width="1.9"/><path d="M210.4 583v8.4" stroke="#000" stroke-width="1.9"/><path d="M271 583v8.4" stroke="#000" stroke-width="1.9"/><path d="M331.6 583v8.4" stroke="#000" stroke-width="1.9"/><path d="M392.2 583v8.4" stroke="#000" stroke-width="1.9"/><path d="M452.8 583v8.4" stroke="#000" stroke-width="1.9"/><path d="M513.4 583v8.4" stroke="#000" stroke-width="1.9"/></g>
<g font-size="18.4px" text-anchor="middle"><text transform="translate(149.4 615.5) rotate(-45)" y="6.5">−3</text><text transform="translate(210 615.5) rotate(-45)" y="6.5">−2</text><text transform="translate(270.6 615.5) rotate(-45)" y="6.5">−1</text><text transform="translate(330.4 610) rotate(-45)" y="6.5">0</text><text transform="translate(391 610) rotate(-45)" y="6.5">1</text><text transform="translate(451.6 610) rotate(-45)" y="6.5">2</text><text transform="translate(512.2 610) rotate(-45)" y="6.5">3</text></g>
<g transform="translate(636 348.9)" clip-path="url(#mc)">
<g filter="url(#mb)"><g fill-rule="evenodd" transform="translate(.25 .25) scale(0.5)"><path fill="#dadada" d="M464 196l2 5v5l9 2l39-1l11 2h22l12-2h18l9 2h16l9-2h11l-1-3l-4-3v-6l-10-18h-6l-31-9l-38 2l-15-3l-26-1l-7 3l-2 4l-5 2l-6 6zM614 178l8 11l1 5l10 13h8l5-6l4 4l15-2l15-12l-8-6v-3l-7 5l-6-1l-1-3l-2 2l-2-5l-6-8l2-3h4l7 8l5 2l7-1l3 3l4 1l-1-4l-2-2l-19-5l-17-11l-18 1l-1 3l6 14l-1 1zM474 24l-20-1l-21-4h-26l-16 2l-44 1l-9 1l-7 2l-1-1l1-1l-4-3h-46l-1 1l-21 1l-9 4h-6l-5 2v5h16l1 1l-1 4h-16v3l11 2h29l4-1l-1-1l-12-1l-1-1l1-1h15l8-5l19-4l1 1l-8 3l5 3l14 3l21 1l9 8l3 5l9 2l1 1l-2 2l-5 1l1 7l12 13l15 5l3-6l7-8l9-2l14-7l18-1l8-4l2-6l6-6l4-15l2-2z"/><path fill="#e9e9e9" d="M924 372l3 6h4l2-3v-3zM1007 374l-4-3l-4 5l-9 5l-4 5l3 1l8-1l1-4l6-4zM1005 355l4 5v4l-2 3l4 6l8-10l-7-2zM654 120l-1 2l5-1l5 2v4l-5 2v2l4 6l3 2l-2 4l3 5l-5 4l-5-1l-5-5v-4l-19 4l-1 3l4 10h6l17 11l19 5l3 4l13-3l1-6l-5-20l-16-6l1-1l32 1l3-4l3-13l-2-2l-24-7zM677 124l2-2l4 1l1-1l3 4v3l-7 3l-3-4zM157 49l3 3h9l8-3l2 2l1 5l4 2l8 1h24l5-1l2-2l16 2l15-3l8-4l8 5h18l10 4l16-3l-4-3l-17-6l1-1l-5-1l-28 1l-5-3h-14l-1-1h-17l-12 3l-2 2h-20l-1 1h-7l-8-4h-15zM905 42l9 1l14-2l-15-1l-8 1zM167 40v1l10 2l10-1l15 1l8-2v-1l-6-1h-35zM214 40l24 1l-1-3h-21zM705 37l-32 5l-14 10l7 2h7l8-9l16-4zM240 37h15v-3h-14zM193 34l1 1h34l3-2l-2-1h-32zM544 30l8 5l12 2l22-9h-28zM784 31l10 2l14-2l-10-5l-6 1zM686 25l-18-1l-20 3h34z"/><path fill="#eaebf2" d="M652 290l-7 9l-8 5l1 8l-2 3v6l4 6l5-1l9-25zM948 336l-2-9l-8-7l-4-8l-4-1l-3-3l-2-10h-2l-3-3v-4l-3-4l-2 4l-1 12l-5 3l-12-8l3-7l-12-2l-6 4v3l-2 2h-3l-3-2l-5 1l-9 8l-1 4l-3 3l-8 1l-13 5l1 5l-1 7l6 15l-2 7l2 2h8l4-3h10l3-3l9-3h10l9 3l4 6l6-4l1 6h3l2 5l4 3l4 1l7-1l3 2l3-3l7-1l3-10l6-7zM839 280h6l19 4l7-4l-9-1h-22zM812 274l6 3l19 2l-1-2l-5-2h-12l-4-2zM945 269l-2-1l-8 4l1 1l5-1zM885 258l3 3l4 1l-4 2l2 2l7 1l7 3l3 5l-2 3h3l5 3l6-1l5-3l9 7h5l-5-4l-3-5l1-2l-3-1l-6-6l-16-5h-4l-6 4l-3-7zM866 252l-1 1l-10-1l-2 2l-2 7v7l2 3l2-7l4 4h2l-4-6l4-4h-6l-1-2l3-3h9zM875 250l-1 5l2 2l1-6zM784 240l3 6l7 6l7 13l7 6l4 1l1-8l-9-7l-15-16zM850 240l-6-4l-10 10l-11 5l-1 4l3 6l4 3h5l4 2l3-1l4-9l5-4l-4-4zM871 233l-2-4h-2l-7 6l9 3zM739 229v7l1 2h2l2-4zM868 221l-4 2h-4v3l3 2l4-2zM462 214l3 6l9 8v3l15 11h5l5-2l8 1l10-4h8l4 6l7-1l4 4l-2 13l2 4l7 7v4l4 10v6l-5 10v6l7 12l2 14l5 6l4 9v5l4 2l5-2l14-1l7-4l10-11l1-8l7-4l-1-12l11-8l5-6l-1-6l1-6l-3-5l-1-8l1-7l14-15l10-8l9-20h-5l-12 3l-4-2l-2-4l-12-12h-11l-9 2h-16l-9-2l-52 2l-11-2l-39 1l-7-1l-3-2v4zM603 254l6 1v6l-2 2l-5-2zM855 203l-1 3l1 9l8 3l-5-3l1-12zM301 203l7 2l8-3l-3-2h-10zM827 200l-2-1l-3 2l2 2zM271 193l9-2l8 3l3 4h7l-14-8h-7zM681 191l-2-2l2 2l-16 13l-15 2l-4-4l-5 6l-9-1l2 2l1 9l1 1l14-3l18-9l8-6zM858 185h-2l-2 4l2 3zM883 160l-1 5l3 1l1-5zM536 139v5h2l1-5zM914 138l-3 1v3l-3 5l-6 3l-4 5h-9l-4 3h3l3 3l3-2l-3-1l1-1l14-1l6-2v-6l3-4zM911 135l2-1l8 1l4-4l-9-5l-3 1zM344 119l12 3l5-1l-1-4l-5-3l-3-4zM916 102v22l4-3l2-5l-3-3l-1-5l1-1zM495 100l-6-1l-4 2l-1 6l10-1zM498 89l-3 3l1 5l2 2l1-1l5 2l-2 4h-3l1 2l-2 2l4 1l-4 3l17-3l1-3l-3-1l-10-10l2-3h-2l-1-3zM444 69l5 4l13 1l10-4l-2-2h-15l-1-1h-5zM0 60v9l6-2l3 2l12 3l7-4zM335 66l-20-9l-14 4l3 1l-1 4l-3 3l-9 2l14 1l6 4l12 3l5-7zM40 61l-6 8l4 2h15l1 1l-1 3l-11 2l-2 2l1 2l3 2l6 1l2 4l9-1l3 2l-3 3l-15 7l7-1l17-7l9-9l2 4l8-3h6l8 2l1-1l11 1l6 3l9 1l11 11l4 2l6 8l5 2l-1 1l-7-1l10 6l1 4l-1 13l2 8l3 3l5 10l6 2l6 6l7 12l11 13l-7-12l-6-7l1-5l26 27v6l15 9l9 3l8-1l7 6l12 3l10 12l9 4l3-4l7 3v10l-10 14l2 6l-3 3v4l7 9l9 18l3 3l7 3l5 5v16l-1 1l1 1l-4 15v9l-5 10l-1 5l1 16l-6 8v8l4 7l11 8l13-1l-6-4l-4-5l9-12l-4-4l6-3l4-6l-3-5l7-1l3-6l10-1l2-4l-3-7l1-1l5 2l7-1l11-13l3-5l1-6l8-6l14-7l4-11l1-11l11-15l-1-8l-5-1l-11-6l-10-1l-14-6l-2-2v-3l-4-9l-7-4h-8l-9-7l-5-6h-18l-5-3l-4 2l-2-4l-5 3l-5 1l-5 6l-6-2l-6 2l-7-7l1-11l-15-4l5-14l-9 1v3l-3 3l-9 2l-7-5l-3-7v-5l2-10l9-6l13 1l1-3l16 1l3 3v5l2 4l4 1v-6l-3-7v-4l3-4l10-5l3-3l-1-4l6-7v-3l10-3l-1-2l3-5l10-3l2 4l6-3l6-1l3-3l-2 2l-8-1l-4-4l2-4h-6l-7 4l-3-1l14-8h16l10-5l-4-5l-6-3l-13-14l-6 5l-7-1l-3-2l-1-5l-17-4l-5 1l1 1l-1 10l3 6l-5 6v6l-2 2h-3l-5-5l-1-6h-7l-8-4l-13-1l-6-6v-2l3-6l8-6l10-3l4 4l9 1l3-2l-8-5l-6-1l11-2l3-2l-1-4l-5-2h-4l-6 6l-14-8l-5 2h-5l-2 3l-14 2l-1-1h-42l-11-4h-17l-1-1h-9l-8 2h-17l-53-6l-15 3zM284 135l-3 3l-6-1l7-3zM285 133l5-3l5 1l-1 2l-7 1zM271 125l10-1l4 5l-6 5l-6-4l1-2zM269 124l1 1l-3 9l-4 3l-2-2v-10zM250 122l11-6l9 2l2 3l-1 3h-10zM155 113l2-1l4 2l1 3l-2 1zM231 102h3l2 2l2 6l-1 3l-7-6l-1-3zM199 77l-6 5l-5 1l-9-1l8-5l7-1zM157 68l10-4l9 3l-5 4h-10zM1023 60l-7-2l-19 1l-1-1l1-1l-28 1l-8-4h-17l-17-4h-19l-3 2l-6 1l-6-1l-12 2l-16-8l-8 2l-24-1l-1-1l2-1l-1-5l-18-2l-5-3l-14 4l-35 3l-17 4l-1 1l5 5l-3 3h-3l-6-5h-8l-4 4l2 7l-6 6l-3-1l4-3l-3-3v-8l-8-5l-6 1l-1 6l4 6l-1 1l-22-4l-10 4h-12l-14 2l-3 2h-2l-1-3h-4l-1 5h-6l-4 2l-2 3l-6-1l-1 3l-6-1l-5-7l2-1l17 2l2-1l-1-3l-14-4l-15-1l-1-1l1-1l-6-2l-15 1l-22 6l-12 11l-16 7l-1 6l3 4h7l6-2l7 10l7-1l9-11l-4-3l1-4l10-6l3-4l9 1l-1 2l-10 6v5l2 2l20-1l1 2l-5 2l-2-1l-9 1l1 5l-8 1l-1 5l-4 3l-5-1l-8 2h-13l-3-3l2-3v-4l-5 1l-1 10l-9 1l-5 6l-8 5h-6l1 1l-2 2h-7v1l5 1l5 6l-1 4l-2 2l-20 1l1 3l-2 8l2 6l4-1l5 4l-3 6l-9 9l7-3l26 1l15 3h14l13-2l-5-3l-7-1l-4-3l-2-3l1-7l-24 1l-11 5l-10-2l-1-1l4-3h7l5-5l-1-3l4-4l4-1l2-5l2-1l7 1l5-3l5 1l4 5l10 5l3 3l-1 4l-8 1l7 2v-2l4-2l1-2l-2-2l2-2l4 1l-13-7l-5-7l5-2l5 5l9 4l4 8l3 3l1 4l4 2l2-2l-2-6l2-1l-2-1l2-2l12-1l-1-4l9-11l2-1l4 1l2 2l-2 1l1 2h5l2-1l-2-2l1-2l10-2l1 1l-5 4v2l10 4l2 2l-1 4l-12 1l-6-3h-4l-5 3h-7l-1 2l-7 1l1 1l-1 3l4 5l3 1l5-2l5 2l4-1l7 1l-3 11l-3 4l-9-1l-6 2l-11-2l-6-3h-5l-4 4l11 2l22 7l7-1l1 1v-2l2-1l2 4l14 1l-6-16l2-2l11-1l-4-10l2-4l18-4l2 1l-7-11v-4l3-3l3-1l3-4l18-2l18 1l20 6l3 3v3l-3 10l-4 5l-32-1l12 3l4 3l5 20v5l-2 2l-12 3v3h20l10 7l-2 2l3 3l6-1l2 12l12 26l7-7l1-7l-1-6l15-13l4-1l2-4l12-3l7 8l2 10l1 1l3-3h3l2 2v4l2 4v16l4 3l4 11l5 4h2l-3-10l-6-6l-4-8l2-8l2-2l5 3l2 4l6 4v2l6-6l4-1l1-6l-2-6l-7-8v-3l7-7l1 1l1-1l3 3l1-2l10-2l9-4l9-10l4-8v-5l-7-8v-2l8-5l-9-1l-3-4l10-6l2 5l6-3l3 2v4l4 1l-1 4l1 5l7-2l1-3l-5-10l10-9h6l6-3l14-11v-7l3-5l-1-2l-9-2l-6-3l3-1l12-10l6-3l28 1l5-1l7-7h10l9-2l1 1l-4 4l-12 6l-7 6l-1 9l3 7l5-6h4l8-8l1-5l7-6l3-1l7 1l18-7l10-1l-4-5l6-1zM825 98l-2 5l-9 6l-4 1l-2-1l6-3l9-9zM606 83l-5 3l-4-1l7-5z"/><path fill="#faeedf" d="M310 345l-1 8l2 2h3l1-4l-1-2l-4-2zM314 343l1 2l7-1l-6-3zM311 330l6-2l1-2l-7-1l1 1zM573 310l-1 2l1 2h3l3 4l-1 1l1 7l2-2v-12l-1-2l-1 1zM881 305l-3 1l-4 4l1 1l3-2l4 3l-2 2l-5 1l-2 7l4-1l2-4l4-3v-2l-2-1l1-1zM587 308l4 3l4-3h4l3 2l3-1l-1-2h-3l-5-6l-1 2l2 3l-2 2l-6-1zM345 301l-2 1v2l3 2l1-1zM386 298l-2-2h-7l-10 10l-5-1l-5 5h-5l-1 4l2 6l3 1l1 2l-5 5l-7 1l-6 4l-4-1v2l10 4l2 3l3 1l1 4h5l5-5l3 6l6-7l2-4l-1-2l3-2v-3l9-6l1-2l2 1l1-1l-1-4l-4 1l-2-2l3-3l1-4l-1-3l3-2zM364 340l3-1l1 3l-3 1zM346 337l2-2l5 1l-2 5h-2zM620 290l-2-1v-3l-2-2h-3l-3 2l1 2l-4 2l-1 2l1 2l5-1l2 1l1-6l3 1l-1 3h3zM593 252l1 4l8 4v-5l6-1l1 6l3 2l1 5h2v-5l3-5l13 1l-3-5h-5l-1-2l-3 1l-2-2l-3 1l-2-2h-6l-4-2h-5l-1 3zM575 220v2l5 5l8-3v-1h-4l-4-4zM733 216l-2-1l-2 1v2h4zM268 211l-5-1l-1 5l2 3v-6zM493 162l-2-1l-5 4v2l8-2zM787 152l-1 3l4 1l1-1zM771 149l-3 2l1 4l-1 6l2 3h3l1-1l-2-2l1-10zM758 146l-4 4l1 5l-9 3l1 5l7 4h5l2-2l-1-5l4-6v-4zM201 144l4 5l4-2l-1-2l-5-2zM592 141v2l2 1l3-2l5 1v-3l-2-1h-4zM287 136h-4l-1 3l3 1zM804 125v2l3 2l1-3zM315 121l6-1l7 3l-2-2l2-4h-6zM810 116v3l4 3l5-1l-1-3h-4l-3-3zM355 114l-3-4l-3 4zM918 104h-2v18l5-7l-2-2zM899 102l-5 11l3 2v2l8 6l6-4v-7l3-5l-3-3zM277 99l-7 2l-3-4l-3-1l-6 2l-7-1l-7 4l-1 5l2 5l3 2l6-2l1 3l2 1l12-1l4-4l4-1l-2-5l3-1zM166 96l-3 6l1 5l3-1l-1-6l2-3zM541 92l-5 1l-1 3l1-1l5 1zM285 110h2l5 5l4 1l2 5l3-2l7 1l6-1l5-4l7-3h16l10-5l-4-5l-6-3l-13-14l-6 5l-7-1l-3-2l-1-5l-9-3h-6l-6 3l-1 8l3 6l-5 6v6zM815 70l-5 5l2 7l3-1l-1-6l3-2v-2zM0 60l1 9l4-2l4 2l7-1l1 2h4l4-3l3 1zM1023 60l-7-2l-17 1l-3 3h-11l-3 3l-2-1l-10 1l-6 3h-4l-4-2l-6 3l-18 2l-5 4l-2 4v6l1 1l21 1l5-1l7-7h10l9-2l1 1l-4 4l-12 6l-7 6l-1 9l3 3l8-4h3l6-6l1-5l7-6l3-1l7 1l18-7l10-1l-4-5l6-1zM335 66l-20-9l-14 4l3 1l-1 4l-3 3l-9 2l14 1l6 4l12 3l5-7zM236 63v3l3 3l9 5h7l9-3l4 4l12-2l-8-4l-6-1l11-2l3-2l-1-4l-5-2h-4l-6 6l-14-8l-9 2zM34 69l4 2h15l1 1l-1 3l-9 1h3l2 2v4l3 4l4-1l1-2h7l1 3l5-1l1 2l3 1l5-6l1 1l1-1l6 1l6-1l3 2l33-3l1 2h3l2-3l5 1l4-2l3 1l-1 3l7-1l-6-3l1-11l3-4v-2l-4-3v-2l-9 1l-2 2l-20-1l-4 3l-5-5h-11l-31-4l-15 3l-6 3l-2 3h-3zM70 84l2-2l2 1l-1 3h-2zM810 62h-6l-2-3l-3-1l1-3l-3-2l2-9l-5-1l-1-4h-5l-4 6l-4-3l-11-1l-25 5l-1 1l5 5l-3 3h-3l-6-5h-8l-4 4l2 7l-6 6l-3-1l4-3l-3-3v-8l-8-5l-6 1l-1 6l4 6l-1 1l-22-4l-10 4h-12l-14 2l-3 2h-2l-1-3h-4l-1 5h-6l-4 2l-2 3l-6-1l-1 3l-6-1l-5-7l2-1l17 2l2-1l-1-3l-9-3l-10-1l1 3l-3 2l-3-4l-4 2l2 5l-5 3l-1-1l1-9l-8-2l-2-4h-4l-27 7l-12 11l-10 5l4 4l-1 6l1 1l5-1l7 10l7-1l9-11l-4-3l3-6l8-4l3-4h8l1 1l-1 2l-10 6v5l2 2l20-1l1 1l-1 2l-4 1l-3-1l6 6l12-5l2 1l8-1l1-3h2l2 3l-2 3l1 2v-3l3-2l8 2l5-4l7-2l-4-4l1-2h2l2 4l3 1l10 9l-2 2l3 2l6 1l5-1l3 3l3-5h4l4-2h5l3 2l5-4h2l2 3h3l2 2l9-1l2 6l4-3l7 3l5-3l-1-2l4-2l4 1l2-2l4 1l14-4l5 2l3-2l11 2l2-4h3l3-2l4 4h2l6-8l6 1l2-2l-1-1l1-5l2-2v-6zM539 85l3-1l1 2l-3 1zM606 83l-5 3l-4-1l7-5z"/><path fill="#fedbac" d="M554 88l-3 2l1 2l3-1zM288 105l3 4l9 6l9-1l4 2l7-1l6-3h12l9-10l-5-3l-13-14l-6 5l-7-1l-3-2l-1-5l-12-3l-9 5l-1 6l3 6l-5 6zM110 79l-2-3h-5l-2-2l-11 1l-5 2l-6-1l-3 2l-2-1l-8 1l-4-3l-2 1v2l15 2l11-1l6 2h16zM627 70l-2 2l-3-1l-1 1l1 2l2 1zM565 68l-3 1l-5-1l-6 4l3 9l-3 1l-1 4h3l3-3l5-1l1-6l3-3zM638 62l1 3l8 1l2-1v-2l-6 2l-1-3zM0 63l1 4l2 1l3-1l3 2h2l4-5l-10-3h-3zM79 60v3l2 1l1-3zM1023 60l-19-1l-8 5h-9l-9 6l-7-2l-4 3l-5-1l-3 2l-8-1l-7 3l-3-1l-10 1l-3 5v5l4 1l3-2l1 2l11 2l5-1l7-7h10l9-2l1 1l-4 4l-12 6l-6 5l2 2l-3 1v2h4l3-2l3 3h3l5-5h2v-3l7-6l3-1l5 1l6-4l5 1l9-4l10-1l-4-5l6-1zM559 61v2l7 1l2 4h3l2 2l2-2h5l-2-2v-6l-2-2l-4 2l-1-3l-6 1l-1 2zM335 66l-20-9l-14 4l3 1l-1 4l-3 3l-9 2l14 1l6 4l10 2l5-3zM240 66l10 6l9 1l6-2l3 3l8-3l-10-3l11-2l3-2v-2l-2-3l-8-1l-6 6l-14-8l-5 2l-5 6zM70 56h-3l-4 4l-4-1v4l-4 5h5l2 2v3l2-1l3 1l1-10l2-2l4 3v-3l-3-2zM794 69l-3-4l-8-4l-4 4l-10-2l-5-5l-1-5l-3-2h-5l-5 3l-3-1l-6 3v2l4 4l-2 4h-3l-4-4l-6-2l-5-4l1 5l-6 6l-3-1l4-3l-3-3l-1-4h-13l3 4l-1 1l-22-4l-3 2l-9 2l-2 5l-8-1l-4 2h-4l-4 8h10l3 3h3l5 4l6-5l6 4l7-6l4 2l4-2h5l3 2l3-1l1 1l-1 3l7 7l4 2l-1 1l1 2l2-3l5-1l4-3l3-5h2l2 4l4-3l7 4l3-2l11 2l2-2l12-1l4-3l3 1l3-4h3l4-3zM713 77l5-4h2l1 3l3 1l3 4l-2 2l-5-1l-1 2zM779 50l-1 3l4 2z"/><path fill="#fdbc6b" d="M972 83l-9 5l5 1l5-3zM290 88l3 8l-4 5l13 11l22 1l10-4l5-4l1-8l-11-12l-6 5l-7-1l-3-2l-1-5l-10-2l-7 3zM983 78l-2 1l-1 4l2 2h3l1-5zM950 76l-3 6h3l2-2zM2 63l2 4l5 1l3-2v-2l-3-2zM1001 64v3l5 2l3 3l4-2l10 1l-1-10l-16-1zM743 77l11 4l1-1l3 1l14-1l2-3l1 1l3-1l4-7l-11-2l-6-5h-3l-4-3l-9 4l-3 3v5l-3 2zM683 63v3l2 3h3l1-3l2 4l4-2l4 3l1-1l4 1l3-2l8 2l1-1l-1-3l3-2l-2-3l-3-1v-2l-7 4l-2-1v4l-3 3l-5-4v-6h-6zM334 66l-19-9l-14 4l3 1l-1 4l-3 3l-6 1l11 2l5 3l17-1zM245 66l14 7l5-2l6 1l4-2l-8-2l11-2l3-2v-2l-2-3l-8-1l-6 6l-13-7l-5 4z"/><path fill="#e9932d" d="M292 88v4l2 4l-1 4l2 2h3l6 6l10 3l7-1l4-3h5l5-3l-1-3l2-4l-1-4l-7-5h-3l-2 2l-7-1l-3-2l-1-5l-3-1l-8 1l-5 2zM751 70l1 4h5l3 3l4-2l-1-3l-5 1l-3-5zM249 63v2l9 6h10l4-2h-5l-1-1l1-1l10-1v-4l-6-4l-7 6l-11-6zM300 69l9 3l19 1l5-6l-4-4l-14-6l-14 4h2l1 2z"/><path fill="#cd700e" d="M297 86l-1 5l6 5l2-2l-1-6l3-3l2 1v5l-3 7l5 3l1 2l-3 1l1 2l5-6l3 2l3-1l2 2l2-8l3-2l-1-2l-4-2l-8-1l-2-5l-3-1l-8 4zM321 70l3 2h4l4-4l-8-3l-3 3zM253 62v4l6 4h6l3-1l-2-1l5-2l-1-6h-2l-4 4l-7-4z"/><path fill="#a85206" d="M324 68l1 3l5-1l-3-3zM256 65l2 3l3 1l7-2l-1-5l-3 2l-5-2z"/><path fill="#d2d3e7" d="M566 350l2 4l6-2l-4-4zM876 337l-1 4l2 2h3v-3zM596 337l-5-4l-6-1l-5 5l-1 5l-5 2l3 7l5 1l9-3l3-4l-2-5zM893 331l-1 1l1 5h2l3 3l1-2l-2-2v-3zM943 325l-2 1h3l1 4l-8 3v4l5 2l-1 4l4-1l3-3l-2-12zM865 325l-2 4l2 1l3-1l3 3v2h2l-1-6l-5-4zM638 320v2l2 1l-1 3l1 1l5-1l-3-6zM924 319l-1 4l1 1l5-1l3 5l-1-6l-2-2zM842 319l-4 2l2 9l1-1l-1-3l4-4zM859 314l-1 1l1 6h1l1-5zM559 298h-2l-4 6l-5 2l3 6l2 1l4-1l-3-1l-2-2l1-1l10 1v-6l-3-2zM885 290l-3 3l-1 4l4 1l2-1l-3-4zM409 281l-2-1l-4 1l-2 4l4 1zM366 279l-1 4l-6 3v4l7 7h2l1-8h-2l-3-4l4-2l2-3zM290 275l-1 1l2 3l-3 2l7 12l-1-7l-3-4l3-5zM916 278l-3-1l1-5l-4 3l-4-2l1 2l-1 1h4l3 3zM390 272l-2 4l4 2l2-4l-1-2zM406 270l2 5l3-1v-3zM597 270l-2-1l-4 4l1 1l5-2zM356 267l-4 1l-1 3l1 1l-3 6l1 2l3-1l3 1l2-4l-1-3l1-3zM844 258l-7 7l1 1l4-2v-3zM861 258l-7-1l-3 4v4l2 1l-1 3l1 2l1-6l1-1l2 1l-2-3l1-2zM353 255l3 6l4-1l-1-2zM554 248v2l3 3l3 1l2-1l-1-4zM827 249l-1 2l1 5h3l2-5l3 1l-1 3l1 3l5-2v-2l-6-6v-2zM321 246l-1 4l5 8l5-2l2 1l3-1l1-5l4 2l-1 2l2 1l1-1l-1-3l1-4l-5-3l-10 2l-1-1l1-2l-2-1zM354 239l-3 5l1 4l6 4v-3l5-3l4 5l-4 9l3 1l2-4v-7l-3-7l-7-4zM599 240v-2l-2-1l-9 2l1 2h5l2 2zM604 236l-2 4l4 4h4l1-3l-3-1l2-3zM344 234l-4-1l-2 6l5-1zM577 234l-2 1l-5-4l-2 9l4-4zM541 230l-1 2l2 8l8-1l4 5l2-6l-3-3l-4 4l-2-2l-1-7zM279 232l1 1l1-2l3 1l1-2h2l5 3v10l-3 4l3 3l5-1l2 5h2l3-4l3 1l4-6l2 2l3-4l-4 1l-4-1l-1 3l-4 2l-2-3v-5l2-1v-2l-2-2l-5-1l-3 1l-2-3l1-1l-6-2zM329 226h-4l-6 5l-7-1l-1 8l3-1l-1-3l1-3l3 1l3-1l5 2v-3l3-1zM296 226l-1 3l4 3l1-3l-2-3zM488 225l4 10l6-1l1-3l-1-1l-2 1l-2-4zM809 223l2 7l3-4zM822 219l-4 3v2l4-2zM633 219v3l3 2l1 3l-3 3h-5l-1 1l1 4l4-4l1 1l5-1zM553 216l-1 3l2 3l-3 5l5 6l4 1v-2l-3-3l8-8l-1-1l-6 1l-2-4zM610 213h-4l-3 3v2l5 3l2-4zM640 211v3l6-1zM239 205l-5 2l-1 2l4 1l2-2zM247 203l-2 1v3l-3 2h2l7 6l-2-3l2-4zM808 204l-5-4l2 3v4l-3 1l-1-3h-2l-1 3l1 1l8-1zM738 189l-5 2l1 4l-1 3l3 2l2-1l-2-4v-4zM766 185l-1 2l3 2l1-3zM684 179l-1 4h3zM724 179l-4-1l-5 2l-4 3v3l4 2l1-1l-1-2l8-4zM235 178l-4 3h-4l-1 4l-2 1l1 2l4 2l-2 3v2l2 1l3-3l-1-10l4-3zM596 169l-1 3l2 1l1-3zM763 176l2 2h3l2-2l1 2l7 1l2-1v-4l2-2l4 1l6-1l1 1l-1 3l3 5l-1 4l8 7l-1 2l-5-2l3 5l3-3l2 3h4l-2-6l-4-2l-1-16l-1-2l-7-4l-7 2l-3-3h-2l-1 4l-6-1l-5 5h-4zM571 167v1l8 1l4 2h4l2-4l3 2l1-2l-10-1l-6-3zM243 163h-3v2l-5 3l2 3v4l8-5l1-3l-4-2zM838 162h-4l-3 8l-6 2l-1 7l-3 4l1 5l-1 5h4l4-6v-5l-2-3l2-3l6 3v4l-3 2l1 3l5 1l3-2v-3l-4-3l2-6l-3-3v-4l3-5zM717 164v2l2-1l4 3l1 6l5-7h3l5 7l3-10l-6-4h-3l-2-3l-3 1l-6 7zM534 156l-1 10l2 2l9 1l1-1l-1-2l-4 2l-2-1v-3l3-6zM853 151l-2 1l-3-1v3l-4 3l3 6l5-4l-1-4l3-2zM872 148v8l7-1h-4zM216 148l-1 5l4-3l2 2l-1 5h3l1-2l-2-3l1-2l-1-2zM679 144l1 2l4 1l1-3zM732 143v3l3 1l-1-4zM536 139v5h2l1-2zM501 139l-1 4l1 7h6l3-3l-3 1l-2-2l-1-4l1-1zM816 140l1 2l3-3l2 1v2l-4 4l2 1l3-2l2 2l-2 4l1 2l4-3l2 2l5-3l7 1l-2-5l6-3l-4-2l-1-4l-9 3l-6-1l-3 2l-2-4l-2 4l-2-1zM553 136v2l4 5l1-2zM865 135l3 3l-1 4l6-3l-1-4l-2-1zM802 131l-2 8l1 1l3-1l1 3l7 2v-5l3-5l-9-1zM234 128l-7 2l-1 2l3 3l5-2l1-2zM918 127h-3l-3 3v5l1-4l6-3zM738 129l-3-3l-5 1l-6 6l-1-4l-8 1l-2-2l-2 6l4 3l4-2l5 1l3-1l3 3h2l3-2v-4zM564 131v2l5 4l3-2l6 2v-3l-4-3l-2-5h-2l-2 3zM754 133l4 4l11 1l2 3l-1 3h4l-5-6v-7l-3-4l1-4zM551 123l4 3l1 4l4 1l2-5l-4-3l-4 1zM212 125l-2-4l-12-1l-1 2l-6-1l-3 3l-4 1l-3 7l4 2l2-2l7-1l2 2l9 1l2-5l4-2zM728 120l3 3l3-1l-2-2l-3-1zM857 118l2 3l4 1l-5-5zM524 117l-2 1l-1 3l3 3l-1 6h3l1 1l-2 1h4l7-7h-3l-3 3l-2-3l2-5zM798 114l-5 1v1l5 1zM639 110v3l3 1l1-2zM203 111l-3-1l-4 4l5 1zM661 110l-4-1l-1 4l1 1l2-1zM699 108l-2 1l-1 7h3l1-2zM646 108l1 4l3 3h3l1-2l-3-3l1-4zM623 103l2 4l-1 2l2-2l3 2v-4zM660 101l-4 3l1 3l5-1v-3zM572 102l5 6l1-3l5-4l-2 1l-8-1zM588 100l-1 4h3v-4zM487 100l8 1l-2-2zM173 98l2 4l-3 6l4-3l2 2l2-2zM792 96l5 5l1-3l-3-2zM751 96v3l2 1l2-3zM865 91l-1 4l-5 1l1 1l4-1l1 9h3l1-3l-2-3l-1-8zM234 92l-5-1l2 1l-1 7l-5 1l-1-2h-3l-3 6l4 1l2 4l-1-3l3-3l4 3l-1-6l2-2l5 4v-7zM243 90l2 4l3-1l-4-4zM835 84h-2v4l-2 2l3 4v3l-3 3v3l-2 2l3 3l-1 4h3l3-3v-3l3-2l-1-3l4-3l-4-6l1-3l-3-1zM226 63l-4 1l2 4l-1 8l-4-1l-3-3l-1-5l-5 2l-1-1l1-5l-2 2h-3l-2 4l-6-2l-5 4l-4-2l-2 3h-3l-4 9l8-4l11-1l1 2l-6 4l-13 1v6l-2 2h-3l1 4l5 5l3 1l11-4l3 5l-4 4l-4-2l-2 1v2l5 3h2l2-3h5l5-5l-1-6h-3l-4-6l2-3h3l2-4l7-1l3 3v4l2-1l5 1l3-5h4l-3-4l1-3l-2-1l3-6l-1-2l-4-1zM183 94l3 2l-2 3l-2-2zM190 91l2-2h4l1 5l-2 1l-4-2zM210 80l3-3l2 1l-3 3zM186 62l-4 1l2 6h1l-1-4zM174 60l-1 3l1 3l2 1l-2 5l-5 2l1 1h3l2-3l5-1l-2-4l1-3h-2zM816 52l3 4l-1 8l4 1l2 2l-1 3l5 3l2 3l2 1l6-2l2 2l4-1l7 1l1-2l1 1h10l3 2l3 5l3-2l6-1l2 4l-3 2l3 2h4l1-2l6 2l1-5l2-2l-1-3l1-3l2-2h3l2-3h7l2 5l2-1l1 3l4 4l3-1l2-5l5-5l-1-6l5-3l-3-2v-3l6-3l-2-2l-10-1v1l5-1l2 2l-4 3h-3l-3-5h-4l1 3l-4 3l-4-3l-3 2l-4-3l-20 2l-16-8l-8 2l-24-1l-1-1l2-1v-2l-5-3l-3 3v6l-2 4l-4-2zM916 62l3 3l-1 3l3 4l-4 2h-4l-1-2l2-2v-5zM911 57l2-2l5 4l-3 2zM811 38l-4-2l-1 5z"/><path fill="#b4aed3" d="M844 60l-5 3l2 3l3-1l-1-1z"/></g></g><g filter="url(#db)"><circle cx="258.1" cy="58.6" r="1.0" fill="#2a2040"/><circle cx="272.1" cy="57.7" r="0.8" fill="#2a2040"/><circle cx="380.7" cy="60.1" r="0.8" fill="#2a2040"/><circle cx="429.1" cy="46.1" r="0.9" fill="#1a1020"/><circle cx="449.1" cy="60.1" r="0.8" fill="#1a1020"/><circle cx="93.7" cy="60.7" r="0.8" fill="#3a3a60"/><circle cx="294.4" cy="110.6" r="0.8" fill="#6a6aa0"/></g>
</g>
<rect x="636" y="348.9" width="512.4" height="213.4" fill="none" stroke="#a8a8a8" stroke-width="2"/>
<g><path d="M711 569L690.9 576L711 583Z" fill="#2d004b"/><path d="M1073.4 569L1093.5 576L1073.4 583Z" fill="#7f3b08"/><rect x="710.5" y="569" width="30.7" height="14" fill="#4a1d78"/><rect x="740.8" y="569" width="30.7" height="14" fill="#6b4f9b"/><rect x="771.1" y="569" width="30.7" height="14" fill="#8e82b6"/><rect x="801.4" y="569" width="30.7" height="14" fill="#b4aed3"/><rect x="831.6" y="569" width="30.7" height="14" fill="#d2d3e7"/><rect x="861.9" y="569" width="30.7" height="14" fill="#eaebf2"/><rect x="892.2" y="569" width="30.7" height="14" fill="#faeedf"/><rect x="922.5" y="569" width="30.7" height="14" fill="#fedbac"/><rect x="952.8" y="569" width="30.7" height="14" fill="#fdbc6b"/><rect x="983.1" y="569" width="30.7" height="14" fill="#e9932d"/><rect x="1013.3" y="569" width="30.7" height="14" fill="#cd700e"/><rect x="1043.6" y="569" width="30.7" height="14" fill="#a85206"/><path d="M710.5 569L1073.9 569L1093.5 576L1073.9 583L710.5 583L690.9 576Z" fill="none" stroke="#000" stroke-width="1.6" stroke-linejoin="miter"/><path d="M710.4 583v8.4" stroke="#000" stroke-width="1.9"/><path d="M771 583v8.4" stroke="#000" stroke-width="1.9"/><path d="M831.6 583v8.4" stroke="#000" stroke-width="1.9"/><path d="M892.2 583v8.4" stroke="#000" stroke-width="1.9"/><path d="M952.8 583v8.4" stroke="#000" stroke-width="1.9"/><path d="M1013.4 583v8.4" stroke="#000" stroke-width="1.9"/><path d="M1074 583v8.4" stroke="#000" stroke-width="1.9"/></g>
<g font-size="18.4px" text-anchor="middle"><text transform="translate(710 615.5) rotate(-45)" y="6.5">−3</text><text transform="translate(770.6 615.5) rotate(-45)" y="6.5">−2</text><text transform="translate(831.2 615.5) rotate(-45)" y="6.5">−1</text><text transform="translate(891 610) rotate(-45)" y="6.5">0</text><text transform="translate(951.6 610) rotate(-45)" y="6.5">1</text><text transform="translate(1012.2 610) rotate(-45)" y="6.5">2</text><text transform="translate(1072.8 610) rotate(-45)" y="6.5">3</text></g>
<g transform="translate(1196.6 348.9)" clip-path="url(#mc)">
<g filter="url(#mb)"><g fill-rule="evenodd" transform="translate(.25 .25) scale(0.5)"><path fill="#dadada" d="M464 195l2 11l8 2l39-1l11 2h22l12-2h18l9 2h16l9-2h12l-1-3l-4-3v-6l-10-18h-7l-32-9l-1 1l-13-1l-9 2h-14l-15-3l-26-1l-5 2l-3 5l-8 4l-8 12zM614 178l8 11l1 5l10 13h7l5-6l4 4l14-2l16-13l-7-5v-3l-7 5l-6-1l-1-3l-2 2l-2-5l-6-8l2-3h4l9 9l3 1l7-1l6 4l-2-4l-4-3l-16-4l-17-11l-18 1l-1 3l6 14l-1 1zM474 24l-20-1l-21-4h-26l-16 2l-44 1l-9 1l-7 2l-1-1l1-1l-4-3h-46l-1 1l-21 1l-9 4h-6l-5 2v5h16l1 1l-1 4h-16v3l11 2h29l4-1l-1-1l-12-1l-1-1l1-1h15l8-5l19-4l1 1l-8 3l5 3l14 3l21 1l9 8l3 5l9 2l1 1l-2 2l-5 1l1 7l12 13l15 5l3-6l7-8l9-2l14-7l18-1l8-4l2-6l6-6l4-15l2-2z"/><path fill="#e9e9e9" d="M924 372l3 6h4l2-3v-3zM1007 374l-4-3l-4 5l-9 5l-4 5l3 1l8-1l1-4l6-4zM1005 355l4 5v4l-2 3l4 6l8-10l-7-2zM652 120v2l6-1l5 2v4l-6 3l4 4l1 3l3 2l-2 4l3 5l-5 4l-5-1l-5-5v-4l-20 4l-1 3l4 10h6l17 11l18 5l3 4l14-3l1-6l-5-20l-16-6l1-1l32 1l3-4l3-13l-2-2l-24-7zM677 124l2-2l4 1l1-1l3 4v3l-7 3l-3-4zM157 49l3 3h9l8-3l2 2l1 5l4 2l8 1h24l5-1l2-2l16 2l15-3l8-4l8 5h18l10 4l16-3l-4-3l-17-6l1-1l-5-1l-28 1l-5-3h-14l-1-1h-17l-12 3l-2 2h-20l-1 1h-7l-8-4h-15zM905 42l9 1l14-2l-15-1l-8 1zM167 40v1l10 2l10-1l15 1l8-2v-1l-6-1h-35zM214 40l24 1l-1-3h-21zM705 37l-32 5l-14 10l7 2h7l8-9l16-4zM240 37h15v-3h-14zM193 34l1 1h34l3-2l-2-1h-32zM544 30l8 5l12 2l22-9h-28zM784 31l10 2l14-2l-10-5l-6 1zM686 25l-18-1l-20 3h34z"/><path fill="#eaebf2" d="M652 290l-8 10l-7 4l1 8l-2 3v6l4 6l5-1l9-25zM947 329l-11-12l-2-5l-4-1l-3-3l-2-10h-2l-3-3v-4l-3-4l-2 4v9l-4 5h-3l-11-7l3-8l-1 1l-11-2l-6 4l-1 5h-4l-3-2l-5 1l-9 8l-3 7h-6l-16 6l1 5l-1 7l4 7l2 7v5l-2 3l2 2h8l4-3h10l3-3l5-2l13-1l11 4l3 5l6-5l1 7h3l4 7l6 2l7-1l3 2l3-3l7-2l3-9l5-5l2-7zM839 279v1h6l19 4l7-4zM812 274l5 3l19 3l1-1l-1-2l-8-3l-2 1h-6l-4-2zM944 268l-9 4l1 1l5-1l3-2zM885 258l3 3l4 1l-4 2l2 2l7 1l7 3l3 4l-1 4l1-1l5 3h7l3-3h2l9 7h6l-6-4l-3-5l1-2l-3-1l-6-6l-16-5h-4l-6 4l-3-7zM867 252l-2 1l-10-1l-2 2l-2 7l1 9h2l1-6l4 4h2l-4-6l4-4h-6l-1-2l3-3zM784 240l3 6l6 5l9 15l6 5h5v-7l-24-23zM850 240l-6-4l-10 10l-11 5l-1 4l3 6l4 3l11 2l5-10l5-4l-4-4zM871 233l-2-4h-2l-7 6l9 3zM740 228l-1 8l1 2h2l2-4zM869 221l-9 2v3l4 2l4-3zM462 214l2 2v3l10 9v3l15 11h5l5-2l8 1l10-4h7l5 6l7-1l4 4l-2 12l2 5l7 7v4l4 10v6l-5 10v6l6 10l3 15l6 9l3 7v5l4 2l21-4l5-3l10-11l1-8l7-4l-1-12l11-8l5-6l-1-6l1-6l-3-5l-1-8l1-7l14-15l10-8l9-18v-3l-17 4l-4-2l-2-4l-12-12h-12l-9 2h-16l-9-2l-52 2l-11-2l-39 1l-7-1l-2-2v4zM603 254l6 1v6l-2 2l-5-2zM855 203l-1 3l1 9h3l6 3l-6-3l1-12zM827 200l-2-1l-3 2l2 2zM301 203l9 1l6-2l-3-2l-9-1zM271 193l9-2l8 3l3 4h8l-15-8h-6zM681 191l-2-2l1 1l-6 6l-11 8l-14 2l-4-4l-5 6l-8-1l2 2l-1 4l3 6l14-3l18-9l8-6zM857 184l-3 5l2 3l2-5zM883 160l-1 5l3 1l1-5zM539 139h-3l1 5l2-1zM914 138l-3 1v3l-3 5l-6 3l-4 5h-9l-4 3h3l3 3l3-2l-2-1l1-1l13-1l6-2v-6l3-4zM911 135l1-1l8 1l4-2v-3l-7-3h-4zM344 119l12 3l5-1l-1-4l-4-2l-4-5zM916 102v22h1l5-8l-3-3l-1-5l1-1zM495 100l-6-1l-6 3l1 5l10-1zM498 89l-3 3l1 5l8 3v3l-4 1v3l-2 1l5 1l-5 3l16-2l2-4l-3-1l-7-8l-3-1l2-4h-2l-1-3zM444 69l3 3l7 2h9l9-3l-1-3l-4-1l-3 1l-15-1zM0 60v9l6-2l15 5l7-4zM335 66l-20-9l-14 4l3 1l-2 5l-11 4l13 1l9 5l10 2l5-7zM40 61l-6 8l4 2h15l1 1l-1 3l-9 1l-4 4l4 3l6 1l2 4h10l1 1l-1 2l-16 8l7-1l17-7l9-9l2 4l8-3l26 2l6 3l9 1l11 11l4 2l6 8l5 2l-1 1l-7-1l10 6l1 4l-1 13l2 8l8 13l6 2l7 7l7 13l11 12l-8-13l-6-6l1-6l26 27v5l8 6l16 7l8-1l7 6l12 3l8 10l5 4l7 2l1-3l3-1l5 3v10l-6 10l-4 4l2 6l-3 3v4l4 4l12 23l3 3l7 3l5 5v18l-4 16v8l-5 10l-1 6l1 15l-6 8v8l4 7l12 8l12-1l-8-5l-2-4l9-12l-4-4l6-3l4-6l-3-5l7-1l3-6l10-1l2-4l-3-7l1-1l5 2l7-1l11-13l3-5l1-6l8-6l11-4l3-3l3-8l2-14l11-15l-1-8l-5-1l-11-6l-10-1l-14-6l-2-2v-4l-4-8l-7-4h-8l-9-7l-5-6h-18l-5-3l-4 2l-2-4l-4 3l-6 1l-5 6l-6-2l-5 2l-3-1l-5-6l1-11l-15-3l5-15l-9 1v3l-3 3l-10 2l-6-5l-3-7l1-13l4-5l6-3l13 1l1-3l17 2l2 2v4l3 6h3l-3-17l2-3l11-6l3-3l-1-4l6-7v-3l10-3v-4l5-4l8-2l1 1l-1 3l7-3l6-1l3-3l-2 2l-8-1l-4-3l1-5h-5l-9 5l-2-1l8-6l7-3h15l11-5l-4-5l-6-3l-13-14l-6 5l-7-1l-3-2l-1-5l-17-4l-5 1l1 1l-1 10l3 7l-5 5v5l-2 3h-3l-5-5l-1-6h-7l-8-4l-13-1l-6-6l3-8l3-3l7-4l9-2l3 4l9 1l3-2l-6-4l-8-2l4-2h7l3-2l-1-5l-9-1l-6 6l-13-6l-1-2l-5 2h-5l-2 3l-14 2l-1-1h-42l-11-4h-17l-1-1h-8l-18 3l-61-7l-14 3zM284 135l-3 3l-6-1l7-3zM295 131l-1 2l-7 1l-2-1l6-3zM271 125l10-1l4 5l-6 5l-6-4v-3zM269 124l1 1l-1 5l-6 7l-2-2v-10zM250 122l13-6l7 2l2 5l-1 1h-11zM155 113l2-1l4 2l1 3l-2 1zM234 102l2 2l2 6l-1 3l-6-5l-2-4zM198 77l-3 4l-8 2l-8-1l8-5l10-1zM157 68l10-4l6 1l3 2l-5 4h-10zM1023 60l-6-2l-20 1l-1-1l1-1l-28 1l-8-4l-13 1l-21-5h-19l-10 3l-17 1l-14-7l-10 1l-24-1l-1-1l2-1l-1-5l-17-2l-6-3l-7 1l-7 3l-35 3l-17 4l-1 1l5 5l-3 3l-4-1l-5-4h-8l-4 4l2 6l-2 4l-4 3l-2-1l3-3l-3-3v-8l-6-4h-8l-1 6l4 6l-1 1l-22-4l-8 4h-14l-14 2l-3 2h-2l-2-3h-3l-1 5h-6l-4 2l-2 3l-6-1l-1 3l-6-1l-5-7l3-1l14 2l4-1l-1-3l-14-4l-15-1l-1-1l1-1l-6-2l-15 1l-22 6l-12 11l-16 7l-1 6l3 4h7l3-2h3l7 10l7-1l8-10l-3-4l1-4l10-6l3-4l8 1l-2 3l-8 5v5l2 2l20-1l2 2l-6 2h-11l1 5l-8 1l-1 5l-4 3l-5-1l-8 2h-13l-3-3l2-3v-4l-5 1l-1 10l-9 1l-5 6l-8 5h-6l1 1l-2 2h-7l5 2l5 7l-3 5l-20 1l1 3l-2 9l2 5l4-1l5 4l-3 6l-9 9l6-3l26 1l15 3h14l14-2l-4-3l-7-1l-5-3l-2-3v-3l2-3l-1-1l-24 1l-12 5l-9-2l-1-1l4-3h7l5-5l-1-3l4-4l4-1l2-5l2-1l7 1l5-3h3l6 6l10 5l3 3l-1 4l-8 1l7 2v-2l4-2l1-2l-2-2l2-2l4 1l-13-7l-5-7l5-2l8 7l6 2l2 2l1 5l5 6v2l4 2l2-2l-2-6l3-1l-2-2l13-2l-1-4l9-11h7l1 2l-2 2l2 2l6-2l-2-2l1-2l10-2l1 1l-5 4v2l10 4l2 2l-1 4l-13 1l-5-3h-4l-6 3l-4-1l-3 1l-1 2l-6 1l1 1l-1 3l4 5l3 1l5-2l5 2l5-1l6 1l-3 11l-3 4l-9-1l-1 1h-10l-12-4l-7 1l-2 3l32 9l8-1l1 1v-2l2-1l2 4l13 1l-6-16l2-2l11-1l-4-10l2-4l18-4l3 1l-7-11l1-6l3-1l3-5l19-2l18 1l20 6l3 3v3l-3 10l-4 5l-32-1l12 3l4 3l5 20v5l-2 2l-13 3l1 3h21l10 7l-2 2l3 3l6-1l2 13l3 4l1 5l8 16l7-7l1-6l-1-7l15-13l3-1l3-4l8-1l4-2l8 10l1 7l-1 1l3 1l2-3h3l2 2v5l2 4v15l4 3l4 11l5 4h2l-3-10l-6-6l-4-8l2-7l2-3l1 2l4 1l2 4l5 3l1 3l6-6l5-2l-1-9l-8-10v-3l7-7l1 1l1-1l3 3l1-2l13-3l6-3l8-8l4-7l1-8l-7-8v-2l8-5l-9-1l-3-4l10-6l2 4l7-2l2 2v4l4 1v9l7-2l1-3l-5-10l10-9h6l5-2l11-10l4-2v-7l3-5l-1-2l-9-2l-6-3l7-4l8-7l6-3l28 1l5-1l7-7h11l7-2l1 2l-2 2l-10 5l-10 8l-1 9l3 7l5-6h4l8-8l1-5l9-7l8 1l17-7l12-1l-5-5l6-1zM825 98l-2 5l-9 6l-4 1l-2-1l6-3l9-9zM606 82l-4 4l-5-1l7-5z"/><path fill="#faeedf" d="M848 350l2 2l3-1l-1-2zM336 349l8 6h2l-3-4zM905 354v2h3l2 5l4 3l7-2l2-4l4-2v-2l-3-3h-2l-3 4l-3-6l-4 4l-4-5h-1l1 4zM905 348l-3-1l-6 3l2 4zM863 351l-3-4l-3 4zM310 346h-2l-1 6l4-1zM934 345h-3l-2 2l1 11l-3 3l3 2h2l-2-5l7-8v-2zM895 327l-1 3l-2 1v4l4 4l3-1l4 4v3l4-2l3-3l-2-1l-4 1l-2-2l-2 1l-2-4l-4-3l5-1v-3zM917 322h-3v2l-3 3l2 1zM560 339l3 7l3-2l6 5v4l19-4l-1-1l2-2h3l8-10h-2l-2 3l-2-1l-1-3l2-3v-4h-3l-2 4l-2-1l-11 1l-2-2l-2 2h-5l-4-4l3-4v-2h-2l-4 3l-1 4l1 7l-2 3l-1-1zM907 320l-4 4l1 5l4-5zM857 321l-2-1l-4 4l1 1l5-1zM582 321l3 3l2-1l-3-3zM848 317h-4l1 3l-3 3l-3-1l-2 3h-2v5l4 7l2 7l-1 6l1 3l4-2v-4l6-5l1-3l-4-2v2l-2 1l-2-4l1-3l4-1v-3l-2-2l1-4l-3-2v-2zM610 307l-6-1v2l-10 11h-5v1l10 3l-1-4l4-3l1-4l6-2zM642 304l-4 3l-1 6l4-1l7 6l1-2l-1-5l-3 2h-3l-2-2l1-4l2-1zM586 301h-4l-1 6l-4 1l-4 6l-5-1l-1 3h3l7 3l-2-2l1-3l6 2l5-5zM618 294l-2 4l1 1l3-2zM627 293h-3v3l2 3l-4 3h2l3-4zM652 290l-3 4l4 3zM884 291l1 3l3 1l1 2h3l-1-3l2-3l-1-2h-4zM917 287l-2 4v3l2 2l3-5zM346 308l4 5l4-3l5 3l2-5l5 1l6 4l6-3h6l1 2l3-7l6-1l1-4h5l1-2l-4-1l-3 1l-2 3l-4-1l-6 5h-3l-2-3l1-1l-1-3l3-1l1-2l-1-2h-2v3l-3 1l-6-3l1-2l-1-5h-2l-8 7l-8-6l-2 4l2-1l5 5l2-1l3 2l4-1l4 1l5 7l-3 2l-2-4l-3-1l-1 4l-2-4l-6-3l-5 5h-4zM617 286l-6 3l1 2l-1 4l-3 2l1 3h2l4-6v-5zM569 284v3l7 2l4 4l5-2l-2-5l-9-3l-3 2zM603 280l-1 8l3-3v-3zM552 280l1 4l-2 1v5l-5 11l3-5l3 1l-4 9l3 2l-1 5h4l2 2l-3 6l2-3l3 2l-2 3h-2v2h4l3-2l-3-3l1-5l-7-7l5-3l5 1l1 3l2-1l-3-6l-7-1l-2-2l3-3l-4-1v-3l3-4l2 2l2 7l2-1l1-4l-4-3l2-2v-3l-3-1l-2-3zM388 280l-1 2l4 3l-2 5l2 1l4-5l-4-1zM845 279l1 2l14 2l3-2l3 2l3-2v-1l-8-1l-9 1zM615 279h-3l-1 3l2 1zM341 278h-3v3l-2 2l1 2v-3l2-2l4 3zM925 278l8 6h4l-6-8h-3zM921 278h-3l-2-2l-4 4h7zM891 266l7 2l-1-4zM288 260l-2 4l-4 1l1 2l-2 3l3 3l-2-2l3-3l2 1l-1-5l3-2zM886 258l2 3l4-1l-1-2zM834 249l-2 2l1 4l-3 2l-1 6h5l3 2l1-5l3-1l-2-5l2-2zM829 248l-7 4v3l3 4zM359 247l-2-2l-7 2v2h9zM488 235l-5 3l4 3zM795 229l-1 3l1 2h2zM627 250l-3-3v-4l-6 1l-1-5l-4 1l-2-2v-9l-6 1l-1 2l1 3l-4 1l-6 5h-2l-4-6l-5 1l-7-4v3l3 3l-1 2l-11-1l-6 3l-8-1l-4 2l1 4l-2 2l-4-2l1 5l5 2h6l3 2l1 2l-5 5l1 5l-2 2l-3-2l-2 3l8 1l3 4l4-6l1-9l1-1l4 2l5-1l1-2l4 7l3 1l4-2l1 2l-2 2l3 1l3 4l6-5l1 5l2 1l5-5l-1-2l-7-1l2-2l5-1l-4-3v-6l6-1l1 4h3l8 5l2 3h2l2-3l-2-3v-6zM596 262l2-3l2 1l-2 3zM578 247l3-2l2 2l5 1l2 6l-5 2zM630 224l3 3v3h4l-2-4zM546 223l1 4l4-3v-1zM312 223l-2 1l3 3l2 7l-3 5h-3l3 2l-4 8l-2 1l-4-5l-7 1h3l1 2l-3 3l-4-3l-4 4v3l3-2l4 2l-1 5l4 7l-2 5l3 3l-3 5l-1 5l-4 1l1 2l1-1l2 1v6l2 1v2l2 2l1-3l4-1l3 6l8 2l2 2l4-2l5 5l-3 4l-8-1l-3 2l1 4l-1 6l2 2l-2 14l1 15l-4 2l1 5l-5 3v4l-2 2l-1-4v6l3 2l-1 12l2 2v5l2 4l-8 5l2 3l7 5l6 2l1-1l-1-13l6-4l3-4l-4-4l6-3l4-6l-2-3l-1 2l-2-2l-6-1l1-20l2-3l-1-6l2-2l3 3l1-1l-3-6l1-3l2-2l6 5v3l8-1l1 3l5-5l2 2v5l4 2l4-3v-4l-5-2v-2l3-3l-1-14l-1-1h-10l-1-1l1-5l-3-3l-7-1l5-6h3l2-3l-4 1l-5-5v-7l-3-3v-3l3-2l-1-5l2-2v-3l-7-6l-2-3v-3l5-1l1 5l2 3h2l4-5l2-6l-3-2l-2-8l-2-1l-2 4l5 6v2l-3 2l-2-4h-3l-6 5l-4-5l1-8l3-2h-3l-5-5l5-7h3v-3l-2-2h-4zM320 378l3 1l-1 6l-3-2zM345 328l1-1l3 3l-3 1zM339 325l2 1l-1 4l-3-1zM325 325l1 4l-4 4l-2-4zM325 318l4 4l-2 3l-4-2v-3zM328 281l1 4l-2 1l-2 4h-2l-2-3l5-6zM314 244l3 2l1 4l-1 2l-4-3zM513 222h-3l-3 8l4-2zM308 222l-1 2h-7l4 3h3zM595 221l3 4l5 2l2-1v-2h-3l-6-4zM609 219v4l6-1v-3zM480 209l2 6l-4 2l1 4l6-1l2-2h6v-2l-3-3l1-4zM609 211l2 3l7-2l2 1l4-1l2 4l5 4l2-1l-11-11h-5zM783 202l6-3l-6-1zM749 194l-6 3l-4-1l-3 6l-4-3v3l2 2l-3 4l3 6l-4 4l6-2l3 5l1-8l-2-3l4-1l3-4h3l4-4l-1-1l1-3zM733 205l3-1l2 5l-1 1l-3-1zM678 192l-9 8l2 2v3l5-4l3-5zM276 191v1l4-1l3 2h3v-2l-2-1zM791 190l-3-1l-2 5h2zM752 186l-2 3l-1-1l-2 1l1 3l2-1zM204 184l8 8l3 6l7 6l1-5l-1-2l3-3l5 6h3l4 4l4 1l5 6h12l9 4v-4l-8-1l2-8l-3-2v-4h-3v3l-3 3l-10 2l-6-5l-3-7v-4l-11 4l-2-2v-3l-3 3l2 3l-2 2l-3-2l1-9l-2-3h-2l-1 2l-4-1zM791 164l-4 1l-4 13l1 5h4l2-3l-1-4l-3-1l7-1l2-3l-7-1l-1-2l5-3zM548 164l3 4l7-1l-3-3l-1 2l-3-3zM541 161l2 2l3-1l-2-2zM513 159v3l4 5l16 2l1-4h-4l-2-2l-7 4l-4-1l-2-2l1-5zM770 158l2 4h8l-2-3l-4-2l4-2l-1-1h-4zM902 151l-3 3v3l4-1zM684 147l3 1l4 5l-1-3l4-4l4 2l2-3h-13zM162 146l3 4l4 1l1 6h5l1 3l7 5l-1 3l5 7l1-1l-4-5l2-4l6 6l3-2l2 2l1 6l3-1l1-4l3-3l11-1l-1-4l1-3l-4-2v-8l-2 1l-3-1l-4 2l1 4l-3 3l1 7l-2 2l-5-4l-2-4h-3l-1-3l4-3v-4h-4l-2 3l-2-1v-5l-2-2v-3l5-1v-2l-5-3l-6 2l-2 7l-6-1zM710 135l-3 9l5 1l3 3l-1 2l-3 1l2 2v4l2 1l1 4l2-2l3 1l4-1l5 4l7 3l4 6h7l2-2l1 1l-1 2l21 3l4 4l4-1l-3-3l3-4h3l-1-3h-2l-3 3l-4-8h-3l-6-4l-4 3l-6-3l-1-6l4-5l3-1v-4h-7l-4-8l-4-1l2 2v3l-2 2l-3-3l-6 3l-6-1l-5-3h-5l-5-4zM749 151l2 2l-3 3l-2-2zM744 144l2-1l2 3l-3 1zM913 127l-1 4l2 3l4 1l6-2v-3l-7-3zM652 141l-6-9l-5 2l-3-3l1-3l-1-1l-3 5l-6 1l1 1l-1 4l-13 1l-4-2l2 7l-1 4l-3 2l-3-2l1-4l-6-6l-1 1l-3-1l-2 2l1 2l3-1l2 2v2l-5 4l7 3l10-1l1 1l-1 6l2 4l5 4l-1-4l4-2l1-2v-4l-2-4l1-6l4 1l4-2l15-2l2-2zM619 152l4-1l1 3l-3 2zM616 147l1-1l3 4l-2 1zM820 119v2h4v-2l-2-1zM846 112l-3 1l-1 5l-3-1l1 5l2-3l3 3l-1 3l-6 3l-2-2v-4l-4-2l-1 3l1 2l-6 1l1 4l-6 3l-5 6l-8-3v-3l2-1v-3l-2-2l-6-1l-3 5l4 2l3 6l4 1l3-2l2 2l-7 5l-5 6l-2-1l-2-6l-6-4l-2-6l-4 2l2 4l-2 6l2 3l-1 4l3 3h2l3 3v4l6 4v4l-2 2l-2-3l2 6l-4 4l4 1v-3l2-2l4 1l-3 10l-4 5l-3 1v2l5 5l4-1l2 2l5 1v-3l8-6l1 1l-1-1l1-1l2 1l1 3l4-4l3-1l3 1l1-2l-4-3l2-3l-3-3v-2l4-2l2 3l-1 4h2l-2-7l1-5l9 1l4 5l-2 4l3 1l3-3v-8l2-1l-3-1l-5 1l-1-2l4-3v-4l3-3l-2-4l8-5l-9-1l-3-4l10-6l2 4l5-1l1-6l-3-5l-3 4h-5l-3-6l-6-1l1-2l4-2l-3-4zM811 174l4 6l-1 2l-4-4zM807 169l2-2l3 1l-1 2zM843 138l-1 3l1 2l-2 2l-5-2l-1 1l1 2l-2 2l-2-1v-3l-5-4l-3 2l-2 4l-4 1l-3-1v-2l7-8l7 1l3-3l-1-3l1-1h3l1 3l5 2zM344 119l12 3l5-1l-1-4l-4-2l-4-5zM898 109l-3-1l-1 2l-1-1l-3 2l-5-2l-3 6l-2-2h-5l-2-3l-3 1l-1 2l-4-2l-3 2l-5-1l-2 2h-2l-2-4l-1 1l4 4l5-2l6 2l2 5l-6 1v4l3 4h4l5 4l6-8h3l5 3l2-2l-1-6l1-4l9-4zM874 114l2 3l-3 3l-2-3zM916 102v22h1l5-8l-3-3l-1-5l1-1zM498 89l-3 3l1 5l8 3v3l-4 1l1 2l-3 2l5 1l-5 3l16-2l2-4l-3-1l-7-8l-3-1l2-4h-2l-1-3zM469 68l-2-1l1 3l-5 2l4 1l2-2zM0 60v9l6-2l15 5l7-4zM1023 60l-6-2l-23 1l-2 2h-4l-4 2l-12-1l-6 4l-8 1l-2-2l-2 1l-2-1l1-5l-1-1l-7 9l-7-1h4l2 2l-8 4l-7 7h-6l-9 4l-4-1l-4 4l-5-1l-5 1l-5 3l-4-1l-5 1l-1 4l5-2l10 11l7 2v-2l-5-3l21-14l28 1l5-1l7-7h11l7-2l1 2l-2 2l-10 5l-10 8l-1 9l2 5l6-4h4l8-8l1-5l9-7l8 1l17-7l12-1l-5-5l6-1zM335 66l-20-9l-14 4l3 1l-2 5l-11 4l13 1l9 5l10 2l5-7zM34 69l4 2h15l1 1l-1 3l-9 1l-4 3l4 4l19 1l4 2h8l4-4l1 3l2 1l7-3l26 2l6 3l9 1l11 11l4 2l6 8l5 2l-1 1l-7-1l7 2l3 4v3h3l2 2l3 7l8 1l2 2l-2 4h2l3-7h4l2 4l6 2l2-2h3l-2-1v-2l10-10v-3l2-2l3 4h4l3 4l1-2l-5-3l1-4l9 1l2 2l-1 1l1 3l7-2l2 2l-2 3h-2l-3 3h-6l2 4l-3 2l1 3l-2 2h-8v2l8 4l-1 11l1 2l3 1l1 3l4 2l1 5l-2 3l3 4l-6 4l4 3l-1 2l2 2l7-5v-2l-3-3l5-5h2l1 2l5-3l13 1l1-3l17 2l2 2v4l3 6h3l-3-17l2-3l11-6l3-3l-1-4l6-7v-3l10-3v-4l5-4l8-2l1 4l6-3l6-1l3-3l-2 2l-8-1l-4-3l1-5h-5l-9 5l-2-1l8-6l7-3h15l11-5l-4-5l-6-3l-13-14l-6 5l-7-1l-3-2l-1-5l-17-4l-5 1l1 1l-1 10l3 7l-5 5v5l-2 3h-3l-5-5l-1-6h-7l-8-4h-9l-3 2l-2-1l-1-4l-4-4l2-7l-3-2v-5l3-2l10 2l10-3l3 4l5 1l5-4l-12-4l4-2h7l3-2l-1-5l-9-1l-6 6l-13-6l-1-2l-5 2h-5l-2 3l-9 2l-48-1l-11-4h-9l-1 5l2 2l6-1l8 3l-5 4h-10l-6-5l1-8l-4-1h-8l-15 3l-9-1l-2 3l-4-2l1-2l-16-1v6l-5 3l-3-2v-3l3-5l-11-1l3 2l1 4l-2 1l-2 4h-2l-2-2v-3l-3-1l-4-6l-7-1l-9 2l-3 2l1 3l-1 2l-6 4l-2-2l3-2l-5-1l2-2l-5 2zM229 170l3-1l1 2l-2 2zM272 152l1 3l-3 2l-1-2zM235 144l3 1l-1 3l1 3l2-1l3 1l4-3l2 1l2 7l-3 5l-2-4l-3-2l-2 2l-5 1l-2-1l-1-11zM259 146l3-3l2 1l-2 3zM242 143l2-2l2 3l-3 1zM284 135l-3 3l-6-1l7-3zM295 131l-1 2l-7 1l-2-1l6-3zM244 129l2-3l4 2l-3 2zM271 125l10-1l4 5l-6 5l-6-4v-3zM262 124h7l2 4l-2 6l-6 3l-5-3l3-3zM250 122l13-6l7 2l2 5l-1 1h-11zM155 113l2-1l4 2l1 3l-2 1zM234 102l2 2l2 6l-1 3l-6-5l-2-4zM216 79l4 6l-5 3l-1-8zM220 77l2-2l2 3l-3 1zM235 71l2 4l-2 2h-3l-2-3zM235 70l6-1l1 3l-4 2zM232 65l1 4l-3 3l-2-2v-3zM198 78l-3 3l-11 2l-3 6h-4l-3 3h-2l-1-7h-2l-2 3l-3 1l-1-2l2-4l-5 3l-5-5h-4l-4-4v-2l7-1l2 4l4-1l7-5l5 5l2-4l8-1l1-1l-1-4l4-2l5 4l-2 7l2-1l3 2l3-1zM136 64l3 2l-1 5l3 1l-2 4h-2l-3-3v-7zM99 63l1-1l5 1l1 3l-5 1zM121 65l2-4h5l3 3l-2 2zM69 58l1 5l-2 2h-3l-2-4zM925 50l2 4l6 1l2-2l-3-2zM811 42l-1 1l3 4l-1 1l4 1l1-2zM827 39l2 6l2 1l-2 1h2l1-5l-3-3zM818 111l-3-3l-5 2l-2-1l4-2l1-8l-2-2v-3l-2-2l-7-2l-4-4v-4l-2-1v-3l-4-3l2-2l5 2l2-3h-10l-2-2l1-2l3-1l-7-12v-6l2-2v-8l-27 3l-17 4l-1 1l5 5l-3 3l-4-1l-5-4h-8l-4 4l2 6l-2 4l-4 3l-2-1l3-3l-3-3v-8l-6-4h-8l-1 6l4 6l-1 1l-22-4l-8 4h-14l-14 2l-3 2h-2l-2-3h-3l-1 5h-6l-4 2l-2 3l-6-1l-1 3l-6-1l-5-7l3-1l14 2l4-1l-1-3l-14-4l-15-1l-1-1l1-1l-6-2h-10l-4 2l-15 2l-8 3l-12 11l-16 7l-1 6l3 4h7l3-2h3l7 10l7-1l8-10l-3-4l1-4l10-6l3-4h7l1 2l-10 7v5l2 2l20-1l2 2l-1 1l-16 1l1 5l-8 1l-1 5l-4 3l-5-1l-8 2h-13l-3-3l2-3v-4l-6 2l1 8l-10 2l-6 6l4 5v2l-6 6l-4-2v-4l3-5l-4 3h-6l1 1l-2 2h-7l5 2l5 6l-1 4l-2 2h-14l-5 6v5l-2 2l12 1l2 3l5 1l-1-1l1-2l7-3l1 1l-1-3l4-4l4-1l2-5l2-1l3 1l3-3l4 2l5-3l6 7l10 5l3 3v3l-2 1h2l3-3l-2-2l2-2l4 1l-13-7l-5-7l3-2h2l8 7l6 2l4 6l5 2l6-3l1-2l10-1l-6-7v-3l2-3l-2-2v-3l1-1l5 1l1-2l-2-4l2-2l12 2l3-4l5 2l1 8l4-4l7 2l8-2l6 3l2 3l6 1l7-6l6 1l4-2l2 3h2l4-4l1 1l11-1l3 3l3-1l26 1l2-2l18 1l2-2h3l6 4l5-1l1 1l-1 6l3-5h3l3 5h3l3 3l2 6l-2 2v3l-5 4l3 1v3l4-5l6-3l2-7l3 2l-2 2l2 1l1-1l-1-2l2-2l5 2l2-4l6 1l-1-3l4-6h4l7-3l4 4l2-7zM506 120l1-2l5 1l-2 2zM553 117l4-1l2 3l-4 2zM536 117l2-2h6l3 2v2l-8 2zM565 114l-4 3l-2-1l4-3zM527 111l9 6l-1 10l-4-3l-1-6l-4-3zM538 112l2-3l5 1l-2 3zM574 109l1-1l6 1l1 1l-1 5l-3 2h-4l-2-2l2-2zM606 82l-4 4l-5-1l7-5z"/><path fill="#fedbac" d="M304 405l5 5l4 1l1-2l-1-4l-2 1l-4-3zM590 338l-4-2l-3 6l-4-2h-7l-1 5l8 1l2 3l5 2l1-1l-1-7zM317 314l-3 5l1 12l-2 7l1 20l2 6l-2 2l-6-1l-2 3l2 13l-2 5l2 3v3l4 2h4l1-2l-1-2l2-5l-1-4l-6-4l1-1l2 1l3-4l-1-3l3-6l-1-7l3-8l-1-2l1-13l-2-5v-5l2-4l-1-4zM326 313v2l2 1l4 8v3h2l-1-5l3-3h2l5 5h2l-14-13zM303 273l-1 4l3 1l1-4zM313 271l-4 3l1 4l-2 3l2 4l5 1l6-10l-6-5zM317 264l2 3l4-1l-4-3zM604 250l-2 2v4l1-2h2zM606 245l1 3l6-1l2 3h2v-2l-4-1l-1-4l-2 3zM588 244l4 2l4-1v-2l-5 2l-2-2zM552 251l6 1l3 3l10 3l-1-3l4-1v-8l-2-2l-4 1l-4-2l-1 1l1 2l-2 2l-4-4l1 4l-4 3zM228 194l11 9l4 1l6 5l10 1l2-6l-4-1l-1-2l-14 3l-6-5l-3-5l-3-1zM825 161l-2 2l2 5v5l4 2l1-4l-3-2l1-8zM728 159l2 4l12 6l21 3l2-2v-2l-5-1l-7-4l-2-3l-3 1l-15-3zM286 155h-2l-6 7l1 5l8-10zM256 148l-4 6h3l1 3l-5 4v2l6 6l14 1l-2-2l-4 2l-5-3v-2l4-3l4 2l2-4l-8-8h-5l-1-1l1-3zM258 160l2 2l-1 3l-3-2zM859 150l-9-1l-2-3h-3l-3 3h-4l-2 2v3l2 2l-2 5l6 3h3l1-3l-2-10l6-1l2 2h4zM709 138l-1 5l6 2l6 6l-1 2h2l1-3l11 2l3 2l5-3v-2l-7-5l-6-1l-4-3h-6l-4-3zM548 137h3l4 4l6-2l-9-4h-3zM297 147l-2-3l-3 2l-2-1v-2l3-3l-1-1l-2 1l-1-5l-2-1l-4 6l-8-3l2-1l-5 1l2 6l-2 2l-2-1v1l3-1l3 2h4v-4l2-1l2 3l7 4l2-2l3 2zM649 137l-7-1l-5-3l-2 1l-2-1l-3 1v3l-4 2h-10l-3-2v2l3 3l14 1l5-2h5l2-2h3l1-2zM253 132l-2 1l1 10l4-4l3 1l1-1l-4-2l-3-3zM238 135h-7l-6-3l1 3l-4 2l-3 4l3 13l6-1l3-3l1-13l3-1l4 2zM514 138l-4-1l-3-6l-3 1l1 3l-2 2l-6-1l-3 4l-2 1l-2-1v2l5 2l5-2l3 3l8-3zM913 127v4l2 3h2l3-3h4l-7-4zM539 123l2 5l7 2l-6-7zM507 124l1 1l1-1l3 4l6-1l-6-4zM548 123l1 2h2l8 7l10 3v-3l2-3l-4-6l-6-1l-1 2h-4l-4-3zM344 119l14 3l-1-2l2-1v-3l-3-1l-4-5zM916 102v22l3-2v-13l-1-5zM572 94v4l2 1l7-1l-4-4l2-1l-1-1h-3zM525 107l6 1l4-3l3 1l2-3l2 4l5 1l4-4l5 2l4-4h3l2-2l2 1l-2-1l-10 2h-13l-4-3l3-3v-4l-6 2l1 8l-5 4l-4-1zM502 89l-5 1l-1 5l1 2l7-5l-2-1zM210 97l1 5l4-6l2 3l-3 3l-1 3l1 1l15 2l1-8l4-4h4l2 2v2l-3 3l1 9l-2 1l-4-4l-2 4l-4-1l-1 3l2 2l6-1l4 4l3 1v4l4-2h5l10 4l3-3l11-1l8 1l3 3h4l3-3l7 2l1 4l6 3h4l12-6l6 1l11-2l2-2l-2 2h-4l-8-4l1-5h-5l-9 5l-2-1l8-6l7-3h15l11-5l-4-5l-6-3l-13-14l-6 5l-7-1l-3-2l-1-5l-17-4l-5 1l1 1l-1 10l3 7l-5 5v5l-2 3h-3l-5-5v-3l-2-2l-6-1l-6-3l-18 4l-2-3l-4-2l4-3l-1-7l-7-7l-4 1l-5-2l-5 10l3 6h2l3 3l-1 3h-8l-1-2l2-4l-4 1l-2-2l-2 1l-3-2l1 4zM250 122l13-6l7 2l2 5l-1 1h-11zM34 69l4 2h15l1 1l-1 3l-9 1l-4 3l4 4h21l7 2l10-4l5 3l2-1l19 2l5-1l8 4l9 1l2 2l1-1l6 5v3l3 1l10 11l10 5v2l-2 1l4 3l2 4l8 3h7l4-5l-1-2l1-4l6 6v-3l-4-5l3-3l9-1l1 2l-3 2l-1 3l-2-1l2 2l-1 8h1v-3l4-3l-1-7l8-5l1 1l2-1v-1l-9 1l-2-2l2-4l-1-5l2-2h4l1-2l-3-2l-5 2l-1-3l-5-4l-2 2h-5l-4 3h-3v5l-3 2l-4-3l-8-2l-4-6l-9-5l-6-5l-8 1l-2-2l-4 1l-2-2l-8-2l-2-3h-3l-2-3l-4-2l-4 4h-3l-2-2l-6 1l-4-2h-3l-5 3l-7-1l-5-3l-8 1l-3-2l-9 1l-4 3l-8-3l-1-3zM177 101l1 1l-3 3l-1-2zM192 73l8 4l4-1l2 2l6-3l4 1l-3-3l2-2l9-2l1-2l-2-2l2-2l-2-1h-26l-5 4l2 1zM199 67l10-2l4 8l-4 1l-3-2h-3l-3 2l-2-2zM0 60v9l4-2l9 3h10l5-2zM1023 60l-6-2h-11l-5 2h-6l-10 4l-6 1l-9-1l-6 4l-13 2l-2 3l-7 1l-14 8h-7l-3 2l-8 1l-3 3l-3-1l-12 4l-2 3l5 6l3 1l12-10l9-5l28 1l5-1l7-7h11l7-2l1 2l-2 2l-10 5l-10 8l-1 8l1 4l2-1l3 1l2-2h4l8-8l1-5l9-7l4 1l7-1l14-6l12-1l-5-5l6-1zM153 58l-2 1l-1 3l-3-1l-4 1l-2 4l1 1l4-1l1 3l3 2l2-5l-1-5zM335 66l-20-9l-14 4l3 1l-2 5l-8 3l10 2l9 5l6 1l-1-2l2-2l6 1zM235 62l3 5h4l9 5l14-1l2 3l9-2l-2-2l-7-1l-1-1l1-1l10-1l3-2l-1-5l-9-1l-6 6l-13-6l-1-2l-5 2h-5l-2 3zM811 103v-3l-3-3v-4l-5-1l-7-6v-2l-3 1l-3-3l2-5l-3-4l-3-1l2-10l-4-6v-4l-3-2l1-10l-20 2l-3 6v3l-2 2l-2-2l-1-7l-11 3l5 5l-3 3l-4-1l-5-4h-8v3l-3 3l1 4l-2 4l-4 3l-2-1l3-3l-3-3v-8l-6-4l-3 2l-6 1v3l4 6l-1 1l-22-4l-8 4h-14l-14 2l-3 2h-2l-2-3h-3l-1 5h-6l-4 2l-2 3l-6-1l-1 3l-6-1l-5-7l3-1l14 2l4-1l-1-3l-14-4l-15-1l-1-1l1-1h-4l-3 2l-4-2h-6l-2 5l-3-2l-3 1l-5-2h-5l-2 4l-5 1l-2-1l-7 7l2 3l-2 3l1 5l-1 2l-6-4l-8 1l-2-2l-3 2l1 1l-1 5l4 4l10-2l7 10l7-1l8-10l-3-2l1-6l10-6l3-4l6-3l4 6l-4 4l-1-1l-5 1v4l2 2l-2 3l14-1l-1-4l-7-2l6-3v-3l4-2l1 1l-1 4l1 9h3l2 2l-6 2h-11l1 5h3l2-3l7-2l1 1l-2 4l5 1l-2 4l-5-1l-1 6l-4 4h-2l3 4l5-2l1-4l4 3h9l4-6l3 7h5l5 5h4l2-2l5-1l1 2l4 2h5l7-8l3 2l-1 2h-2v2l3 1l3-2h4l2-3l3 1l-1 2l2 2l16-2l5-2h3l1 4h2l1-2l3 2l18 1l3-2l6 1l3-2l3 2h5l2-2h4l4 2h9l4 2l1-1l4 1l4 4l1 5l2 1l2-3l3 6l1-5h5l3 4l2-3v-4l3-3h4l3-2l2 3h3l6-4h3v-3l-2-2zM667 102l3 3l-1 3l-3-1zM602 93l4-1l2 2v3l-3 2zM606 82l-4 4l-5-1l7-5zM617 76l1 3l-3 2l-1-3z"/><path fill="#fdbc6b" d="M315 384l-6 3l3 1l3-2zM318 330l-3 2l-1 6l2 18l4-7l-1-5l1-10zM318 318l-3 2l2 7l2-5zM247 203l2 4l3 2l6-3l-5-4zM731 160v2l8 3l3 3l20 2l-1-2l-7-3l-3-3l-8-2zM223 143v2l6-1l-1-2zM709 138l-1 3l5 2l6 5l9 2l5-1l3 2l2-1l-5-5h-4l-4-3h-6zM638 135h-8v2l-4 2h-10l-1-1l2 3l13 1l3-3l5 1zM914 127l1 5h2l1-4zM563 124l-1 3l3 2v-4zM358 115h-2l-4-5l-8 9l9 2l5-4zM192 107v3l4-1l-1-2zM916 102v22l2-1v-15zM644 101h-6l-3 2v2l4 2l2 4l5-4zM181 96v3l3-3l3 2v7l-2 2v3l3-2v-3l4-4l-6-5l-3 1zM549 84l-3 3v3l5 4v3h2l-1-7zM231 80l-3 4v5l4 4h4l2-4l-6-1l3-5l-1-2zM238 113l1 3l6 2l3 3h4l11-5l7 2l1 2l4-2l5 4l6-1l2 2l9 1l5 5l9 1l7-1l6-3l9-1h-3l-4-3l1-5h-5l-10 5l-1-1l8-6l7-3h15l11-5l-4-5l-6-3l-13-14l-6 5l-7-1l-3-2l-1-5l-9-3l-8-1l-3 1l-1-1l-1 1l1 1l-1 10l3 7l-5 5v5l-2 3h-3l-11-10l-4 1l-7-3l-10 5l-4-1l-4 1zM557 69l3 4h2l-3-5zM34 69l4 2h15l1 1l-1 3l-11 2l-2 2l2 3l31 1l3-1l1-4l10 2l1 2l14 2l7-1l8 1l1-1l2 3l5 1l2 2h3l3-2l21 22l6 3l4 5l2 6l8 3l3-1l2 1l2-2v-3l-2-2l1-3l-2-2l-1-5h-2l-4-5h-2l-6-6l-2-7l-13-9h-9l-3-2h-5l-14-7l-10 1l-7-4l-1 1l-8-1l-3 3l-5-2h-3l-2 2l-1-1l-4 1l-2-3l-3 2l-3-3l-13-1l-2 2l-12-2zM570 63v3l2 1l1-3zM219 62l-5 1l1 5zM0 61v7l6-1l8 3l11-3l-23-7zM613 59v2l6 6l9-1l-3-1l-4-4zM1023 60l-6-2h-6l-10 3h-5l-4 3h-5l-5 2l-2 4h-2l-2-4l-5-1l-11 6h-4l-11 5l-6 1l-12 7l-12 1l-8 4h-8l-6 3l-1 4l4 3h4l10-8l9-5l28 1l5-1l7-7h11l7-2l1 2l-2 2l-10 5l-10 8l-1 8l1 2l6 1l5-1l8-8l1-5l9-7h3l2-2l5 1l4-2l8-1l3-2l12-1l-5-5l6-1zM582 58l3 5l8 4l6 1l2-3l4-1l-3-3l-11-1l-7-3zM297 69l12 6h5l9-3l4 2l8-8l-20-9l-14 4h2l1 2l-3 5zM239 59l1 1l-1 2l5 5l16 5l14-1v-1l-8-2l4-2h7l3-2l-1-5l-9-1l-6 6l-13-6l-1-2zM808 104l-3-10l-1 3l-3 2l-2-4l-5 1l-3-3l-1-3l3-2l-1-1l-6 5l-6-5v-4l2-3v-5l4-12h-2l-2 3l-3-4v-8h-2l1 2l-1 2l-2-2l-1-4l5-5l-1-6h-4l-2 4l-5 1l-3 3v2l-6 4l-14 1l-9-6h-4l1 4l-7 4l1 2l-2 4l-4 3l-2-1l3-3l-3-3v-3l-4-3l-1-4l-7 4l-3-1l4 7l-1 1l-22-4l-8 4h-14l-14 2l-3 2h-2l-2-3h-3l-1 5l-8 1l1 3l-5 3l1 3h2l1-5l4 1l2 3l4-1l1 3l-5 5h-7l-5-2l-3 6l-5-2v2l-3 1l-3-3v-3l3-5l4-3l-6-3l-2 3v3l-3 2l1 4l-8 4l12 3l7 9l1 7l3-2l5 4h4l1-6l-2-3l2-2l3-1l7 2l2-3h4l5-7l3 2l-2 3l1 1l2-2h3l3 4l2-1l-1-4l3-5l1-5l3-1l3 4l4 1l-3 4l-4 2v9l6 6l8 2l2-2l5 1l3-2l4 4l7-1l3 4l5 1l4-2l5 1l5-3l7 2l4-2h4l6-5h4l3 4v3l5-1l10 10h10l7-5l-1-1l1-2h3l3-3l5 4h6l3-2zM683 103l2-2l2 1l-1 3zM786 97l1-1l4 1l-2 2zM740 97l5-1l7 5l-2 2l-8 1zM678 87l2 4l-4 3l-1 3h-2l-1-3zM749 84l3-2l1 4l7-1l3 2l-5 1l-4 3l-4-3zM652 82l1 4l-2 1l-1-3zM765 81h2l3 3l-2 5l-5-5zM691 81l2 2l-1 4l-3-3zM700 81l4-1l1 3l-3 2zM675 80l2-2h3l2 4l-5 1zM655 80l6-4l2 2l1 5l-3 1l-2-2h-3zM735 74h3l6 5l-1 2l-4 2l-1 3h-3l-2-2l2-3l-2-3z"/><path fill="#e9932d" d="M318 335l-3 3v3l2 2l-1 3l2 2l1-3l-3-3l3-3zM737 161l5 6l3 1h6l2-2l-2-3zM631 136l-5 3h-6l2 1l3-1l4 2zM357 115l-5-5l-8 9l6 2zM164 111l4 8l8-1v-7l-4-2h-3l-1 3zM916 107v17h1l1-11zM796 98l-2 3l4 8l3 1l2-3l-4-4l-1-4zM620 99l2 1l5-4h-7zM764 94l-5 5l-1 5l4 2l5 5l1 3h1l-1-5l3-1l4 7l-1 3h3l4-3l-2-2l3-1v-3l4-4l-2-3l-3 1l-2-1l2-4l-1-2l-2-1l-3 1l-1-3zM138 86l3 8l12 12h2l2-3l2 4h2l1-7l-3-10l-13-7h-3zM136 83l-4-1l-2 2h-3v2zM244 115l3 3l4-1l7 1l9-3l2 3h3l2-4h3l3 3l17 6l7 5l5-1l3 1l17-4l-3-2l1-5h-5l-10 5l-1-1l8-6l7-3h15l11-5l-4-5l-6-3l-13-14l-6 5l-7-1l-3-2l-1-5l-6-2l-13-1l-2 1l-1 8l3 9l-5 5v5l-2 3l-4-1l-2 3l-2-3l-5 1l-4-5l-4 2l-3-4h-2l-4 4l-2-2h-4l-1 4l-4-4zM645 78h-2l-3 3l-1 4l-4 4l1 2l3-2h3l2-3l3-1zM90 75v3l13 5l16-2l4 2l2-1l-1-5l-5-2h-18l-2 2h-3l-3-3zM82 73l-2 4l4 1v-3zM988 70l-2-1l-4 8l-2-2l-4 1l-1-6l-2-1l-6 2l-2 3l-9-1l-16 5l-5 4h-4l-4 3l-12 1l-8 4h-7l-3 3h-3l-1 2l5 3l5-1l7-6l9-5h20l1 1l12-1l7-7h8l5-5l1 1l-1 3l5-1l1 2l-20 13l-2 8l3 3h4l2-3l3 3l4-4l1-3l3-2v-3l9-7l1-2l-1-3l3-4zM40 80l17 2l1-1h10l2-2h3l-3-4h-5l-2-3l-7-3l-3 2l1 1l-1 3l-9 1zM0 62v4l2 2l4-1l5 2l9-1l3-2l-18-5zM1023 60l-6-2l-3 2l-4-1l-8 3h-5l-1 1l1 5l-2 1v12l13-3l2-2l12 1l-5-5l6-1zM300 68l6 4l11 1l5-2l6 1l6-6l-19-9l-14 4h2l1 2l-2 4zM242 60l1 4l18 7l10-2h-4l-1-1l1-1l10-1l3-2l-1-5l-9-1l-6 6l-13-6l-1-2zM780 78v-7l-2-3v-5l-7-6l-5-1h-12l-9 2l-9-3l-3 5l-4-2l-9 9l-2-1l3-3l-1-1l-3 2l-1-2l2-2l-3-3l-4 1l-4-1l-1 4l-22-4l-7 4l-2 7h-3l-2-2l4-3l-1-2h-11l-14 2l-3 2h-2l-1-2l-1 3l-2-1l1-3h-2v4l-4 1l3 1l-1 1l1 5l6-2l3 3l6-1l6 2l2-2l4 1l2-4l1 3l4 2l5-3h4l3 3l3-1l5 1l3 4l2-2h5l5-2l3 1l3 5v3l-2 2l-4-1l-4 5l-3-2l-1 5l3 3l-2 2l-2-2l-1 3l3-1l2 4h2l1-2l5 1l4-1l2 3l-4 2l-1 4h7l6-3l4 1l1-1l-1-4l3-1l-1-5l2-1l2-4l4 2l3-1l-1-3l-10-5l-1-8l3-3l1-4h6l8 6l6-2l5 6l3-1l1-2h6l5 5l-1 7l2-1l1-3l4 3zM711 74l2 1l-1 4l-2-1zM706 66l4-3l3 2l-3 3z"/><path fill="#cd700e" d="M743 162l1 5l6-2l-2-2zM355 114l-3-4l-8 9h7l4-3zM771 102l1 3l3 1l3-1l-4-4zM718 89l-3 4l2 4l3-3zM916 87l-8 3l-2 3h2zM142 86l-1 6l8 8l4-2l3 1l2-2l1-5l-6-5l-5-2zM981 86l-8-4v3l-2 2l-3-2l-6 4l-3 4l3 5l4-2l2 3h2l1-5l4-2zM285 113l2 2l-1 2l5 3h4l9 6l6-1l8 1l10-3l-2-1l1-5h-5l-10 5l-1-1l8-6l7-3h15l11-5l-4-5l-6-3l-13-14l-6 5l-9-2l-2-6l-20-1l-2 9l3 7l-5 5v5zM957 81h-2l-1-3l-6-1l-3 2l-6 1l-2 3h-6l-4 3h-3l23 1l3-2h3zM101 77v2l3 2l4-1l6 1l3-2l5 1l-1-2l-5-2h-4l-2 2l-5-2zM66 79l-9-6l-4 2l-9 1l-3 2l1 2l6-1l3 2zM727 64l-4 5l-8 1v3l2 1l6-3l1 2l-2 3l4 1l1-4l-3-2l4-4zM655 63l-9 1l3 2l-1 5l7-5zM1 64l2 3l4 1l13-2l-11-4h-5zM1020 60l-14 1l-7 9l3 6l4-2l2-3h3l5 4l5 1l-4-4l6-1v-6zM679 62v3l5 3l4-3h3l3 5l1 6l3-4l5-2l-1-6l2-3l-6 1l-9-4l-1 4l-3 2h-2l-2-3zM736 60l2 3l3 1v5l2 2l3-1l2 2l5 1l4-1l6 1l2-2l5 1l1-3l4-2v-2l-5-6l-15-2l-11 2l-3 2l-4-3zM301 61l3 1l-2 4l1 3l7 2h10l3-2l5 1l5-5l-17-8zM245 59v4l10 5l5 1l16-4v-5l-2-2h-4l-6 6l-14-7z"/><path fill="#a85206" d="M352 110l-4 4l1 1l-3 2h4v-2l4-2zM143 90l1 2h6l6 3l-1-4l-2-2l-3 1l-2-3h-3zM290 88l3 9l-4 4v2l3 3l-3 5v4l3 3l5-3l3 4l3-1l3 3v3l7 1l13-3l1-5h-5l-10 5l-1-1l8-6l7-3h13l2-2h5l6-3l-24-22l-5 5l-7-1l-3-2v-3l-4-1h-10v3l-2 2l-5 1l-1-2zM941 81l-1 5l4 1l2-2v-3zM13 64l-4-2l-5 4l6 1zM271 63l-2-3l-5 4l-5-3h-3l-1 5l9 1l7-2zM765 61l-3-2l-13 1l1 5l-2 2l-4-1l-1 2l5-1l3 4h3l7-4l4-4zM302 61l2 1l-1 2l2 1l1 3l7 2l3-1l3 1l3-2h4l3-3v-2l-10-5h-8z"/><path fill="#7f3b08" d="M292 98l1 1l-1 3l4 1l3 8h5l7 4l1 2l-4 2v2h3l2 2l6-4l-6 3l-2-1l7-5l-3-4l3-4l-3-5l1-2l4-1l2 3l-1 5l1 1l4-1l4 4h8l-5-4l5-6l1 6l6-1v-2l-3-2v-4l-5-3l-3-5l-2 1l-3-2l-3 3l-1-5l-2 2l-7-1l-5-4l-4 1l-3-1l-2 2l1 3l-10 5zM328 95l3 5l-2 3l-5-3zM330 96l2-2l3 1l-2 3zM753 64l4-2l3 1l1-2l-7-1zM316 62l6-1l1 1l-1 4l4-1v-3l-5-3z"/><path fill="#d2d3e7" d="M299 386l-2 3l1 9h2v-4l3-2v-2zM326 362l-2 2l1 3l4-2zM328 350v3l4 2l-1 7l3 2v3l3-2h3l1-9l-6-3l-3 2l-2-4zM914 342l5 6l5-1l2-2l-4-3l-4-1zM892 341l-5-2l-2 5l3 1zM869 338v-4l-4-2l-6 5l-5-4h-2l1 2h3l2 3l3-2l4 2l1-1zM362 332v5l5 2l1-7zM929 332l-2-2h-4l-2 3h-3l2 4l2 1l5-1zM645 326l-1-2l-5 1l1 2zM573 329l4-4h4v-1h-6zM370 324l1 3h4l-1-3l-2-1zM359 322l2 2h3l-1-4zM611 313l-4 3l1 3l-2 4l1 2l5-1zM395 315l-2-2l-3 1v2zM859 307l2 4l-1 2l3 4l-1 5l2 4l4 3l6-2l1-2l2 1l-1 6l3 1l-1 6h3l4-4l1 1l2-2h-4l-2-3l4-3v-2l5-6l4 1l3-1v-2l-4-1v-2l4-5l3 4l1-1l11 3l3 3l6 1l3 3l8-4l3 3l-1 4l3 5l-2 4l6-2l2-3h3l-1-3l-10-10l-2-5l-3-1l2 3l-2 3l-4-4v-2l2-1l-2-2l-1-5l-2-1l-1 3l-2 1l-3-2v-4h-3l-4 5h-3l-12-6l-8 4l-1-4l-4-3l-2 2l-12-1zM867 315l1-3l4 1l-3 3zM897 303l3-1l2 4l-3 1zM607 290h-2l-3 5l-7-2l-4 4l-1 5l5 6l4-1l1-8l5-4zM592 281l-2 3l2 5l2 1v-6zM913 270l6 2l2-1v-2l-4-1zM410 271l-8-3l1 4l-3 2l-2-2v2l4 4zM380 265v4l4-2zM609 262v4l4 9l6-1l5 2l-1-5l-5 2l-2-4l-3-1zM376 260l-6 1l3 2v4l-2 3l-5-2l-2-6l-3 5h-3l-3-3l-2 4l-4-1l1 3h5l2 2l3-2l1 3l4 2l-2 3h-4l-1 6l-3 2l1 2l2-3h4l2-5l5 1l6-3l2-4l-2-7l2-6zM539 255l1 3l-1 3l3 4l3-1l1-4l2 1l1 3h5l-1-5zM363 250l-2 3l2 5l6-1l1-1l-1-4zM643 238l-2 1l-1 7l3-5zM539 238h-2l-2 4l3 2zM527 238v2l3 2l1-4zM336 232l-1 6l5-1l3 4h2l-3-4l-3-1v-3zM481 229l2 4l3-2zM740 228l-1 8l1 2h2l2-4l-4-4zM297 225l-5 6v2l2 2h3l1 2l4-1l2 2l-2 2l-5-1v3l6-1l1-3l5-2v-3l-8-5h-2l1 4l-2 1l-3-5zM735 223l-7 2l4 7l2-3l4-2zM492 222l-1 5l2 2h4l3 2l-3 5l4-1l1-7l-3-3l-4 1zM470 217l2 4l-1 4l4 3l1-2l-4-4l1-2zM255 214v2l6 1l-1-2zM796 212l1 3h3l2-2l-3-2zM606 213l-2-4l-8 1l-3 3v3l3-1l1-2l3 3h4zM593 227l-2-10l-8-1l-5-5l-4 2l-8-5l-14 1l-2 2l-6 1l-1 3l-3-1l2-2l-1-2h-5l-4 2l-2 3l-5 1l-4-1l-4 2l-7-1l-2 2l-4-2l-2 2l-2-2h-3l-1 3l5-1l5 3l3-2l7 1l2 2l-2 2v3l6 6h3l2-3l5-1l2-3l5 1l4-6h14l2 2l-2 3l12 8l4-2l2-5l-4 1l-3-4h-3l-1-1l4-2l9 2l2-3h2l2 2l-1 6l4-3l4 3zM521 225l3-1l3 4l-5 1zM559 212l5-2l2 4l-6 1zM815 205l-1 4h-2l-3-3l-2 2l6 4l1-1l4 1l-4 10l1 1l-2 2l-3-1l-1 1l3 2l3-1l-1-2l1-1l3 1l4-2l-1-9zM646 212l5-5l5 1l1-2l-9-1zM723 186l-2 1v7l-2 2l1 5l1-5l6-3l-2-2l1-2l-1-2zM757 181l-2 4l4 1l-1-5zM614 172h-3l-8 4l5-1l1 1l1-3l2 1v2zM568 167l6 2l7-1l2 2h3l3 3l7 2l-4-4l-5-1l1-4h-4l-4-2l-4 1l-1-2l-5 1zM704 161v3l-2 2h-3l-2 3h-4l1 5l4-1l2 2v3l-2 2h-4l-8 3h15l10 7l-2 2l3 3h3l3-3l-4-5l1-4l-3-1l-2-3l8-3l3 4l1-7l2-2l3 2l1-5l-3-4l-7 2l-5-2l-1-3l-2 2h-3l-1-2zM772 150h-2l-1 2l-4-2l-1 4l-3-1l1 4l4 1zM539 150l-9 1l-2 4l3 2l7-2zM577 143l-4 3v3l2 2l4-2zM911 140l-3 7l-4 2l4 6l4-1v-6l3-4zM780 139l-2 3l2 3v-2l3-3zM204 138h-8l-4 3l2-1l3 1v2l-3 3l-3-1l1 3l4 1v3l5-2l5-5zM870 138l-2 3l2 3l-1 3h2l3 4l-1 4l4 1l2-1l1-3l-5-10l5-4l-3-1l-6 2zM834 137v2l4 2l1-2zM878 132l4 4l3-3zM161 128h-2l-1 4l1 4l5-2zM756 124l-1 2l3 3v5l-5 5v2h3l1-6l4-2l-3-3l1-3zM610 122l1 3l-3 3l-3-2l2 3l6-2l-2-2l1-2zM748 121l-6-2l-3-3l-4 3l-5-2l-4 1l-6-1l-4 4l1 4l-2 4l4 7l4 1l2-2l3 4h2v-3l2-2l-3-6l5-5l4 2l3-2l2 2l-2 2l2 3v-3l4-3zM598 116l1 5l2 2h4l-1-4l6-2v-1l-9 1l-2-2zM909 106l-2 1v5l3-3zM854 106l1 2l2-2l4 1v-3l-4-1zM866 97l6 3l6 7h5l7-4l-1-2l-3 3l-2-2l1-3h-3l-2-2l-3 2l-3-2l-4 2zM834 90l-3 1l-1 5h-3l-1-2l-1 7l2 1v4l3 6l3-1l-2-7l3-2l-1-2l4-3zM63 88l-1 3l1 2l2-1l1-3zM52 87v1h8l-3-2zM179 78l-6 4l4 1zM804 73l-4 5l1 8l3 3l14 3l-2-4v-6l2-3l-1-4l-4-1l-3-3zM973 59l6-1l2 2h3l6-2h-17zM945 58l-1-1l-5 2l-2 4h7zM970 59l-5-3l-3 2v3l-3 3l4 1zM871 50v4l3 1l1-2zM788 52l2 6l3 3l14-2l5 6h2l8 6l-1 4l1 2l3-1l4 7l3 1l3-2l3 2l6 1l4 4l-1 3l4 6l-1 3l4-3l-4-4l2-8l16 1l2-2h11l5 2l6-1l4-3l11 1l4-5v-3h-4l-2-3l1-5l2-2h12l2 2l-2 2l-2-1l2 3l-2 3l-3 1v4h2l6-3v-6l6-5l2 1l2-2v-4l-5-2l-3-3l-10-1l-9-4l-8 2h-9l-6 6l2 6l-5 3l-12-1l-3-3l2-6l4 2l-2-3v-3l-3 1l-3-3l-4-1l-2-3h-15l4 1l-2 4h-3l-3-2h-7l-4-2h-7l-4 4l-6-1l-1 2l-5 2l-1-1l1-6l-3-3l-1-4l3-6l-10 3v3zM885 67l3-3l11 1l2 4l-4 3h-3l-8-3zM841 64l1 3l-4 4l-1-5zM852 61l4 4l-3 4l-6 1l-1-1l1-4z"/><path fill="#b4aed3" d="M868 319l-1 5l3 1v-4zM890 316h-3l-5-5l1 2l-2 2l-3 1l-4-1l-3 2l1 5l10 3l-2-5l1-1l4 1l5-2zM912 311v2l2 1l3-2l5 5l3 1l-1-6l-8-2zM865 302v4h2l2-3l1 1l4-1l2 2l-2 3h4l3-4l1-5h-4l-5 4l-2-4l-2-1zM583 218v3l5 3l4-4l-2-3zM526 219l6 2l1-1l6 1l9-1l9-3l3 4h5l1-1h10l1-3l-2-1l-22 1l-7-2l-4 2l-10-1zM709 165l-4 1l-4 6l1 2h4l2 2l-1 6h1v-4l7-7zM577 145l-3 3l1 3h2l2-3zM911 143l-5 5l1 1l5-3zM804 75l-2 4v7l3 2l8 1l2-12l-2-2zM834 76l9 8l4-1l3 2l2-1l15 1l2-2l21 2l6-5l12-1h-2l-5-6l-6 1l-13-5l-10 2l-6-3h-9l-8 4l-8-1l-2 2h-3zM860 58l-3 3l1 2l3-2zM885 59l1 3l14 2l3 2l11-3l9 2l2-1v-5l-4-3l-5 1l-1 3l-2 1l-2-2l1-3l-2-2h-4l-4-2l-11 1zM808 58l9 6h10l2 3h2l1-3l5-3l3-6l-2-2h-9l-3-2h-5l-4 4l-9 1zM795 46l-5 4v5l2 3l4-1l2 2l3-9z"/><path fill="#8e82b6" d="M584 218v3l2 2h3l2-2l-2-4zM806 77l-3 4v4l2 2l6 1l2-4v-6zM840 75l4 6l5 2h6l5-2l4 3h2l3-4l2 2l15 2l2-1l1-3l4 1l3-4l5 1l-1-2l-7 1l-5-4l-6-2l-11 1l-6-2h-7l-8 3h-9zM817 59l3 3h9v-4l-8-3zM887 60l9 3l10 1l4-8l-7-2l-6 1l-4-1z"/><path fill="#6b4f9b" d="M585 218l-1 2l2 2h4l-1-4zM810 80l-2-1l-3 6h5zM879 75l-1 3l3-1l2 2l-4 2l6 1l-1-3l2-4l-1-1zM870 73l-11-2l-3 2h-4l-3 2h-6v1l6 6h4l6-4l10-1zM892 59l10 4l1-3l4-2l1-2h-11l-5 1z"/><path fill="#4a1d78" d="M586 218l-1 3l4 1l1-3z"/></g></g><g filter="url(#db)"><circle cx="293.8" cy="110.0" r="1.0" fill="#2a2a80"/><circle cx="424.7" cy="168.6" r="0.8" fill="#3a2010"/><circle cx="295.3" cy="154.3" r="0.7" fill="#3a2a20"/><circle cx="103.5" cy="72.0" r="0.7" fill="#6a5a50"/></g>
</g>
<rect x="1196.6" y="348.9" width="512.4" height="213.4" fill="none" stroke="#a8a8a8" stroke-width="2"/>
<g><path d="M1271.6 569L1251.5 576L1271.6 583Z" fill="#2d004b"/><path d="M1634 569L1654.1 576L1634 583Z" fill="#7f3b08"/><rect x="1271.1" y="569" width="30.7" height="14" fill="#4a1d78"/><rect x="1301.4" y="569" width="30.7" height="14" fill="#6b4f9b"/><rect x="1331.7" y="569" width="30.7" height="14" fill="#8e82b6"/><rect x="1361.9" y="569" width="30.7" height="14" fill="#b4aed3"/><rect x="1392.2" y="569" width="30.7" height="14" fill="#d2d3e7"/><rect x="1422.5" y="569" width="30.7" height="14" fill="#eaebf2"/><rect x="1452.8" y="569" width="30.7" height="14" fill="#faeedf"/><rect x="1483.1" y="569" width="30.7" height="14" fill="#fedbac"/><rect x="1513.4" y="569" width="30.7" height="14" fill="#fdbc6b"/><rect x="1543.7" y="569" width="30.7" height="14" fill="#e9932d"/><rect x="1573.9" y="569" width="30.7" height="14" fill="#cd700e"/><rect x="1604.2" y="569" width="30.7" height="14" fill="#a85206"/><path d="M1271.1 569L1634.5 569L1654.1 576L1634.5 583L1271.1 583L1251.5 576Z" fill="none" stroke="#000" stroke-width="1.6" stroke-linejoin="miter"/><path d="M1271 583v8.4" stroke="#000" stroke-width="1.9"/><path d="M1331.6 583v8.4" stroke="#000" stroke-width="1.9"/><path d="M1392.2 583v8.4" stroke="#000" stroke-width="1.9"/><path d="M1452.8 583v8.4" stroke="#000" stroke-width="1.9"/><path d="M1513.4 583v8.4" stroke="#000" stroke-width="1.9"/><path d="M1574 583v8.4" stroke="#000" stroke-width="1.9"/><path d="M1634.6 583v8.4" stroke="#000" stroke-width="1.9"/></g>
<g font-size="18.4px" text-anchor="middle"><text transform="translate(1270.6 615.5) rotate(-45)" y="6.5">−3</text><text transform="translate(1331.2 615.5) rotate(-45)" y="6.5">−2</text><text transform="translate(1391.8 615.5) rotate(-45)" y="6.5">−1</text><text transform="translate(1451.6 610) rotate(-45)" y="6.5">0</text><text transform="translate(1512.2 610) rotate(-45)" y="6.5">1</text><text transform="translate(1572.8 610) rotate(-45)" y="6.5">2</text><text transform="translate(1633.4 610) rotate(-45)" y="6.5">3</text></g>
<g font-size="27.4px">
<text x="332.1" y="23.2" text-anchor="middle" xml:space="preserve">Δ<tspan font-style="italic">T</tspan><tspan font-style="italic" font-size="19.2px" dy="4.1" dx="1.5">c,</tspan><tspan font-style="italic" font-size="19.2px" dx="4.4">max</tspan><tspan dy="-4.1"> (°C)</tspan></text>
<text x="892.7" y="23.2" text-anchor="middle" xml:space="preserve">Δ<tspan font-style="italic">T</tspan><tspan font-style="italic" font-size="19.2px" dy="4.1" dx="1.5">c,</tspan><tspan font-style="italic" font-size="19.2px" dx="4.4">mean</tspan><tspan dy="-4.1"> (°C)</tspan></text>
<text x="1453.3" y="23.2" text-anchor="middle" xml:space="preserve">Δ<tspan font-style="italic">T</tspan><tspan font-style="italic" font-size="19.2px" dy="4.1" dx="1.5">c,</tspan><tspan font-style="italic" font-size="19.2px" dx="4.4">min</tspan><tspan dy="-4.1"> (°C)</tspan></text>
</g>
<g font-size="27.4px" font-weight="bold">
<text x="75" y="25.4">(a)</text>
<text x="635.6" y="25.4">(b)</text>
<text x="1196.2" y="25.4">(c)</text>
<text x="75" y="341.8">(d)</text>
<text x="635.6" y="341.8">(e)</text>
<text x="1196.2" y="341.8">(f)</text>
<text x="64.6" y="652.5">(g)</text>
<text x="624.4" y="652.5">(h)</text>
<text x="1185.1" y="652.5">(i)</text>
</g>
<g font-size="27.4px" text-anchor="middle">
<text transform="translate(57.4 146) rotate(-90)">Historical</text>
<text transform="translate(57.4 458.6) rotate(-90)">Future-Historical</text>
</g>
<clipPath id="cpg"><rect x="65" y="660.7" width="534.2" height="260.5"/></clipPath>
<path d="M65 725.5h534.2" stroke="#111" stroke-width="1.15"/>
<g clip-path="url(#cpg)" stroke="#4a4a4a" stroke-width="1.1" stroke-linejoin="round">
<path d="M153.3 655V925" fill="none" stroke-width="2.1"/>
<path d="M153.3 660.8L150.9 660.8C150.3 661.8 149.7 662.8 149 663.7C148.1 664.9 147.1 666.1 145.8 667.4C144.5 668.6 142.6 669.8 140.7 671C138.4 672.4 135.7 673.9 132.7 675.4C129.7 676.8 126.1 678.3 122.5 679.7C118.9 681.2 114.5 682.6 110.9 684.1C106.7 685.8 102.7 687.5 99.3 689.2C96.3 690.6 92.9 692.1 91.3 693.5C89.6 695 87.6 696.4 87.6 697.9C87.6 699.3 87.9 700.8 88.3 702.2C88.8 703.7 91.4 705.2 93.4 706.6C95.8 708.3 99 710 102.2 711.7C105.3 713.4 108.9 715.1 112.3 716.8C115.2 718.2 118.6 719.7 121.1 721.1C123.6 722.6 125.9 724.1 127.6 725.5C129 726.7 130.1 727.9 131.2 729.1C132.6 730.6 134.5 732.1 134.9 733.5C135.3 735 135.6 736.4 135.6 737.9C135.6 739.3 135.3 740.8 135.3 742.2C135.3 744.2 136.2 746.1 136.8 748C137.5 750.5 138.7 752.9 139.7 755.3C140.7 757.7 141.9 760.2 142.9 762.6C143.9 765 144.9 767.4 145.8 769.8C146.6 772.3 147.4 774.7 148 777.1C148.6 780 149.3 782.9 149.6 785.8C149.8 788.7 149.9 791.7 150 794.6C150.1 798.6 150.2 802.7 150.3 806.8C150.5 814.1 150.6 821.3 150.9 828.6C151.1 834.9 151.6 841.2 151.7 847.5C152 860.6 152 873.7 152.2 886.8C152.3 897.9 152.4 909.1 152.5 920.2L153.3 920.2Z" fill="#b0d2e0"/>
<path d="M153.3 660.8L154.2 660.8C154.5 662.3 154.8 663.7 155.2 665.2C155.7 667.1 156.3 669.1 157.1 671C157.9 672.9 158.9 674.9 160.3 676.8C161.6 678.5 163.6 680.2 166.1 681.9C168.3 683.3 171.7 684.8 174.8 686.3C178 687.7 181.7 689.2 185 690.6C188.9 692.3 193.3 694 196.7 695.7C200.5 697.6 203.7 699.6 206.8 701.5C210 703.5 212.9 705.4 215.6 707.3C217.9 709 220.4 710.7 222.1 712.4C223.3 713.6 225 714.8 225 716.1C225 717.3 224 718.5 222.8 719.7C221.9 720.7 219.2 721.6 217 722.6C214.9 723.6 212.6 724.5 209.7 725.5C206.9 726.5 202.6 727.4 199.6 728.4C195.8 729.6 192.5 730.8 189.4 732.1C186.3 733.3 182.8 734.5 180.7 735.7C178.5 736.9 176.9 738.1 175.6 739.3C174 740.8 173 742.2 171.9 743.7C170.5 745.6 169.3 747.6 168.3 749.5C167.1 751.9 166.3 754.3 165.4 756.8C164.3 759.7 163.3 762.6 162.5 765.5C161.7 768.4 160.9 771.3 160.3 774.2C159.7 777.1 159.2 780 158.9 782.9C158.4 786.8 158.2 790.7 158 794.6C157.8 798.6 157.7 802.7 157.5 806.8C157.3 814.1 157.1 821.3 157 828.6C156.8 834.9 156.6 841.2 156.5 847.5C156.3 860.6 156.1 873.7 156 886.8C155.8 897.9 155.7 909.1 155.5 920.2L153.3 920.2Z" fill="#5181a8"/>
<path d="M91.6 693.2H153.3" fill="none" stroke-width="1" stroke="#5d7f8c"/>
<path d="M93.4 706.6H153.3" fill="none" stroke-width="1" stroke="#5d7f8c" stroke-dasharray="2.2 1.6"/>
<path d="M133.4 731.3H153.3" fill="none" stroke-width="1" stroke="#5d7f8c"/>
<path d="M153.3 704.8H211.9" fill="none" stroke-width="1" stroke="#41688b"/>
<path d="M153.3 717.5H224.6" fill="none" stroke-width="1" stroke="#41688b" stroke-dasharray="2.2 1.6"/>
<path d="M153.3 735.1H181.8" fill="none" stroke-width="1" stroke="#41688b"/>
<path d="M331.3 655V925" fill="none" stroke-width="2.1"/>
<path d="M331.3 660.8L328.6 660.8C328 662.3 327.3 663.7 326.4 665.2C325.1 667.4 323.6 669.5 321.3 671.7C319.3 673.7 315.5 675.6 312.6 677.5C309.7 679.5 306.4 681.4 303.9 683.3C301.4 685.3 298.6 687.2 297.3 689.2C295.9 691.3 295.3 693.5 294.4 695.7C293.6 697.6 293.3 699.6 292.2 701.5C291.1 703.7 288.9 705.9 286.4 708.1C284.3 710 280 711.9 277.7 713.9C275.4 715.8 272.2 717.8 271.9 719.7C271.7 720.9 271.6 722.1 271.6 723.3C271.6 725.3 273.5 727.2 274.8 729.1C276.1 731.1 278.5 733 279.9 735C281.2 736.9 283.2 738.8 283.2 740.8C283.2 743.2 282.8 745.6 282.4 748C282 750.5 280.5 752.9 280.3 755.3C280.2 757.7 280 760.2 280 762.6C280 765.5 281.1 768.4 282.1 771.3C283 774.2 284.7 777.1 286.4 780C288 782.7 289.9 785.4 292.2 788C293.1 789 294.3 789.9 295.2 790.8C297.4 793.2 299.3 795.7 301 798.1C302.9 801 304.6 803.9 306.1 806.8C307.7 810.2 309.3 813.6 310.4 817C311.6 820.9 312.6 824.7 313.3 828.6C314.1 832.5 314.6 836.4 315.2 840.2C315.8 843.6 316.2 847 317 850.4C317.8 854.3 319.5 858.2 320.6 862.1C321.7 865.9 322.9 869.8 323.5 873.7C324.2 878 324.4 882.4 325 886.8C325.4 890.6 325.9 894.5 326.4 898.4C326.9 902.3 327.2 906.1 327.9 910C328.4 913.4 329.2 916.8 330 920.2L331.3 920.2Z" fill="#b0d2e0"/>
<path d="M331.3 660.8L331.5 660.8C331.5 663.7 331.6 666.6 331.8 669.5C331.9 672 332.3 674.4 333 676.8C333.6 679.2 335.5 681.7 337.3 684.1C339.1 686.5 341.9 688.9 344.6 691.3C347.2 693.8 350.2 696.2 353.3 698.6C356.4 701 359.9 703.5 363.5 705.9C367.1 708.3 370.8 710.7 375.1 713.2C378.6 715.1 382.6 717 386.7 719C389.9 720.4 394.6 721.9 396.9 723.3C398.8 724.5 400.7 725.8 401.3 727C401.9 728.2 402.4 729.4 402.4 730.6C402.4 731.8 401 733 399.8 734.2C398.4 735.7 394.8 737.1 392.6 738.6C389.9 740.3 386.6 742 385.3 743.7C383.7 745.6 382.1 747.6 382.1 749.5C382.1 751.9 383.3 754.3 383.8 756.8C384.4 759.2 385.3 761.6 385.3 764C385.3 766.5 385.3 768.9 385.3 771.3C385.3 773.7 384.8 776.1 384.6 778.6C384.3 781 384.2 783.4 383.8 785.8C383.6 787.5 383.1 789.2 382.4 790.8C381.4 793.2 378.9 795.7 376.6 798.1C374.2 800.5 370.5 802.9 367.8 805.4C364.7 808.3 361.6 811.2 359.1 814.1C356.6 817 354.1 819.9 352.6 822.8C351 825.7 349.6 828.6 348.9 831.5C348.1 835.4 347.7 839.3 347.2 843.2C346.7 847 346.5 850.9 346 854.8C345.5 858.7 344.6 862.5 343.9 866.4C343.1 870.3 342 874.2 341.4 878C340.8 881.9 340.4 885.8 339.9 889.7C339.5 893.5 339.2 897.4 338.8 901.3C338.4 904.7 338 908.1 337.3 911.5C336.7 914.4 335.6 917.3 334.4 920.2L331.3 920.2Z" fill="#5181a8"/>
<path d="M271.9 720H331.3" fill="none" stroke-width="1" stroke="#5d7f8c"/>
<path d="M280.4 754.6H331.3" fill="none" stroke-width="1" stroke="#5d7f8c" stroke-dasharray="2.2 1.6"/>
<path d="M297.5 793.4H331.3" fill="none" stroke-width="1" stroke="#5d7f8c"/>
<path d="M331.3 731.3H402.3" fill="none" stroke-width="1" stroke="#41688b"/>
<path d="M331.3 764H385.3" fill="none" stroke-width="1" stroke="#41688b" stroke-dasharray="2.2 1.6"/>
<path d="M331.3 800H374.5" fill="none" stroke-width="1" stroke="#41688b"/>
<path d="M509.3 655V925" fill="none" stroke-width="2.1"/>
<path d="M509.3 660.8L509.2 660.8C509.2 668.6 509.1 676.3 508.9 684.1C508.8 688.9 508.5 693.8 508 698.6C507.7 702 506.8 705.4 505.9 708.8C505 711.7 503.8 714.6 502.2 717.5C500.8 720.2 498.7 722.8 496.4 725.5C494 728.4 491 731.3 487.7 734.2C484.7 736.9 481.1 739.6 477.5 742.2C474.3 744.7 470.5 747.1 467.3 749.5C464.2 751.9 460.8 754.3 458.6 756.8C456.5 759.2 454.4 761.6 453.5 764C452.8 766 452.1 767.9 452.1 769.8C452.1 771.8 452.5 773.7 453.1 775.7C453.6 777.6 455.5 779.5 457.2 781.5C458.6 783.2 461.1 784.9 463 786.6C464 787.5 465 788.4 465.9 789.4C467.9 791.5 469.7 793.7 471 795.9C472.5 798.6 473.7 801.2 474.6 803.9C475.5 806.8 475.9 809.7 476.8 812.6C477.7 815.5 479.1 818.4 480.4 821.3C481.7 824.3 483.6 827.2 484.8 830.1C486.2 833.5 487.3 836.9 488.4 840.2C489.5 843.6 490.6 847 491.3 850.4C492.2 854.3 493 858.2 493.5 862.1C494 865.9 494.5 869.8 494.7 873.7C494.8 877.6 494.8 881.4 495 885.3C495.1 889.2 496.2 893.1 497.1 896.9C498 900.3 499.5 903.7 500.8 907.1C501.9 910 503 912.9 504.4 915.8C505.2 917.5 506.2 919.2 507.3 920.9L509.3 920.9Z" fill="#b0d2e0"/>
<path d="M509.3 660.8L509.5 660.8C509.5 673.4 509.6 686 509.8 698.6C509.9 705.9 510.3 713.2 511 720.4C511.3 724.8 512.2 729.1 513.1 733.5C513.7 736.4 514.5 739.3 515.3 742.2C516.1 745.1 517 748 518.2 751C519.3 753.4 520.8 755.8 522.6 758.2C524.4 760.6 526.9 763.1 529.8 765.5C532.2 767.4 535.8 769.4 538.6 771.3C542.1 773.7 545.3 776.1 548.7 778.6C552.6 781.2 557.2 783.9 560.4 786.6C561.5 787.5 562.1 788.4 563.3 789.4C565.4 791.1 569.5 792.8 572 794.4C574.5 796.1 577.3 797.8 578.6 799.5C579.6 801 580.7 802.4 580.7 803.9C580.7 805.6 579.6 807.3 578.6 809C577.5 810.7 574.4 812.4 572 814.1C569.3 816 565.8 818 563.3 819.9C560.5 822.1 558 824.3 556 826.4C554 828.6 552.4 830.8 550.9 833C549.3 835.4 548.1 837.8 546.6 840.2C545 842.7 543 845.1 541.5 847.5C539.6 850.4 537.8 853.3 536.4 856.2C535 859.1 533.7 862.1 532.8 865C531.8 867.9 531.3 870.8 530.6 873.7C529.9 876.6 529.3 879.5 528.7 882.4C528.1 885.3 527.7 888.2 526.9 891.1C526.1 894.5 524.7 897.9 523.3 901.3C522.1 904.2 520.3 907.1 518.9 910C517.6 912.9 516.4 915.8 515.3 918.7L509.3 918.7Z" fill="#5181a8"/>
<path d="M454.8 761.6H509.3" fill="none" stroke-width="1" stroke="#5d7f8c"/>
<path d="M464.2 787.7H509.3" fill="none" stroke-width="1" stroke="#5d7f8c" stroke-dasharray="2.2 1.6"/>
<path d="M484.8 830.1H509.3" fill="none" stroke-width="1" stroke="#5d7f8c"/>
<path d="M509.3 794.4H572" fill="none" stroke-width="1" stroke="#41688b"/>
<path d="M509.3 813.3H573.1" fill="none" stroke-width="1" stroke="#41688b" stroke-dasharray="2.2 1.6"/>
<path d="M509.3 846.1H542.5" fill="none" stroke-width="1" stroke="#41688b"/>
</g>
<rect x="65" y="660.7" width="534.2" height="260.5" fill="none" stroke="#a8a8a8" stroke-width="2"/>
<path d="M65.5 671.2h8.4M65.5 725.5h8.4M65.5 779.8h8.4M65.5 834h8.4M65.5 888.3h8.4M154 921.2v8.4M332.1 921.2v8.4M510.2 921.2v8.4" stroke="#000" stroke-width="1.7" fill="none"/>
<g font-size="23px" text-anchor="middle">
<text x="154" y="955.4">Boreal</text>
<text x="332.1" y="955.4">Temperate</text>
<text x="510.2" y="955.4">Tropical</text>
</g>
<clipPath id="cph"><rect x="624.8" y="660.7" width="534.2" height="260.5"/></clipPath>
<path d="M624.8 725.5h534.2" stroke="#111" stroke-width="1.15"/>
<g clip-path="url(#cph)" stroke="#4a4a4a" stroke-width="1.1" stroke-linejoin="round">
<path d="M714 655V925" fill="none" stroke-width="2.1"/>
<path d="M714 660.8L714.2 660.8C714.2 668.6 714.1 676.3 714.1 684.1C714 687 714 689.9 713.9 692.8C713.9 694.7 713.6 696.7 713 698.6C712.7 699.8 711.4 701 710.1 702.2C708.8 703.5 706.7 704.7 704.3 705.9C701.4 707.3 697.4 708.8 692.7 710.2C688.8 711.5 683.6 712.7 678.2 713.9C673.8 714.8 668.9 715.8 663.6 716.8C659.6 717.5 653.2 718.2 650.5 719C647.8 719.7 645.5 720.4 644.7 721.1C643.9 721.9 643.3 722.6 643.3 723.3C643.3 724.1 644.9 724.8 646.2 725.5C647.8 726.5 650.9 727.4 653.4 728.4C656.6 729.6 660 730.8 663.6 732.1C667.2 733.3 671.6 734.5 675.2 735.7C678.9 736.9 682.6 738.1 685.4 739.3C688.8 740.8 692 742.2 694.1 743.7C697 745.6 699 747.6 700.7 749.5C702.8 751.9 704.7 754.3 705.8 756.8C707.1 759.7 708 762.6 708.7 765.5C709.6 769.4 710.3 773.2 710.9 777.1C711.3 780 711.6 782.9 711.9 785.8C712.1 788 712.3 790.1 712.5 792.3C712.8 795.7 713.1 799.1 713.5 802.4L714 802.4Z" fill="#b0d2e0"/>
<path d="M714 660.8L714.5 660.8C714.5 668.6 714.6 676.3 714.6 684.1C714.7 687 714.7 689.9 714.8 692.8C714.8 694.5 715.3 696.2 716 697.9C716.5 699.3 718.5 700.8 720.3 702.2C722.1 703.7 724.8 705.2 727.6 706.6C730.4 708.1 733.9 709.5 737.8 711C741.6 712.4 746.1 713.9 750.8 715.3C754.8 716.5 759.5 717.8 763.9 719C767.8 720 772.4 721.1 775.6 722.2C778.1 723 780.9 723.9 782.1 724.8C782.8 725.3 783.6 725.8 783.6 726.2C783.6 727 781.5 727.7 779.9 728.4C777.9 729.4 773.9 730.4 771.2 731.3C767.1 732.8 763.4 734.2 759.6 735.7C755.7 737.1 751.8 738.6 747.9 740C744.1 741.5 739.6 743 736.3 744.4C733 745.9 729.5 747.3 727.6 748.8C725.3 750.5 723.6 752.2 722.5 753.9C721.2 755.8 720.2 757.7 719.6 759.7C718.7 762.6 718.1 765.5 717.7 768.4C717.2 771.8 716.9 775.2 716.7 778.6C716.4 783.1 716.3 787.7 716 792.3C715.7 795.7 715.3 799.1 714.8 802.4L714 802.4Z" fill="#5181a8"/>
<path d="M650.5 719H714" fill="none" stroke-width="1" stroke="#5d7f8c"/>
<path d="M648.3 726.5H714" fill="none" stroke-width="1" stroke="#5d7f8c" stroke-dasharray="2.2 1.6"/>
<path d="M680.8 737.6H714" fill="none" stroke-width="1" stroke="#5d7f8c"/>
<path d="M714 721.1H772.2" fill="none" stroke-width="1" stroke="#41688b"/>
<path d="M714 727.3H782.5" fill="none" stroke-width="1" stroke="#41688b" stroke-dasharray="2.2 1.6"/>
<path d="M714 736.4H757.6" fill="none" stroke-width="1" stroke="#41688b"/>
<path d="M891.9 681.9V879.8" fill="none" stroke-width="2.1"/>
<path d="M891.9 681.9L891.8 681.9C891.8 685 891.7 688.2 891.6 691.3C891.6 693.3 891.6 695.2 891.5 697.2C891.4 698.6 889.2 700.1 887.1 701.5C885.4 702.7 881.1 703.9 878.4 705.2C875.2 706.6 872.2 708.1 869.7 709.5C866.3 711.5 864.3 713.4 861 715.3C858 717 854.4 718.7 850.8 720.4C847.2 722.1 843.1 723.8 839.2 725.5C835.8 727 831.9 728.4 829 729.9C826.5 731.1 823.4 732.3 822.4 733.5C821.5 734.7 820.6 735.9 820.6 737.1C820.6 738.4 821.4 739.6 822.4 740.8C823.5 742 827.5 743.2 830.4 744.4C833.4 745.6 837.8 746.8 840.6 748C843.4 749.3 847.4 750.5 847.9 751.7C848.6 753.4 848.4 755.1 849 756.8C849.5 758 850.3 759.2 851.5 760.4C852.8 761.6 856.5 762.8 859.5 764C862.5 765.2 866.6 766.5 869.7 767.7C872.8 768.9 876.5 770.1 878.4 771.3C880.7 772.8 882.5 774.2 883.5 775.7C884.9 777.6 885.7 779.5 886.4 781.5C887.3 783.9 888 786.3 888.6 788.7C889 790.4 889.5 792.1 889.8 793.7C890.4 798.1 891.1 802.4 891.2 806.8L891.9 806.8Z" fill="#b0d2e0"/>
<path d="M891.9 681.9L892.1 681.9C892.1 685 892.2 688.2 892.2 691.3C892.3 693.3 892.3 695.2 892.4 697.2C892.4 698.6 894.6 700.1 895.9 701.5C897.6 703.5 899.5 705.4 901.7 707.3C903.8 709.3 905.6 711.2 908.9 713.2C911.5 714.6 916.7 716.1 920.6 717.5C924.4 719 928.2 720.4 932.2 721.9C935.5 723.1 940.6 724.3 942.4 725.5C943.8 726.5 944 727.4 945.3 728.4C946.6 729.4 949.2 730.4 951.1 731.3C953.5 732.5 957.3 733.7 958.4 735C959.5 736.2 960.6 737.4 960.6 738.6C960.6 740 960.1 741.5 959.5 743C959 744.2 956.2 745.4 954 746.6C951.4 748 946.7 749.5 943.8 751C940.5 752.6 936.4 754.3 935.1 756C933.6 758 933.5 759.9 932.2 761.9C931.2 763.3 930 764.8 927.8 766.2C926 767.4 920.8 768.6 917.7 769.8C914 771.3 910 772.8 907.5 774.2C905 775.7 902.9 777.1 901.7 778.6C900 780.5 898.9 782.4 898 784.4C897.1 786.3 896.7 788.3 895.9 790.2C895.4 791.4 894.4 792.5 894.1 793.7C893.1 798.1 892.5 802.4 892.5 806.8L891.9 806.8Z" fill="#5181a8"/>
<path d="M836.7 726.5H891.9" fill="none" stroke-width="1" stroke="#5d7f8c"/>
<path d="M820.9 738.6H891.9" fill="none" stroke-width="1" stroke="#5d7f8c" stroke-dasharray="2.2 1.6"/>
<path d="M848.1 752.4H891.9" fill="none" stroke-width="1" stroke="#5d7f8c"/>
<path d="M891.9 729.9H948" fill="none" stroke-width="1" stroke="#41688b"/>
<path d="M891.9 741.9H959.9" fill="none" stroke-width="1" stroke="#41688b" stroke-dasharray="2.2 1.6"/>
<path d="M891.9 756H935.1" fill="none" stroke-width="1" stroke="#41688b"/>
<path d="M1069.8 697.2V814.8" fill="none" stroke-width="2.1"/>
<path d="M1069.8 697.2L1069.6 697.2C1069.6 702.5 1069.5 707.8 1069.5 713.2C1069.5 715.8 1069.5 718.5 1069.5 721.1C1069.5 722.4 1068.1 723.6 1066.6 724.8C1065.4 725.8 1062 726.7 1059.3 727.7C1055.9 728.9 1051.6 730.1 1047.7 731.3C1043.8 732.5 1039.1 733.7 1036.1 735C1031.8 736.7 1029.6 738.4 1025.9 740C1023.2 741.3 1021.1 742.5 1017.2 743.7C1014.8 744.4 1009.6 745.1 1007 745.9C1004.3 746.6 1001.7 747.3 1000.4 748C999.6 748.5 998.6 749 998.6 749.5C998.6 750.2 999.8 751 1001.2 751.7C1002.5 752.4 1006.6 753.1 1009.9 753.9C1013.2 754.6 1018.2 755.3 1021.5 756C1026 757 1030 758 1033.2 758.9C1037.9 760.4 1041.4 761.9 1044.8 763.3C1048.7 765 1052.3 766.7 1055 768.4C1058 770.3 1060.4 772.3 1062.2 774.2C1064 776.1 1065.9 778.1 1066.6 780C1067.5 782.4 1068.1 784.9 1068.3 787.3C1068.8 791.4 1069.2 795.5 1069.2 799.5L1069.8 799.5Z" fill="#b0d2e0"/>
<path d="M1069.8 697.2L1069.9 697.2C1069.9 702.5 1070 707.8 1070.1 713.2C1070.1 715.8 1070.1 718.5 1070.2 721.1C1070.3 722.8 1071.4 724.5 1072.4 726.2C1073.4 727.9 1074.7 729.6 1076.8 731.3C1078.5 732.8 1081.5 734.2 1085.5 735.7C1088.1 736.7 1093.2 737.6 1097.1 738.6C1101 739.6 1106 740.5 1108.7 741.5C1112.2 742.7 1115.3 743.9 1116.7 745.1C1118.5 746.6 1118.4 748 1120.4 749.5C1121.4 750.2 1124.3 751 1126.2 751.7C1128.1 752.4 1131.2 753.1 1132 753.9C1132.8 754.6 1133.5 755.3 1133.5 756C1133.5 757 1132.5 758 1131.3 758.9C1130.3 759.7 1126.2 760.4 1123.3 761.1C1119.8 762 1115.2 762.9 1111.7 763.7C1107.4 764.8 1103.1 765.9 1100 766.9C1095.8 768.4 1092.7 769.8 1089.8 771.3C1087 772.8 1084.4 774.2 1082.6 775.7C1080.1 777.6 1078.3 779.5 1076.8 781.5C1075.6 782.9 1074.7 784.4 1073.9 785.8C1072.9 787.5 1071.9 789.2 1071.5 790.8C1070.8 793.7 1070.2 796.6 1070.2 799.5L1069.8 799.5Z" fill="#5181a8"/>
<path d="M1022.8 741.5H1069.8" fill="none" stroke-width="1" stroke="#5d7f8c"/>
<path d="M999.2 748.8H1069.8" fill="none" stroke-width="1" stroke="#5d7f8c" stroke-dasharray="2.2 1.6"/>
<path d="M1021.5 756H1069.8" fill="none" stroke-width="1" stroke="#5d7f8c"/>
<path d="M1069.8 746.6H1118" fill="none" stroke-width="1" stroke="#41688b"/>
<path d="M1069.8 754.6H1132.7" fill="none" stroke-width="1" stroke="#41688b" stroke-dasharray="2.2 1.6"/>
<path d="M1069.8 761.9H1120.2" fill="none" stroke-width="1" stroke="#41688b"/>
</g>
<rect x="624.8" y="660.7" width="534.2" height="260.5" fill="none" stroke="#a8a8a8" stroke-width="2"/>
<path d="M625.3 671.2h8.4M625.3 725.5h8.4M625.3 779.8h8.4M625.3 834h8.4M625.3 888.3h8.4M713.8 921.2v8.4M891.9 921.2v8.4M1070 921.2v8.4" stroke="#000" stroke-width="1.7" fill="none"/>
<g font-size="23px" text-anchor="middle">
<text x="713.8" y="955.4">Boreal</text>
<text x="891.9" y="955.4">Temperate</text>
<text x="1070" y="955.4">Tropical</text>
</g>
<clipPath id="cpi"><rect x="1185.5" y="660.7" width="534.2" height="260.5"/></clipPath>
<path d="M1185.5 725.5h534.2" stroke="#111" stroke-width="1.15"/>
<g clip-path="url(#cpi)" stroke="#4a4a4a" stroke-width="1.1" stroke-linejoin="round">
<path d="M1274.3 655V925" fill="none" stroke-width="2.1"/>
<path d="M1274.3 660.8L1274.2 660.8C1274.2 666.1 1274.1 671.5 1274.1 676.8C1274 681.7 1273.9 686.5 1273.8 691.3C1273.6 695.2 1273.1 699.1 1272.3 703C1271.8 705.4 1270.8 707.8 1269.4 710.2C1268.3 712.2 1266.3 714.1 1264.3 716.1C1262.3 718 1259.8 719.9 1257.1 721.9C1255 723.3 1252.2 724.8 1249.8 726.2C1246.9 727.9 1244 729.6 1241.1 731.3C1237.7 733.3 1234.5 735.2 1230.9 737.1C1228.2 738.6 1224.7 740 1222.2 741.5C1219.7 743 1217 744.4 1215.6 745.9C1214 747.6 1212.6 749.3 1212 751C1211.3 752.9 1210.5 754.8 1210.5 756.8C1210.5 758.7 1210.6 760.6 1210.8 762.6C1211 764.3 1211.9 766 1212.7 767.7C1213.5 769.4 1214.9 771.1 1216.3 772.8C1218 774.7 1220.2 776.6 1222.2 778.6C1224.6 781 1226.7 783.4 1229.4 785.8C1230.7 787 1232.1 788.2 1233.8 789.4C1235.8 790.8 1239.2 792.3 1241.1 793.7C1243.5 795.7 1245.4 797.6 1246.9 799.5C1248.7 802 1250 804.4 1251.2 806.8C1252.9 810.2 1254 813.6 1255.6 817C1257.4 820.9 1259.6 824.7 1261.4 828.6C1263 832 1264.6 835.4 1265.8 838.8C1266.9 842.2 1267.9 845.6 1268.7 849C1269.6 852.8 1270.3 856.7 1270.9 860.6C1271.4 864.5 1272 868.4 1272.3 872.2C1272.8 877.1 1273.1 881.9 1273.3 886.8C1273.6 891.6 1273.8 896.5 1273.9 901.3L1274.3 901.3Z" fill="#b0d2e0"/>
<path d="M1274.3 660.8L1274.5 660.8C1274.5 666.1 1274.6 671.5 1274.6 676.8C1274.7 681.7 1274.7 686.5 1274.8 691.3C1274.9 695.2 1275.3 699.1 1276 703C1276.4 705.4 1277.6 707.8 1278.9 710.2C1279.9 712.2 1281.4 714.1 1283.2 716.1C1285 718 1287.8 719.9 1290.5 721.9C1293.1 723.8 1295.9 725.8 1299.2 727.7C1302.5 729.6 1306.4 731.6 1310.8 733.5C1314.2 735 1318.2 736.4 1322.5 737.9C1326 739.1 1330.7 740.3 1334.1 741.5C1336.8 742.5 1340.6 743.4 1341.4 744.4C1342.7 746.1 1343.6 747.8 1343.6 749.5C1343.6 751.9 1341.4 754.3 1341.4 756.8C1341.4 759.2 1342.8 761.6 1343.6 764C1344.3 766.5 1345.7 768.9 1345.7 771.3C1345.7 773.2 1345.2 775.2 1344.3 777.1C1343.6 778.6 1339.8 780 1337 781.5C1334.2 782.9 1329.8 784.4 1326.8 785.8C1323.5 787.5 1321.2 789.2 1318.1 790.8C1314.5 792.8 1309.8 794.7 1306.5 796.6C1303.2 798.6 1300.1 800.5 1297.8 802.4C1294.8 804.9 1292.4 807.3 1290.5 809.7C1288.1 812.6 1286.2 815.5 1284.7 818.4C1283.2 821.3 1282.1 824.3 1281 827.2C1280 830.1 1278.8 833 1278.1 835.9C1277.3 839.3 1276.6 842.7 1276.2 846.1C1275.8 849.9 1275.4 853.8 1275.2 857.7C1275 862.5 1274.9 867.4 1274.8 872.2C1274.6 881.9 1274.5 891.6 1274.5 901.3L1274.3 901.3Z" fill="#5181a8"/>
<path d="M1214 747.6H1274.3" fill="none" stroke-width="1" stroke="#5d7f8c"/>
<path d="M1212.5 767.2H1274.3" fill="none" stroke-width="1" stroke="#5d7f8c" stroke-dasharray="2.2 1.6"/>
<path d="M1236.9 791.2H1274.3" fill="none" stroke-width="1" stroke="#5d7f8c"/>
<path d="M1274.3 746.6H1342.8" fill="none" stroke-width="1" stroke="#41688b"/>
<path d="M1274.3 764.8H1343.8" fill="none" stroke-width="1" stroke="#41688b" stroke-dasharray="2.2 1.6"/>
<path d="M1274.3 781.2H1337.6" fill="none" stroke-width="1" stroke="#41688b"/>
<path d="M1452.5 655V925" fill="none" stroke-width="2.1"/>
<path d="M1452.5 660.8L1452.4 660.8C1452.4 666.1 1452.3 671.5 1452.2 676.8C1452.1 680.7 1452 684.6 1451.8 688.4C1451.5 691.8 1450.6 695.2 1449.6 698.6C1448.9 701 1448 703.5 1446.7 705.9C1445.5 708.1 1443.5 710.2 1440.9 712.4C1438.9 714.1 1435.3 715.8 1432.1 717.5C1429 719.2 1426 720.9 1422 722.6C1419.1 723.8 1415.2 725 1411.8 726.2C1408.4 727.4 1404.4 728.7 1401.6 729.9C1398.8 731.1 1396 732.3 1394.3 733.5C1393 734.5 1391.1 735.4 1391.1 736.4C1391.1 737.9 1392 739.3 1392.9 740.8C1393.8 742.2 1397.1 743.7 1400.2 745.1C1402.7 746.3 1406.6 747.6 1410.3 748.8C1413.4 749.7 1418 750.7 1420.5 751.7C1423.6 752.9 1426.1 754.1 1427.8 755.3C1430.4 757.2 1431.9 759.2 1433.6 761.1C1435.5 763.3 1437 765.5 1438.7 767.7C1440.4 769.8 1442.3 772 1443.8 774.2C1445.1 776.1 1446.7 778.1 1447.4 780C1448.3 782.4 1448.7 784.9 1449.3 787.3C1449.7 789 1450.2 790.6 1450.5 792.3C1451.1 795.7 1451.6 799.1 1451.9 802.4L1452.5 802.4Z" fill="#b0d2e0"/>
<path d="M1452.5 660.8L1452.6 660.8C1452.7 666.1 1452.7 671.5 1452.8 676.8C1452.8 680.7 1452.8 684.6 1452.9 688.4C1453 691.8 1453.4 695.2 1454 698.6C1454.4 701 1455.5 703.5 1456.9 705.9C1458.1 708.1 1459.9 710.2 1462.7 712.4C1464.5 713.9 1467.8 715.3 1471.4 716.8C1474.4 718 1479.3 719.2 1483 720.4C1487.5 721.9 1490.8 723.3 1496.1 724.8C1499.6 725.8 1505.4 726.7 1509.2 727.7C1513 728.7 1517.4 729.6 1519.4 730.6C1521.3 731.6 1523.4 732.5 1523.4 733.5C1523.4 734.7 1522.5 735.9 1521.6 737.1C1520.4 738.6 1517.7 740 1515 741.5C1512.4 743 1509 744.4 1504.8 745.9C1501.4 747.1 1495.4 748.3 1491.7 749.5C1486.6 751.2 1482.5 752.9 1478.7 754.6C1474.8 756.3 1470.9 758 1468.5 759.7C1465.7 761.6 1463.5 763.5 1461.9 765.5C1460.4 767.4 1459.1 769.4 1458.3 771.3C1457.3 773.7 1456.7 776.1 1456.1 778.6C1455.5 781 1455 783.4 1454.7 785.8C1454.4 788 1454.2 790.1 1454 792.3C1453.6 795.7 1453.2 799.1 1452.9 802.4L1452.5 802.4Z" fill="#5181a8"/>
<path d="M1401.6 729.9H1452.5" fill="none" stroke-width="1" stroke="#5d7f8c"/>
<path d="M1391.7 738.6H1452.5" fill="none" stroke-width="1" stroke="#5d7f8c" stroke-dasharray="2.2 1.6"/>
<path d="M1415.6 750.2H1452.5" fill="none" stroke-width="1" stroke="#5d7f8c"/>
<path d="M1452.5 730.3H1518.7" fill="none" stroke-width="1" stroke="#41688b"/>
<path d="M1452.5 737.1H1521.6" fill="none" stroke-width="1" stroke="#41688b" stroke-dasharray="2.2 1.6"/>
<path d="M1452.5 746.6H1502.5" fill="none" stroke-width="1" stroke="#41688b"/>
<path d="M1630.5 655V795.9" fill="none" stroke-width="2.1"/>
<path d="M1630.5 660.8L1630.4 660.8C1630.4 664.7 1630.2 668.6 1630.1 672.4C1630 675.4 1629.8 678.3 1629.5 681.2C1629.1 685.5 1628.4 689.9 1627.3 694.3C1626.6 697.2 1625.2 700.1 1623.7 703C1622.6 705.2 1621.5 707.3 1619.3 709.5C1617.9 711 1614.5 712.4 1612.1 713.9C1609.6 715.3 1607.4 716.8 1604.8 718.2C1602.1 719.7 1599.7 721.1 1596.1 722.6C1593.1 723.8 1588.8 725 1584.4 726.2C1581 727.2 1576 728.2 1572.8 729.1C1569.6 730.1 1566.7 731.1 1564.8 732.1C1563.4 732.8 1561.5 733.5 1561.5 734.2C1561.5 735 1562.7 735.7 1564.1 736.4C1565.4 737.1 1569.5 737.9 1572.8 738.6C1576.5 739.4 1581.6 740.2 1585.9 741.1C1590.9 742 1595.8 743 1600.4 744C1605 744.9 1610.3 745.9 1613.5 746.9C1617.2 748 1620.6 749.1 1622.2 750.2C1624.8 751.9 1626.5 753.6 1627.3 755.3C1628.5 757.7 1629.2 760.2 1629.5 762.6C1629.9 765.5 1630.2 768.4 1630.2 771.3L1630.5 771.3Z" fill="#b0d2e0"/>
<path d="M1630.5 660.8L1630.7 660.8C1630.7 664.7 1630.7 668.6 1630.8 672.4C1630.8 675.4 1630.9 678.3 1631 681.2C1631.1 685.5 1631.6 689.9 1632.1 694.3C1632.5 697.2 1632.9 700.1 1633.9 703C1634.5 705.2 1636.2 707.3 1638.2 709.5C1639.8 711.2 1642.5 712.9 1645.5 714.6C1648.1 716.1 1652.3 717.5 1655.7 719C1659.1 720.4 1662.2 721.9 1665.8 723.3C1669.5 724.8 1673.2 726.2 1677.5 727.7C1681 728.9 1685.4 730.1 1689.1 731.3C1692.1 732.3 1695.6 733.3 1697.8 734.2C1699.5 735 1701.9 735.7 1701.9 736.4C1701.9 737.3 1699.9 738.2 1697.8 739C1695.9 739.9 1690.3 740.7 1686.2 741.5C1682.1 742.3 1677.3 743.1 1673.1 744C1668.6 744.8 1663.9 745.7 1660 746.6C1655.7 747.6 1651 748.5 1648.4 749.5C1644.4 751 1641.4 752.4 1639.7 753.9C1637.6 755.6 1636.3 757.2 1635.3 758.9C1634.1 761.1 1633.2 763.3 1632.7 765.5C1632 768.4 1631.3 771.3 1631.2 774.2L1630.5 774.2Z" fill="#5181a8"/>
<path d="M1599.3 721.1H1630.5" fill="none" stroke-width="1" stroke="#5d7f8c"/>
<path d="M1568.3 730.6H1630.5" fill="none" stroke-width="1" stroke="#5d7f8c" stroke-dasharray="2.2 1.6"/>
<path d="M1566.2 737.1H1630.5" fill="none" stroke-width="1" stroke="#5d7f8c"/>
<path d="M1630.5 726.2H1673.4" fill="none" stroke-width="1" stroke="#41688b"/>
<path d="M1630.5 733.5H1696" fill="none" stroke-width="1" stroke="#41688b" stroke-dasharray="2.2 1.6"/>
<path d="M1630.5 740H1693.9" fill="none" stroke-width="1" stroke="#41688b"/>
</g>
<rect x="1185.5" y="660.7" width="534.2" height="260.5" fill="none" stroke="#a8a8a8" stroke-width="2"/>
<path d="M1186 671.2h8.4M1186 725.5h8.4M1186 779.8h8.4M1186 834h8.4M1186 888.3h8.4M1274.5 921.2v8.4M1452.6 921.2v8.4M1630.7 921.2v8.4" stroke="#000" stroke-width="1.7" fill="none"/>
<g font-size="23px" text-anchor="middle">
<text x="1274.5" y="955.4">Boreal</text>
<text x="1452.6" y="955.4">Temperate</text>
<text x="1630.7" y="955.4">Tropical</text>
</g>
<g font-size="23px" text-anchor="end">
<text x="56.6" y="680.4">2.5</text>
<text x="56.6" y="734.7">0.0</text>
<text x="56.6" y="789">−2.5</text>
<text x="56.6" y="843.2">−5.0</text>
<text x="56.6" y="897.5">−7.5</text>
</g>
<rect x="1518.8" y="834.2" width="188.8" height="75.2" rx="4.5" fill="#fff" fill-opacity="0.8" stroke="#ccc" stroke-width="1.6"/>
<rect x="1528.2" y="845.4" width="45.8" height="16.2" fill="#b0d2e0" stroke="#6b8794" stroke-width="0.8"/>
<rect x="1528.2" y="879.4" width="45.8" height="16.2" fill="#5181a8" stroke="#4a7397" stroke-width="0.8"/>
<g font-size="22.8px"><text x="1592" y="861.8">Historical</text><text x="1592" y="895.8">Future</text></g>
</svg></body></html>
